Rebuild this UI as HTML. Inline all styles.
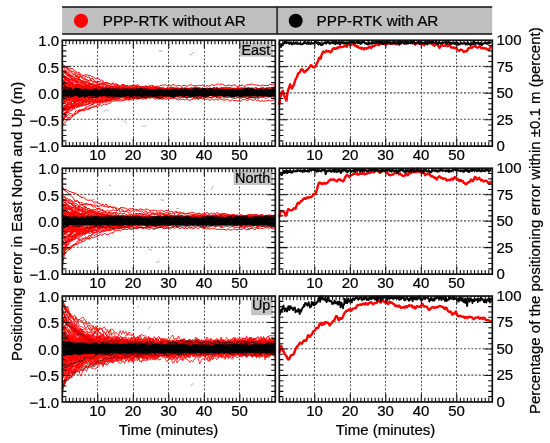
<!DOCTYPE html>
<html><head><meta charset="utf-8"><style>html,body{margin:0;padding:0;background:#fff;width:550px;height:443px;overflow:hidden}</style></head>
<body><svg width="550" height="443" viewBox="0 0 550 443" style="filter:blur(0.3px);display:block;font-family:'Liberation Sans',Arial,Helvetica,sans-serif">
<style>text{stroke:#000;stroke-width:0.22px}</style>
<rect width="550" height="443" fill="#fff"/>
<rect x="62.1" y="7" width="430.1" height="27" fill="#bfbfbf"/>
<path d="M62.1 7H492.2M62.1 34H492.2M277.1 7V34" stroke="#111" stroke-width="1.4" fill="none"/>
<circle cx="81" cy="20.8" r="7.1" fill="#ff0000"/>
<circle cx="295.7" cy="20.8" r="7" fill="#000"/>
<text x="102.8" y="26.2" font-size="15.25" fill="#000">PPP-RTK without AR</text>
<text x="316.6" y="26.2" font-size="15.25" fill="#000">PPP-RTK with AR</text>
<path d="M97.50 39.90V145.80M133.50 39.90V145.80M168.50 39.90V145.80M204.50 39.90V145.80M239.50 39.90V145.80M62.00 66.38H275.00M62.00 92.85H275.00M62.00 119.33H275.00" stroke="#505050" stroke-width="1.05" stroke-dasharray="2 1.7" fill="none"/>
<svg x="62.0" y="39.9" width="213.0" height="105.9" overflow="hidden"><g transform="translate(-62.0 -39.9)">
<path transform="translate(62.00 92.85) scale(1.4200 0.5295)" d="M0 61l1-10 1-4 1-8 1-6 1-4 1-5 1-2 1-3 1-1 1-3 1-2 1-1 1-1 1 0 1-1 1-3 1 1 1-1 1-2 1 0 1-3 1 3 1 0 1 1 1-3 1 2 1-1 1 0 1-2 1 2 1 0 1 1 1 0 1 2 1-1 1 0 1-2 1-2 1 3 1-1 1-1 1 2 1-1 1 1 1 0 1 1 1-2 1 0 1 0 1-1 1 2 1-2 1 0 1 0 1 1 1-1 1-1 1 0 1 1 1 1 1 0 1 1 1 1 1-1 1 1 1 0 1 1 1-1 1-1 1 2 1-2 1 2 1-1 1-2 1 2 1-1 1-3 1 3 1 1 1 1 1-2 1-2 1 1 1 0 1-3 1 3 1-1 1 1 1 1 1-2 1 1 1 0 1 1 1 2 1-1 1-4 1 5 1 1 1-1 1 1 1 0 1-1 1 0 1-2 1 1 1 0 1 0 1 1 1 2 1-2 1 2 1-3 1-1 1 2 1-2 1 0 1-1 1 2 1-2 1 1 1-1 1 4 1-3 1 0 1 1 1 1 1-1 1 0 1-1 1-1 1 1 1 2 1 0 1-2 1-1 1 2 1-2 1 3 1-2 1-1 1 2 1 1 1-1 1-2 1-2 1-1 1 1 1 3 1-2 1 0M0 52l1-3 1-6 1-3 1-4 1-5 1-3 1-4 1-2 1-3 1-1 1-2 1 0 1-2 1-1 1-2 1 2 1-3 1-1 1 0 1 0 1-3 1 2 1-2 1-1 1-1 1-1 1 2 1-3 1-1 1 1 1 0 1 0 1-1 1-1 1-1 1-1 1 1 1-1 1 2 1-2 1 1 1-1 1 1 1 1 1-1 1 0 1-2 1 0 1 2 1 2 1-3 1 0 1 0 1 1 1 1 1 1 1 0 1 1 1-1 1 4 1-2 1 2 1-4 1 0 1 1 1-2 1 1 1-1 1 1 1 3 1 0 1-2 1 3 1-4 1 0 1 1 1 1 1-2 1 3 1-3 1 3 1-3 1-1 1 1 1 1 1-1 1-1 1 1 1 1 1 0 1 0 1-1 1 2 1-1 1 1 1-2 1 1 1 0 1-2 1 0 1 0 1-1 1-1 1 1 1 1 1-2 1 2 1 0 1 0 1 0 1 1 1 1 1-2 1 3 1-1 1 1 1 0 1-2 1-1 1 1 1-1 1 0 1 0 1-1 1 3 1-3 1 2 1 0 1-1 1 1 1 1 1 1 1 0 1 0 1 0 1 1 1 0 1-2 1-1 1 1 1 1 1-1 1-1 1 2 1-1 1 0 1 0 1 1 1 1 1-1M0 -43l1 2 1 4 1 2 1 2 1-1 1 4 1 3 1 0 1 0 1 5 1-2 1 4 1 0 1 2 1 0 1 2 1 2 1-1 1-1 1 1 1-1 1 2 1 0 1 1 1 1 1 3 1 0 1 2 1-3 1 2 1 1 1-2 1 2 1-1 1 1 1 0 1 2 1 1 1 0 1-2 1 1 1-2 1-1 1 2 1 2 1-2 1 0 1 1 1 0 1 1 1 1 1-1 1 0 1-1 1 1 1 0 1 1 1-2 1-1 1 4 1-2 1-1 1 1 1-1 1 1 1 0 1 3 1-3 1-2 1-2 1 1 1 0 1 3 1-3 1 1 1-2 1 0 1 0 1 1 1 1 1 1 1-2 1 2 1-1 1 0 1 1 1 1 1-2 1 2 1 0 1-3 1-2 1 2 1-1 1-1 1 4 1 0 1-1 1 3 1-2 1-2 1 0 1 2 1 0 1-1 1 0 1-1 1-2 1 3 1-2 1 0 1 1 1-1 1 0 1-1 1 0 1 1 1-2 1 3 1-1 1 2 1-1 1 0 1-1 1 1 1-1 1 1 1 0 1 0 1 0 1-3 1 2 1-1 1 2 1 1 1-1 1 1 1 0 1-1 1 0 1 0 1 2 1 0 1-1 1 1 1 0 1 0 1-1 1 2 1-1M0 -10l1 0 1 0 1 2 1-2 1 1 1-1 1 0 1 1 1-2 1 2 1 0 1-2 1 0 1 0 1 0 1-1 1 2 1-1 1-1 1 0 1 1 1-1 1-1 1 2 1-2 1 2 1-1 1-1 1 0 1 0 1 1 1 1 1 0 1-1 1 0 1 1 1-1 1 0 1 0 1 1 1 1 1-2 1-2 1 2 1 0 1-2 1 2 1-1 1 1 1-2 1 0 1 0 1 2 1-2 1 4 1-2 1 0 1 2 1-2 1 1 1-2 1 0 1-1 1 0 1 2 1 0 1-1 1 2 1-3 1 0 1-1 1 1 1-2 1 3 1-1 1-1 1 3 1-4 1 1 1 2 1 0 1-1 1 0 1 2 1-2 1 0 1 0 1 2 1-2 1-1 1 0 1 1 1 1 1-1 1 1 1-1 1 0 1 0 1-1 1 2 1 1 1-2 1 1 1 0 1-2 1 0 1 1 1-1 1-1 1-1 1 2 1-2 1 1 1 1 1 2 1-1 1 0 1-1 1 2 1-1 1-1 1 0 1 3 1 0 1-1 1-1 1-1 1 3 1-1 1-2 1 0 1-1 1 0 1-1 1 2 1 0 1 0 1 1 1 0 1 1 1-2 1 1 1 0 1 0 1 1 1-3 1 0 1 1 1-1 1 1M0 3l1 0 1 1 1 0 1 2 1-3 1 1 1 1 1-1 1 2 1 0 1 0 1-2 1 2 1 0 1 1 1 0 1-2 1 0 1 2 1-2 1 0 1 0 1-1 1 2 1 1 1 0 1 0 1-1 1 0 1 0 1 3 1-1 1 1 1 0 1 1 1-1 1 0 1 1 1 1 1-2 1 0 1-2 1 1 1 1 1 2 1-1 1 1 1 0 1 1 1-3 1 2 1-1 1 2 1-1 1-1 1 1 1 1 1-1 1 0 1-1 1-1 1 2 1-3 1 1 1 1 1 2 1-2 1 2 1-1 1 0 1 2 1-3 1 2 1-1 1 0 1 0 1 0 1 0 1-1 1 1 1 1 1 2 1-2 1 0 1 0 1 1 1 0 1-2 1 3 1 0 1-1 1-1 1-1 1 1 1-1 1 2 1-2 1-1 1 2 1-2 1 2 1 0 1-1 1 4 1-3 1 0 1 2 1-2 1 0 1 2 1-3 1 1 1 1 1 1 1-1 1 0 1 0 1 2 1-1 1-1 1 2 1-1 1 1 1 0 1 1 1 0 1-4 1 1 1 0 1 1 1 0 1-2 1 0 1 2 1 0 1-2 1 3 1-2 1 2 1 1 1-2 1 2 1-1 1 0 1-1 1 0 1 1 1 0 1-2 1 1M0 -35l1 6 1 0 1-1 1 1 1 4 1 2 1-2 1 3 1 2 1-1 1 1 1-4 1 0 1 3 1 1 1 1 1 0 1 0 1 0 1 3 1 1 1 0 1 0 1-1 1 2 1 2 1 0 1 1 1 1 1 0 1-2 1 3 1 0 1 0 1-2 1 1 1-1 1 1 1 2 1-1 1 3 1-3 1 1 1 1 1 1 1-1 1 1 1 0 1 2 1-1 1 2 1-1 1-1 1 2 1-1 1 1 1 0 1 1 1 1 1-2 1 1 1 1 1-1 1 1 1 2 1-3 1 1 1 2 1-2 1 0 1-1 1 0 1 0 1 1 1 0 1 0 1 0 1-1 1 1 1 0 1 0 1 0 1 1 1 0 1 0 1 0 1 1 1-2 1 2 1-1 1 2 1 0 1-1 1 1 1-1 1 1 1 0 1-1 1-2 1 2 1-1 1 1 1 0 1 0 1 2 1-2 1 0 1 1 1-1 1 2 1-2 1 2 1 0 1-2 1 2 1-3 1 2 1 2 1-1 1-3 1 2 1 0 1 1 1 0 1 3 1-3 1-1 1 0 1-2 1 1 1 3 1-4 1-1 1 2 1 1 1 1 1-2 1 1 1 1 1 0 1 2 1-2 1 0 1 3 1-2 1 0 1-2 1 0 1-1 1 2M0 28l1-3 1 0 1-2 1 0 1-2 1-1 1-4 1 1 1 0 1-4 1 0 1-1 1 1 1 0 1-1 1-2 1 1 1 1 1-1 1 0 1-1 1-1 1 0 1 0 1 0 1-3 1 0 1-2 1 2 1-1 1 1 1 0 1-2 1 2 1-2 1 3 1 0 1-1 1-2 1 2 1 0 1 0 1-1 1 1 1-2 1 3 1-2 1-2 1 4 1-2 1 1 1 3 1-2 1-1 1 1 1 1 1-3 1 2 1-3 1 3 1-2 1-1 1 1 1 1 1 0 1-2 1 1 1 0 1-1 1 2 1-2 1 0 1 2 1-3 1-1 1 1 1-1 1 1 1 0 1 0 1-1 1 1 1 2 1-4 1 1 1 3 1-1 1-2 1 0 1-1 1 1 1 1 1 0 1 1 1-3 1 1 1-1 1 1 1-1 1-1 1 1 1 1 1 0 1 1 1-1 1-1 1-1 1 1 1-1 1 1 1 0 1 2 1-1 1 2 1-4 1-1 1 2 1 0 1 0 1 2 1-1 1 1 1 1 1-2 1-2 1-1 1 3 1 0 1 0 1 0 1-1 1 2 1-3 1 2 1 1 1-2 1 0 1-1 1 2 1 1 1-1 1-3 1 3 1-1 1-1 1 0 1 0 1-2 1 2 1 1M0 -23l1-2 1 2 1 2 1 3 1 2 1 1 1 0 1 3 1 1 1 1 1 1 1 3 1 0 1 0 1-1 1 2 1 1 1 2 1-1 1 0 1 2 1-1 1-1 1 0 1 0 1 1 1 0 1 0 1-1 1-1 1 2 1 2 1-3 1 1 1 2 1 1 1 0 1-1 1 2 1-1 1-1 1 2 1 0 1 1 1 0 1 0 1-1 1 1 1 2 1-2 1 1 1 1 1 0 1 0 1-2 1 0 1-1 1-1 1 2 1-1 1 0 1 0 1 0 1 1 1-2 1 0 1 3 1-3 1-2 1 1 1 0 1 1 1-1 1 1 1-4 1 3 1-1 1 1 1 1 1 0 1 0 1 0 1 2 1 0 1 1 1-3 1 1 1 2 1-1 1 0 1 1 1-2 1-2 1 4 1-2 1-1 1 2 1 0 1 0 1 0 1 1 1-1 1 0 1-1 1 1 1-1 1 2 1-1 1 0 1 0 1 1 1 1 1-2 1-3 1 0 1 2 1-1 1 1 1-1 1 0 1 0 1 0 1 2 1 2 1-3 1 0 1-1 1 3 1 0 1-3 1 1 1 1 1-1 1 1 1-1 1 4 1-3 1 1 1-2 1 3 1 0 1-1 1-1 1 1 1 0 1 1 1 0 1 1 1-2 1 0M0 44l1-2 1-3 1-2 1-1 1-5 1-2 1-3 1 0 1-1 1-1 1 0 1-2 1-1 1-3 1-2 1 0 1 1 1-1 1-1 1-2 1 4 1-4 1 1 1-3 1 1 1 0 1-2 1 0 1-3 1-1 1 0 1-2 1 2 1-2 1 0 1 0 1-1 1-3 1 3 1-1 1-1 1 2 1-1 1-3 1 4 1-2 1-2 1 3 1-2 1-2 1 2 1 1 1-1 1-1 1 2 1 0 1-1 1 1 1-1 1 0 1 2 1 0 1 0 1-1 1 1 1-2 1 1 1 0 1 1 1-1 1-2 1 2 1-1 1 1 1-1 1 3 1-4 1 2 1-1 1 1 1 0 1-1 1 1 1 0 1 0 1 2 1 0 1-1 1 1 1 0 1 0 1-3 1 2 1-1 1 0 1 1 1-1 1-1 1 2 1 0 1 1 1-1 1-1 1-1 1-1 1 1 1 2 1 0 1 2 1-1 1 1 1-3 1 0 1 0 1 1 1-2 1 1 1 2 1-1 1 1 1-2 1 1 1-1 1 1 1-2 1 2 1-1 1 1 1-1 1 3 1-2 1 0 1-2 1 0 1 2 1-2 1 2 1-2 1 0 1 1 1-2 1-1 1 2 1 1 1 1 1-1 1 0 1 1 1 0 1 1M0 -11l1 5 1-1 1-1 1 3 1 2 1 1 1 0 1 0 1 1 1 1 1-2 1 1 1 1 1-2 1 3 1-3 1 4 1 0 1-5 1 1 1-2 1-1 1-1 1 3 1 0 1-1 1 0 1 1 1-5 1 2 1 2 1-1 1 3 1 1 1 2 1-2 1-2 1 1 1 1 1 0 1 1 1 2 1-2 1 1 1-1 1 3 1-2 1 2 1-3 1 1 1 2 1-1 1 0 1-1 1 1 1 0 1-2 1 0 1 0 1 0 1 1 1-1 1 1 1 1 1 0 1 0 1 1 1-1 1 1 1-1 1 0 1-1 1 0 1 2 1-2 1-1 1 1 1 1 1 0 1 1 1 0 1 0 1-1 1 2 1 0 1-1 1 0 1-1 1 0 1-1 1 2 1 1 1 0 1-3 1 1 1-1 1 2 1-2 1 0 1 1 1-1 1 1 1-2 1-2 1-1 1 2 1 3 1-2 1 0 1-1 1 2 1-1 1 1 1-1 1-1 1 1 1 0 1 1 1 0 1 0 1 1 1 0 1 1 1-3 1 2 1-1 1 1 1-1 1 1 1-1 1 0 1 2 1 0 1-1 1-3 1 2 1-1 1 2 1-2 1 1 1 1 1-1 1-1 1 1 1-1 1 2 1 0 1-1 1-1 1 0M0 2l1 2 1 2 1-4 1 0 1 2 1 0 1 0 1-1 1 1 1-1 1 0 1-1 1 1 1-2 1 1 1 3 1-2 1 1 1 2 1-2 1-2 1 2 1 1 1-4 1 1 1 1 1 0 1 0 1 1 1 1 1-2 1-2 1-1 1 1 1 1 1-3 1 1 1-1 1 0 1 0 1 0 1 0 1 1 1 0 1-1 1-1 1-1 1-1 1 1 1 1 1-1 1 0 1 0 1 2 1-1 1-2 1 0 1 1 1-3 1 0 1 3 1 1 1 0 1 0 1-1 1 2 1-1 1 1 1 1 1-2 1 1 1 1 1-1 1 0 1 1 1 1 1-3 1 2 1-1 1 1 1-2 1 0 1 1 1-3 1 5 1-3 1-1 1 3 1-3 1-2 1 3 1 1 1-3 1 2 1-2 1 0 1 1 1 3 1-3 1 4 1-1 1 0 1 1 1-1 1-1 1 0 1-1 1-1 1 2 1 1 1-1 1 0 1 1 1-2 1 1 1 1 1-2 1 1 1 1 1-1 1 1 1 1 1-3 1 0 1 1 1 1 1 1 1-1 1-1 1 0 1-2 1 0 1 1 1 2 1-1 1-1 1 0 1 0 1 2 1 0 1 1 1-1 1 0 1-2 1 3 1-1 1 1 1 0 1-3 1 2M0 -40l1 4 1-2 1 4 1 1 1 2 1 2 1-2 1 1 1 2 1 1 1 2 1-1 1 3 1 2 1-1 1 0 1 1 1 1 1 1 1 1 1 1 1 3 1 0 1-1 1 1 1 0 1 1 1 3 1-1 1 2 1-3 1 2 1 1 1 3 1-2 1 2 1 1 1 0 1 0 1 0 1-1 1 1 1 0 1-1 1 2 1-2 1 2 1 0 1-2 1 0 1 2 1-2 1 0 1 3 1-3 1 3 1-2 1 2 1 1 1 0 1-1 1 2 1 2 1 0 1-1 1 0 1 2 1 0 1 0 1 2 1-2 1 2 1-1 1 0 1 2 1-3 1 3 1-2 1 2 1-2 1 1 1 1 1-2 1 2 1-1 1-1 1 1 1 0 1-1 1 1 1-1 1 0 1 0 1 0 1 0 1 1 1 0 1 0 1 0 1-2 1 2 1-1 1-1 1 2 1 0 1-2 1 0 1-1 1 1 1-1 1 1 1 3 1-3 1 1 1 0 1 1 1-2 1 1 1-1 1-1 1 2 1-2 1 0 1 1 1 0 1 1 1-1 1 0 1-1 1 1 1-2 1 1 1-2 1 1 1 0 1 0 1 1 1 1 1 0 1-1 1-1 1 0 1-1 1 2 1-1 1-1 1 1 1 2 1-1 1-2M0 -33l1 0 1 4 1 3 1 2 1 5 1 1 1 0 1 4 1-1 1 3 1-1 1 1 1-1 1 2 1 1 1 1 1 2 1 1 1 0 1 2 1 1 1 1 1-1 1 0 1 0 1 0 1 0 1 1 1-1 1 2 1 0 1-2 1 0 1 2 1-2 1 2 1-2 1 1 1 0 1 2 1 0 1 0 1 1 1 1 1-1 1 0 1 1 1 1 1-1 1 0 1-2 1 1 1-2 1 0 1 2 1 1 1-1 1 1 1-2 1 2 1-1 1 0 1 0 1 1 1 0 1 0 1-2 1-1 1 0 1 0 1 1 1 0 1-2 1 0 1-2 1-2 1 2 1 1 1 1 1-1 1 0 1 1 1 1 1 0 1-3 1 2 1 2 1-3 1 3 1-1 1-1 1 1 1 3 1-1 1 0 1-1 1-1 1 2 1 0 1 0 1-1 1 2 1-2 1-2 1 2 1 0 1 0 1 0 1 0 1 2 1-2 1 1 1 0 1 0 1-1 1 4 1-2 1 1 1 0 1-1 1-1 1 0 1 1 1-2 1 0 1 1 1-2 1 0 1 1 1 0 1-1 1 2 1 1 1-2 1-1 1 1 1 0 1 0 1-1 1 1 1 1 1-2 1 1 1 0 1 1 1 0 1 0 1-1 1-1 1 0M0 12l1-1 1 0 1 1 1-3 1 1 1 1 1-2 1-2 1 2 1-2 1-3 1 2 1 1 1-2 1 2 1-2 1-1 1 5 1-3 1-1 1 0 1-1 1 1 1-2 1 1 1 1 1 0 1 1 1 0 1-3 1 1 1-1 1 0 1 1 1 0 1-1 1 0 1 0 1 2 1-1 1 1 1 2 1-2 1-3 1 3 1 1 1-3 1 4 1-3 1 0 1 1 1 1 1-3 1-1 1 3 1-1 1-1 1-1 1 2 1-1 1 2 1 0 1-1 1-1 1 1 1 1 1-1 1 0 1 0 1 1 1-2 1 2 1-1 1 0 1 0 1 1 1 0 1-1 1 0 1 1 1 0 1-1 1 0 1 1 1 0 1 1 1-1 1-2 1 1 1-1 1 1 1-1 1 0 1-1 1-1 1 0 1 1 1-1 1 0 1 1 1-1 1-1 1 1 1 0 1 1 1 1 1 0 1-1 1 0 1-1 1 2 1 0 1 2 1-3 1-2 1 3 1 1 1-2 1-1 1 1 1 0 1-2 1 2 1 2 1-2 1-1 1-1 1 2 1 0 1 1 1 0 1-1 1 3 1-3 1 0 1 1 1-2 1 2 1 2 1-3 1 1 1 0 1-1 1 1 1-1 1 2 1 0 1-2 1 3 1 0M0 1l1 1 1-1 1 0 1-2 1-1 1 0 1-3 1-1 1 3 1-2 1 0 1-1 1-2 1 1 1 0 1-1 1-1 1 2 1-2 1 0 1 2 1 0 1 0 1-1 1 2 1-2 1-2 1 2 1 1 1-3 1 2 1 0 1 1 1-1 1 0 1-1 1 1 1 3 1-2 1 1 1 0 1-1 1 0 1 1 1 1 1-1 1 0 1 0 1 1 1-1 1-2 1 0 1-3 1 3 1 0 1 1 1 0 1-2 1 2 1-1 1 0 1-1 1 0 1 1 1-1 1 1 1 0 1 0 1-1 1 0 1 1 1 0 1 1 1-2 1 1 1-1 1 0 1-1 1 0 1 2 1-1 1 0 1 1 1 0 1 0 1 0 1-3 1 4 1-2 1 2 1-1 1-1 1 0 1 0 1-1 1 2 1-2 1 2 1-1 1 2 1-1 1 1 1 0 1-3 1 2 1 1 1 1 1 0 1 0 1-1 1 1 1 0 1-1 1 1 1 0 1-1 1 1 1 1 1 0 1 1 1-3 1 1 1 0 1 2 1 0 1-2 1 0 1 0 1 1 1-1 1 0 1 1 1-1 1 1 1 0 1-1 1-1 1 0 1 1 1 0 1-3 1 3 1 0 1 0 1-2 1 1 1 1 1 0 1-1 1 2M0 -34l1 0 1 2 1 6 1 2 1 0 1 4 1 4 1 0 1 2 1 1 1 0 1 3 1 0 1 4 1-1 1-1 1 0 1 0 1 1 1 1 1 2 1-1 1 2 1 0 1 1 1-3 1 2 1 1 1 0 1 0 1-4 1 2 1-1 1 2 1 0 1 2 1-3 1 2 1 0 1 1 1-2 1 1 1-2 1 1 1 2 1-2 1 3 1 0 1-1 1-2 1 2 1 0 1 0 1-1 1 1 1-3 1 1 1 0 1-1 1 1 1-2 1 0 1 0 1 2 1 2 1-3 1 0 1-1 1-1 1 1 1 2 1-1 1-1 1 1 1-1 1 2 1-1 1 1 1 3 1-1 1-1 1-1 1 2 1-1 1 0 1 0 1 1 1 0 1-1 1 1 1 1 1-2 1 2 1-1 1 0 1 1 1 0 1-2 1 2 1 2 1 0 1-2 1 2 1-2 1 1 1-1 1 1 1-2 1 3 1-2 1-1 1 0 1 0 1 0 1 0 1 1 1-1 1 1 1 0 1-1 1 0 1 1 1 1 1-1 1 2 1-1 1 2 1-3 1 0 1 2 1-3 1 0 1 1 1 0 1 0 1 0 1 1 1-1 1 1 1 1 1-2 1 0 1-1 1 2 1 0 1-1 1-1 1 3 1-1 1-2M0 -4l1 1 1 0 1 2 1-1 1 1 1 0 1 1 1-4 1 4 1-1 1-1 1 1 1 1 1-2 1 3 1 2 1-1 1 0 1 2 1-2 1-1 1 2 1 0 1 0 1-2 1 3 1 0 1 1 1-2 1 0 1 0 1 1 1-2 1 2 1 0 1 0 1 1 1-2 1 1 1 0 1-1 1-1 1 1 1 0 1-2 1 2 1-2 1 2 1 0 1 0 1 2 1-1 1-1 1 0 1 0 1 1 1-1 1 0 1-2 1 1 1-1 1 0 1-1 1 1 1-1 1-3 1 3 1 1 1-2 1 1 1 0 1 0 1-1 1 3 1-2 1 3 1 0 1-3 1 3 1-3 1 1 1-1 1 0 1 3 1 1 1-2 1 1 1-1 1-1 1 0 1 1 1-3 1 0 1 1 1-1 1 0 1 1 1 2 1-1 1-2 1 2 1-2 1 2 1 2 1-1 1-1 1-2 1 1 1 1 1-1 1 1 1 0 1 0 1-1 1 2 1-1 1 1 1 1 1-2 1 0 1-1 1 1 1-2 1 3 1-3 1 0 1 4 1 1 1-1 1-2 1 2 1-1 1 0 1 0 1-1 1 0 1 0 1 1 1-1 1 0 1 0 1-1 1 0 1 0 1-1 1-1 1 2 1 1 1-3 1 1M0 -16l1-3 1 2 1-1 1 0 1 4 1 0 1-3 1 4 1-2 1 1 1 0 1 1 1-1 1 0 1 3 1-1 1 1 1 2 1 0 1 0 1 1 1-1 1 3 1-3 1 1 1 0 1 1 1-2 1 3 1-2 1 4 1-2 1 0 1 2 1 0 1-2 1 2 1 1 1-3 1 0 1 1 1 1 1 0 1 2 1 2 1 1 1-2 1 1 1-1 1 0 1 0 1 2 1-2 1 2 1-1 1-1 1 1 1 3 1-3 1-1 1 2 1 0 1-2 1 2 1-1 1-2 1 0 1 2 1 0 1 1 1-3 1 2 1 2 1 0 1-2 1-1 1 1 1 0 1 3 1-3 1 1 1 0 1-2 1 0 1 0 1 0 1 0 1-3 1 4 1-1 1 1 1 2 1-3 1 1 1 2 1-3 1-1 1 1 1-2 1 3 1 1 1-1 1 0 1-1 1 2 1-1 1 2 1-1 1-2 1 2 1 1 1-2 1 2 1 1 1-1 1 1 1 1 1-2 1-1 1 0 1 0 1-1 1 1 1 1 1 1 1 0 1-3 1 1 1 3 1-3 1 0 1 0 1-2 1 2 1 0 1-2 1 0 1 1 1 1 1 0 1-1 1 2 1-1 1 3 1-2 1-1 1 1 1 0 1-3 1 2M0 -11l1 0 1 2 1 0 1 1 1 1 1 3 1-5 1 3 1 0 1 1 1 0 1-1 1 2 1-1 1 3 1 0 1 0 1-1 1-1 1 4 1-3 1-2 1 4 1 0 1 1 1 1 1 0 1-2 1 3 1-4 1 3 1-3 1 2 1 1 1-2 1-2 1 2 1-1 1 0 1-1 1 0 1 3 1-1 1 0 1 1 1 0 1-2 1 0 1 0 1 1 1 2 1-2 1 0 1 0 1 0 1 2 1 1 1-1 1 0 1-1 1 0 1 1 1-2 1 1 1 0 1-1 1 0 1 1 1 2 1-3 1 3 1 0 1-3 1-1 1 0 1 3 1-3 1 3 1 2 1-1 1 2 1-4 1 2 1-2 1 1 1 0 1 2 1-1 1-1 1 2 1-1 1-3 1 2 1-1 1 3 1-1 1 0 1 0 1-2 1 4 1-3 1 1 1 0 1-2 1-1 1 2 1 0 1-2 1 0 1 1 1-1 1 1 1 2 1-2 1 0 1 1 1 0 1 1 1-1 1 0 1 1 1 0 1 1 1-2 1 1 1 0 1-1 1-1 1 1 1 1 1-3 1-1 1 1 1 1 1-1 1 3 1-3 1-1 1 2 1-1 1 0 1 0 1 1 1 3 1-3 1 0 1-2 1 0 1 0 1 0M0 -54l1 1 1 2 1 2 1 1 1 2 1 0 1 0 1 2 1 2 1 2 1 2 1-1 1 4 1 1 1 1 1 2 1 0 1 2 1-1 1 4 1-1 1 1 1 4 1 3 1 0 1 0 1 3 1 0 1 0 1 1 1 0 1 2 1-1 1 1 1 2 1 1 1 2 1 0 1 0 1 3 1-1 1 1 1 2 1-4 1 0 1 3 1 0 1 1 1-2 1-1 1 0 1 2 1 0 1 1 1 0 1 0 1 2 1 1 1-2 1 1 1-3 1 2 1-3 1 1 1 2 1 0 1-3 1 1 1 0 1 0 1 3 1-2 1 1 1 0 1-1 1 1 1 1 1-1 1-2 1 3 1 0 1-1 1 1 1 0 1-1 1 0 1 1 1-1 1 0 1 3 1-1 1-1 1 2 1 0 1 0 1-2 1 2 1-1 1 0 1 0 1 0 1 0 1-1 1 2 1-1 1 0 1 1 1-4 1 2 1 0 1 0 1 2 1 0 1-1 1 0 1-1 1 0 1-1 1 2 1 0 1 0 1 0 1 0 1 3 1-2 1 0 1 0 1 3 1-2 1 1 1 0 1-1 1 1 1-3 1 1 1 0 1 1 1 0 1-3 1 3 1 1 1-1 1 0 1 1 1-1 1 0 1 1 1-1 1 0 1 1M0 4l1 1 1-1 1-2 1 0 1 1 1 0 1 0 1 0 1 3 1-1 1 0 1 2 1 0 1-1 1 0 1 1 1 1 1-1 1-3 1 3 1-1 1 0 1-4 1 4 1-3 1 2 1 0 1-1 1 2 1-2 1 1 1-3 1 0 1 1 1 1 1-1 1-1 1 2 1-1 1 0 1-1 1 0 1 0 1 1 1-1 1-2 1 2 1 1 1-3 1 4 1-1 1 0 1 2 1-1 1 0 1-2 1 2 1 0 1 1 1 1 1-2 1 2 1 0 1-2 1-1 1-1 1 1 1 1 1 1 1-3 1 1 1 1 1 0 1-1 1 3 1-3 1-2 1 1 1 0 1-1 1 0 1 1 1 0 1 1 1-1 1-1 1 1 1 1 1-2 1 0 1 0 1-1 1 1 1 0 1 1 1-1 1 3 1-3 1 1 1 1 1-2 1 0 1 2 1-3 1 1 1 1 1-1 1-2 1 2 1 1 1-1 1-1 1 2 1 2 1-2 1 1 1 0 1 0 1 1 1-2 1-1 1 2 1 0 1-1 1 0 1 1 1 0 1-2 1 1 1-1 1 0 1 1 1-2 1 3 1-1 1-1 1 1 1-2 1 0 1 0 1 0 1 0 1 2 1 2 1-1 1 0 1 0 1 0 1 1 1-1M0 3l1 0 1 2 1-3 1 2 1-3 1 0 1 3 1 0 1-2 1 2 1 1 1-1 1-2 1-3 1 2 1 1 1 0 1-1 1 0 1 0 1 2 1 0 1 2 1 2 1-2 1-3 1 3 1 0 1 0 1-1 1-1 1-1 1 0 1 0 1-1 1 0 1 0 1 1 1-3 1 1 1 0 1-1 1 2 1 2 1-2 1 0 1 2 1-3 1-1 1 1 1-1 1-1 1 3 1-2 1 2 1-3 1-1 1 1 1 4 1-4 1 1 1 2 1-2 1-1 1-2 1 2 1-1 1 1 1 1 1 2 1-3 1 3 1 0 1 0 1-2 1 0 1-1 1 3 1 0 1-2 1 0 1 1 1-1 1-3 1 3 1-2 1 0 1 1 1-1 1 2 1 0 1 0 1 0 1 0 1 0 1 2 1-2 1 2 1-1 1 0 1-3 1 2 1-1 1 2 1-2 1 5 1-4 1 3 1-1 1-1 1 1 1-1 1-1 1 0 1-1 1-1 1 1 1 0 1 1 1-1 1 0 1 1 1-2 1 3 1-2 1 1 1-1 1 1 1-1 1 1 1 1 1 1 1 0 1-3 1 4 1-3 1 0 1 2 1 0 1-1 1-1 1 0 1 2 1-1 1 0 1 0 1 0 1-1 1 2 1-5M0 -17l1 0 1 2 1 0 1-1 1 2 1 2 1 1 1 0 1 1 1-1 1 1 1 3 1-4 1 2 1 0 1-2 1 0 1 0 1 0 1 1 1 1 1 1 1 0 1 2 1 0 1-1 1 2 1-2 1 3 1 0 1 0 1 2 1 0 1-1 1 0 1-1 1 3 1-2 1 2 1 0 1 0 1-1 1 1 1 2 1-4 1 3 1-2 1 1 1 0 1 1 1 1 1-1 1-1 1 3 1-1 1 0 1-1 1-4 1 4 1-1 1 2 1 1 1-2 1 1 1 0 1 0 1-1 1 2 1-3 1 2 1-1 1 0 1 0 1-2 1 2 1-1 1 2 1 0 1-2 1 2 1 1 1-2 1-2 1 0 1 2 1 1 1 0 1 3 1-3 1 2 1 2 1-2 1-1 1 3 1 1 1 0 1-2 1 1 1 0 1-1 1-1 1 1 1-1 1 2 1-1 1-1 1 2 1-2 1 2 1-2 1 0 1 0 1-2 1 3 1-1 1-1 1-1 1 1 1-1 1 0 1 2 1-1 1-1 1 2 1-2 1 3 1-1 1 2 1-1 1-1 1 0 1 1 1 0 1 0 1-1 1-1 1-1 1 1 1 4 1-5 1 3 1 0 1 1 1-2 1 2 1-1 1-2 1 0 1 0 1-1M0 48l1 0 1-4 1 0 1 4 1-1 1-3 1-1 1 0 1-4 1 0 1-3 1-1 1 0 1-4 1 1 1-1 1-2 1 3 1-4 1 2 1-4 1 2 1-2 1-1 1 2 1-3 1-1 1 2 1-3 1-1 1 1 1-1 1-2 1 1 1-4 1-1 1 1 1-2 1 0 1-3 1 2 1-1 1 3 1-4 1 2 1 0 1 0 1 0 1 0 1-2 1-1 1 1 1-1 1-1 1 1 1-1 1-1 1 1 1 0 1 0 1-1 1-2 1 4 1-4 1 1 1-2 1 0 1-1 1 0 1 1 1 1 1 1 1-3 1-2 1 0 1 2 1-2 1-1 1 2 1 1 1-3 1 2 1 0 1-1 1 3 1-2 1 0 1 0 1-1 1-2 1 0 1-1 1 0 1 2 1-1 1 1 1-2 1 0 1 1 1-1 1 0 1-1 1 2 1-2 1-1 1 4 1-2 1 2 1-2 1 2 1-2 1 0 1-1 1 3 1-2 1-2 1 0 1 0 1 0 1 1 1 0 1-1 1 2 1 0 1-1 1 0 1 0 1-1 1 2 1 0 1 0 1 1 1-3 1 1 1 0 1-3 1-1 1 2 1 0 1 0 1 0 1 0 1 0 1 0 1 0 1-1 1-1 1 2 1 0 1-1M0 0l1-1 1 1 1 0 1 1 1 3 1-2 1-1 1 0 1 2 1 1 1 1 1-3 1 2 1-3 1 2 1-3 1 2 1 0 1 0 1-1 1-1 1 1 1-1 1 0 1 0 1 1 1 3 1-2 1 0 1 2 1-2 1 0 1 0 1-1 1 3 1-2 1 0 1-1 1-1 1 1 1 0 1-2 1 1 1 2 1-1 1-2 1 0 1 0 1 1 1-1 1-1 1-1 1 4 1-4 1 0 1 0 1 1 1 1 1-2 1-1 1 0 1 3 1-4 1 2 1 0 1-1 1 1 1-1 1-1 1 0 1 1 1 0 1-1 1 0 1-1 1 2 1-1 1-1 1 2 1 0 1-1 1 2 1 0 1-2 1 1 1 0 1 1 1 0 1 1 1-1 1 2 1-2 1-1 1 0 1 2 1 0 1-2 1 0 1 1 1-1 1 1 1 1 1 0 1 2 1-3 1 1 1 1 1 1 1-1 1-1 1 0 1 2 1-3 1 2 1 0 1 0 1 0 1-1 1 4 1-4 1 3 1-1 1-3 1 2 1-1 1-1 1 1 1 0 1-1 1 1 1-1 1 5 1-3 1 0 1-1 1 1 1-1 1 0 1 1 1 1 1-3 1 0 1 2 1 2 1-1 1-2 1-1 1 3 1 1 1 1M0 -34l1 1 1 3 1 2 1 2 1 0 1 2 1 0 1 0 1 0 1 1 1 4 1 1 1-2 1 0 1 2 1 2 1 0 1 3 1 2 1-1 1 1 1 2 1 0 1 2 1-3 1-2 1 3 1-2 1 2 1 0 1 1 1 2 1-2 1-1 1 2 1-1 1 1 1 0 1 1 1 0 1 2 1-2 1 0 1 1 1-4 1 2 1 1 1-1 1 2 1 0 1 0 1 0 1-1 1 0 1 3 1-1 1 1 1-1 1 0 1 0 1 0 1 2 1 2 1-1 1-1 1 1 1 1 1-1 1 1 1 2 1-5 1 4 1-1 1 0 1-1 1 2 1-3 1 3 1-2 1 1 1 0 1 2 1-2 1 1 1-2 1 1 1 2 1-3 1 1 1 1 1-4 1 4 1-1 1 2 1 1 1-1 1 0 1 2 1-1 1-1 1 2 1 2 1-2 1 0 1-3 1 1 1 1 1-2 1 1 1 0 1-4 1 3 1 0 1-1 1-1 1 0 1 2 1 0 1-1 1-2 1 4 1-1 1 0 1 2 1-2 1 1 1-1 1 1 1 0 1 0 1 1 1-2 1 1 1 0 1-1 1 0 1 2 1-1 1 0 1 1 1 1 1-1 1-2 1 2 1 0 1 1 1-2 1 1 1-1 1 0M0 9l1 0 1-1 1-1 1 0 1-2 1 1 1 1 1-1 1 4 1-4 1-1 1 0 1-1 1-2 1 1 1 1 1-1 1-2 1 3 1 0 1-1 1-2 1 0 1-2 1 1 1 0 1 1 1 0 1-2 1 1 1 0 1 2 1-1 1 0 1 1 1 2 1-4 1 1 1-1 1 1 1-1 1 3 1-2 1 2 1-2 1 0 1-1 1 0 1-1 1 2 1-1 1-1 1 0 1 3 1-4 1 1 1 2 1 2 1-4 1 2 1-2 1 0 1 1 1 2 1-1 1-1 1-2 1 3 1 2 1 0 1-3 1 2 1 0 1-4 1 2 1 0 1 0 1-3 1 1 1 0 1 2 1 0 1 0 1-2 1 1 1 1 1 0 1 2 1 1 1-1 1 0 1 0 1 0 1 0 1 0 1-1 1-1 1 0 1 1 1 0 1 0 1-1 1-1 1 1 1-2 1 1 1-1 1 1 1 1 1 1 1-3 1 4 1-1 1-1 1 0 1 2 1-2 1-1 1 2 1 2 1-3 1 2 1-1 1-3 1 4 1-2 1 2 1-3 1 1 1 1 1-3 1 3 1 0 1 0 1-1 1 0 1 0 1 1 1 0 1 2 1-1 1-1 1 1 1-2 1 2 1-2 1 0 1-1 1 1 1 2M0 -12l1 1 1-2 1 0 1 1 1 2 1 2 1-3 1 1 1-1 1-1 1 5 1-1 1-3 1 2 1-2 1 2 1 1 1 2 1 2 1-2 1 0 1 1 1 2 1-2 1 1 1 1 1 1 1-4 1 3 1 1 1 0 1-2 1 0 1-2 1 6 1-1 1-1 1-2 1 1 1-1 1 0 1 0 1 0 1 2 1-1 1 2 1 1 1-1 1 0 1-2 1 2 1-3 1 1 1 1 1 1 1-2 1-1 1 1 1-1 1 0 1 0 1-1 1 2 1-1 1 0 1-2 1 2 1-1 1 1 1 0 1 1 1 1 1-2 1-2 1-1 1 0 1 1 1 2 1-1 1 1 1-1 1 1 1 1 1 0 1 0 1 2 1-2 1 2 1 0 1-1 1 1 1 0 1 1 1-1 1 1 1-2 1-1 1 2 1-2 1-1 1 0 1 1 1 1 1 0 1-1 1 1 1 0 1-1 1 0 1 0 1-1 1 1 1-1 1 0 1 0 1-2 1 3 1 3 1-3 1 1 1-3 1 2 1 0 1 0 1 0 1 1 1-1 1 1 1 0 1 0 1 1 1-1 1-2 1 4 1 1 1-2 1-1 1-1 1 1 1 0 1 1 1-1 1 2 1-3 1 1 1 0 1-1 1 1 1-1 1 4M0 11l1 1 1-2 1-3 1 1 1-1 1-3 1-1 1 1 1-1 1-1 1-1 1 0 1-1 1 0 1 1 1-4 1 1 1 1 1 0 1-2 1 1 1-2 1 0 1 0 1 1 1 1 1 0 1-1 1 2 1 0 1-2 1 3 1-2 1-1 1 0 1-2 1-1 1 2 1 1 1-3 1 1 1-2 1 2 1 1 1 0 1 0 1-1 1 1 1-1 1 3 1-3 1 0 1 1 1 1 1-3 1 1 1 0 1-2 1 2 1 0 1 0 1 0 1 1 1-1 1 1 1 1 1-2 1 0 1-1 1 0 1 1 1 0 1-1 1 0 1 1 1 1 1-3 1 3 1 0 1 1 1-2 1 2 1-2 1 0 1 0 1 3 1-2 1-1 1 1 1 0 1-2 1 1 1-4 1 2 1 1 1 1 1-1 1 2 1-2 1 2 1 1 1 0 1 0 1 1 1-3 1 0 1 1 1-2 1 1 1 1 1-1 1 1 1-1 1 1 1 0 1 1 1 2 1-4 1 3 1-1 1-2 1 2 1 0 1-3 1 2 1 0 1 0 1 1 1-2 1 2 1 0 1-2 1 0 1 1 1 0 1-1 1 0 1 0 1 0 1-1 1 0 1 2 1 0 1-2 1 0 1 3 1-1 1-1 1 1 1-1M0 -51l1 2 1-1 1 3 1 1 1 4 1-1 1 4 1-2 1 4 1-1 1 5 1-3 1 4 1 1 1-1 1-2 1 0 1 0 1 2 1-1 1 3 1 0 1 2 1 1 1-1 1 2 1 2 1 0 1 2 1 4 1-2 1 1 1 1 1 2 1-1 1-2 1 5 1-1 1 0 1 2 1 2 1 1 1-3 1 4 1-1 1 0 1 2 1-2 1 2 1 0 1-1 1-2 1 2 1 1 1-1 1 2 1-1 1 0 1 2 1-3 1 2 1 0 1 1 1-1 1 3 1-2 1 0 1 1 1 0 1 3 1 0 1-1 1 0 1 0 1 0 1 2 1 1 1-2 1 0 1-1 1 1 1-1 1-2 1 3 1 1 1-1 1 0 1-1 1-2 1 0 1 2 1 1 1 0 1-1 1 0 1 1 1-2 1 1 1 2 1-1 1 0 1 2 1 0 1-1 1 0 1 1 1-1 1 0 1 1 1 0 1-1 1 2 1 0 1-4 1 4 1-2 1 1 1 1 1-2 1 4 1-2 1-1 1 1 1-1 1 0 1 1 1 0 1 0 1 2 1-1 1-3 1 1 1 1 1 0 1 0 1 0 1-2 1 1 1 1 1 0 1 2 1-1 1-1 1 2 1-3 1 1 1-1 1 2 1 0 1 2M0 26l1 1 1-1 1 0 1-2 1 2 1-2 1 1 1 0 1-2 1-2 1 0 1 1 1-2 1-2 1-3 1 0 1 0 1 1 1 1 1-1 1 0 1 0 1 0 1-1 1 1 1-2 1 1 1 0 1-1 1 0 1-1 1 0 1-1 1 0 1 0 1-3 1 2 1-2 1 1 1 0 1-3 1 0 1-1 1 0 1 1 1-1 1 1 1-1 1 1 1-1 1 2 1-1 1 0 1-1 1 3 1 2 1-3 1 1 1 0 1 0 1-2 1 2 1-2 1-1 1-2 1 2 1 1 1-4 1 3 1 0 1-1 1-1 1 1 1-2 1-1 1 3 1-2 1 2 1 0 1-1 1-2 1 2 1 1 1 0 1-2 1 0 1 3 1 0 1-2 1-3 1 2 1 0 1-1 1 1 1 1 1-2 1 0 1 0 1-1 1 2 1 1 1-2 1 1 1 0 1 1 1-1 1 0 1 0 1-1 1 0 1-2 1 1 1 1 1-2 1 1 1 1 1-1 1 1 1-1 1-1 1 2 1-1 1-2 1 0 1 3 1 1 1-1 1 1 1-2 1 1 1 0 1 0 1 0 1 1 1 2 1-1 1 1 1 0 1-1 1 0 1 0 1 1 1 1 1-2 1 0 1 1 1 0 1-1 1-1 1 1M0 29l1 0 1-1 1-2 1-5 1 2 1-4 1-2 1-2 1 0 1 0 1-3 1 0 1-1 1 0 1-1 1-2 1 4 1-3 1 1 1-3 1-2 1-1 1 0 1 1 1-2 1-2 1 1 1-1 1 0 1 0 1 1 1-3 1 2 1-3 1 0 1 1 1-1 1-3 1 0 1 1 1 0 1 0 1 2 1 0 1 1 1-1 1 1 1 0 1-1 1 0 1 0 1 0 1 2 1 1 1-1 1 1 1-1 1 0 1 0 1-2 1 0 1 1 1 0 1-2 1 0 1-1 1 1 1 2 1 0 1-1 1 0 1 0 1 1 1-1 1 1 1 0 1-1 1 1 1-3 1 1 1 1 1 1 1 0 1 0 1-2 1 3 1-2 1 2 1-2 1 2 1-1 1-2 1 2 1-3 1 0 1 0 1 0 1-1 1 0 1-1 1 2 1 0 1-1 1 1 1 0 1 0 1-1 1 1 1 0 1 1 1 0 1-1 1 0 1 1 1 0 1 0 1 1 1-1 1 2 1-1 1 0 1-2 1 1 1-1 1 2 1-2 1 2 1-1 1 2 1-1 1 0 1-3 1 3 1 1 1-3 1 3 1-2 1-2 1 2 1 0 1 1 1 0 1-2 1 3 1-3 1 2 1 0 1-2 1 2 1 0M0 31l1-1 1-3 1 4 1-3 1-1 1-1 1-2 1 2 1-4 1-1 1 0 1-3 1-1 1 1 1-1 1 0 1-1 1 0 1-4 1 1 1 2 1-1 1 1 1-1 1 0 1 1 1-2 1-1 1-2 1 0 1-1 1-2 1 2 1-1 1 2 1-4 1 3 1 0 1-1 1 0 1 1 1-2 1-1 1 0 1 0 1 0 1-1 1 1 1 0 1-2 1 1 1 0 1 0 1-2 1 1 1 0 1 1 1-1 1 2 1-2 1 2 1 0 1 0 1-3 1 2 1 0 1 0 1-2 1 2 1 0 1 1 1-1 1-1 1 4 1-3 1 2 1-4 1 3 1 0 1 1 1-4 1 1 1-1 1-1 1 3 1-2 1-1 1 1 1 0 1 0 1 0 1-1 1-1 1 1 1-2 1 4 1 0 1 0 1-1 1 3 1-2 1 0 1-1 1-1 1-1 1 2 1-2 1 1 1 1 1 1 1-2 1-2 1 4 1 0 1-1 1-2 1 2 1 0 1 1 1 0 1-1 1 0 1 2 1-3 1 2 1 1 1-2 1 2 1-1 1-1 1-1 1 2 1-1 1 1 1-1 1-1 1 0 1 1 1-3 1 2 1-1 1 1 1 2 1-1 1 1 1 0 1-3 1 2 1-1 1 1M0 -3l1 1 1-4 1 0 1 1 1 2 1-2 1 0 1 3 1 0 1 1 1 0 1 0 1-2 1 0 1 1 1-1 1 2 1 0 1-2 1 1 1 0 1 1 1 0 1 1 1-1 1 1 1 0 1 0 1 2 1-2 1-1 1-1 1 0 1 2 1-1 1-2 1 3 1-1 1 3 1-4 1 1 1-2 1-1 1 0 1 2 1 1 1-1 1 0 1 1 1-2 1-1 1 3 1-1 1 1 1-1 1-1 1 1 1 0 1-1 1 3 1-2 1-2 1 2 1 0 1-1 1 0 1 2 1-1 1-1 1 0 1 3 1-2 1 1 1-2 1 3 1-2 1 1 1-2 1-1 1 2 1-1 1 1 1 0 1 0 1 1 1 0 1 0 1 0 1 1 1-1 1-2 1 1 1-1 1-2 1 4 1-1 1-1 1 0 1 2 1 0 1 1 1-3 1-1 1 3 1-2 1 2 1-1 1 0 1-1 1 5 1-3 1 0 1-2 1 1 1 1 1 1 1 2 1-4 1 2 1 0 1 0 1-2 1 3 1-1 1 2 1-2 1 2 1-1 1 1 1-1 1 0 1-1 1-1 1-1 1 2 1 2 1-1 1 0 1 0 1-3 1 0 1-1 1 4 1-4 1 1 1 1 1-1 1 1 1 2 1-2M0 -21l1 2 1 1 1 1 1 1 1 0 1-1 1 2 1-2 1 4 1 0 1-1 1 2 1 0 1 4 1 1 1 0 1 1 1 1 1-1 1 0 1 2 1-1 1 1 1 1 1-1 1-2 1 1 1 0 1 1 1-1 1-2 1-1 1 1 1-1 1-1 1 0 1 1 1 3 1 0 1-2 1 4 1-4 1 3 1 1 1-2 1 3 1-4 1 1 1 0 1 0 1 0 1-1 1 1 1 0 1-1 1 1 1-2 1 3 1 1 1 2 1-2 1 1 1 1 1 1 1 1 1-2 1 2 1-2 1 1 1-2 1-1 1-1 1 1 1 1 1 0 1 0 1-1 1 2 1 0 1 1 1 1 1-2 1 0 1-1 1-1 1 3 1 0 1-1 1-1 1 1 1-1 1 0 1 2 1-3 1 1 1 1 1-1 1-1 1 2 1 0 1 0 1-2 1 0 1 1 1 1 1 0 1 0 1-3 1 3 1 0 1-1 1 1 1-1 1-1 1 2 1-2 1 1 1 0 1-1 1 0 1 1 1 0 1 0 1 0 1 0 1 0 1-2 1 0 1 0 1 0 1 0 1-1 1 0 1 0 1 1 1 1 1 0 1-1 1-1 1 3 1 0 1-1 1-1 1 0 1 1 1 2 1-2 1 1 1-1 1 1M0 -1l1-1 1 2 1 3 1-4 1 2 1 2 1-1 1 0 1 0 1 0 1 0 1 2 1-2 1 1 1-1 1 1 1 1 1 0 1 1 1-2 1 0 1-1 1 2 1-1 1 0 1-2 1 0 1 0 1 3 1-3 1 3 1-2 1-3 1 3 1 1 1 1 1-1 1-2 1-1 1 1 1 0 1 1 1 2 1-2 1-2 1 2 1-1 1-1 1 1 1 2 1-2 1 2 1-3 1 0 1 0 1 2 1-3 1 0 1-1 1 3 1 0 1-1 1-1 1 2 1-3 1 2 1-2 1 2 1 2 1-2 1 0 1 2 1-1 1 0 1-2 1 0 1-2 1 2 1 0 1-1 1 3 1-2 1 1 1-1 1 0 1 0 1 1 1 0 1-1 1 1 1 1 1 1 1 0 1-1 1 1 1-1 1 0 1-1 1 0 1 1 1-2 1 0 1 1 1 0 1 0 1-1 1 1 1-1 1 1 1-3 1 0 1 2 1 0 1 2 1 0 1-2 1 1 1 0 1-1 1 3 1-1 1 0 1 0 1-3 1 3 1-1 1 1 1 0 1-2 1 1 1 0 1 0 1 0 1 0 1 0 1 0 1 0 1-1 1 0 1 2 1 0 1 0 1 0 1 0 1 1 1-2 1-1 1 2 1 0 1 1M0 -13l1 1 1 3 1 0 1 2 1-2 1 0 1 1 1 0 1 1 1-3 1 2 1-1 1-1 1-1 1 1 1 0 1 2 1-1 1 1 1-1 1 0 1 0 1 0 1 1 1-1 1 1 1 2 1-3 1 1 1 1 1-1 1 0 1-1 1-2 1 2 1-1 1 1 1-1 1 2 1 0 1 0 1 0 1-2 1 1 1 1 1-1 1 2 1 0 1-2 1 1 1 0 1 1 1-1 1 0 1 0 1-1 1 2 1-2 1-1 1-1 1 5 1 1 1-1 1 1 1-2 1 2 1-2 1-1 1 0 1 2 1 1 1-2 1 1 1-2 1 2 1 2 1-2 1 1 1-2 1 1 1-1 1-1 1 1 1 0 1 0 1 0 1 1 1 0 1 1 1-1 1 1 1-1 1-1 1 2 1 0 1-1 1 2 1-3 1 1 1 0 1 1 1-1 1 0 1 0 1-1 1-1 1-2 1 2 1-3 1 2 1 3 1-1 1 0 1-2 1-1 1 3 1-2 1-1 1 1 1 0 1 2 1-1 1 0 1-2 1 2 1-2 1 1 1 0 1 0 1 1 1-1 1-1 1 2 1-2 1 2 1-2 1 0 1 2 1 1 1-2 1-1 1 0 1 2 1-2 1 1 1 0 1 0 1-1 1-1 1-1M0 -6l1-1 1 3 1 2 1-1 1 0 1 1 1 3 1 0 1-1 1-1 1 2 1-2 1 1 1-1 1-1 1 3 1 2 1-2 1 1 1 0 1-2 1 3 1 1 1 0 1-1 1 0 1 1 1-1 1-2 1-1 1-1 1 2 1 0 1 0 1 1 1-2 1 1 1 0 1 1 1 2 1-2 1 1 1 0 1 0 1-1 1 0 1-1 1 1 1 2 1-2 1 1 1-1 1 1 1-1 1 0 1-2 1 1 1 1 1 1 1-1 1 0 1 2 1-3 1 0 1 0 1 1 1 2 1-4 1 1 1 3 1-4 1 0 1 3 1-1 1 0 1 1 1 0 1 0 1-1 1 0 1 1 1-2 1 3 1-1 1 0 1 3 1-2 1 0 1-1 1-1 1 0 1 3 1-3 1 1 1 1 1 0 1-1 1 2 1 0 1 1 1-3 1 1 1 0 1 1 1 0 1 0 1-2 1 3 1 0 1-1 1 0 1-1 1 0 1 2 1-2 1 0 1-2 1 1 1 2 1 1 1 1 1-2 1 0 1 0 1-1 1 0 1 1 1-2 1 1 1 1 1-3 1 2 1 2 1-1 1-2 1 1 1 3 1-3 1 1 1 0 1-2 1 2 1 1 1-2 1 4 1-3 1 0 1 1 1-1 1 1M0 37l1-4 1-3 1-3 1-4 1-1 1-4 1 4 1-3 1-4 1 2 1-2 1-5 1 1 1-2 1 2 1-2 1-2 1 0 1 0 1-1 1-1 1 2 1-1 1-2 1-2 1 1 1-1 1-1 1-1 1 0 1-1 1-1 1 1 1 2 1-1 1-3 1 3 1-2 1 2 1 2 1-2 1-1 1-1 1 1 1 1 1-1 1-1 1 1 1 1 1-1 1 1 1-1 1 0 1 1 1-1 1-1 1 1 1 0 1 5 1-2 1 1 1-3 1 1 1-3 1 1 1 1 1-2 1 0 1 1 1 1 1-1 1-1 1 3 1-2 1 1 1 1 1-2 1 0 1-2 1 0 1 1 1 1 1-2 1 1 1 0 1-2 1 2 1 0 1 1 1-1 1 1 1-1 1 2 1-2 1-1 1 0 1-1 1 2 1 0 1 0 1 1 1 0 1-1 1 1 1 0 1 0 1 0 1-3 1 3 1 0 1 1 1-4 1 2 1 3 1-3 1-1 1 2 1-2 1-1 1 0 1 2 1 0 1 1 1-1 1-1 1 1 1 0 1 1 1-2 1 1 1 0 1-1 1 3 1-2 1-1 1-1 1 0 1 2 1-3 1 4 1 0 1 0 1-3 1 2 1 1 1 0 1-1 1-1 1-1 1 1M0 -7l1 0 1 0 1-1 1 0 1 1 1 3 1 1 1-2 1 0 1 0 1 3 1-2 1 1 1 0 1 1 1 0 1-1 1 2 1 1 1 0 1-2 1 2 1 0 1 1 1 0 1-3 1 0 1 1 1 2 1-1 1-1 1 2 1-1 1 1 1-2 1 3 1-1 1 3 1-1 1 1 1 1 1 1 1-1 1 0 1-2 1 1 1 2 1-1 1-2 1 1 1 1 1 0 1 1 1 0 1-1 1 2 1 2 1-1 1-1 1 1 1-1 1 2 1-1 1 1 1 1 1-1 1-1 1 0 1 4 1-2 1 0 1 1 1-2 1-1 1-1 1 4 1-3 1 1 1 0 1-2 1 0 1 1 1 0 1 0 1 0 1 1 1-1 1 1 1-2 1 1 1 1 1 2 1-3 1 2 1-2 1 2 1-2 1-1 1-1 1 2 1 1 1-2 1 0 1 1 1 2 1-3 1 1 1-3 1 2 1 1 1-2 1-3 1 3 1 1 1 1 1-1 1 2 1-1 1 0 1 1 1 1 1-3 1 1 1 0 1 2 1-1 1 0 1-2 1 1 1 2 1 1 1-2 1-2 1 2 1-1 1 2 1-2 1 1 1 0 1-3 1 1 1-1 1 1 1-2 1 2 1 0 1 0 1-2 1 0 1 1M0 31l1-1 1-2 1-3 1-3 1 0 1-2 1-4 1 0 1-1 1 0 1-1 1 0 1-3 1 0 1-1 1-3 1-1 1-1 1-1 1 2 1-3 1 1 1-1 1 0 1-1 1-4 1 3 1-1 1 1 1-3 1 1 1-2 1-1 1 3 1-1 1 0 1 2 1-2 1-1 1 2 1-1 1 1 1 0 1 1 1-3 1 1 1 0 1-1 1 1 1 2 1-1 1 0 1-1 1 2 1-2 1-1 1 1 1-1 1 2 1 1 1-3 1-1 1 1 1-1 1 0 1-1 1 0 1 0 1 1 1 1 1 0 1-1 1-1 1 1 1 2 1-1 1-2 1 3 1-2 1 1 1 1 1-2 1 2 1-2 1 0 1 1 1-1 1 0 1 1 1-3 1 3 1 1 1 0 1-2 1 0 1 2 1-3 1 3 1-2 1-1 1 3 1-2 1 0 1 0 1 1 1 0 1 1 1-1 1-2 1 3 1-1 1-1 1 0 1 1 1-1 1 1 1 1 1-3 1 0 1 3 1 1 1 0 1-2 1 0 1 1 1-2 1 1 1-1 1-1 1 1 1-2 1 1 1 0 1 1 1 1 1-2 1 2 1-1 1-1 1 0 1-1 1 1 1 0 1 1 1 2 1-2 1-1 1-1 1 2 1-1M0 -24l1 0 1 4 1 1 1 0 1 1 1-1 1 0 1 1 1 5 1-2 1-1 1 4 1 0 1-1 1 1 1-1 1 2 1 0 1 2 1-1 1 1 1 1 1 3 1-3 1 1 1-1 1-2 1 2 1 2 1-2 1 4 1-3 1-1 1 0 1-1 1 1 1 1 1 0 1 1 1 1 1-2 1 1 1 0 1 0 1-1 1 3 1-3 1 1 1-2 1-1 1 5 1-1 1-1 1 1 1 0 1-1 1-1 1 4 1-1 1 1 1-2 1 2 1-2 1 1 1-1 1 0 1-2 1 3 1-1 1 1 1-1 1 0 1 1 1 1 1-2 1 2 1-1 1 0 1 3 1-5 1 2 1 0 1 0 1-1 1 1 1-2 1 1 1 2 1 0 1 1 1 0 1 0 1 0 1-3 1 3 1-3 1 1 1 1 1-3 1 1 1 1 1-3 1 1 1 0 1 2 1 0 1 0 1 2 1-3 1 2 1 0 1-3 1 1 1 2 1-1 1-2 1 3 1 0 1 1 1 1 1-2 1 0 1-1 1 1 1-2 1-1 1 3 1-1 1 1 1 2 1-2 1-1 1-1 1 0 1 1 1 1 1-2 1 2 1-2 1 0 1 0 1-1 1-1 1 1 1 0 1 0 1 0 1 1 1 0 1-1M0 0l1 2 1-2 1-1 1 1 1 0 1 0 1 2 1 0 1-1 1-1 1 1 1 0 1-4 1 3 1-1 1-1 1 0 1 2 1-3 1 1 1-3 1 0 1 3 1 1 1-3 1 3 1 0 1 1 1-2 1-1 1 1 1 1 1 2 1-2 1 1 1 1 1 1 1-3 1 3 1-3 1 0 1 1 1-1 1 1 1 0 1 3 1-3 1 0 1 1 1-1 1 1 1 1 1-2 1-2 1 0 1-2 1 3 1 2 1-1 1-1 1 0 1 0 1 1 1-1 1 1 1-1 1-2 1 0 1 0 1 2 1-3 1 4 1-1 1 1 1 0 1-2 1-1 1 1 1-2 1 1 1 0 1 1 1-1 1 3 1-3 1 2 1 0 1 0 1-1 1 1 1 1 1-2 1 1 1 0 1 0 1 1 1 0 1-3 1 2 1 1 1-1 1-2 1 3 1-2 1 1 1 3 1-3 1 2 1-1 1-1 1 2 1-1 1 0 1 1 1-3 1 0 1 1 1 0 1 0 1 1 1-1 1 1 1-2 1 1 1-3 1 0 1 0 1 2 1 1 1-1 1-3 1 2 1-1 1 4 1 0 1-2 1 1 1 3 1-1 1 0 1 2 1-2 1 3 1-2 1-2 1 2 1-4 1 1 1 1 1 0M0 27l1-1 1-2 1-1 1-2 1-3 1-3 1 2 1-2 1 0 1-2 1-1 1-2 1-3 1 3 1-1 1-1 1-3 1-1 1 3 1-4 1-2 1 2 1 0 1-2 1 1 1-2 1 0 1 2 1 0 1-3 1 0 1 1 1-1 1 1 1 1 1-1 1-1 1 0 1 1 1-1 1-1 1 1 1-2 1-2 1 2 1 1 1 4 1-3 1 1 1-2 1 0 1-1 1-1 1 0 1-1 1 2 1-2 1 1 1-2 1 1 1-1 1 1 1-2 1 1 1 0 1 0 1-1 1-1 1-1 1 0 1 1 1 2 1 0 1 1 1-1 1-2 1 0 1 2 1-2 1 1 1 1 1 1 1-2 1 2 1-1 1 1 1-1 1 1 1 0 1 0 1-1 1-1 1 1 1 1 1-2 1 1 1 0 1 1 1-1 1 1 1 1 1 0 1 1 1 0 1-1 1 0 1 2 1-2 1 0 1-2 1-1 1 1 1 2 1-1 1 0 1 1 1 0 1 2 1 0 1-2 1 2 1-2 1 1 1-1 1-2 1 1 1 4 1-2 1 1 1-1 1-3 1 2 1 0 1-1 1 2 1-1 1 0 1-3 1 2 1 0 1-1 1 2 1-1 1 1 1 1 1-1 1-2 1 2 1-1 1 0M0 10l1 1 1 0 1-1 1 0 1-1 1-1 1 1 1-2 1 1 1 0 1 0 1-1 1-2 1 2 1 0 1-3 1 1 1-2 1 1 1 0 1-1 1-1 1 1 1 0 1-1 1-3 1 3 1 3 1-5 1 4 1 0 1 0 1 0 1-1 1 2 1-3 1 0 1 2 1-2 1 1 1-2 1 0 1 1 1-1 1-1 1 1 1-1 1 0 1-2 1-3 1 5 1-1 1 1 1 0 1 0 1 0 1-2 1-2 1 1 1 3 1-2 1 0 1 0 1 0 1 0 1 2 1-2 1 1 1-2 1 1 1 0 1 0 1 0 1 1 1-1 1-2 1 2 1-1 1-1 1 3 1-4 1 1 1 1 1 0 1 1 1-1 1 0 1-1 1 3 1-4 1 2 1 1 1-3 1 3 1-1 1 0 1-1 1 2 1-1 1 3 1 0 1 0 1-2 1 1 1-2 1 0 1-1 1 0 1 4 1-2 1 1 1-1 1 0 1 0 1 3 1 0 1 0 1 0 1 2 1-5 1 3 1-2 1 3 1-1 1-1 1 2 1-2 1 0 1 1 1-2 1 2 1-3 1 1 1-1 1 2 1-1 1-1 1 2 1 2 1-2 1 0 1 1 1 0 1-1 1 4 1-3 1-1 1 0 1 1 1-1M0 30l1-1 1 1 1-1 1-4 1 2 1-1 1-4 1-1 1 0 1-2 1 0 1-2 1 0 1-1 1-1 1-2 1 1 1-2 1-1 1 1 1 1 1 1 1-2 1-2 1 1 1-1 1 0 1-1 1 0 1 0 1-2 1 1 1-2 1 1 1-4 1 0 1 0 1-1 1-1 1 0 1 0 1-1 1 1 1-2 1 2 1 0 1 1 1 0 1 0 1-1 1 1 1-1 1 1 1 1 1-2 1 0 1 0 1 1 1-2 1-1 1 3 1 0 1 0 1-1 1 2 1-3 1 1 1 1 1-1 1 0 1 0 1 2 1-1 1 0 1-1 1 1 1 0 1 0 1 0 1-1 1 0 1 2 1-1 1-1 1 0 1 1 1-2 1 0 1-1 1-1 1 1 1-3 1 3 1-1 1-2 1 2 1 0 1-1 1 1 1-1 1-2 1 1 1 2 1-2 1 0 1 0 1 1 1 1 1 2 1-3 1 1 1 0 1-1 1 0 1 0 1 1 1 0 1 1 1-2 1 2 1-2 1 0 1 2 1-1 1-2 1 2 1-1 1 1 1 0 1 1 1 0 1-2 1 1 1 0 1-2 1-1 1 2 1-1 1 0 1-1 1 2 1 1 1-2 1-1 1 1 1-4 1 2 1 1 1 2 1-1M0 39l1-1 1-1 1-1 1-3 1-1 1-1 1-3 1 3 1-4 1-2 1 0 1-1 1 1 1 0 1-1 1 0 1-1 1-1 1-2 1 1 1 1 1-2 1-1 1-1 1 2 1-3 1 3 1-4 1 0 1-1 1 0 1 0 1-1 1 0 1-1 1 0 1 0 1-1 1-1 1 0 1-2 1-1 1-1 1 1 1 0 1-2 1 2 1-2 1 0 1-1 1 1 1-1 1 1 1-2 1 0 1 0 1-1 1 1 1-1 1 0 1-1 1 0 1 2 1-1 1-1 1 1 1 0 1 1 1-1 1 0 1-2 1 0 1 1 1 1 1-1 1-1 1 2 1-2 1 0 1 2 1-2 1-2 1 1 1 2 1-2 1-1 1 1 1 0 1 0 1-1 1 1 1 1 1 0 1 0 1-3 1-1 1 3 1-1 1-1 1 2 1 0 1-1 1 0 1-1 1 3 1-2 1 1 1 0 1 0 1-1 1 2 1 0 1-2 1 1 1-2 1 0 1 1 1 1 1-1 1 0 1-1 1 1 1 0 1 0 1 0 1-1 1 2 1-2 1 1 1 0 1 3 1-1 1 1 1 1 1 0 1-2 1 2 1 1 1-1 1 1 1-3 1 2 1-1 1 2 1-1 1-2 1 1 1-1 1-2 1 1M0 12l1 3 1-3 1 2 1 0 1 1 1-2 1-1 1 0 1-2 1 5 1-5 1 2 1-2 1-1 1 2 1-3 1 2 1-3 1 1 1 1 1-1 1 2 1-2 1 2 1 0 1-3 1-1 1-1 1-1 1 2 1 0 1 0 1-1 1 0 1-1 1 1 1-1 1 2 1-2 1 1 1 1 1-1 1 2 1-1 1 2 1-2 1 0 1 1 1-2 1 1 1 1 1-3 1 2 1 0 1 1 1-1 1-1 1 1 1-1 1 0 1 0 1-1 1 0 1-1 1 0 1 1 1 0 1 1 1 1 1 0 1-1 1-2 1-1 1 1 1 1 1 1 1-1 1-2 1 2 1 2 1-1 1-3 1 2 1-4 1 3 1 1 1 0 1 0 1-1 1 0 1 2 1 0 1-2 1 0 1 0 1 0 1 1 1-2 1 3 1-1 1-1 1 0 1-1 1 1 1 0 1-1 1 0 1 2 1 1 1-1 1 2 1-1 1 0 1-2 1-1 1 2 1 0 1-2 1 3 1-1 1 1 1-1 1 0 1 1 1-2 1 1 1 0 1-1 1 0 1 0 1 2 1-1 1 0 1 0 1 0 1 0 1-1 1 1 1-1 1 2 1-1 1 1 1-2 1-2 1 1 1 0 1 2 1-1 1-4 1 3M0 -16l1 6 1 2 1 0 1-2 1 5 1-2 1 2 1 2 1-1 1-1 1 1 1 4 1-1 1 0 1 0 1 1 1-1 1 3 1 0 1-1 1-1 1 1 1 1 1 2 1-1 1-2 1 1 1 0 1 0 1 1 1-1 1 2 1-2 1 2 1 1 1-1 1 0 1 1 1 0 1-1 1 1 1 0 1-1 1 2 1 0 1 0 1 1 1-1 1 0 1 0 1-1 1-1 1 1 1-1 1-1 1-1 1 1 1-2 1 0 1 2 1-1 1 1 1-1 1 1 1 0 1 1 1 1 1 1 1-1 1 1 1-2 1 1 1-2 1 2 1-4 1 2 1 0 1 1 1-2 1 1 1-1 1 2 1 0 1-1 1-2 1 3 1-1 1 1 1-1 1-1 1 3 1-4 1 1 1 0 1 1 1 1 1-2 1 0 1 2 1-3 1 3 1-2 1 0 1 0 1 0 1 2 1-1 1-1 1 3 1-1 1 1 1 0 1 0 1-1 1 0 1 0 1 1 1-1 1-1 1-1 1 3 1-1 1 0 1 0 1 0 1 0 1 0 1 0 1 1 1 2 1-3 1 1 1 1 1-1 1 1 1 0 1-1 1-1 1 1 1 0 1 0 1 0 1 1 1 0 1 0 1-1 1 1 1-2 1 2 1-1M0 27l1-1 1-1 1-3 1-2 1-2 1 5 1-7 1 1 1 2 1-5 1 3 1-3 1 1 1 0 1 1 1-3 1 0 1-1 1-1 1-3 1 0 1-1 1 0 1 0 1 3 1-3 1 1 1-1 1 0 1 2 1-3 1-1 1 0 1-1 1 1 1-3 1 0 1 0 1 1 1-1 1-1 1 2 1-2 1-2 1 2 1 0 1 4 1-3 1 0 1-1 1 0 1-1 1 0 1-2 1 2 1 0 1 0 1 0 1 0 1-2 1 2 1 0 1-1 1 0 1 0 1 0 1 0 1-1 1 1 1 0 1-1 1 1 1-2 1 2 1 0 1 2 1-3 1 1 1 1 1-2 1-1 1 2 1 1 1-1 1 1 1-1 1 0 1 0 1 1 1-1 1 2 1-2 1 2 1-1 1 0 1 1 1-1 1 0 1 1 1 0 1-1 1 0 1 0 1-1 1 3 1-2 1-3 1 2 1 1 1 1 1 0 1 0 1-1 1-1 1 1 1 0 1-2 1 1 1 1 1-2 1-1 1 2 1 0 1 0 1-1 1 1 1 2 1-1 1-2 1 3 1-2 1 2 1 1 1-1 1-1 1 0 1-1 1-1 1 1 1-2 1 0 1-1 1 1 1-1 1 0 1 1 1 1 1 1 1 1 1-2M0 -53l1 3 1 2 1-1 1 6 1 3 1 1 1 2 1 2 1-1 1 4 1 0 1 2 1-2 1 2 1 4 1 1 1-1 1 2 1 2 1-1 1 0 1 2 1 1 1 0 1 2 1 3 1-2 1-1 1-1 1 1 1 4 1 0 1 2 1 0 1 0 1 0 1 1 1-1 1 1 1 0 1 3 1 0 1-1 1 0 1 1 1-2 1 0 1-1 1 0 1 0 1-1 1 0 1 0 1-1 1 3 1-2 1 2 1-2 1-2 1 2 1 0 1 2 1 1 1-3 1 2 1-1 1 0 1 2 1 2 1 0 1-3 1 1 1 1 1-1 1 3 1-2 1 3 1-2 1 1 1 0 1 2 1-2 1-1 1 0 1-2 1 0 1 2 1 1 1-2 1 1 1 3 1-3 1 1 1 2 1-2 1 0 1 0 1-1 1 3 1-1 1 1 1-1 1 1 1 0 1-2 1 1 1-1 1 3 1 0 1-1 1 0 1-1 1 2 1-3 1 1 1 1 1-1 1 0 1-1 1 0 1-3 1 2 1-1 1 1 1 1 1-1 1 2 1 0 1-1 1 0 1 0 1 2 1 0 1 1 1-2 1-1 1-2 1 1 1 1 1-1 1-1 1 2 1 0 1 0 1 1 1 2 1-2 1-1 1-1 1 1M0 -11l1 0 1 2 1 5 1 1 1 1 1-2 1 1 1 1 1 2 1 1 1 1 1 1 1-1 1 2 1-2 1 0 1 0 1 3 1-3 1-2 1 0 1 2 1 1 1-2 1 1 1 0 1 2 1-4 1 5 1-2 1 1 1-2 1 1 1 1 1 0 1-1 1 1 1 1 1-2 1-1 1 3 1-1 1-2 1 0 1 1 1-2 1 1 1 0 1 1 1-4 1 3 1 1 1 0 1-2 1 2 1 0 1 1 1-2 1 2 1-2 1 1 1 2 1-1 1 0 1 0 1-1 1-1 1 3 1-2 1-1 1 1 1 0 1 1 1-1 1-1 1 1 1 0 1 1 1 0 1-3 1 1 1 1 1-2 1 1 1-1 1 0 1 1 1 2 1 0 1-1 1 0 1 1 1-2 1 2 1-3 1 2 1 0 1 0 1 0 1 1 1 2 1-4 1 0 1 2 1-2 1 0 1 1 1 0 1 0 1-1 1 1 1 0 1-3 1 2 1 0 1-1 1 2 1 1 1-1 1-1 1 1 1 1 1 0 1 0 1-1 1 1 1 0 1 1 1 0 1-3 1 1 1-1 1 2 1 1 1-3 1 3 1-2 1-1 1 2 1-1 1-1 1 1 1 1 1-1 1 0 1 2 1-3 1 2 1-2 1 0M0 10l1-1 1-1 1-1 1 3 1-1 1 0 1 2 1 1 1 0 1 0 1-2 1 1 1-4 1 0 1 2 1 1 1-1 1-2 1 1 1-2 1 0 1-2 1-1 1 1 1 0 1-2 1 2 1-1 1 1 1-2 1 0 1-1 1-2 1 2 1 2 1-2 1 2 1-1 1-2 1 1 1 0 1-1 1 1 1 0 1 0 1 3 1-1 1 0 1 2 1 0 1 0 1 1 1 0 1 2 1-2 1-2 1 1 1 1 1 1 1-3 1 1 1-2 1 2 1-1 1-2 1 2 1 1 1-1 1 0 1 0 1 0 1-2 1 1 1 1 1-2 1 2 1-1 1-2 1-1 1 3 1 1 1-3 1 1 1 1 1-1 1 4 1-2 1-2 1 1 1-1 1 3 1 0 1-1 1-1 1 1 1-1 1 0 1 0 1 1 1-1 1 1 1-1 1-1 1 0 1-1 1 3 1 1 1 0 1 0 1 0 1 1 1 0 1-1 1 0 1 1 1-1 1 0 1-1 1 1 1 2 1-1 1-2 1 1 1-2 1 1 1 1 1-2 1-1 1 1 1-3 1 4 1-2 1-1 1-1 1 1 1 1 1 0 1 0 1 1 1-1 1 1 1-2 1 1 1 0 1 0 1 1 1 0 1 0 1-1 1 1M0 9l1-2 1 1 1-2 1-2 1 1 1-1 1 1 1-2 1 1 1 0 1 0 1-2 1 0 1 1 1-2 1 3 1-1 1-3 1 1 1 4 1-2 1 0 1-2 1-2 1 1 1 2 1 1 1 2 1-1 1-2 1-1 1 1 1 0 1 0 1-1 1 1 1-3 1 2 1 2 1-1 1 1 1-4 1 2 1-1 1-1 1 0 1 2 1 1 1-3 1 1 1 0 1 1 1 0 1-1 1 1 1 1 1-1 1-1 1-2 1 3 1-1 1 1 1 1 1-1 1 3 1-2 1 0 1-2 1 1 1-3 1 4 1-1 1-2 1-2 1 3 1-3 1 3 1 0 1 0 1 1 1-1 1 3 1-3 1 1 1-1 1 0 1 0 1 2 1-2 1 1 1-1 1 1 1 0 1 0 1-1 1 1 1 2 1-3 1 1 1 1 1-1 1-2 1 2 1-1 1 1 1-1 1-1 1 3 1-2 1-1 1 1 1 0 1 2 1 0 1-1 1-1 1 2 1-1 1 0 1 0 1 0 1 0 1 1 1-2 1 0 1 0 1-1 1 3 1-2 1 1 1 0 1 1 1-3 1 4 1 0 1 0 1-2 1 1 1 1 1-1 1 0 1-1 1 0 1 1 1-2 1 1 1-2 1-1 1 1 1 2M0 18l1-1 1 1 1 0 1-3 1-1 1-1 1-1 1 0 1-2 1 0 1-2 1 0 1 1 1-1 1 0 1-4 1 1 1 0 1 0 1-1 1 1 1 0 1-3 1-4 1-1 1 2 1 1 1-1 1-2 1 2 1 0 1-1 1-2 1 1 1 2 1 0 1 0 1 0 1 0 1-1 1 0 1 1 1-1 1-2 1 1 1 0 1 1 1-2 1 2 1 0 1-2 1 1 1-1 1 1 1 2 1 1 1-3 1 1 1-1 1 0 1-1 1 1 1-1 1 2 1-1 1 2 1-3 1 2 1 1 1-1 1-2 1 1 1 2 1-3 1 2 1 0 1 1 1-1 1 0 1 1 1 0 1-1 1-1 1 2 1-1 1 0 1 2 1-1 1-3 1 4 1-1 1-3 1 0 1 2 1 0 1-1 1 0 1 2 1-3 1 2 1 0 1-3 1 2 1 1 1-1 1 1 1-2 1 1 1 0 1-2 1 3 1-2 1 3 1-1 1 0 1 0 1-1 1 2 1 0 1-1 1-1 1 1 1 1 1 1 1 0 1-1 1 0 1 0 1 3 1-4 1 0 1 0 1 0 1 1 1 2 1 1 1-3 1-1 1 1 1 0 1 1 1-3 1 0 1 1 1 2 1-2 1 2 1 1 1-3 1 2M0 -33l1-1 1 2 1 2 1 3 1 1 1 1 1 1 1-1 1 0 1 2 1 3 1 4 1 1 1 1 1 2 1-1 1 2 1 0 1 4 1 0 1-3 1 2 1 1 1 3 1-2 1 1 1 0 1-1 1-1 1 2 1-2 1 2 1 2 1-1 1-1 1 1 1 0 1 1 1-1 1 2 1-2 1 3 1-5 1 1 1 3 1 1 1-1 1 2 1-3 1 2 1 1 1-2 1-1 1 2 1 0 1 0 1-1 1-1 1 3 1-1 1-2 1 4 1-3 1-2 1 2 1-1 1 2 1 1 1-1 1 1 1-1 1 0 1-1 1-1 1 0 1 2 1-1 1 1 1 0 1-1 1 1 1 1 1-2 1 2 1-3 1 2 1-1 1 2 1-2 1 1 1-1 1 1 1 0 1 1 1-1 1-1 1-1 1 1 1-1 1 2 1-2 1 2 1-1 1 0 1-1 1 0 1 1 1 0 1 1 1 0 1 1 1-3 1 2 1 0 1-1 1 1 1-1 1 0 1-1 1 2 1-2 1 1 1 0 1 0 1-1 1 1 1 1 1-1 1 1 1-1 1-1 1 1 1 1 1 0 1 0 1-1 1 1 1 1 1 0 1 1 1 0 1 0 1 0 1-3 1 3 1 0 1-2 1 0 1 2 1 0M0 0l1-4 1 2 1 1 1 1 1 0 1 0 1 1 1-1 1-1 1 0 1 0 1 1 1-1 1 1 1 0 1-1 1 0 1 1 1 0 1-2 1 3 1 1 1-2 1-1 1-1 1 2 1-2 1 0 1 1 1 1 1-2 1 0 1 1 1-2 1-2 1 1 1 2 1-3 1 3 1 0 1 0 1 3 1-1 1 0 1-1 1 0 1 1 1 0 1 0 1-3 1 2 1 1 1 1 1-1 1 0 1-2 1 0 1 0 1 1 1-2 1 1 1 3 1-1 1-1 1 0 1 1 1-2 1 1 1 0 1 1 1 0 1 0 1 1 1 0 1-2 1 2 1-3 1 3 1-3 1-1 1 1 1 1 1 1 1 1 1-2 1 0 1 2 1 0 1 0 1-1 1-1 1 1 1 0 1-1 1-1 1 0 1 0 1 1 1 1 1-1 1 2 1-3 1 2 1-1 1 2 1-1 1 0 1-2 1 0 1 3 1-1 1-1 1 1 1 1 1 0 1 1 1-4 1 3 1 0 1 1 1 0 1-1 1 0 1-2 1 1 1 1 1 0 1 1 1-2 1-1 1 1 1 0 1 1 1-2 1 1 1 0 1 1 1-1 1 0 1 1 1 0 1 1 1-2 1 2 1 1 1 1 1 1 1 0 1-3 1-2M0 -39l1-2 1 1 1 0 1 6 1 0 1 0 1 2 1-3 1 1 1 3 1 1 1 2 1-2 1 2 1 0 1 0 1 4 1 0 1 1 1-3 1 4 1 2 1-2 1 1 1 1 1-2 1 1 1 2 1 1 1 0 1-2 1 4 1-2 1 1 1 1 1-1 1 1 1-2 1 4 1-1 1 3 1-3 1-1 1 1 1 2 1 0 1 1 1-1 1-1 1 0 1-1 1 4 1-5 1 3 1 1 1 0 1 2 1 0 1-1 1-1 1 3 1-3 1 1 1-1 1 3 1-2 1 1 1 1 1 3 1-2 1-1 1 2 1 0 1 0 1-1 1 3 1-2 1 1 1-1 1-2 1 2 1 1 1 0 1 0 1-2 1 3 1-4 1 1 1 3 1-2 1-3 1 2 1 2 1 3 1-3 1 1 1-1 1 0 1-1 1 1 1 2 1-1 1 2 1-4 1 1 1 2 1 1 1-1 1 0 1-2 1 0 1 2 1-1 1-2 1 1 1 2 1-1 1-1 1-1 1 2 1 0 1 0 1 3 1-2 1 0 1-1 1 0 1 1 1-2 1 1 1-1 1 2 1 2 1-1 1 1 1-2 1 2 1-1 1 1 1-2 1 2 1-1 1-1 1 1 1 0 1 0 1 1 1 0 1-2 1 0M0 -19l1 2 1 1 1 2 1 0 1 2 1 2 1 4 1 0 1 1 1-1 1 0 1 3 1 0 1 0 1 1 1-3 1 1 1-2 1 1 1 0 1 1 1 3 1-2 1 0 1 1 1-1 1 0 1 0 1 1 1-1 1 2 1-3 1 2 1 2 1 1 1 1 1 1 1-3 1 2 1 0 1 0 1 0 1 2 1-2 1 1 1 0 1 0 1-3 1 1 1-2 1 0 1 1 1 1 1-1 1-3 1 4 1-1 1 1 1 0 1-1 1-4 1 2 1-1 1 2 1-1 1 0 1 1 1-1 1 1 1 2 1-1 1-1 1 0 1 2 1 0 1-1 1-1 1 0 1 2 1-2 1 2 1 1 1-1 1-2 1 2 1-2 1 0 1 2 1 0 1 0 1 0 1 0 1-2 1-1 1 2 1 0 1-2 1 0 1 3 1-3 1-1 1 3 1 0 1-2 1 1 1-2 1-1 1 2 1 1 1 1 1 0 1-1 1 0 1-1 1-1 1-3 1 3 1 2 1-2 1 2 1-1 1-1 1 1 1 1 1-1 1-1 1 1 1 1 1-1 1 0 1-1 1-1 1 2 1-1 1-1 1 1 1 0 1-1 1 2 1-1 1 1 1-1 1 0 1 0 1 1 1 1 1-4 1 3 1 0 1-1M0 -33l1 1 1 2 1 0 1 4 1-1 1 1 1 1 1 2 1 0 1-1 1 2 1 1 1 0 1 1 1 4 1-3 1 5 1-2 1 3 1 0 1 2 1-2 1 1 1-1 1 1 1 0 1 2 1 0 1 1 1-1 1 1 1 1 1-1 1 0 1 1 1 0 1 0 1 0 1-3 1 2 1 0 1 0 1 1 1-1 1 2 1 0 1 0 1 1 1 2 1-1 1 3 1-2 1 1 1-2 1 2 1-2 1 1 1 1 1-1 1 3 1 0 1-5 1 2 1-1 1 1 1 1 1 1 1-1 1 2 1-3 1 1 1 3 1-2 1-1 1 1 1 1 1-3 1 0 1 1 1 0 1 0 1 0 1 0 1 1 1-1 1 1 1 0 1 0 1-2 1 3 1-1 1 1 1-1 1 2 1-1 1 0 1-3 1 4 1-2 1 3 1-1 1 0 1 1 1-3 1 3 1 0 1 0 1-1 1 1 1 1 1 0 1-2 1 1 1 0 1-1 1 1 1-1 1 1 1 1 1-2 1-2 1 0 1 0 1 1 1 0 1 1 1 0 1 1 1-2 1 1 1 0 1-1 1 1 1 1 1-2 1 1 1 2 1 0 1 0 1-2 1 0 1-1 1 0 1 2 1 0 1-4 1 0 1 2 1-1 1 1M0 -44l1 4 1-2 1 2 1 3 1 2 1 3 1 1 1 1 1 2 1 1 1 1 1 1 1 0 1 3 1-1 1 2 1-1 1 2 1 2 1 0 1 1 1-1 1 3 1 0 1 1 1-3 1 1 1 0 1 0 1 0 1-1 1 0 1 5 1 1 1-3 1 2 1-1 1-2 1-1 1 4 1-1 1-2 1 2 1-1 1 0 1 1 1 2 1 2 1 0 1-1 1 0 1 0 1-1 1 0 1-1 1 2 1-1 1 0 1 0 1-1 1 4 1 0 1 0 1 0 1-1 1-1 1 2 1-1 1 2 1-3 1 2 1 1 1 0 1-3 1 2 1 3 1-3 1 2 1 0 1-1 1 2 1-2 1 1 1 0 1-2 1 2 1 1 1 0 1-2 1 2 1-1 1-2 1 1 1 1 1 1 1-1 1 0 1-1 1-1 1 3 1-1 1 0 1 1 1 0 1-1 1 0 1-2 1 1 1 0 1 0 1-1 1 2 1 0 1 1 1 0 1-2 1 1 1 1 1 0 1-1 1 0 1 0 1-1 1 4 1-2 1 2 1-2 1 0 1-1 1 1 1 0 1 1 1-1 1 1 1 2 1-4 1 1 1 0 1-1 1 1 1-3 1-1 1 2 1 2 1 1 1-2 1 1 1 0 1-3 1 1M0 7l1 0 1 0 1 0 1-4 1 2 1 3 1-2 1 1 1-1 1 0 1 1 1 0 1-1 1 2 1-1 1 0 1 1 1-1 1 2 1 0 1-2 1 0 1-2 1 0 1 0 1-1 1 2 1 1 1 1 1 0 1-3 1 4 1-2 1 0 1 1 1-1 1 1 1 0 1-3 1 1 1-2 1 2 1 1 1-2 1 1 1 3 1-2 1-2 1-1 1 2 1 1 1-1 1 0 1 1 1-1 1 0 1-1 1 2 1 0 1-1 1-1 1 2 1-2 1 3 1-1 1-1 1 3 1-1 1-2 1 0 1 1 1-2 1 2 1 0 1-1 1 0 1 0 1 0 1-2 1 1 1 0 1 0 1-2 1 4 1-1 1 0 1-2 1 0 1-1 1 2 1-3 1 0 1-1 1 2 1-1 1 0 1 3 1-3 1 5 1-3 1 1 1 1 1-1 1-1 1 0 1 2 1 0 1-2 1-1 1 2 1 0 1-1 1 0 1 0 1-1 1 0 1-1 1 1 1 1 1 0 1 3 1 0 1-2 1 0 1 3 1-3 1-1 1-1 1 2 1-2 1 3 1-1 1 1 1-1 1-1 1 0 1 1 1 0 1 0 1-2 1 3 1 0 1-1 1 1 1 0 1-1 1 0 1-1 1 2 1 0M0 -2l1-1 1-1 1 2 1 2 1-2 1-1 1 3 1-3 1 1 1-1 1 4 1-2 1 3 1-1 1 1 1-1 1-1 1 0 1-1 1 4 1 2 1-2 1-1 1 2 1-1 1 2 1-2 1 0 1-2 1 3 1-1 1-3 1 3 1-2 1 0 1 3 1-3 1 0 1 3 1 1 1-2 1 0 1 0 1 0 1 0 1 1 1-1 1 3 1-1 1 1 1 0 1 1 1-3 1 2 1-5 1 4 1-2 1-1 1 1 1 1 1 1 1-3 1 3 1-1 1-2 1 2 1-1 1-2 1 1 1 1 1 2 1-1 1 0 1 2 1-1 1-3 1 1 1 0 1 1 1 0 1 0 1 0 1-1 1 0 1-1 1 1 1 0 1 0 1 0 1 1 1-1 1 1 1-2 1 1 1 1 1-1 1 2 1-2 1-1 1-2 1 2 1 0 1 1 1-3 1 3 1-1 1 2 1-1 1-1 1 2 1-1 1 2 1-5 1 0 1 2 1 2 1-3 1 3 1-3 1 1 1 0 1 0 1 0 1-2 1 0 1 5 1-2 1 2 1-2 1 1 1-1 1 1 1 2 1-4 1 1 1 0 1 0 1 0 1 0 1 0 1 0 1 1 1 0 1 2 1-1 1 1 1-2 1 0 1-1 1 2M0 10l1-1 1 0 1 0 1 0 1-1 1-2 1 3 1-3 1 1 1 1 1-1 1-2 1-1 1-1 1-2 1 1 1 0 1 0 1 2 1 0 1 0 1-2 1 1 1 1 1 0 1 1 1-2 1 1 1 1 1 0 1 0 1 0 1-2 1 3 1-2 1-1 1 2 1 1 1-3 1 1 1 1 1 1 1-1 1 0 1 0 1 0 1 2 1-2 1 2 1 0 1-1 1 1 1-1 1 1 1-2 1-1 1 3 1-2 1 1 1-2 1 1 1-1 1 0 1 0 1 0 1-1 1-1 1 1 1 1 1-1 1 2 1-1 1-1 1 1 1 0 1 0 1-1 1 1 1-2 1 1 1 0 1 1 1-2 1 2 1 1 1-1 1-2 1 0 1 1 1 0 1 0 1 1 1-2 1 2 1 0 1-1 1 2 1-3 1 1 1-1 1 0 1 1 1-2 1 0 1 1 1 1 1 1 1-2 1 1 1 0 1-1 1-1 1-1 1 2 1-2 1 3 1 2 1-1 1-2 1-2 1 3 1 0 1 1 1 0 1-2 1 1 1 0 1-1 1-1 1 1 1-1 1 1 1 3 1-4 1 1 1 0 1 0 1 0 1-2 1 1 1 0 1-1 1 1 1 0 1 2 1-4 1 1 1 1 1 0 1 0M0 13l1-2 1-1 1 4 1-3 1 0 1 0 1-1 1 0 1 2 1-3 1-1 1-3 1 1 1-2 1 1 1 0 1 0 1 2 1-1 1-2 1 2 1 0 1-1 1 1 1 1 1-3 1 0 1 0 1 1 1 2 1-2 1 2 1 0 1-2 1 1 1-1 1 0 1-1 1 2 1-1 1 0 1 1 1-1 1 0 1-1 1 0 1 0 1 0 1-1 1-1 1 2 1-1 1-2 1 4 1-2 1-1 1 0 1-1 1 1 1-2 1 2 1-3 1 1 1 2 1 0 1 0 1-2 1 2 1 2 1-3 1 2 1-1 1 0 1 0 1 0 1 2 1-2 1 0 1 2 1-2 1 0 1 0 1-1 1-1 1 1 1 0 1-2 1 3 1 0 1-2 1 2 1 0 1 0 1-1 1-1 1 2 1 0 1-2 1 3 1-1 1 0 1 0 1 0 1 0 1 0 1 0 1 0 1-1 1 2 1 0 1-1 1 2 1-1 1 0 1 3 1-3 1 0 1-1 1 0 1 0 1-1 1 2 1 2 1-5 1-1 1 2 1-2 1 3 1-1 1-2 1 1 1 1 1-1 1 1 1 0 1 2 1 0 1 0 1 0 1-1 1 2 1-1 1-1 1 1 1 0 1 0 1-1 1 3 1-3 1 2M0 12l1 2 1-2 1 0 1-2 1-1 1-2 1 2 1 0 1 1 1-1 1-1 1 0 1-2 1 0 1 0 1-1 1-1 1-1 1 1 1-1 1 1 1 0 1-2 1 2 1-2 1 1 1 0 1-1 1 1 1-3 1 1 1 0 1 1 1 1 1 0 1-1 1 0 1-1 1 2 1-1 1 0 1-2 1-1 1-1 1 2 1-1 1 1 1-2 1 1 1-1 1 2 1 0 1 2 1 0 1-1 1 0 1 0 1-2 1 4 1-3 1 0 1-3 1 2 1-1 1-1 1 3 1-3 1 1 1 1 1 0 1-1 1 2 1-2 1 1 1-1 1 1 1 1 1 0 1 1 1-1 1-2 1 1 1 2 1-2 1 2 1 0 1 0 1-1 1 3 1-3 1 0 1 1 1 0 1 1 1 0 1 0 1-1 1 0 1-2 1 1 1-1 1 0 1 1 1 2 1 0 1-2 1 1 1-2 1 2 1 1 1-2 1 0 1 1 1-1 1 3 1-2 1 0 1 0 1-1 1 2 1 0 1 0 1-2 1 2 1-1 1-1 1 1 1 1 1-3 1 0 1 2 1-1 1 1 1 0 1-1 1-1 1 0 1 2 1-2 1 0 1 1 1 0 1-1 1-1 1 2 1-1 1 1 1-1 1 1 1-1M0 24l1-5 1-2 1-3 1-1 1 0 1-4 1-3 1-1 1 2 1 1 1-1 1-3 1-1 1 0 1 1 1-3 1-1 1 2 1 1 1-7 1 0 1 1 1-1 1 0 1-2 1 0 1 0 1 0 1 0 1 0 1-3 1 1 1-1 1 3 1-2 1-2 1 2 1-1 1 2 1-1 1 0 1-1 1-1 1 2 1-1 1 2 1-2 1 0 1-3 1 2 1 1 1 0 1 0 1-1 1 1 1 0 1-1 1 3 1-1 1 1 1 0 1 0 1 1 1-2 1 1 1 0 1-1 1 1 1 0 1-1 1 3 1-1 1 0 1 0 1 1 1-1 1 1 1 0 1-1 1-1 1 2 1 0 1-2 1 1 1 0 1 0 1 0 1-2 1 1 1 2 1-1 1 0 1-3 1 1 1 3 1-3 1 3 1 1 1-1 1 1 1-2 1 2 1-2 1-1 1 1 1-2 1 3 1-2 1 3 1-3 1 1 1 0 1 1 1-1 1-1 1 1 1 2 1 0 1-4 1 2 1 0 1-1 1 0 1 0 1-1 1 1 1 1 1 1 1 0 1-1 1 0 1 0 1 2 1-2 1 0 1-1 1 0 1 0 1 0 1 0 1 0 1 1 1-3 1 3 1 0 1 0 1 2 1-1 1 0 1 1M0 -52l1 3 1 5 1 3 1 2 1 2 1 5 1 1 1 1 1 1 1-4 1 6 1 0 1 2 1 3 1 0 1 2 1-1 1 1 1 3 1 1 1 0 1 0 1 3 1-1 1 3 1 0 1 2 1-1 1 1 1 0 1 0 1-1 1 3 1-1 1 0 1 2 1 1 1-1 1 0 1 1 1 2 1-3 1 2 1 1 1-2 1 1 1-2 1 3 1 0 1-1 1-1 1 2 1-1 1 0 1 2 1-2 1 4 1-1 1 1 1-1 1 0 1 2 1 0 1 0 1 0 1-1 1 0 1 2 1 0 1 0 1 3 1-3 1 0 1 0 1 0 1-1 1 0 1 1 1 0 1-3 1 2 1-1 1 2 1-3 1-1 1 2 1-1 1 2 1-2 1 2 1 0 1 0 1 0 1-1 1 1 1-2 1 2 1 1 1-1 1-1 1 1 1-1 1 2 1-4 1 2 1 2 1-1 1 1 1 0 1-2 1 3 1-3 1 1 1 0 1 0 1-2 1 1 1 2 1-2 1 1 1-2 1 1 1-1 1 3 1-1 1-1 1 1 1 2 1-2 1 0 1 0 1 0 1 1 1-2 1-2 1 3 1 0 1-1 1 0 1-1 1 3 1 0 1-1 1 1 1-1 1-1 1 2 1 0 1-1 1 0M0 8l1-1 1 2 1-1 1 1 1-4 1 2 1 0 1 0 1-2 1 2 1-1 1 1 1 0 1-4 1 3 1-4 1 1 1-1 1-1 1 0 1 1 1-1 1 1 1 1 1 1 1-2 1 0 1 1 1 2 1-1 1 0 1-1 1 2 1-3 1 2 1 2 1 0 1 0 1 0 1-3 1 3 1 1 1-1 1-1 1-2 1 2 1 0 1 0 1 0 1 0 1 1 1 1 1 1 1 0 1-3 1 2 1-2 1 0 1 2 1 0 1-1 1 0 1-3 1 2 1 0 1-1 1-3 1 3 1 2 1-5 1 2 1 1 1-2 1 2 1-2 1 0 1 0 1-1 1 0 1-1 1 0 1 0 1 1 1 0 1-1 1 2 1-1 1 3 1 0 1 0 1 0 1-1 1 2 1-3 1-2 1 1 1-2 1 2 1 1 1 0 1 0 1 1 1-2 1 0 1 1 1 0 1 0 1-1 1 1 1 0 1 0 1 3 1-1 1-1 1-1 1 0 1 0 1 2 1 0 1-1 1 1 1-1 1 1 1-2 1 3 1-2 1 1 1 1 1-1 1 0 1 2 1-2 1-3 1 4 1 0 1-2 1 1 1 0 1 0 1-1 1 2 1 0 1-3 1 2 1 2 1-3 1 1 1 0 1-1 1 0M0 14l1 1 1-1 1-1 1-1 1 1 1-1 1 2 1 2 1-1 1-1 1 3 1-4 1 1 1 0 1 0 1-2 1 1 1 1 1-1 1-1 1 0 1-1 1 2 1-1 1 0 1-1 1 1 1 0 1 0 1-2 1 2 1-1 1-2 1 1 1 3 1-2 1-3 1 1 1-3 1 3 1-3 1 1 1 0 1 0 1 1 1-1 1 0 1-1 1-1 1-3 1 2 1 2 1-1 1 1 1 0 1 0 1 0 1-1 1 0 1 1 1-1 1 0 1 2 1 0 1-1 1-1 1 1 1 0 1 1 1-1 1 1 1-2 1 1 1 1 1-2 1-1 1 2 1-1 1-2 1 0 1 1 1 2 1 0 1-2 1 2 1 0 1 0 1-1 1 0 1 1 1-1 1 0 1 0 1 0 1-1 1 4 1-4 1 0 1 1 1 1 1-1 1 1 1-2 1 0 1-1 1 2 1-4 1 1 1 0 1-2 1 2 1 0 1 1 1-2 1 3 1-1 1 0 1 2 1-2 1 2 1 0 1-2 1 0 1 2 1 0 1-2 1 1 1 0 1 1 1-4 1 2 1 1 1-1 1 0 1 0 1 0 1 1 1 2 1-2 1 0 1-2 1 1 1-2 1 2 1-1 1 0 1-3 1 3 1 1 1-1M0 -23l1 1 1-4 1 3 1 0 1 1 1 2 1 0 1 3 1 2 1 0 1 0 1 4 1 0 1-1 1 0 1-2 1 0 1 1 1 0 1 3 1-2 1-2 1 1 1 2 1 1 1 1 1-2 1 4 1-1 1 2 1-1 1 0 1-1 1 3 1 0 1-1 1 2 1-1 1 0 1 0 1-1 1 2 1 0 1 0 1 0 1 1 1-1 1 0 1-1 1 1 1-2 1 1 1 1 1 2 1-3 1 1 1 0 1-1 1 0 1 3 1 1 1-3 1 3 1 1 1-2 1 0 1 0 1-1 1 4 1-3 1 0 1 0 1 1 1-2 1 0 1 1 1 0 1 1 1 0 1 1 1-1 1 1 1-1 1 0 1 0 1-1 1-1 1 1 1 2 1-1 1 2 1 1 1-2 1-1 1 2 1-1 1 0 1 4 1-5 1-2 1 3 1-2 1 0 1 0 1 3 1-2 1 1 1 1 1 2 1-2 1 1 1 1 1-1 1-1 1 0 1 1 1 0 1-1 1 0 1 1 1-1 1 1 1 0 1-1 1 1 1-1 1-1 1-1 1-1 1 4 1-2 1-2 1 1 1 1 1 3 1-5 1 2 1 0 1-1 1 2 1-2 1 3 1-1 1 0 1 0 1 1 1 1 1-1 1-1 1 1M0 -11l1 0 1 1 1-3 1 3 1-1 1 0 1-1 1 2 1 2 1-1 1-1 1 3 1-1 1 0 1 0 1-1 1 0 1 0 1-1 1 0 1 0 1 0 1-1 1 1 1 1 1-1 1 4 1-1 1-1 1 2 1 0 1 1 1-1 1-1 1 1 1 0 1-2 1-1 1 0 1 0 1-1 1 2 1 0 1-1 1-2 1 0 1 4 1-2 1 1 1 0 1 0 1 0 1 2 1-1 1 1 1-3 1 1 1 1 1 2 1-1 1-2 1-3 1 2 1 0 1 1 1 0 1 2 1-2 1-2 1 3 1-1 1 1 1 0 1-2 1-2 1 1 1 0 1 0 1 4 1-3 1 0 1 0 1 1 1-2 1 1 1 2 1 0 1-1 1 1 1 0 1 1 1-2 1 0 1-2 1 3 1 0 1-2 1 1 1 1 1 0 1 0 1-3 1 2 1 1 1-1 1-1 1-1 1 1 1 0 1 1 1 0 1-2 1 0 1 1 1 1 1-3 1 2 1 2 1-2 1 2 1-2 1 1 1 1 1 1 1-1 1 1 1-1 1 1 1 0 1-2 1 0 1 1 1 1 1 1 1-2 1 2 1 0 1 0 1-3 1 3 1-2 1 1 1-1 1-1 1 1 1 0 1 0 1-1 1-1 1 2M0 52l1-2 1-3 1-4 1 0 1-3 1-1 1 1 1 1 1-3 1-5 1 2 1-3 1 0 1 1 1-2 1-2 1-3 1 1 1-3 1 1 1-3 1 0 1-2 1-3 1 1 1-2 1-2 1 0 1 1 1 0 1-1 1-1 1 1 1 1 1-2 1-1 1-2 1 0 1 0 1-3 1 0 1 1 1 1 1 1 1-3 1 0 1 1 1-4 1 1 1 1 1-2 1 0 1 0 1 1 1-3 1 3 1 1 1-1 1 1 1-1 1-1 1-1 1 1 1 0 1-1 1 1 1-1 1-2 1 0 1-1 1 0 1 0 1 0 1 2 1-4 1 2 1 1 1-1 1 0 1 0 1-1 1 0 1 2 1-1 1-2 1 2 1 1 1-2 1 0 1 0 1 1 1-1 1-1 1 1 1-1 1 0 1-1 1 3 1 1 1-1 1 1 1 0 1 0 1-1 1-4 1 2 1-1 1 0 1 2 1 0 1-1 1 0 1 0 1 0 1-3 1 2 1 0 1 2 1-1 1 2 1 0 1-1 1 1 1 1 1-2 1 1 1-1 1 0 1 0 1 1 1-2 1 1 1 2 1-3 1 1 1 0 1 0 1-2 1 1 1 0 1 0 1 0 1 1 1-2 1 2 1-1 1 2 1 0 1 1 1 1M0 -6l1-2 1 0 1-3 1 2 1 1 1-1 1 0 1 1 1 0 1 1 1 0 1 3 1-5 1 1 1 0 1-1 1 0 1-1 1 0 1 2 1-1 1-1 1 1 1 0 1-1 1 0 1 3 1 1 1-1 1 1 1 0 1-1 1 1 1 0 1-3 1 3 1-1 1-2 1 1 1 2 1-1 1-3 1 2 1 1 1 0 1 1 1 1 1 0 1 1 1-1 1-2 1 2 1-1 1 2 1-1 1-1 1 5 1-4 1-1 1 1 1-2 1 1 1 2 1-3 1-2 1 1 1 1 1-2 1 2 1 0 1 0 1 2 1 1 1-1 1-1 1 0 1-1 1 3 1-1 1 3 1-4 1 1 1 0 1-1 1 1 1 2 1-1 1 1 1-1 1-1 1 1 1 0 1-3 1 3 1 0 1-1 1-2 1 1 1-1 1 0 1-1 1 0 1 1 1 0 1-1 1 1 1 0 1 1 1 0 1-2 1 1 1 2 1 0 1-1 1 1 1-2 1-1 1 0 1 1 1 0 1 0 1-1 1-1 1 0 1 0 1 2 1-2 1 1 1-2 1 3 1 0 1 1 1-1 1 2 1-1 1 1 1 1 1-2 1 2 1-2 1 1 1-2 1 2 1 0 1-1 1-1 1 3 1-2 1 2 1 0M0 -7l1-3 1 0 1 2 1 1 1 0 1 1 1 0 1-1 1 0 1 2 1-2 1 2 1-3 1 2 1 2 1 0 1 0 1 3 1-2 1-1 1-1 1 5 1-3 1 2 1-1 1 0 1 1 1-1 1 4 1 0 1-1 1 1 1-1 1-1 1 1 1-1 1 0 1-1 1 2 1-1 1-2 1 2 1 3 1-2 1 1 1-2 1 1 1 1 1 0 1 1 1-3 1 0 1 1 1 0 1-1 1 2 1-3 1 1 1 1 1-2 1 3 1-2 1 0 1 0 1 1 1 1 1-4 1 4 1 0 1 0 1-2 1 1 1-1 1 2 1-1 1-2 1 2 1 1 1 1 1-1 1 1 1 1 1 0 1 0 1-1 1 1 1 1 1-2 1 1 1 0 1-1 1 2 1 0 1-2 1 1 1 0 1-1 1-1 1 1 1 2 1-2 1 1 1 0 1-2 1 1 1-1 1 1 1 0 1-2 1 2 1-1 1-1 1 1 1-1 1 1 1 0 1 1 1-2 1 1 1-1 1 2 1 0 1 0 1-1 1-2 1 0 1 2 1-2 1 2 1-1 1 2 1 0 1 3 1 0 1-1 1 1 1-2 1 0 1 1 1 1 1 2 1-2 1 0 1-1 1-1 1 1 1-1 1-2 1 1 1 0M0 7l1-2 1 0 1-2 1-3 1-1 1 1 1-1 1-2 1 4 1 0 1-1 1-1 1-1 1 1 1 3 1-1 1 0 1 0 1 1 1-3 1 0 1 0 1-1 1 1 1 0 1 2 1-2 1-1 1 2 1 0 1-1 1 1 1-1 1-1 1 1 1 0 1 0 1-3 1 3 1 0 1-1 1 1 1-2 1 1 1-2 1 2 1 0 1 0 1 1 1-1 1 1 1 0 1 0 1-1 1 1 1-2 1-1 1 2 1-2 1 1 1 0 1 2 1-2 1 1 1-1 1 0 1 0 1 0 1 0 1-1 1-1 1 4 1-1 1 0 1 2 1-1 1-2 1 3 1-2 1 1 1-2 1 3 1-2 1 0 1 2 1 1 1-2 1 0 1-1 1 2 1 0 1-2 1 1 1 0 1 0 1 1 1-1 1 1 1-2 1 1 1 2 1-3 1 1 1-3 1 3 1 0 1 0 1 0 1 0 1-1 1 0 1 3 1-1 1-2 1 0 1-1 1 0 1 1 1 1 1-1 1 1 1 1 1-3 1 2 1 0 1-1 1 1 1-2 1 1 1-1 1 0 1-1 1 1 1 1 1 1 1-1 1 1 1 0 1-1 1 0 1 0 1-2 1 2 1-1 1 1 1 1 1-1 1 1 1-1 1 1M0 17l1 0 1-2 1-3 1-2 1 2 1-2 1-3 1 2 1 1 1 0 1-4 1-3 1 2 1-1 1 0 1 0 1 1 1-3 1 0 1-1 1 2 1-1 1 0 1-1 1 0 1 2 1-2 1-1 1 1 1 0 1 1 1-4 1 0 1 1 1-2 1 0 1 2 1 0 1 3 1 0 1-2 1 2 1 0 1-2 1 2 1 1 1-1 1-1 1 1 1-1 1 0 1-3 1 3 1-1 1 2 1 0 1-2 1 2 1 0 1-1 1-1 1 0 1-1 1 3 1-1 1 0 1 1 1-2 1 3 1-3 1 1 1 0 1 1 1-2 1 0 1 0 1-1 1-1 1 1 1 2 1 1 1 0 1 0 1 2 1-3 1-1 1 1 1-1 1 1 1-2 1 2 1-1 1 0 1 0 1 0 1 0 1 0 1-1 1 0 1 1 1 2 1-1 1-2 1 2 1 0 1 0 1 0 1 0 1 0 1 0 1 0 1-1 1 1 1 0 1 0 1 0 1-2 1 0 1 0 1-1 1 1 1 0 1 0 1 1 1 0 1-2 1 1 1 0 1-1 1 1 1 1 1 1 1 0 1-1 1 1 1 1 1 0 1-1 1-1 1-1 1 1 1-1 1 1 1 0 1 0 1-1 1 0 1 0 1 2 1-1M0 50l1-4 1-5 1-6 1-3 1-4 1-2 1-2 1-2 1-3 1-4 1-2 1-2 1-3 1 0 1 0 1-1 1-1 1-1 1-1 1 2 1-2 1 0 1-2 1-1 1-1 1 1 1 0 1 0 1-1 1 0 1-3 1 0 1 1 1 1 1-1 1 1 1 0 1 1 1-3 1-1 1-1 1-1 1 3 1-1 1 1 1 2 1 0 1-1 1-1 1 1 1-1 1 0 1 0 1 1 1 1 1-1 1 0 1-1 1-1 1 1 1 3 1-2 1 1 1-3 1-2 1 1 1 0 1 2 1 1 1-1 1 1 1-1 1 0 1-1 1 2 1 0 1 0 1 0 1-1 1 1 1-3 1 1 1 2 1 1 1-2 1-1 1 0 1 2 1-1 1-1 1 1 1-1 1 2 1 1 1-3 1 1 1 0 1 1 1 1 1-1 1 0 1 2 1 1 1-2 1-1 1 1 1-1 1 2 1-2 1 0 1 0 1-1 1 2 1-2 1 1 1-1 1-1 1 0 1 1 1-1 1 1 1-1 1 0 1 2 1 0 1 0 1 1 1-3 1 2 1-3 1 1 1 1 1-2 1 1 1 0 1 0 1 0 1 1 1-2 1 1 1 2 1-1 1 0 1-1 1-1 1 1 1 1 1 1 1-1 1 3M0 -15l1-1 1 2 1-1 1-2 1 3 1-1 1 1 1 1 1-2 1 1 1-1 1 3 1 1 1 0 1 3 1-1 1 0 1-1 1 1 1 0 1-1 1 2 1 1 1 2 1 0 1 0 1 1 1 0 1 2 1-2 1 1 1 3 1-3 1 2 1 0 1 0 1 1 1-2 1 0 1 2 1-1 1 0 1 0 1-1 1 2 1 0 1 1 1-3 1 2 1 2 1 0 1-2 1 2 1-2 1 1 1-1 1-2 1 2 1 1 1 0 1 1 1-2 1-3 1 3 1 0 1 0 1-2 1 1 1 3 1-3 1-1 1 2 1-1 1-1 1 3 1 1 1 0 1-3 1 1 1 2 1-2 1 1 1 2 1-1 1-1 1 0 1 2 1 0 1 1 1 0 1-2 1 2 1 1 1-3 1 1 1-1 1-1 1-1 1 1 1 1 1-2 1 1 1 1 1 2 1-2 1-1 1 1 1-1 1 0 1 0 1-2 1 3 1 2 1-3 1 0 1 0 1 2 1-1 1 0 1-1 1 1 1 2 1-1 1-2 1 1 1 3 1-1 1 0 1-2 1 0 1 0 1 0 1 0 1-1 1 1 1-2 1 1 1 0 1 1 1-1 1 1 1 0 1 0 1 1 1-1 1 1 1-1 1-2 1 4 1-3M0 -6l1-1 1-1 1 0 1 2 1 0 1 1 1 0 1 1 1 0 1 1 1 0 1 2 1-2 1-1 1-2 1 3 1-2 1-3 1 4 1 0 1-1 1 2 1-1 1 0 1 2 1-1 1 0 1-3 1 3 1-1 1 0 1 0 1 1 1-3 1 2 1-1 1 3 1-1 1 0 1 0 1-3 1 4 1-2 1 1 1-1 1 1 1 1 1-1 1 0 1 1 1 0 1-1 1 1 1 1 1-1 1 0 1-1 1 0 1 0 1 0 1 1 1 1 1-3 1 3 1-2 1 0 1-2 1 4 1-1 1-1 1 1 1 0 1 1 1-2 1 0 1-1 1 0 1 1 1 0 1 1 1 0 1-2 1-1 1 0 1 3 1-2 1 0 1 2 1-2 1 2 1-1 1 2 1 1 1-3 1 1 1 0 1 2 1-1 1 0 1-2 1 1 1-1 1 2 1-1 1-1 1-2 1 1 1 1 1 1 1-1 1 1 1 0 1-1 1 1 1 0 1 1 1-1 1 1 1-3 1 4 1 2 1-3 1 0 1 0 1-1 1 2 1-1 1 0 1 2 1-2 1-1 1 0 1-2 1 3 1 0 1 1 1 1 1-1 1 0 1 0 1 1 1-2 1 1 1 1 1-2 1 1 1 0 1 0 1 1 1 0M0 -45l1 4 1 0 1 6 1 1 1 4 1 1 1 3 1 2 1 0 1 4 1 3 1 3 1-1 1 0 1 0 1 3 1-2 1 1 1 0 1 1 1 0 1 0 1 0 1 1 1-1 1 0 1 2 1 0 1-1 1 1 1 1 1 0 1 1 1 1 1 1 1-1 1 0 1 0 1 3 1-2 1-1 1 2 1 0 1 0 1-1 1-1 1 3 1-2 1-2 1 2 1-1 1 0 1-3 1 4 1 0 1-1 1 1 1-3 1 2 1-1 1 0 1-1 1-1 1 4 1 1 1-1 1-2 1 2 1 2 1-2 1 0 1 1 1-1 1-2 1 2 1 1 1-1 1 1 1 0 1 0 1 0 1 0 1 1 1-1 1 2 1 1 1 0 1 1 1-2 1 0 1-1 1 2 1-1 1-1 1 0 1-1 1 1 1 1 1 1 1 0 1-1 1 0 1 0 1-1 1 1 1-2 1 3 1 0 1-1 1-1 1 2 1 0 1-4 1 2 1 2 1-1 1 0 1-1 1 1 1-1 1 1 1-1 1 2 1-1 1-2 1 1 1-2 1 1 1 0 1-1 1 1 1-1 1-2 1 1 1 1 1 0 1-2 1 3 1-2 1 1 1 1 1 0 1 2 1 0 1 0 1-1 1 2 1-3 1 1 1-2M0 -26l1 5 1-1 1 3 1 0 1 1 1 2 1 0 1 1 1 2 1 2 1 0 1 1 1-1 1 0 1 1 1 1 1 1 1-1 1 3 1 0 1 2 1 1 1-2 1 1 1 0 1 2 1-2 1 0 1-1 1 2 1 1 1 0 1-1 1 0 1 0 1 0 1 2 1-1 1 1 1 0 1 0 1-1 1 2 1 0 1-2 1 4 1-4 1 1 1 0 1 2 1-1 1 2 1 1 1-2 1 1 1-3 1 1 1 0 1-1 1 0 1 0 1 1 1-1 1 2 1 2 1-3 1 1 1 2 1 1 1-5 1 2 1 0 1 1 1 0 1-1 1 1 1 0 1 0 1-2 1 1 1 0 1 1 1 1 1 0 1-2 1 2 1-1 1-1 1 0 1 1 1-2 1 3 1-2 1-1 1 1 1 1 1-1 1 1 1-1 1 0 1-1 1-2 1 3 1-1 1 1 1 1 1-2 1 1 1-1 1 0 1 1 1 1 1 1 1-4 1 1 1 3 1-1 1 1 1 0 1 0 1-1 1 1 1 1 1 0 1-1 1-1 1 0 1 0 1-1 1 1 1 0 1-1 1 1 1-2 1 1 1-2 1 3 1-2 1 1 1-1 1-1 1 0 1 1 1 0 1-1 1 1 1 2 1 1 1-1 1 1M0 -19l1-1 1 3 1 1 1 0 1-1 1 0 1-1 1 1 1 3 1 0 1 1 1 0 1-2 1 3 1 1 1-1 1 1 1 1 1 0 1-1 1 0 1 1 1-4 1 4 1-2 1 3 1 1 1 0 1 1 1-2 1 0 1-1 1 2 1 1 1-2 1 2 1 0 1-3 1 1 1 1 1-1 1 2 1-3 1 2 1 2 1 0 1-1 1 2 1 0 1 1 1-2 1 0 1 1 1 1 1-2 1 0 1-2 1 3 1 1 1-1 1 0 1-1 1 2 1 1 1 0 1-4 1-1 1 3 1-1 1 1 1-2 1 2 1-1 1-1 1-1 1 2 1 0 1-1 1 0 1 1 1-1 1 1 1 2 1 0 1-1 1 1 1 0 1-2 1-3 1 4 1-4 1 2 1-2 1 2 1-1 1-1 1 2 1-1 1-1 1 1 1 1 1 0 1 0 1 1 1-2 1 2 1 0 1 0 1 0 1 0 1 2 1-1 1 0 1-1 1 1 1-2 1 0 1 2 1-1 1 2 1-1 1 0 1 0 1 1 1-1 1 2 1-1 1-1 1 2 1-1 1 1 1-3 1 2 1 2 1-1 1-1 1 1 1 0 1-2 1 2 1-1 1 1 1 1 1 1 1-1 1-1 1 1 1-1 1 2 1-2M0 -29l1 0 1 2 1 4 1-1 1 2 1 1 1 5 1-2 1 3 1-1 1 0 1 1 1 2 1 2 1-2 1 2 1 0 1 0 1-1 1 3 1 1 1 0 1 1 1 0 1-1 1-1 1 2 1 0 1-1 1 1 1-2 1 1 1 1 1 3 1-2 1-2 1 2 1-1 1 2 1-1 1 3 1-6 1 4 1 0 1 0 1-2 1 2 1 0 1 0 1-1 1 1 1 1 1 0 1 0 1 3 1-3 1 1 1-1 1-1 1 0 1 3 1 0 1-3 1 1 1 2 1-1 1 1 1 0 1 1 1 0 1 0 1 1 1-2 1 0 1 3 1-1 1 1 1-1 1 0 1-2 1 3 1-2 1-1 1 1 1-1 1 1 1 0 1-1 1 0 1 2 1-1 1-2 1 1 1-1 1 1 1 0 1 0 1 0 1 1 1-2 1 2 1 2 1-2 1 0 1-1 1 0 1-1 1-1 1 2 1 2 1-4 1 3 1-2 1 2 1-2 1-1 1 1 1 1 1-1 1 2 1-1 1 0 1 1 1-2 1 3 1 0 1 0 1-2 1-1 1 2 1-2 1 1 1 1 1-1 1 1 1-3 1 3 1 0 1 1 1-2 1-1 1 1 1 4 1-3 1 0 1-1 1-1 1 3 1-1 1 1M0 -1l1 2 1-2 1 0 1 5 1 0 1 1 1-2 1 0 1-1 1 2 1-2 1 1 1-1 1 0 1-1 1 2 1-2 1 1 1 2 1-1 1-2 1-2 1 2 1-1 1 0 1-1 1 1 1 0 1 1 1 2 1-3 1 2 1-2 1 2 1-2 1 0 1 0 1-1 1 4 1-3 1 1 1-1 1 2 1 0 1 0 1 0 1-2 1 1 1 1 1-2 1 2 1-1 1-2 1 1 1 1 1 0 1-2 1 0 1-1 1 0 1 1 1 2 1 0 1-1 1-1 1 3 1 0 1 1 1-2 1 1 1 1 1 0 1-1 1 0 1 0 1 2 1-1 1-1 1 2 1-2 1 0 1 0 1 1 1 0 1 0 1-1 1-1 1 0 1 0 1 1 1-2 1 1 1-3 1 2 1 0 1-2 1 2 1 0 1 1 1-2 1-1 1 2 1-1 1 2 1-3 1 2 1-2 1 3 1-2 1 1 1-2 1 1 1-1 1 1 1 1 1-1 1 1 1 0 1 1 1-1 1 0 1-2 1 2 1 2 1-2 1 0 1 1 1 0 1-2 1 2 1 0 1-1 1 1 1 1 1 0 1-2 1 2 1 0 1 0 1-1 1-3 1 3 1-2 1 0 1 0 1 1 1 0 1 1 1-1 1-1M0 25l1-6 1-2 1-1 1 3 1-3 1-2 1-4 1 1 1-1 1 0 1-1 1-4 1-2 1 4 1-2 1 0 1-2 1-2 1 2 1 1 1 0 1-2 1 0 1 0 1 0 1-1 1 0 1 0 1 0 1 1 1 2 1 0 1-2 1-1 1 0 1-1 1 1 1 0 1 1 1-2 1 1 1-1 1 2 1 0 1-1 1-2 1 2 1-2 1 1 1-1 1-1 1 1 1 0 1 1 1 1 1-2 1-1 1 1 1 0 1 0 1 0 1-1 1 2 1-1 1-1 1 1 1 0 1 2 1-2 1 0 1 0 1 2 1 0 1-3 1 1 1 0 1-3 1 0 1 2 1 1 1-1 1 0 1 0 1 2 1-3 1-1 1 0 1 0 1 2 1-2 1-1 1 0 1 2 1-2 1 2 1-1 1 0 1-1 1 2 1 0 1 0 1-1 1 2 1 0 1-3 1 3 1-2 1 0 1 1 1 2 1-4 1 2 1 1 1 0 1-2 1 1 1-2 1 0 1 2 1 0 1 1 1-2 1-2 1 2 1 2 1 0 1 0 1-2 1 1 1 1 1-2 1 1 1 1 1 1 1-3 1 0 1 2 1-1 1-1 1 3 1-4 1 4 1-2 1 0 1-1 1 0 1 1 1-1 1 0 1-1M0 -13l1 0 1 1 1 1 1 0 1 2 1 1 1-1 1 0 1-1 1 2 1-2 1 1 1-1 1 3 1 1 1-1 1-1 1 0 1 2 1 1 1 0 1-1 1 0 1-1 1-2 1-1 1 0 1 3 1 1 1-2 1 1 1 0 1 2 1 0 1-1 1 1 1 0 1-1 1 0 1-1 1 2 1 0 1 0 1 0 1-1 1-3 1 4 1 0 1-2 1-1 1 0 1 4 1 0 1-2 1 0 1 2 1-1 1 0 1-1 1 2 1-1 1 2 1 1 1 1 1-1 1 1 1-2 1-2 1-1 1 2 1-1 1 1 1-1 1 0 1 1 1-1 1-1 1 2 1-1 1-1 1 1 1 1 1 0 1-1 1-2 1 1 1 0 1-1 1 1 1 0 1 0 1 0 1-1 1 1 1 0 1-1 1 0 1 2 1 1 1-2 1 1 1-1 1 0 1 0 1 2 1-1 1-1 1 2 1 0 1 2 1-4 1 3 1-2 1-1 1 1 1 1 1-1 1 0 1 0 1 1 1 1 1-1 1-1 1-1 1 2 1 0 1-2 1-2 1 1 1 1 1-2 1 3 1 1 1-1 1-1 1 1 1-1 1 0 1-2 1 2 1-2 1 2 1-1 1 0 1 1 1 0 1 1 1 1 1 1 1-2M0 14l1 1 1-1 1-3 1 0 1 0 1-2 1 1 1-4 1 0 1-3 1 3 1 0 1-2 1 5 1-3 1-2 1 2 1 0 1 1 1-2 1 3 1-2 1-2 1 0 1 3 1-2 1 2 1-1 1 1 1-1 1-1 1 1 1 0 1 0 1-2 1 0 1 2 1-3 1 0 1 4 1-4 1 1 1-2 1 1 1 2 1-5 1 3 1-1 1 1 1-1 1 3 1-3 1-1 1 3 1-1 1 0 1-1 1 2 1-1 1 0 1-3 1 0 1 1 1 1 1-1 1 1 1-1 1 0 1 0 1 2 1 1 1-2 1-1 1 3 1-3 1 1 1-1 1 1 1 0 1-1 1 2 1-2 1 2 1-1 1 1 1-1 1 1 1-2 1 2 1-2 1-1 1 2 1-1 1 0 1 0 1 1 1-2 1 3 1-1 1-2 1 1 1 2 1 0 1-1 1-2 1 4 1 0 1-2 1 1 1 1 1-1 1 1 1-1 1-1 1-1 1 2 1 1 1-2 1 0 1 1 1-2 1 1 1 0 1 2 1-2 1-2 1 2 1 1 1 1 1-1 1-2 1 3 1-1 1 0 1 0 1-1 1-1 1 0 1 1 1-1 1 1 1 1 1-2 1-1 1 2 1 1 1 0 1-1 1-1 1-1M0 -4l1 2 1 2 1-4 1 2 1 1 1 2 1-2 1 3 1-4 1 0 1 2 1-3 1 4 1 0 1-1 1 1 1-1 1 0 1 3 1-3 1 2 1 0 1-1 1-1 1 1 1-2 1 0 1 1 1-3 1 1 1 0 1 2 1 0 1-1 1 1 1 0 1-1 1 0 1 0 1 4 1-2 1-3 1 1 1 2 1 0 1 0 1-3 1 1 1 1 1-1 1 0 1 0 1 1 1 3 1 0 1-1 1-1 1-2 1 1 1 0 1 1 1-1 1 1 1 0 1 1 1-1 1 1 1 1 1-2 1 3 1-1 1-2 1 3 1-1 1-2 1 1 1 0 1-5 1 1 1 3 1 0 1 2 1-1 1 2 1-1 1-1 1 2 1 0 1-2 1-1 1-1 1-1 1 1 1 0 1-1 1 4 1-4 1 1 1 2 1 1 1-1 1 0 1-2 1 2 1 0 1 0 1 0 1 1 1-1 1 0 1 0 1 0 1-1 1 0 1 1 1 1 1 1 1-2 1-2 1 1 1 1 1 0 1-1 1 0 1-1 1 1 1 0 1 0 1 1 1-2 1 3 1-2 1 0 1 1 1 0 1 0 1 2 1-3 1 0 1-2 1 2 1-2 1 0 1 0 1-2 1 3 1-2 1 3 1-4 1 1M0 10l1 4 1-1 1-3 1-2 1 0 1 1 1 0 1 4 1-4 1 2 1-1 1-3 1-1 1 2 1 0 1 0 1 0 1 0 1-1 1-1 1 2 1-1 1-2 1 4 1-3 1 2 1-1 1 3 1-4 1 0 1 2 1 0 1-2 1 1 1-1 1 0 1 0 1 1 1 0 1 0 1 0 1 1 1-1 1 0 1 2 1-1 1-1 1 0 1 0 1-1 1 0 1-2 1 3 1-2 1 2 1-1 1 2 1-3 1 0 1 1 1 0 1 0 1 1 1-1 1 1 1-1 1 0 1 1 1-1 1-2 1-1 1 2 1-2 1 2 1-1 1 2 1-1 1 1 1 0 1 0 1-1 1 1 1-1 1-1 1 2 1-1 1 1 1 1 1-1 1 0 1-1 1 2 1-2 1 0 1 0 1-1 1 0 1 1 1 0 1 0 1-1 1 1 1 0 1 0 1 0 1 0 1 2 1-2 1 1 1-4 1 3 1-1 1 1 1 2 1-3 1 2 1-2 1 0 1 3 1 0 1-3 1 2 1-2 1 1 1 1 1-1 1 1 1-2 1 2 1-1 1-1 1 0 1 1 1 1 1-3 1 2 1-2 1-2 1 2 1 0 1 1 1 0 1 2 1-4 1 2 1 0 1 0 1 0 1 1 1 1M0 11l1 1 1-5 1 3 1 0 1-2 1 1 1 0 1 0 1-1 1-1 1 1 1 0 1-3 1 2 1-4 1 1 1-1 1 0 1 0 1 2 1 1 1-2 1-1 1-2 1 2 1 0 1-1 1 0 1-1 1 0 1 0 1 1 1-2 1 1 1 1 1 0 1 0 1-1 1 1 1-1 1-1 1 0 1 3 1 2 1-1 1 0 1 0 1-1 1 0 1 0 1 1 1 1 1-1 1-1 1 2 1-3 1 2 1-1 1 1 1-2 1 1 1 1 1-2 1 0 1 2 1-2 1 0 1-2 1 0 1 1 1 0 1-1 1 2 1 0 1 1 1 1 1 0 1-2 1 2 1 1 1-1 1-1 1 1 1-1 1 2 1-3 1 0 1-1 1-1 1 1 1 3 1 0 1-2 1 2 1 0 1 0 1-3 1 2 1 1 1-1 1-1 1 0 1-1 1 1 1 0 1 1 1 0 1 2 1-1 1 0 1 0 1-3 1 3 1 1 1 1 1-2 1-1 1 2 1 1 1-1 1-2 1 1 1-1 1 3 1-2 1 1 1-1 1 1 1-2 1 1 1-1 1 2 1-1 1-1 1 0 1-1 1 2 1-2 1 0 1 1 1 0 1-2 1 1 1 2 1-3 1 1 1 0 1 1 1-1 1-1M0 -11l1 0 1 1 1-1 1 2 1 0 1 0 1 4 1 0 1-1 1-1 1-1 1-1 1-2 1 0 1 2 1-2 1 1 1 2 1 1 1 0 1 1 1-1 1-2 1 0 1-3 1 1 1 0 1 2 1 0 1-1 1 0 1 0 1 0 1 1 1 2 1-1 1 1 1 0 1 0 1-2 1 2 1 2 1-1 1 1 1 2 1-2 1-2 1 2 1 0 1 0 1-1 1 0 1 1 1 0 1 1 1 0 1-1 1 1 1 0 1-2 1 0 1 1 1-1 1 0 1 1 1-1 1 2 1-2 1 2 1 0 1 0 1 0 1 0 1 0 1 0 1-1 1 1 1-1 1 1 1-2 1 3 1 0 1-3 1 1 1 1 1-1 1-1 1 0 1 1 1-1 1-1 1 1 1 0 1-2 1 3 1 0 1-1 1 2 1-2 1 2 1-2 1 2 1 0 1-1 1 0 1 1 1 0 1-1 1 1 1 1 1 0 1-1 1-1 1 1 1-2 1 2 1-1 1 3 1-3 1 2 1 0 1-1 1-2 1 2 1 0 1-1 1 1 1-1 1-1 1 1 1 0 1 1 1-1 1-1 1 1 1-1 1 0 1 2 1 0 1-1 1 1 1 1 1-1 1 1 1 3 1-2 1-2 1-1 1 1 1 0M0 -3l1 2 1-1 1-1 1 2 1 0 1-3 1 0 1 2 1 2 1 2 1 3 1-2 1-1 1 0 1-1 1 2 1 1 1-2 1 1 1 0 1-1 1 2 1-3 1 1 1 0 1-2 1 1 1-1 1 1 1 1 1-1 1-1 1 1 1-2 1 1 1-1 1 2 1-1 1 2 1-1 1 0 1 1 1-1 1 1 1 0 1-1 1 0 1 2 1-4 1-2 1 2 1 1 1-2 1-1 1 1 1 0 1 3 1-2 1-1 1 0 1 0 1-1 1 0 1 1 1 1 1-1 1-2 1 2 1-1 1 2 1 0 1 2 1 0 1 1 1-2 1 1 1 2 1-2 1-1 1 2 1-1 1 0 1 1 1-2 1 1 1-3 1 2 1 0 1-2 1 0 1 0 1 1 1 0 1 0 1-2 1 3 1-1 1 0 1-2 1 1 1-3 1 2 1 2 1-1 1 0 1 0 1 0 1 0 1 0 1-1 1 1 1-2 1 1 1 1 1-1 1-1 1-1 1 2 1 1 1-1 1 2 1-2 1 0 1 0 1 0 1-3 1 4 1 0 1 3 1-2 1 1 1 1 1-1 1-2 1 3 1-2 1 1 1 0 1 0 1-1 1 1 1-1 1 1 1 1 1-2 1 1 1 2 1-2 1 1 1 0M0 -6l1-1 1 0 1 1 1 1 1 0 1 2 1-1 1 0 1-2 1 2 1-4 1 2 1 0 1-1 1-1 1 1 1 1 1-2 1 0 1-1 1 2 1-1 1 2 1-1 1-1 1 0 1 2 1-1 1 0 1 0 1 1 1 0 1 0 1 0 1 1 1 0 1-2 1 1 1 1 1-1 1 1 1-2 1-1 1 1 1 3 1-1 1 3 1-2 1 0 1-1 1-1 1-1 1-1 1 1 1 1 1 0 1-1 1-2 1 0 1-1 1 3 1 1 1-3 1 0 1 1 1-2 1 0 1-1 1 2 1 0 1 2 1 0 1 0 1 0 1-1 1 2 1-1 1 2 1-1 1-1 1-1 1 0 1 2 1-2 1 1 1-1 1-1 1 2 1-1 1 1 1 0 1 2 1-1 1-1 1 1 1-3 1 2 1 2 1-1 1-1 1 5 1-1 1-4 1 1 1-1 1 2 1-1 1 0 1 2 1-3 1 2 1 0 1-4 1 4 1 0 1 1 1-2 1 2 1 1 1-2 1 1 1 1 1 0 1-4 1 2 1 2 1-1 1 2 1-2 1-1 1 2 1-2 1-1 1 1 1 1 1 0 1 2 1-1 1-3 1 3 1 1 1-3 1-1 1 0 1 1 1 1 1 0 1 1 1-3 1 1M0 33l1 0 1-1 1-2 1-2 1-2 1-1 1 1 1-2 1-1 1 0 1-2 1 0 1 0 1-3 1 1 1-1 1-1 1-1 1 1 1 1 1-2 1 3 1-1 1-1 1 0 1-1 1 1 1 1 1-4 1 2 1-1 1 0 1-1 1 2 1-4 1-1 1 1 1-3 1 1 1 0 1 0 1-2 1 2 1-2 1 3 1-3 1 4 1-3 1 0 1 0 1 1 1 0 1 0 1 0 1-2 1-1 1 0 1 0 1 2 1-3 1 2 1-1 1-1 1-1 1 1 1 0 1-2 1-1 1 1 1 2 1-2 1 0 1 0 1 0 1-2 1-1 1 1 1-1 1 0 1-1 1 1 1 1 1 0 1 1 1-2 1 1 1-2 1 1 1-2 1 1 1 1 1-2 1 2 1 0 1-1 1 2 1-1 1 1 1-1 1 1 1 0 1 0 1 0 1 0 1 1 1-3 1 0 1 2 1 0 1-2 1 0 1 0 1-2 1 2 1 0 1 0 1 0 1-1 1 3 1-3 1 3 1-1 1 4 1-2 1 0 1 0 1-2 1 2 1-2 1 0 1 1 1 0 1-3 1 2 1 2 1-4 1 2 1 1 1-2 1 0 1 0 1 1 1 0 1 0 1 0 1 1 1-1 1 1 1 0 1-2M0 -12l1 1 1-1 1 3 1 0 1 2 1 2 1-1 1 1 1-2 1-1 1 3 1-2 1 2 1 1 1 0 1-1 1-1 1 1 1 2 1-2 1 4 1-1 1-2 1 2 1-1 1 2 1-2 1 2 1 0 1 0 1 1 1-1 1 1 1-2 1 3 1 0 1-1 1 0 1 2 1-1 1 0 1 0 1 0 1 1 1-1 1-1 1 0 1 2 1-1 1 0 1 1 1-1 1 0 1 1 1-1 1-1 1 1 1 1 1-2 1 3 1-2 1 1 1-4 1 5 1-2 1 0 1 1 1 0 1 1 1 0 1 1 1-3 1 3 1-3 1 3 1-3 1 0 1 0 1 3 1-3 1 2 1 1 1-1 1 1 1-1 1 0 1 0 1 2 1-3 1 1 1-1 1-1 1 1 1-4 1 5 1-1 1-3 1 4 1-2 1-1 1-1 1 2 1-1 1 2 1-2 1 2 1 1 1-2 1 0 1-1 1 0 1 1 1 1 1-1 1 0 1-2 1 1 1 2 1-1 1 0 1 2 1-4 1-1 1 2 1-1 1 3 1-1 1 1 1 0 1 0 1 0 1-3 1 2 1-1 1 3 1-1 1-1 1-3 1 2 1-1 1 1 1 3 1-1 1-2 1 3 1-1 1-2 1-1 1 3 1 0M0 35l1 0 1-3 1 0 1-2 1-2 1 1 1-2 1-2 1 0 1 0 1 0 1 0 1-1 1-3 1-1 1 2 1-1 1 1 1-2 1-2 1-1 1 0 1 1 1-1 1-2 1 1 1-1 1-1 1 0 1-1 1-1 1-1 1 1 1 0 1-2 1 2 1-2 1 0 1 0 1 0 1-1 1 0 1 0 1 1 1 2 1-2 1-2 1 1 1-1 1 1 1 1 1 0 1 0 1-1 1-1 1-1 1 1 1 3 1-2 1 1 1-2 1-1 1 0 1 0 1-1 1-1 1-2 1 3 1-2 1 1 1 2 1 0 1 0 1 0 1 1 1-2 1 1 1-2 1 0 1 1 1-1 1-2 1 3 1-1 1 1 1 0 1-2 1 2 1-3 1 5 1-5 1 1 1 0 1-1 1 1 1-3 1 1 1 1 1-2 1 1 1-1 1 0 1 1 1 0 1 0 1 0 1 1 1 0 1 0 1 0 1 2 1-2 1 0 1 0 1-1 1 1 1 0 1-1 1-1 1 1 1 2 1 1 1 0 1 0 1-3 1 0 1-1 1 0 1 2 1-1 1 1 1-1 1-1 1 0 1 1 1 0 1 2 1-1 1 0 1 2 1-2 1-1 1 0 1 0 1 1 1-1 1 2 1-2 1 1 1 1M0 9l1 1 1-2 1-2 1-4 1 0 1 1 1-1 1 0 1 3 1-1 1-1 1 2 1 0 1-2 1 0 1-2 1 0 1 2 1-3 1-1 1 1 1 2 1-2 1 2 1 2 1 0 1-1 1 1 1-1 1 0 1-1 1 0 1 2 1 0 1-2 1 0 1-1 1 0 1 1 1-1 1-1 1 0 1-2 1 1 1-2 1-1 1 1 1 1 1-2 1 1 1-2 1 1 1 0 1 0 1 1 1 0 1-1 1 1 1 2 1 2 1-2 1 0 1 1 1 2 1-1 1-2 1 0 1-2 1 2 1 0 1 3 1-2 1-2 1 1 1 1 1-2 1-1 1 1 1 3 1 0 1-1 1 1 1 0 1-3 1 3 1 0 1-1 1 2 1-2 1 0 1 2 1-1 1 3 1-2 1 0 1-1 1 0 1 0 1 0 1 0 1 1 1 1 1-2 1-1 1 1 1-2 1 2 1-1 1-3 1 3 1 0 1 1 1-1 1-1 1 1 1 2 1-3 1 1 1 1 1-1 1-2 1 2 1-2 1 0 1-1 1 0 1 0 1 0 1 3 1-2 1-1 1 0 1 1 1 1 1-3 1 0 1 1 1-1 1 3 1-4 1 3 1 2 1-1 1-1 1 2 1 0 1-2 1 1 1 0 1-1M0 -2l1-1 1-2 1-2 1 3 1-2 1 1 1 1 1-2 1 1 1 2 1-3 1 1 1-1 1-1 1 2 1-3 1 3 1 0 1 1 1 1 1-2 1-1 1 4 1-2 1-1 1 2 1 0 1-3 1 0 1 0 1 2 1-1 1 1 1 1 1-1 1 0 1 1 1-1 1 0 1 2 1 1 1 0 1 0 1-1 1 2 1-3 1 0 1 2 1-1 1-2 1-1 1 0 1 4 1 0 1 1 1 0 1 1 1-2 1-1 1-2 1 1 1 1 1-1 1 1 1 1 1-2 1 2 1-2 1 2 1-2 1-2 1 1 1-2 1 3 1 1 1-1 1-1 1 0 1 0 1 2 1-1 1 1 1-2 1-1 1 1 1 2 1-3 1 0 1-1 1 2 1 1 1 1 1-2 1-3 1 3 1-1 1 2 1 0 1-2 1 0 1-2 1 2 1 1 1-1 1 1 1-2 1 1 1 0 1 0 1 0 1 1 1 2 1 0 1-2 1 1 1 0 1-2 1 2 1-3 1 2 1 0 1 0 1 0 1 1 1-4 1 3 1-1 1 1 1-1 1 3 1-3 1 1 1 2 1 1 1-1 1 1 1-2 1-1 1 1 1 2 1-1 1-2 1 0 1-1 1 1 1-2 1 4 1-1 1-1 1 1M0 35l1-2 1 0 1-1 1-1 1-1 1-2 1-4 1 0 1 0 1-2 1 2 1-4 1 0 1-1 1-2 1 0 1 0 1-3 1-2 1 0 1 2 1-3 1-2 1 0 1-3 1 2 1-2 1 1 1-3 1 1 1-2 1 2 1 0 1 1 1 1 1-1 1-1 1 2 1 1 1-2 1-2 1 2 1-1 1-2 1 0 1 0 1-1 1 2 1 0 1-3 1 1 1 0 1 1 1 1 1-2 1 1 1 1 1-1 1-1 1 0 1 1 1-1 1-1 1 3 1-1 1 1 1 0 1-3 1 2 1-1 1 0 1-1 1 0 1-1 1 0 1 0 1 1 1-1 1-1 1-1 1 3 1 0 1 2 1-1 1-2 1 0 1 3 1-4 1 0 1 0 1-1 1 1 1 1 1 0 1 1 1 1 1-1 1 0 1 0 1-1 1 2 1-2 1-2 1 3 1-3 1 1 1 1 1 0 1 0 1-2 1 2 1 0 1-2 1 3 1-1 1 0 1 1 1 0 1-1 1 1 1 0 1-3 1 2 1-1 1 1 1 1 1-1 1 0 1 0 1 1 1-1 1 1 1-1 1 0 1 0 1 1 1-2 1 1 1 0 1 1 1-1 1 1 1 1 1-2 1 0 1 1 1-1 1 0 1-1 1-1M0 -7l1 1 1-1 1 0 1 2 1 1 1-2 1 1 1-1 1 0 1 0 1-3 1 2 1-1 1-1 1 2 1 2 1 2 1-3 1 1 1-1 1 2 1-2 1 3 1 0 1 1 1 1 1-2 1 2 1 1 1 1 1-1 1 1 1 0 1-1 1-1 1 0 1 0 1-2 1 2 1 1 1-2 1 1 1-3 1 3 1-2 1 1 1-2 1 1 1 2 1 0 1 0 1-2 1-1 1 1 1 1 1-1 1-2 1 2 1 0 1 0 1 1 1 0 1 0 1-2 1 1 1-3 1 1 1 1 1 0 1-2 1 0 1 1 1 2 1 0 1-1 1 1 1 0 1 3 1-3 1-1 1 2 1 0 1 1 1 1 1-2 1 1 1 1 1 0 1 0 1-1 1 0 1 0 1 2 1-1 1 0 1-1 1 1 1-2 1 1 1 1 1-1 1 0 1-2 1 1 1 2 1-2 1-1 1 2 1-3 1 1 1 2 1-2 1 0 1 1 1 2 1-2 1 2 1 1 1-1 1-2 1 2 1-1 1 1 1-1 1-1 1 0 1 1 1 0 1-2 1-1 1 2 1 0 1-1 1 1 1 0 1 2 1 0 1-1 1-1 1 3 1-1 1 1 1-1 1 1 1-1 1 1 1-1 1 2 1 0 1 0M0 -9l1 0 1-1 1-1 1 3 1-3 1 1 1-1 1 1 1 2 1 2 1 2 1-1 1 0 1 0 1-1 1 1 1-1 1 2 1-3 1 0 1 1 1 0 1 0 1-2 1 6 1-4 1 0 1 2 1-2 1 1 1 2 1-1 1 1 1-1 1 0 1 1 1-1 1 3 1-3 1 3 1-2 1 0 1 0 1 1 1 1 1 0 1 0 1-1 1-1 1 2 1-1 1-1 1 3 1 1 1 0 1-2 1 3 1-1 1 0 1-2 1 3 1-1 1 1 1-2 1 1 1-1 1 0 1 0 1-1 1-1 1 3 1 0 1 0 1-2 1 1 1-1 1 1 1 2 1-1 1-1 1 2 1 1 1-2 1-2 1 2 1-3 1 3 1-2 1 0 1-1 1 2 1 0 1 0 1 0 1-1 1 2 1-2 1 1 1 0 1 1 1-1 1 0 1-1 1-1 1 1 1 1 1-1 1-1 1 1 1-2 1 3 1 2 1-4 1 2 1-1 1 2 1-2 1 2 1-2 1 1 1-1 1 0 1 0 1 0 1-1 1 0 1 0 1 1 1 1 1-1 1 0 1-1 1 0 1-2 1 2 1 1 1-3 1 0 1 2 1-1 1 0 1 2 1 0 1-1 1 2 1-1 1 2 1-3 1 0 1 1M0 -6l1-3 1 0 1 2 1 0 1-1 1 3 1 0 1 0 1 0 1 0 1 2 1 0 1-3 1-1 1 3 1 3 1-2 1 2 1-1 1 2 1-2 1 2 1-3 1 0 1 1 1 2 1-3 1 0 1 2 1 2 1-2 1 2 1-4 1 0 1 1 1-1 1 1 1-3 1-1 1 2 1 0 1 0 1 2 1-1 1-1 1-2 1 1 1 0 1 2 1 1 1 0 1 1 1-1 1 2 1 0 1-2 1 2 1-2 1 1 1 0 1 3 1-3 1 0 1-1 1 1 1 1 1 0 1 1 1 1 1-2 1 0 1 1 1-1 1 1 1-2 1 3 1-2 1 2 1 0 1-2 1 0 1-2 1 2 1-1 1-2 1-1 1 0 1 2 1 0 1 1 1-1 1 1 1-1 1 0 1-1 1 0 1 1 1 0 1 1 1-1 1 2 1 0 1-1 1 1 1 0 1 0 1-2 1 2 1 0 1 3 1-2 1-1 1 1 1 0 1-2 1 0 1 3 1-2 1 0 1 0 1 1 1-2 1 3 1-3 1 4 1-1 1 1 1-2 1 1 1 1 1-3 1 1 1 1 1-2 1 2 1 0 1-3 1 1 1 0 1 3 1-4 1 1 1 0 1 1 1-1 1-1 1 2 1-1 1-1 1 1M0 42l1-2 1-2 1 0 1-1 1 0 1-4 1 0 1-6 1 3 1-2 1-1 1 0 1-3 1-1 1 0 1-1 1-1 1 0 1 0 1-2 1 2 1-3 1 1 1-3 1 1 1-2 1-2 1 3 1-2 1-2 1 0 1-1 1-1 1 0 1 0 1 0 1 1 1 0 1-2 1 1 1-2 1 0 1 1 1-2 1-1 1-1 1 1 1 0 1 1 1-1 1 0 1 0 1 2 1-4 1 1 1-1 1-1 1 1 1 2 1 0 1-3 1 0 1-2 1 1 1 0 1-1 1-2 1 2 1-1 1-1 1 1 1 0 1-2 1 2 1 1 1-1 1 1 1 0 1 0 1 0 1 0 1-1 1-1 1 1 1 0 1 0 1 0 1-1 1 3 1-1 1 0 1 0 1 1 1 0 1-1 1-2 1 3 1-1 1 1 1-2 1 1 1 0 1-2 1 2 1-2 1-2 1 1 1 1 1 0 1 1 1-1 1-1 1 2 1 0 1 1 1-3 1 1 1 0 1-1 1 0 1-2 1 2 1 1 1-2 1 2 1-2 1-1 1 0 1 1 1-1 1 0 1 2 1-2 1 0 1 1 1 0 1 1 1 1 1-4 1 2 1 0 1-1 1 1 1 0 1-1 1-1 1 0 1 2 1-1 1 2M0 62l1-4 1-2 1-2 1-4 1-3 1 1 1-2 1-3 1-2 1-2 1 0 1-5 1-1 1 0 1 1 1-1 1-1 1-1 1 0 1-3 1 0 1-1 1-3 1 2 1-5 1 2 1-4 1-1 1 1 1-2 1 1 1-1 1-3 1-2 1 0 1-1 1 2 1-4 1 1 1 1 1-3 1 2 1-2 1-1 1 0 1-1 1-1 1 0 1 1 1 1 1-2 1-1 1 0 1 0 1 1 1-4 1 1 1 0 1 1 1 1 1-2 1-2 1 1 1 2 1-4 1 0 1 2 1-2 1 0 1-3 1 0 1-1 1 2 1 1 1 1 1-4 1 1 1-1 1 1 1 0 1 1 1 0 1 0 1 0 1 0 1 2 1 0 1-3 1-1 1 2 1-2 1 0 1 0 1-1 1-2 1 2 1-1 1-1 1 2 1 0 1-2 1 4 1-3 1 1 1 0 1 1 1 1 1-1 1-3 1 1 1 1 1 1 1 0 1 0 1-2 1 1 1-1 1 1 1-1 1 1 1 0 1 0 1 0 1 1 1 0 1-2 1 1 1-1 1 1 1 0 1 0 1 0 1 0 1 1 1-1 1 1 1 0 1-1 1 0 1-2 1 1 1 0 1 0 1-1 1 2 1 0 1 0 1-1 1-1 1 1M0 -28l1-1 1 2 1 1 1 5 1 0 1 2 1-2 1 1 1 0 1 1 1 3 1 2 1-4 1 2 1-2 1 1 1 0 1 2 1 1 1 0 1 2 1 1 1-1 1 0 1 0 1 0 1 1 1 1 1-2 1 6 1-1 1 1 1 0 1 0 1 0 1 1 1-1 1 0 1 2 1-1 1 1 1-1 1 1 1 1 1 0 1 0 1 1 1-3 1 0 1 1 1 0 1 1 1-1 1 1 1 1 1 3 1-1 1-1 1-2 1 1 1 2 1 1 1 2 1-3 1 1 1-1 1 0 1 0 1-2 1 1 1 0 1 0 1 0 1 0 1 1 1-2 1 3 1-2 1-1 1 4 1-2 1 1 1 0 1 0 1 2 1-2 1-1 1 1 1-2 1 2 1 0 1 1 1 0 1-1 1 0 1 0 1 1 1-3 1 2 1 0 1 1 1-1 1 2 1-2 1 1 1 0 1-1 1-2 1 2 1-2 1 1 1-1 1 2 1-1 1 1 1-1 1 1 1 0 1 0 1 1 1 0 1 0 1-1 1 1 1 1 1-2 1-1 1 0 1 1 1 1 1-1 1 1 1 1 1-3 1 0 1 2 1-2 1 0 1 1 1 1 1-2 1 1 1 0 1 0 1 0 1-1 1 0 1 0 1 0 1 0M0 31l1 2 1-3 1-1 1-3 1 3 1-2 1 0 1 1 1-3 1 2 1 0 1-5 1-1 1 3 1-4 1-1 1-1 1 0 1 1 1-2 1-1 1 1 1 0 1 0 1 1 1-3 1 0 1 1 1-1 1 0 1 1 1-1 1 1 1-1 1-1 1-3 1 2 1 1 1 1 1 0 1 0 1 0 1-1 1 0 1-1 1-2 1 3 1-3 1 2 1-3 1-1 1 1 1 2 1-2 1-1 1-1 1 1 1 1 1-3 1 0 1 0 1-1 1 3 1 0 1-1 1 0 1-1 1 0 1 0 1 1 1 0 1-2 1 0 1-1 1-2 1 4 1 1 1-1 1 0 1-1 1 1 1-2 1-1 1 1 1 1 1 0 1-2 1 1 1 0 1 1 1-1 1 2 1-3 1 1 1 0 1 1 1-2 1 0 1 4 1-3 1 2 1-4 1 1 1-1 1 0 1 1 1 0 1 0 1-2 1 0 1 1 1 0 1 1 1-1 1 0 1 1 1-1 1 0 1 1 1 1 1-1 1-2 1 3 1-1 1 0 1-1 1 0 1 0 1 2 1-3 1 3 1 1 1-3 1 1 1 1 1 0 1-3 1 2 1-2 1 3 1-2 1 0 1 0 1 1 1-2 1 1 1 2 1 0 1 1 1-2M0 6l1 0 1 3 1-5 1 0 1 1 1-1 1-4 1-2 1 3 1-1 1 1 1 2 1-3 1 2 1 0 1 2 1-2 1 2 1-1 1 1 1 1 1-4 1 4 1-3 1 0 1 0 1 0 1 2 1-1 1-1 1 3 1 1 1-3 1 1 1 0 1 0 1-3 1 4 1-2 1 2 1-2 1 0 1 2 1-1 1 1 1-2 1 0 1 1 1 0 1-2 1 0 1 2 1 0 1-3 1 4 1-1 1 2 1-3 1 1 1 0 1 1 1-2 1 0 1 0 1 1 1 1 1-3 1 3 1 0 1 0 1-1 1-1 1-1 1-1 1 1 1 0 1 0 1 0 1 1 1 1 1-1 1 2 1-4 1 1 1 0 1 0 1 1 1-1 1-1 1 1 1-2 1 4 1-1 1 1 1 0 1-2 1 2 1-1 1 0 1 1 1-1 1 0 1 1 1-2 1 2 1-1 1 0 1 0 1 0 1-1 1 0 1 0 1 0 1 0 1 1 1-1 1 2 1-2 1 3 1-3 1 2 1 0 1 0 1-2 1 1 1 0 1 2 1-1 1-1 1 0 1-1 1 0 1 1 1 1 1 0 1 0 1 0 1-2 1-1 1 1 1 1 1-3 1 1 1 0 1 0 1 1 1 0 1 1 1 0 1 0M0 -16l1 1 1-1 1 2 1-3 1 6 1 0 1 1 1-2 1 3 1 1 1-2 1 1 1 0 1-2 1 1 1-1 1 4 1-2 1 5 1-1 1-2 1 0 1 0 1-1 1 1 1 0 1 1 1-1 1 0 1 2 1 0 1 1 1 2 1 0 1 1 1 0 1-1 1 0 1 1 1-2 1 2 1-3 1 2 1-1 1 0 1 0 1-1 1 0 1-1 1 1 1 0 1-1 1 1 1 2 1-1 1 1 1 1 1-1 1-1 1 3 1-2 1 0 1 0 1 1 1 2 1-4 1 2 1 1 1 0 1 1 1-1 1-1 1 2 1-3 1 0 1 2 1-1 1-1 1 1 1 0 1 0 1 1 1 0 1 0 1 0 1 0 1 1 1 0 1 0 1-1 1 1 1-1 1 0 1 1 1-1 1 2 1-1 1 1 1-2 1 1 1 1 1-4 1 1 1 0 1 4 1-4 1 1 1 2 1-1 1-1 1 1 1-2 1 0 1 1 1-1 1-1 1 2 1 0 1 0 1 3 1-4 1-1 1 2 1 1 1-4 1 1 1 0 1 0 1 0 1 1 1-2 1 0 1 1 1-1 1 1 1 1 1 0 1 1 1-2 1-1 1 0 1 0 1-1 1 2 1-1 1 0 1 0 1 2 1 0 1 0M0 17l1-2 1 2 1-1 1-1 1-1 1-1 1 0 1-1 1-2 1 1 1-5 1 0 1-2 1 1 1-1 1-2 1 1 1-2 1 2 1-2 1 0 1 1 1-1 1-1 1 2 1-1 1-1 1-1 1 1 1-3 1 0 1 0 1 1 1-2 1 1 1 2 1 0 1-3 1 2 1-4 1 2 1 1 1 1 1-1 1 0 1-1 1 2 1-3 1 1 1 0 1-1 1 2 1-2 1 0 1 0 1-1 1 1 1 2 1-1 1 2 1 0 1 0 1-3 1-1 1 2 1-1 1 1 1 0 1 1 1-1 1 1 1-2 1 1 1-1 1 0 1-1 1-1 1 2 1-1 1 0 1 1 1 0 1-2 1 2 1 0 1-2 1 0 1 0 1 0 1-2 1 0 1 1 1-2 1-2 1 3 1-1 1 1 1 1 1 0 1-1 1 1 1 0 1 2 1-3 1 1 1 0 1-1 1 3 1-1 1-1 1-1 1 1 1-1 1-1 1 2 1 0 1 0 1-1 1 0 1 2 1-1 1 0 1 1 1-1 1 0 1-1 1 2 1 1 1 0 1-2 1-1 1 3 1 0 1 1 1 0 1-2 1 2 1-1 1 0 1 0 1 1 1 0 1 1 1-3 1 1 1-1 1 3 1-2 1 1 1-1" stroke="#ff0000" stroke-width="1.0" fill="none" vector-effect="non-scaling-stroke" stroke-linejoin="round"/>
<polygon points="62.0,90.2 64.8,89.5 67.7,89.7 70.5,89.9 73.4,89.5 76.2,89.9 79.0,90.1 81.9,89.3 84.7,89.5 87.6,90.2 90.4,89.4 93.2,89.7 96.1,89.9 98.9,89.4 101.8,90.0 104.6,89.8 107.4,90.0 110.3,90.4 113.1,89.9 116.0,89.9 118.8,89.6 121.6,89.7 124.5,89.6 127.3,89.8 130.2,89.9 133.0,89.6 135.8,89.9 138.7,89.7 141.5,89.8 144.4,89.7 147.2,89.9 150.0,89.5 152.9,89.9 155.7,89.9 158.6,89.4 161.4,90.0 164.2,89.7 167.1,90.0 169.9,89.8 172.8,89.7 175.6,89.8 178.4,89.7 181.3,90.1 184.1,89.6 187.0,90.1 189.8,89.4 192.6,89.9 195.5,89.8 198.3,90.1 201.2,89.5 204.0,90.0 206.8,90.1 209.7,89.9 212.5,89.9 215.4,89.8 218.2,89.8 221.0,89.8 223.9,89.6 226.7,89.9 229.6,89.6 232.4,89.1 235.2,90.0 238.1,90.1 240.9,89.9 243.8,89.7 246.6,89.9 249.4,89.2 252.3,90.0 255.1,89.5 258.0,90.1 260.8,89.8 263.6,89.7 266.5,89.7 269.3,90.2 272.2,89.6 275.0,89.6 275.0,95.9 272.2,95.9 269.3,96.0 266.5,95.8 263.6,95.5 260.8,96.1 258.0,95.2 255.1,95.6 252.3,95.6 249.4,96.0 246.6,95.7 243.8,95.5 240.9,95.6 238.1,95.5 235.2,96.4 232.4,95.7 229.6,96.1 226.7,95.6 223.9,96.3 221.0,95.7 218.2,95.9 215.4,96.1 212.5,95.6 209.7,96.0 206.8,95.9 204.0,95.9 201.2,95.7 198.3,96.3 195.5,95.8 192.6,95.5 189.8,95.5 187.0,95.9 184.1,96.0 181.3,95.7 178.4,96.0 175.6,95.5 172.8,95.8 169.9,95.7 167.1,96.3 164.2,95.5 161.4,96.1 158.6,95.9 155.7,96.1 152.9,96.1 150.0,96.1 147.2,96.6 144.4,95.5 141.5,96.3 138.7,95.9 135.8,95.7 133.0,95.9 130.2,95.7 127.3,96.1 124.5,95.5 121.6,96.3 118.8,96.4 116.0,95.6 113.1,96.0 110.3,96.0 107.4,96.0 104.6,95.3 101.8,95.4 98.9,96.1 96.1,95.9 93.2,95.8 90.4,95.4 87.6,95.0 84.7,95.9 81.9,96.5 79.0,95.8 76.2,95.6 73.4,96.4 70.5,95.9 67.7,96.5 64.8,95.7 62.0,95.5" fill="#000"/>
<path transform="translate(62.00 92.85) scale(1.4200 0.5295)" d="M0 2l2-4 2-1 2 4 2-1 2 0 2-2 2 4 2 1 2 3 2-4 2-3 2 3 2 1 2 2 2-3 2-1 2 0 2 1 2 0 2 0 2 1 2-6 2 8 2-4 2 2 2-1 2 2 2 0 2-5 2 4 2-1 2-1 2-1 2 2 2 1 2-1 2-1 2-1 2 0 2 0 2 1 2 1 2 1 2-2 2-1 2-1 2 4 2-2 2 0 2 2 2-4 2 3 2 1 2-1 2-2 2 2 2 1 2-4 2 0 2 3 2 0 2-1 2 1 2 2 2-2 2 1 2-2 2-1 2 0 2 2 2-2 2 0 2 1 2 0 2 0M0 4l2 1 2-1 2-1 2-1 2 0 2 0 2 2 2 0 2 0 2-2 2-1 2 2 2 0 2-2 2 1 2 0 2 2 2-1 2 0 2 3 2-4 2-2 2 3 2 0 2-4 2 1 2 1 2 0 2 1 2 0 2 2 2-3 2 1 2-1 2 1 2-1 2 2 2-1 2 1 2-2 2 0 2-1 2 4 2-1 2-1 2 2 2-1 2 1 2-2 2 1 2-1 2 1 2 0 2-1 2 1 2-1 2-1 2 2 2 0 2-1 2 0 2 2 2-1 2-1 2 3 2-3 2 2 2-2 2-1 2 0 2 2 2 0 2 0 2 0 2-3M0 2l2 1 2-5 2-3 2-1 2 0 2 1 2 2 2 1 2 1 2-3 2 2 2 1 2-1 2-1 2-3 2 1 2 1 2 0 2 0 2 1 2-2 2 1 2-1 2 0 2-1 2 2 2 2 2-1 2 0 2-1 2 2 2-1 2-1 2-1 2 1 2 1 2-3 2 2 2 0 2 1 2 0 2 0 2 0 2-1 2 0 2-2 2 0 2 3 2-2 2 0 2 0 2 1 2-3 2 3 2-1 2 1 2 0 2 0 2 0 2-1 2 1 2-1 2-2 2 4 2-2 2 0 2 1 2 1 2-1 2 0 2 1 2 0 2-2 2 2 2 0M0 2l2 0 2-3 2 0 2 1 2 0 2-3 2 3 2 1 2-2 2-1 2-1 2 0 2 2 2 1 2 0 2 0 2-1 2 2 2 1 2-1 2-2 2-1 2-1 2 1 2 0 2 0 2 2 2-2 2 0 2 1 2 3 2-3 2 2 2-2 2-1 2 2 2-1 2 0 2 1 2 0 2 2 2-2 2 0 2-2 2 3 2-1 2-1 2-2 2 1 2 2 2 0 2 0 2 0 2 0 2 0 2 1 2 0 2 1 2-4 2 2 2-1 2-1 2 1 2 0 2 2 2 0 2-1 2-1 2-2 2 1 2 3 2-1 2 1 2 0 2 0M0 2l2-1 2 0 2 1 2 1 2 0 2 1 2-4 2-1 2 5 2-3 2-2 2 2 2 3 2-1 2-1 2 1 2-1 2 1 2-3 2 2 2-1 2 0 2 0 2 1 2-1 2 1 2-2 2 2 2-2 2 2 2-3 2 1 2 0 2-1 2 3 2 0 2-2 2 0 2 0 2 3 2-2 2-2 2 2 2 0 2 0 2-1 2-1 2 3 2-1 2 2 2-1 2 0 2 0 2-2 2 1 2 0 2 1 2 0 2-1 2 1 2 0 2 0 2-1 2 1 2-1 2 1 2-2 2 0 2 0 2 1 2 0 2 0 2 1 2 0 2-1M0 -2l2 3 2-4 2 3 2-1 2-1 2 0 2 2 2-3 2 2 2-2 2 0 2 3 2 1 2 0 2-1 2 0 2 0 2-1 2-1 2 4 2-2 2 1 2 1 2 0 2-2 2 0 2 0 2-1 2 1 2 1 2-3 2 5 2-2 2 0 2 0 2-1 2-1 2 1 2 1 2 0 2 0 2 0 2 0 2-3 2 1 2 2 2 0 2-1 2 0 2 0 2 2 2 0 2 2 2-3 2-1 2-1 2-1 2 2 2 1 2 1 2-2 2 3 2-1 2-2 2 0 2 3 2-1 2 0 2-1 2-2 2 2 2 0 2-2 2 1 2 0M0 -1l2 1 2-1 2-1 2 0 2 0 2 1 2 2 2-5 2 4 2 3 2-4 2 1 2 1 2-2 2 1 2 2 2-2 2-4 2 3 2-1 2 2 2 5 2-5 2 0 2 0 2-1 2 0 2 0 2 0 2-3 2 1 2 2 2 0 2 0 2-1 2 1 2 1 2 1 2-2 2-1 2 2 2-1 2 0 2-1 2 1 2-1 2 4 2-2 2 1 2 0 2 0 2-2 2 0 2-1 2 3 2-2 2-1 2 0 2-1 2 3 2 1 2 0 2-3 2 2 2-2 2 3 2-2 2 1 2-1 2 1 2 1 2-4 2 2 2 0 2 4M0 2l2-1 2 2 2-2 2 1 2 3 2-6 2 1 2 0 2-3 2 3 2 4 2-2 2-1 2 0 2-3 2 4 2 1 2-2 2 0 2 0 2 0 2 0 2 0 2 2 2-1 2-1 2 0 2-1 2 1 2 1 2-1 2 1 2 2 2-2 2-2 2 5 2-3 2 0 2 0 2 2 2-3 2 2 2-2 2 1 2-1 2 1 2 3 2-3 2 0 2-1 2 2 2 1 2-2 2 1 2 1 2-2 2 0 2-1 2 0 2 1 2 0 2 1 2-1 2 1 2 0 2-1 2 0 2 1 2-2 2 2 2-2 2 1 2-2 2 0 2 1M0 -5l2 5 2 2 2-1 2 2 2-2 2 2 2-1 2 6 2-4 2 1 2-2 2 0 2 2 2-3 2 2 2 2 2-2 2-1 2 2 2 0 2 1 2-3 2 1 2-1 2-1 2 3 2 0 2 0 2-2 2 0 2-1 2 0 2-1 2 2 2 0 2-1 2 0 2 4 2-1 2 2 2-4 2 1 2 0 2-1 2 1 2 0 2 0 2 0 2-1 2 0 2-2 2 2 2 0 2 2 2-1 2 0 2-3 2 1 2 0 2-2 2 2 2 1 2 1 2-1 2 0 2 1 2 1 2-2 2 1 2-1 2-1 2 1 2 2 2-3 2 0M0 2l2-4 2 0 2 3 2 1 2-3 2 2 2 0 2 2 2-3 2-1 2 1 2 3 2-2 2 2 2-3 2 1 2 0 2 2 2 3 2-3 2-1 2 0 2-2 2 2 2-1 2 3 2-3 2 1 2 1 2-1 2 1 2-2 2-3 2 2 2 1 2 1 2 2 2-2 2-2 2 3 2-3 2-1 2 0 2 4 2-4 2 1 2 1 2-1 2-1 2 1 2 1 2 2 2-3 2 1 2 1 2-2 2 3 2-2 2 1 2-1 2 1 2-2 2 1 2 2 2-2 2 0 2-1 2 4 2-5 2 2 2 0 2 0 2 2 2 0 2-1M0 -2l2 4 2 0 2 1 2-2 2-1 2 3 2-3 2 0 2 3 2-1 2-2 2-1 2 2 2 1 2-1 2-2 2 0 2 1 2-1 2 3 2-1 2 1 2-1 2 2 2-1 2 0 2 3 2-1 2-2 2 0 2 1 2-2 2 1 2-2 2 2 2 1 2-1 2-1 2-3 2 2 2 0 2 0 2 1 2-1 2 0 2 2 2-1 2 0 2 1 2 1 2-1 2 0 2-2 2 2 2 0 2-1 2 2 2 0 2-2 2 2 2-2 2 0 2 0 2-1 2 2 2 0 2 0 2 1 2-3 2 4 2-1 2-2 2 0 2 1 2-3M0 -2l2 1 2-3 2 3 2 1 2-3 2 0 2-1 2 3 2 0 2-2 2 1 2-3 2 1 2 2 2 0 2 0 2 0 2 1 2-2 2 1 2 0 2 1 2-1 2 2 2-1 2-4 2 3 2 3 2-4 2 4 2-2 2-1 2 2 2-1 2 0 2 0 2-4 2 4 2 0 2 0 2 0 2 0 2-2 2 2 2-3 2 2 2 1 2 1 2 0 2-1 2 2 2-2 2-1 2 0 2 1 2 0 2-1 2 1 2 0 2 0 2 0 2 1 2-1 2 1 2 0 2-2 2-1 2 4 2-1 2-2 2-1 2 1 2-1 2 1 2-1M0 -19l2 6 2 4 2 0 2 5 2 0 2-4 2 2 2-1 2 2 2 0 2 1 2 2 2-2 2 0 2-1 2 1 2 1 2-2 2 1 2-1 2 1 2-1 2 0 2 2 2-3 2 1 2 2 2-3 2-1 2 2 2-1 2 1 2 0 2 2 2 0 2 1 2-2 2 0 2-1 2 0 2 0 2-2 2 3 2 2 2-3 2-2 2 4 2 0 2-3 2 1 2 2 2-1 2-2 2 4 2 0 2-1 2 1 2-3 2 0 2-1 2 2 2 0 2-2 2 0 2 2 2-2 2 2 2 0 2 1 2 0 2 0 2-2 2 2 2-2 2 2M0 1l2 1 2 0 2-2 2-1 2-1 2 1 2-3 2 3 2 0 2 0 2 2 2-2 2-1 2-1 2 3 2-1 2 0 2 0 2 0 2 2 2-1 2-1 2-1 2 0 2 1 2 2 2-3 2 1 2-1 2 1 2-1 2 0 2 3 2-3 2 0 2 0 2 3 2-3 2 1 2 2 2-1 2-2 2 0 2 0 2 2 2-2 2 0 2 1 2-1 2 0 2 1 2 0 2 0 2 1 2-1 2-1 2 2 2-1 2 2 2-3 2 2 2-1 2 2 2-2 2-1 2 1 2-1 2 2 2 1 2-2 2 0 2 2 2-3 2-1 2 1M0 -1l2-1 2 0 2-2 2-1 2-1 2 3 2-2 2-2 2 1 2 3 2 0 2-2 2 2 2-3 2 0 2-1 2 2 2-2 2 3 2-1 2 1 2-1 2-1 2 1 2 3 2-6 2 2 2 2 2-3 2 0 2 3 2 1 2-2 2 0 2 2 2-2 2 0 2-1 2 1 2-2 2 1 2 1 2-1 2 1 2-2 2 1 2-2 2 1 2 1 2-2 2 1 2 3 2 0 2-1 2-2 2 2 2-1 2 1 2 0 2-2 2 1 2 0 2 0 2-1 2-2 2 2 2-1 2 2 2-1 2 2 2 0 2-1 2 0 2 0 2 1M0 -1l2-3 2 5 2 1 2-6 2 4 2 2 2 1 2-4 2 0 2 0 2 2 2-1 2-1 2 5 2-2 2-1 2-1 2 2 2-4 2 2 2 2 2-1 2 2 2-2 2-1 2 3 2-1 2-2 2-1 2 1 2 0 2 1 2-2 2 0 2 2 2 2 2 0 2-2 2-1 2 1 2 1 2 1 2 1 2-2 2 1 2-1 2-1 2 1 2-2 2 1 2 0 2 1 2 1 2 0 2-2 2-1 2 0 2 0 2 0 2 0 2 2 2-1 2 4 2-2 2 0 2-3 2 2 2 0 2-2 2 2 2-1 2-1 2 1 2-2 2 4M0 -2l2 0 2 1 2 0 2 1 2-2 2 1 2 1 2 1 2 0 2 0 2 0 2-1 2 0 2-2 2 0 2-2 2 1 2 0 2 0 2 2 2-2 2 1 2 0 2 2 2-3 2 2 2 1 2-2 2 0 2 0 2 0 2 3 2-3 2 2 2-1 2 0 2 2 2-5 2 2 2 2 2 1 2 0 2-1 2 0 2 0 2-1 2-1 2 3 2-1 2-3 2 1 2-2 2 3 2 1 2-2 2 1 2-3 2 1 2 0 2 1 2 0 2-1 2 3 2-2 2 2 2 0 2-3 2 1 2 1 2-1 2 0 2 2 2-1 2-1 2 1M0 1l2 2 2-3 2-2 2 1 2-3 2-1 2 3 2-3 2 2 2 3 2-3 2 1 2-3 2 0 2 0 2 1 2 0 2 0 2 3 2-1 2-2 2-1 2 0 2 1 2 1 2 1 2-2 2 1 2-1 2 1 2-2 2 0 2 1 2-1 2 0 2 0 2-1 2 4 2-5 2 1 2 2 2-4 2 3 2 0 2 1 2-2 2 1 2 0 2 0 2-1 2 0 2-2 2 2 2 0 2 0 2 0 2 2 2-1 2 1 2 3 2-2 2-1 2-1 2-2 2 1 2 1 2 1 2-2 2 2 2-1 2 2 2-3 2 0 2 1 2 0M0 0l2-3 2 2 2 1 2 0 2 1 2 2 2-1 2 0 2-1 2 0 2 3 2-2 2-1 2 0 2-1 2-1 2 1 2 1 2-1 2 1 2 0 2 0 2 3 2-4 2 2 2-1 2 1 2-1 2 2 2-1 2 1 2-1 2 0 2 0 2-1 2 1 2 0 2 2 2-2 2-2 2 2 2-1 2-2 2 2 2 1 2 0 2 1 2 1 2-1 2-2 2 4 2-4 2 1 2-1 2 1 2-1 2 2 2-3 2 2 2 0 2 1 2-1 2 1 2 0 2-1 2-1 2 0 2 0 2 0 2 1 2 1 2 0 2 1 2-1 2-1M0 -2l2 1 2 0 2 0 2 0 2 1 2-1 2 3 2-1 2-1 2 1 2-1 2 1 2 2 2 0 2-1 2-1 2 2 2-1 2 1 2-4 2 3 2 0 2 0 2 1 2-1 2-3 2 2 2 1 2-1 2 1 2-2 2 3 2 1 2-3 2-1 2 4 2-2 2-2 2 1 2-2 2 3 2 1 2 2 2-3 2 2 2-4 2 3 2 0 2 0 2-1 2-1 2 2 2-3 2 1 2 1 2-2 2 4 2-1 2-2 2 1 2-1 2-2 2 5 2-4 2 1 2 2 2-1 2-1 2 0 2 1 2-1 2 0 2 0 2 0 2 1M0 0l2 0 2-4 2 1 2-1 2 0 2 3 2 1 2 0 2-3 2-2 2 1 2 1 2 0 2 1 2-1 2 1 2-2 2 0 2 1 2 0 2-1 2 0 2 1 2 1 2-1 2 0 2 0 2 1 2 0 2-1 2 1 2 0 2 0 2 0 2-2 2 1 2 2 2-2 2 2 2-1 2 0 2-3 2 1 2 2 2 1 2 0 2-1 2-1 2 0 2 2 2-2 2-3 2 2 2 0 2-1 2 2 2-1 2 1 2-1 2 1 2-2 2 3 2 0 2 0 2 1 2 0 2 0 2 0 2-2 2 0 2 0 2 0 2-1 2 2 2 1M0 -2l2 0 2-4 2 1 2 5 2-3 2 3 2-1 2-2 2 1 2 1 2-2 2 0 2 3 2-1 2 0 2 1 2-2 2-2 2 1 2 0 2 1 2 2 2 1 2-2 2 0 2 0 2 0 2 0 2 2 2-1 2 1 2-3 2 0 2 1 2-1 2-1 2 1 2 0 2-2 2 0 2 2 2-1 2 1 2 0 2 0 2 1 2 0 2 1 2-1 2 0 2 1 2 0 2-1 2 0 2 0 2-1 2-2 2 3 2-1 2 2 2-1 2 1 2-2 2-1 2-3 2 3 2 2 2-2 2 1 2 1 2-1 2 0 2 0 2 0 2 1M0 1l2 3 2-3 2 2 2 1 2 0 2 2 2-1 2-1 2-1 2 2 2 4 2-2 2-1 2-3 2 2 2 0 2 1 2-2 2 2 2 0 2-1 2 1 2-2 2 0 2 0 2 2 2 0 2 0 2 0 2-1 2-1 2-1 2 2 2 0 2-2 2 2 2-1 2 2 2 1 2-2 2 1 2-2 2 2 2-2 2 3 2-1 2 0 2-2 2 1 2 0 2 1 2-1 2-1 2 0 2 1 2-1 2 2 2-1 2 1 2 1 2-1 2 0 2 0 2-2 2 0 2 1 2 1 2-1 2 1 2-1 2 1 2-2 2 3 2-2 2 2M0 -1l2-1 2 1 2-1 2 1 2 1 2 2 2-3 2 4 2-7 2 5 2-4 2 2 2-2 2 0 2 0 2 2 2 1 2-3 2-1 2 3 2 1 2 0 2-3 2 0 2 2 2-2 2 1 2 1 2-1 2-2 2 0 2 4 2 1 2-5 2 1 2-1 2 1 2 1 2-1 2 2 2-1 2 0 2-1 2 0 2 1 2 0 2 0 2-2 2 2 2-1 2 1 2 0 2 0 2 0 2-1 2 3 2-1 2 1 2-1 2 0 2 0 2-1 2-4 2 5 2-3 2 1 2 0 2 1 2 1 2-1 2-1 2 3 2-1 2 1 2-2M0 0l2 3 2-2 2-2 2 6 2-3 2 3 2-5 2 3 2 1 2-1 2 0 2 1 2 0 2 0 2-1 2 2 2-4 2 1 2-1 2 2 2-2 2 2 2 2 2-3 2 2 2 1 2 0 2-2 2 2 2-3 2-1 2 3 2-2 2 0 2 0 2 1 2-1 2 0 2 2 2-1 2 1 2 1 2-2 2 0 2 1 2-1 2 1 2 1 2-4 2-1 2 0 2 5 2-3 2 1 2-2 2 3 2-2 2 1 2-1 2 1 2 0 2-1 2 2 2 1 2 0 2-2 2-1 2 0 2 0 2-1 2 3 2 0 2-2 2 1 2 1M0 0l2-2 2 1 2 0 2-1 2 4 2-2 2-1 2 0 2 1 2-1 2 1 2-3 2 4 2-3 2 3 2-3 2 5 2-2 2-1 2-2 2 3 2 1 2 0 2-1 2 0 2 0 2-2 2 2 2 0 2-1 2 0 2-1 2 1 2 2 2-2 2 0 2 0 2-2 2 2 2 2 2-4 2 1 2 2 2-1 2-1 2 1 2-4 2 3 2 1 2 1 2 2 2-2 2-1 2-1 2 3 2-1 2-2 2-1 2 1 2 2 2-3 2 2 2 0 2-1 2 0 2 1 2 0 2 0 2 2 2-1 2 0 2 0 2 1 2-2 2 1M0 0l2 2 2-1 2 1 2-1 2-1 2 1 2 0 2-2 2-1 2 3 2-2 2 0 2 0 2 2 2-1 2 2 2-2 2 1 2 0 2-2 2-1 2 1 2-1 2 2 2-1 2 0 2 1 2-2 2 1 2-1 2 1 2 2 2-1 2 2 2-4 2 1 2 2 2 0 2-2 2 1 2 0 2 1 2 0 2 0 2-3 2 2 2 0 2-1 2-1 2 0 2 2 2 0 2-2 2 2 2 0 2 1 2-3 2-1 2 0 2 4 2-1 2-1 2 0 2-1 2 0 2 4 2-1 2-3 2 3 2-2 2 2 2 0 2-2 2-4 2 4M0 0l2-2 2 2 2 0 2 2 2-2 2 1 2 3 2-1 2-2 2 3 2 0 2-3 2 1 2-1 2 2 2 0 2 1 2-3 2 2 2-3 2 2 2-1 2 3 2-1 2-1 2 0 2 0 2 4 2-1 2-2 2 2 2-1 2-2 2 3 2-1 2-2 2 0 2-1 2 0 2 0 2 1 2 2 2-4 2 1 2 2 2 0 2 1 2-4 2 3 2-1 2 0 2 0 2 0 2 1 2-2 2 0 2 1 2 1 2-1 2 0 2 1 2 1 2-3 2 5 2-3 2-1 2 0 2 0 2-1 2 3 2-3 2 1 2 3 2-3 2 1M0 -1l2 1 2 0 2-2 2 4 2-6 2 3 2-2 2 1 2 1 2 0 2-2 2 0 2 3 2 1 2-6 2-3 2 4 2 0 2-1 2 2 2 0 2 1 2-2 2 1 2 0 2 0 2 2 2-1 2 0 2 0 2-1 2 3 2 0 2-2 2 1 2 0 2-2 2 0 2 1 2 0 2-2 2 4 2-1 2-1 2-2 2 2 2 0 2-2 2 2 2 0 2-3 2 2 2 0 2 3 2-2 2 1 2-1 2 2 2 0 2-2 2 0 2 0 2 2 2-2 2-1 2 3 2-3 2 1 2 0 2-1 2-1 2 1 2-1 2 2 2 2M0 0l2 2 2 3 2-3 2-1 2 0 2 1 2 0 2 0 2-1 2 1 2-3 2 3 2 0 2 2 2-1 2 1 2-2 2-2 2 1 2-1 2 1 2 1 2 0 2-2 2 0 2 1 2 0 2 3 2-2 2-1 2 1 2 1 2 0 2-2 2 1 2-1 2 0 2-1 2 1 2-2 2 3 2 0 2 1 2-1 2 0 2-2 2 0 2 0 2 2 2 1 2 0 2-1 2-1 2 2 2 0 2-1 2 0 2-1 2 2 2 0 2 1 2-2 2 0 2-2 2 1 2 0 2-1 2 2 2 1 2-3 2 1 2-1 2 1 2 3 2-1M0 1l2 0 2-1 2 4 2-3 2 1 2 0 2-1 2 0 2 0 2 0 2-2 2 1 2 1 2 1 2 0 2-2 2 1 2 0 2 2 2-3 2 2 2 1 2-1 2-1 2 0 2 1 2 0 2-1 2 0 2 0 2-1 2 1 2-1 2 0 2 2 2-1 2 1 2 0 2 0 2-3 2 1 2 1 2 2 2 2 2-3 2 1 2-2 2 3 2-2 2 1 2-2 2 0 2 1 2 1 2-1 2-1 2 1 2-1 2 0 2 0 2 1 2 3 2-3 2 0 2 0 2 2 2-3 2-1 2 1 2 2 2-1 2 3 2-4 2-1 2 0M0 0l2 0 2 3 2-2 2-1 2-1 2-1 2 1 2 1 2 3 2 1 2 1 2-4 2 0 2 1 2 0 2 0 2 1 2 0 2-2 2-1 2 0 2 1 2 0 2 0 2 1 2-1 2 0 2 3 2 1 2-2 2 0 2-2 2 2 2 0 2-1 2 0 2 1 2-1 2 1 2 1 2-1 2 1 2-2 2 2 2-2 2 2 2-1 2-2 2 1 2 0 2-2 2 2 2-1 2 0 2 2 2-1 2-2 2 4 2-1 2-2 2-2 2 2 2 1 2-3 2 0 2 4 2-2 2 1 2-1 2 2 2-3 2 1 2 1 2-3 2 5M0 2l2-1 2 2 2-1 2 1 2-4 2-1 2-2 2 2 2 1 2-1 2 2 2 1 2-3 2 4 2 0 2-4 2 2 2 0 2 0 2-1 2 1 2-4 2 2 2 2 2-2 2 2 2-1 2-2 2 1 2 2 2-1 2-2 2 3 2 1 2 0 2-4 2 1 2 1 2 0 2-1 2 1 2 0 2-1 2 1 2 2 2-2 2 1 2 0 2 0 2 0 2 1 2-2 2 1 2-1 2-1 2 3 2-1 2-2 2 3 2-3 2 1 2-1 2 0 2 4 2-2 2 0 2-1 2 1 2 0 2 0 2-3 2 2 2 0 2 1 2 1M0 2l2 0 2-1 2-2 2 2 2-1 2-2 2 3 2-1 2-2 2 1 2 2 2-2 2 1 2-2 2 0 2-1 2-1 2 3 2 1 2 1 2-1 2-1 2 0 2 1 2-3 2 3 2-1 2-1 2 2 2 0 2-2 2 3 2-1 2 0 2-1 2 0 2 0 2 1 2-2 2 2 2 0 2-2 2 0 2 1 2-4 2 3 2 2 2 0 2 1 2-4 2 1 2 1 2 1 2-1 2 2 2-2 2 1 2-2 2 0 2 0 2 1 2 0 2-1 2 2 2-2 2 2 2 1 2-2 2 0 2 1 2 0 2 1 2-3 2 1 2 1M0 -1l2 1 2 2 2-2 2 0 2 2 2 0 2 2 2-4 2 1 2-1 2 3 2-5 2 2 2 3 2-3 2 1 2 0 2 0 2-1 2 0 2 1 2 0 2-2 2 3 2 0 2-1 2-1 2 1 2 0 2 1 2-3 2 1 2 3 2-4 2 3 2 2 2-3 2 0 2-2 2 2 2-1 2 0 2 2 2-2 2 2 2-1 2 0 2 1 2-1 2 0 2 2 2-2 2 1 2 0 2-1 2 0 2-1 2 1 2 0 2 0 2 2 2-1 2 0 2-2 2 2 2-2 2-1 2 2 2-2 2 1 2 1 2-1 2 3 2-3 2 0M0 -2l2 4 2 1 2 1 2-3 2 3 2-1 2-1 2 2 2-4 2 0 2 4 2-2 2 0 2 0 2 1 2 2 2-2 2 0 2 2 2-2 2 1 2-1 2 0 2 0 2-1 2 0 2 4 2-3 2 0 2 2 2-2 2 2 2-2 2 1 2-2 2 0 2 3 2-2 2-1 2 5 2-4 2 2 2-2 2 1 2 1 2-3 2 2 2 0 2 0 2 0 2 0 2 0 2 0 2-2 2 3 2-4 2 3 2-1 2-1 2 1 2-1 2 0 2 1 2 0 2 0 2 0 2 0 2 0 2 1 2-1 2-1 2 2 2-1 2 1 2 0M0 4l2-5 2 0 2 2 2-1 2 0 2-5 2 2 2 0 2-1 2 1 2 2 2 1 2-1 2 0 2-2 2 0 2 2 2 1 2 0 2 1 2-4 2 2 2 2 2-2 2 0 2-3 2 3 2 0 2 0 2-2 2 0 2 0 2 1 2 3 2 0 2-2 2-1 2 1 2-3 2 3 2-1 2 2 2-1 2 1 2 0 2-1 2-1 2 0 2 2 2-1 2 1 2 1 2-2 2 1 2-3 2 1 2 2 2-3 2 4 2-3 2 3 2-3 2 0 2 1 2 0 2-1 2 1 2 1 2 2 2-3 2-1 2 1 2 0 2 1 2-2M0 0l2-2 2-2 2 2 2 2 2 0 2-1 2 2 2-3 2 2 2 3 2 0 2-2 2 4 2-1 2-4 2 4 2 0 2 1 2-2 2 1 2-2 2 2 2-3 2 1 2 2 2-2 2-1 2 3 2-1 2-3 2 1 2-1 2 2 2-3 2 4 2-1 2-1 2 1 2 0 2 1 2-1 2 0 2 1 2-3 2 2 2 0 2-2 2-1 2 1 2 3 2 0 2-2 2 1 2 0 2 1 2-3 2 3 2-2 2 1 2-1 2 1 2-4 2 5 2-1 2 0 2-2 2 2 2 0 2-2 2 1 2 2 2 1 2-2 2 1 2-4M0 3l2-4 2 4 2-4 2 0 2-1 2-1 2 1 2 5 2-2 2-1 2 2 2 0 2-1 2 3 2-4 2 2 2-1 2 2 2-2 2-1 2 4 2-2 2-1 2 1 2-1 2-1 2 1 2-2 2 2 2 1 2-1 2-2 2 4 2-2 2 1 2-1 2 0 2-1 2 2 2-3 2 3 2-1 2 0 2 1 2-2 2 0 2 3 2 1 2 0 2-4 2 1 2-1 2-1 2 3 2 0 2 0 2-1 2 1 2-1 2-1 2-1 2 1 2 1 2-2 2 1 2 0 2-1 2 2 2 0 2-1 2 0 2 1 2 1 2-2 2 1M0 -2l2-5 2 1 2 2 2-2 2-3 2 3 2 2 2 0 2 1 2-1 2-1 2 0 2 3 2 1 2 0 2-4 2 1 2 1 2-2 2 2 2-3 2 0 2 2 2-2 2-1 2 3 2-3 2-1 2 3 2 1 2-2 2 3 2-1 2 0 2 2 2-3 2-2 2 3 2 0 2 0 2 1 2 1 2-1 2-1 2 1 2 0 2-1 2-3 2 1 2 3 2-3 2 3 2-1 2-3 2 0 2 1 2 2 2 0 2-1 2-1 2 1 2 0 2 0 2 2 2-4 2 0 2 2 2 3 2-2 2 0 2-2 2 1 2 1 2-1 2 0M0 1l2-3 2 6 2 0 2-3 2-2 2 3 2-1 2 2 2 0 2 0 2-1 2 0 2 1 2-3 2-1 2 1 2 2 2 0 2 1 2-2 2 1 2-3 2 2 2 0 2-1 2 0 2 4 2-3 2 0 2 0 2 1 2-1 2 1 2-1 2 1 2-1 2-1 2 1 2 0 2 0 2 1 2 0 2 1 2-1 2 1 2-1 2 0 2-1 2 0 2 1 2 0 2 1 2-2 2 0 2 1 2-2 2 0 2 2 2-1 2 1 2-1 2 1 2-2 2-1 2 1 2 2 2-1 2 1 2 1 2-2 2 1 2 0 2 0 2 0 2 1M0 0l2-1 2 3 2-2 2 0 2-1 2 0 2 1 2 1 2-2 2 1 2 1 2-2 2-3 2 3 2 0 2 1 2 0 2 0 2 1 2-2 2 1 2-1 2-2 2 2 2-2 2 2 2-1 2 3 2 0 2-1 2 1 2-1 2 0 2-2 2 1 2 1 2-3 2 4 2-3 2 3 2-2 2 0 2-2 2 3 2-3 2 3 2 0 2-2 2 3 2 1 2-1 2-1 2-1 2 0 2 1 2 1 2-2 2-1 2 1 2 0 2 2 2 0 2-1 2 1 2-2 2 1 2-1 2 2 2 1 2-2 2-1 2 1 2-1 2 1 2 0M0 0l2 1 2-1 2-4 2 2 2-1 2 1 2 2 2-1 2 3 2 0 2 0 2-1 2-1 2 0 2 0 2 1 2 0 2-1 2 0 2-1 2 2 2 2 2 0 2 0 2-3 2-2 2 2 2 1 2 2 2-1 2 1 2 0 2-4 2 1 2 1 2 0 2 1 2-1 2-1 2 1 2-1 2 0 2 0 2 0 2 0 2 1 2-2 2 1 2 1 2-1 2 1 2-1 2 0 2-1 2 2 2-1 2-1 2 1 2-1 2 2 2 0 2-2 2 0 2 0 2 1 2 1 2 0 2-3 2 4 2-1 2-2 2 0 2 0 2 1 2 0M0 1l2-2 2 3 2-3 2 3 2 0 2 0 2-1 2 3 2-2 2-2 2 1 2 0 2 0 2 4 2-5 2 4 2-1 2-2 2 1 2 0 2 1 2-3 2 2 2 0 2-1 2 2 2-1 2 1 2-3 2 3 2-3 2-1 2 1 2 1 2-1 2 0 2 1 2 3 2-2 2 1 2-2 2 0 2 2 2-1 2-1 2 0 2 1 2 0 2 0 2-1 2-2 2 0 2 1 2 3 2-3 2 1 2 3 2-3 2 3 2-2 2 0 2-1 2-3 2 1 2 2 2 1 2-3 2 1 2 1 2 1 2 0 2 0 2-2 2 1 2 1M0 -3l2 5 2-2 2-2 2 0 2 2 2 2 2 0 2-2 2-1 2 2 2-1 2 0 2 2 2-4 2 2 2-1 2 2 2-3 2 3 2 1 2 0 2-3 2 1 2 1 2 0 2 0 2-1 2 0 2-1 2 2 2 0 2 0 2-2 2 1 2 2 2 0 2 0 2-3 2 2 2-1 2-1 2 1 2-1 2 2 2-1 2-1 2-1 2 1 2 1 2 1 2-1 2 0 2 1 2 0 2-1 2-2 2 2 2 0 2-1 2 1 2-2 2 0 2 3 2-1 2 0 2 0 2 0 2 0 2 0 2 0 2 0 2-1 2 0 2 1 2 1M0 -3l2 4 2-2 2 3 2 0 2-3 2-1 2 2 2-3 2 4 2-1 2 1 2-2 2 2 2-2 2 3 2-2 2 1 2-3 2 1 2 0 2-1 2-1 2 3 2-1 2 2 2-2 2 0 2 0 2 2 2-1 2 0 2 1 2-1 2 0 2 3 2-3 2 0 2-1 2 3 2-1 2-2 2 2 2-2 2 0 2 1 2-1 2 2 2-1 2-1 2 1 2 0 2-1 2-1 2-1 2 2 2 1 2-2 2 1 2-1 2 2 2 0 2 2 2-2 2 2 2-4 2 2 2 1 2-3 2 3 2-3 2 2 2 0 2 0 2-2 2 0M0 -2l2-2 2 5 2 3 2-3 2 0 2 0 2 2 2-3 2 3 2 0 2 0 2-1 2 1 2 0 2 0 2 1 2-1 2 1 2 0 2-3 2 2 2-1 2-1 2 2 2-1 2-1 2 0 2 0 2 1 2 1 2-1 2-1 2 1 2-1 2 2 2 1 2-1 2-2 2-2 2 2 2-1 2 0 2 3 2 0 2-1 2-1 2 3 2-1 2-2 2 0 2 1 2 2 2-3 2-1 2 2 2 0 2 0 2 0 2 0 2 1 2-1 2 1 2-2 2-1 2 0 2 2 2-1 2 2 2-1 2 0 2 1 2 0 2-2 2 0 2 0M0 3l2-2 2-1 2 1 2 0 2 2 2-3 2-2 2 3 2-2 2 0 2 3 2 1 2 1 2-3 2 2 2-2 2-1 2 2 2-1 2 1 2-3 2 3 2-1 2 0 2-1 2 3 2-1 2 1 2 0 2-3 2 3 2-2 2-1 2 0 2 1 2-1 2 2 2-2 2 0 2 3 2-3 2 3 2 1 2-3 2 0 2 0 2-2 2 2 2 0 2 1 2 0 2 0 2 0 2 0 2-1 2-1 2 2 2-2 2-1 2 3 2-3 2 4 2-2 2-2 2 2 2 1 2 1 2 0 2-1 2-1 2 0 2-1 2-1 2 2 2 0M0 -4l2 2 2 1 2 2 2 0 2 0 2-1 2 1 2 2 2 1 2-1 2-3 2 0 2 1 2 0 2 2 2 1 2-4 2 3 2-2 2 1 2 0 2 0 2 1 2-1 2 1 2 2 2-3 2 0 2-1 2 2 2-1 2 0 2 1 2 2 2-2 2-2 2 2 2-2 2 1 2 1 2-1 2 0 2 0 2-1 2 0 2 1 2-2 2 1 2 2 2-1 2 0 2-1 2 0 2 1 2-3 2 4 2 0 2-3 2 1 2 0 2 0 2-1 2 1 2-1 2 0 2 2 2 1 2-1 2 0 2 0 2 1 2-2 2-1 2 3 2-2M0 -2l2 6 2-1 2 3 2 0 2-5 2 7 2-2 2-4 2 4 2-2 2-1 2 2 2 0 2-1 2 1 2-1 2 0 2 2 2 0 2-1 2-2 2-2 2 2 2 4 2-1 2-1 2 1 2-1 2 0 2 0 2-1 2-1 2 0 2 1 2 1 2 0 2-2 2 3 2 2 2-2 2-1 2-1 2 1 2-1 2 0 2 0 2 2 2-2 2 1 2 2 2-3 2 0 2 0 2 1 2-1 2 0 2-3 2 5 2-1 2 0 2-2 2 1 2 1 2-2 2 3 2 0 2-2 2 1 2 0 2-1 2-3 2 2 2 3 2-1 2 1" stroke="#000" stroke-width="1.1" fill="none" vector-effect="non-scaling-stroke" stroke-linejoin="round"/>
<path transform="translate(62.00 92.85) scale(1.4200 0.5295)" d="M0 2l2-1 2-3 2 2 2 1 2-3 2-3 2 2 2 2 2-4 2-1 2 2 2-2 2 5 2-1 2 0 2 0 2-4 2 6 2-4 2 5 2 0 2-3 2-1 2 0 2 0 2 2 2-2 2 1 2-2 2 0 2-2 2 3 2-1 2-1 2 3 2-1 2 3 2-3 2 0 2 1 2-4 2 4 2-4 2 3 2-1 2-1 2 0 2-2 2 0 2 3 2-1 2 0 2 3 2-3 2 2 2-2 2 2 2-3 2 3 2-4 2 2 2-2 2 3 2 1 2-1 2 3 2-2 2-1 2 2 2-3 2 1 2-1 2 1 2-1 2 1M0 -4l2-1 2 3 2 0 2-2 2 1 2-3 2 0 2 0 2 0 2 1 2 0 2 3 2-1 2 0 2-1 2-1 2 0 2 0 2-1 2 0 2-1 2 0 2 1 2-2 2 4 2 0 2 1 2-2 2 0 2 1 2-2 2 1 2 1 2 0 2 1 2-4 2 3 2-2 2 0 2-1 2 0 2 2 2-1 2 0 2 1 2 2 2-1 2-1 2 1 2 0 2 0 2 1 2 0 2-1 2-3 2 4 2 0 2-3 2 1 2-1 2 2 2 1 2 0 2-2 2 1 2-1 2 1 2 0 2-1 2 0 2 1 2 2 2-1 2 1 2-1M0 3l2 1 2-2 2 2 2-1 2 1 2-1 2-2 2-1 2-1 2 2 2-2 2 2 2-1 2-1 2 1 2 0 2 2 2-1 2 0 2 0 2 1 2-3 2 4 2-1 2-2 2 0 2 0 2 0 2-2 2 4 2-1 2 0 2-1 2-1 2 1 2 3 2-5 2 3 2-2 2 1 2-1 2 0 2-2 2 1 2 2 2 0 2 2 2 1 2-1 2-1 2-1 2 1 2 0 2 0 2 1 2 1 2-5 2 3 2 1 2 0 2-1 2 0 2-1 2 1 2 0 2 1 2 0 2-2 2-2 2 1 2 1 2-1 2 0 2-1 2-1M0 5l2-2 2 0 2-4 2 2 2 4 2-1 2 0 2 0 2 0 2 1 2-2 2-1 2-1 2 4 2-3 2 1 2-1 2 1 2-4 2 5 2-4 2 4 2-2 2-2 2 3 2-2 2-1 2 2 2-2 2 2 2 2 2-2 2-1 2 0 2 2 2 1 2-2 2-1 2 1 2 1 2 1 2-3 2 1 2 2 2 2 2-4 2 1 2 1 2 0 2 2 2-1 2-4 2-1 2 1 2 1 2-1 2 2 2 2 2-2 2 1 2-3 2 4 2-2 2 1 2-2 2 2 2-2 2 1 2-1 2-1 2 4 2-3 2 4 2-2 2-2M0 2l2 2 2-2 2-1 2 3 2 0 2 0 2 1 2 0 2 3 2 2 2-1 2 0 2-3 2 0 2-1 2 4 2-2 2 2 2-3 2 1 2 0 2-1 2 3 2 0 2 0 2 0 2 1 2-1 2 0 2-1 2-1 2-1 2 2 2 3 2-1 2-2 2-1 2-3 2 3 2 3 2 0 2-1 2-2 2 3 2-2 2-1 2 2 2 2 2-2 2 1 2-2 2 1 2 0 2-2 2 3 2-1 2 1 2-1 2-2 2 2 2 2 2-2 2 1 2-2 2 3 2-2 2 0 2 1 2 0 2-1 2 0 2 2 2-4 2 3 2 0M0 0l2 1 2 0 2-1 2 1 2-1 2 1 2 2 2 1 2 0 2-1 2 0 2 2 2-1 2 0 2-2 2 2 2 0 2 1 2 3 2-2 2 1 2-3 2-1 2 0 2 1 2 2 2-1 2 1 2-1 2-1 2-1 2-1 2 0 2 1 2-2 2 0 2 2 2 0 2-1 2 1 2 3 2-2 2 1 2-2 2 1 2 1 2 1 2-1 2 0 2-1 2-2 2 1 2 2 2 0 2-1 2-1 2 1 2-1 2 0 2 1 2 0 2 1 2-1 2 2 2-5 2 3 2-1 2 1 2-1 2 1 2-4 2 2 2 3 2 0 2-2M0 8l2-4 2 4 2 0 2-5 2-1 2 3 2-3 2-3 2 0 2 0 2-2 2 3 2-2 2 1 2-1 2 3 2 0 2-1 2 5 2-5 2-1 2 0 2-1 2-1 2 0 2 1 2 1 2 1 2-2 2 0 2 2 2-2 2 1 2-1 2 1 2-1 2 2 2 0 2-1 2 3 2-4 2 1 2 0 2-1 2-1 2 0 2 1 2 2 2-3 2 1 2-1 2 1 2 3 2-4 2 0 2 0 2 1 2-2 2 2 2 1 2-2 2 2 2-1 2 1 2 1 2-6 2 2 2 1 2 0 2 1 2-2 2 1 2 0 2-2 2 4M0 -1l2 0 2 1 2-2 2 3 2 1 2-5 2 1 2-1 2 2 2 1 2 0 2-3 2 2 2-1 2-1 2 1 2-1 2 2 2-1 2-1 2 2 2 0 2-3 2-1 2 1 2 1 2 1 2-3 2 5 2 0 2-3 2 2 2-2 2-3 2 1 2 1 2 3 2-1 2 0 2 2 2 0 2-1 2-2 2 1 2 2 2-3 2 0 2 0 2 0 2-1 2 2 2 0 2-1 2-1 2 2 2 0 2-1 2-1 2 0 2 2 2-1 2 1 2-4 2 3 2-2 2-2 2 2 2 3 2-1 2-3 2 2 2-1 2 1 2-2 2 1M0 3l2 0 2 3 2 0 2-2 2 0 2 2 2-3 2-1 2 2 2-1 2 0 2-1 2 1 2-2 2 0 2 1 2-1 2 0 2 0 2 2 2 1 2-2 2 1 2-1 2 4 2-4 2 0 2 0 2 0 2 2 2-1 2 4 2-4 2-3 2 4 2 0 2-1 2 2 2-1 2 2 2-4 2 0 2 0 2 0 2-1 2 4 2-2 2-1 2-1 2 2 2 0 2 0 2-2 2 1 2 1 2-1 2 3 2-1 2-1 2 1 2-1 2-1 2 3 2-2 2 1 2-3 2 1 2-1 2 0 2 3 2 2 2-1 2-3 2 0 2 0M0 -1l2 2 2 1 2 1 2-3 2 1 2 1 2 2 2-2 2-1 2 0 2-2 2 2 2-3 2 1 2 3 2-4 2 1 2-1 2 0 2 2 2-2 2 4 2 0 2-1 2-3 2 6 2-1 2-1 2 0 2-2 2-1 2 3 2 2 2-3 2-1 2 0 2 0 2 1 2 0 2 1 2-4 2 3 2-1 2 1 2 2 2-3 2 1 2-1 2 1 2 0 2 3 2-3 2-1 2 0 2 1 2 0 2 0 2 0 2-1 2 2 2-3 2 1 2 3 2-5 2 1 2 2 2 1 2-2 2 3 2 0 2 1 2-2 2 1 2-3 2 3M0 -2l2 2 2-1 2 0 2 1 2 1 2 1 2-1 2 0 2-1 2-3 2 2 2 2 2-4 2 0 2 0 2 2 2-2 2 0 2 3 2-3 2 2 2-4 2 2 2-1 2 0 2 1 2 1 2-1 2-1 2 0 2 1 2 0 2 1 2 0 2 0 2 2 2 0 2 1 2-5 2 1 2 2 2-2 2 3 2-2 2 1 2-1 2 2 2-3 2 0 2 2 2-2 2 0 2 1 2 0 2 0 2-1 2 0 2 4 2-2 2-2 2 1 2 1 2-1 2-2 2 1 2-1 2 0 2 0 2 0 2 3 2-2 2 2 2-4 2 4 2 2M0 -3l2-1 2 1 2 0 2 0 2 0 2 1 2-2 2 3 2-4 2 3 2 0 2 0 2 0 2-2 2 3 2 0 2 2 2-2 2 1 2-5 2 0 2 3 2 1 2 1 2-3 2-3 2 2 2-1 2 0 2 3 2-3 2-1 2 2 2-1 2 3 2-3 2 3 2 2 2 0 2-2 2 3 2-5 2 1 2 0 2 1 2-2 2 1 2-4 2 4 2 2 2-2 2-1 2 2 2-2 2 0 2-1 2 2 2 0 2-1 2-1 2 4 2 1 2-1 2-1 2-2 2 1 2 0 2-2 2 2 2-1 2 1 2-1 2 0 2-4 2 5M0 5l2-3 2 0 2 1 2-1 2 2 2 3 2-2 2-1 2-3 2 2 2 1 2 3 2-2 2 0 2-1 2 2 2-2 2 3 2-2 2-1 2-2 2 4 2 0 2-2 2 1 2-2 2 1 2 3 2 0 2-3 2 2 2 1 2 0 2 2 2-1 2-4 2 1 2 2 2 1 2-5 2 1 2 2 2 1 2 3 2-4 2 2 2 0 2 0 2 0 2-3 2 3 2-3 2 0 2 1 2 0 2-2 2 2 2-1 2-2 2 3 2-1 2 0 2 2 2-1 2 2 2 0 2 1 2-1 2-1 2-2 2-1 2 2 2 1 2-3 2 1M0 7l2 1 2-4 2 2 2 0 2-3 2 1 2-2 2-1 2 0 2-1 2 0 2 1 2 1 2-2 2-1 2 1 2 2 2-4 2 5 2-2 2-2 2 0 2 0 2 2 2-2 2 2 2 0 2-2 2-1 2 1 2-2 2 0 2 2 2-2 2 2 2 0 2 0 2-2 2-1 2 0 2 1 2-2 2 4 2 1 2 1 2-2 2 2 2-4 2 3 2-1 2 2 2-1 2-1 2-1 2 0 2 2 2-2 2 2 2-2 2 1 2-1 2 1 2-1 2-2 2 4 2 0 2-1 2 0 2-1 2 2 2 2 2-3 2-1 2 1 2-1M0 -1l2-2 2 0 2 0 2 0 2-1 2 4 2 0 2 0 2 5 2-3 2 3 2-1 2-2 2-1 2 3 2-4 2 4 2-2 2 2 2-2 2 1 2 0 2 1 2-1 2-1 2 0 2 3 2 1 2-1 2 1 2-1 2-1 2 3 2 1 2-4 2 0 2-1 2 0 2 0 2 0 2 1 2-1 2 1 2-3 2 2 2 1 2-3 2 0 2 0 2 2 2 0 2-2 2 2 2-2 2 3 2-1 2 1 2 1 2 0 2 0 2-2 2 0 2 3 2 0 2-4 2 2 2 0 2 0 2 0 2 1 2-2 2 1 2 0 2-1 2 3M0 9l2-2 2-4 2-1 2-4 2-1 2-3 2 2 2 0 2-2 2 3 2-4 2-1 2-3 2 3 2 0 2 0 2 0 2 0 2 0 2-1 2 4 2-3 2 0 2 1 2 1 2 0 2-1 2 0 2 2 2 0 2-1 2 2 2-2 2-2 2 1 2 1 2 3 2 0 2-3 2 0 2 2 2-1 2-3 2 0 2 3 2-3 2 1 2 0 2-1 2 0 2 2 2-2 2 0 2 2 2 2 2-3 2 0 2 1 2 0 2 0 2 1 2-2 2 1 2 0 2 2 2-3 2 3 2-1 2-1 2-3 2 2 2-1 2-2 2 1 2 3M0 -2l2 1 2 1 2-4 2 7 2-1 2 4 2-3 2 1 2 1 2-1 2-2 2 0 2 2 2-2 2 2 2-1 2 2 2 0 2-2 2 1 2 0 2-1 2 2 2-1 2-1 2 0 2 1 2 0 2-1 2 0 2 2 2-2 2 1 2 3 2 2 2-3 2-2 2 0 2 1 2-1 2 1 2-1 2 0 2 1 2 1 2 0 2-2 2 0 2 0 2 1 2-1 2-3 2 1 2 1 2 2 2 0 2 3 2-3 2 0 2-1 2-1 2 1 2 1 2-1 2-1 2 2 2-1 2 1 2-2 2 0 2 2 2-1 2 2 2 2 2-1M0 3l2 0 2-5 2 3 2-2 2-1 2 2 2-6 2 3 2 3 2 1 2 0 2-1 2 0 2 2 2-1 2-1 2 4 2-3 2 0 2 2 2 1 2-2 2-2 2 1 2 1 2 1 2 0 2 0 2 2 2-1 2-3 2 1 2 1 2-1 2 1 2-3 2-1 2 1 2 1 2 1 2-1 2 1 2-2 2 1 2 1 2 2 2 0 2 2 2-2 2-1 2-2 2 1 2 2 2 0 2-1 2 1 2 0 2 1 2-2 2-1 2 0 2 1 2-1 2-1 2 3 2-1 2-1 2 2 2-1 2-2 2 4 2-1 2-1 2-1 2-1M0 1l2-2 2 4 2-3 2-3 2-2 2 4 2-1 2 2 2 1 2-2 2-5 2 1 2-1 2-1 2 5 2-2 2 0 2-1 2 2 2 1 2 1 2-2 2-1 2 0 2 3 2 2 2-1 2 1 2-2 2-1 2 2 2-3 2 1 2-3 2 2 2-3 2 4 2-1 2-2 2 2 2 0 2 1 2-1 2 1 2 0 2 0 2 0 2 1 2 0 2 2 2-5 2 0 2 0 2 1 2 3 2-4 2 2 2-3 2 0 2 4 2-1 2-1 2 0 2 3 2-1 2 0 2 1 2 1 2-2 2 1 2-1 2-1 2-1 2 1 2 0M0 -2l2 0 2 2 2 0 2 1 2 0 2-2 2 1 2-2 2 3 2-6 2 4 2 6 2-6 2 2 2-3 2 0 2 0 2 3 2 0 2-3 2 5 2 0 2-1 2-3 2 1 2-1 2 1 2-1 2 0 2 1 2 1 2-5 2 3 2 4 2-4 2-1 2-1 2 3 2 1 2-2 2 2 2-2 2 0 2 1 2 0 2-1 2 0 2 1 2-1 2 3 2-5 2 3 2-1 2 1 2-1 2-1 2 2 2-2 2 2 2-1 2-2 2 2 2 0 2-1 2 2 2 0 2-5 2 0 2 3 2-2 2 4 2-1 2 2 2-2 2 0" stroke="#000" stroke-width="0.6" fill="none" vector-effect="non-scaling-stroke" stroke-linejoin="round"/>
<path d="M142.3 125.9l1.3 0.6l1.1 0.0l1.2 -1.3M67.4 116.2l0.8 -0.0M189.6 55.0l1.5 -0.3l1.6 -1.5l1.4 -1.0M113.4 82.1l1.2 -0.4M117.8 117.4l1.4 0.9M104.2 111.6l1.5 -1.3l1.1 -0.2l1.5 1.1M123.5 120.1l0.9 0.6l1.2 1.2l1.4 1.3M158.7 50.9l1.1 -0.1l1.2 -0.0l1.4 0.6" stroke="#888" stroke-width="0.7" fill="none"/>
</g></svg>
<rect x="239.8" y="42.2" width="32.90" height="14.40" fill="#c3c3c3"/>
<path d="M65.85 146.15v-4.1M65.85 40.25v4.1M69.40 146.15v-4.1M69.40 40.25v4.1M72.95 146.15v-4.1M72.95 40.25v4.1M76.50 146.15v-4.1M76.50 40.25v4.1M80.05 146.15v-4.1M80.05 40.25v4.1M83.60 146.15v-4.1M83.60 40.25v4.1M87.15 146.15v-4.1M87.15 40.25v4.1M90.70 146.15v-4.1M90.70 40.25v4.1M94.25 146.15v-4.1M94.25 40.25v4.1M97.80 146.15v-8M97.80 40.25v8M101.35 146.15v-4.1M101.35 40.25v4.1M104.90 146.15v-4.1M104.90 40.25v4.1M108.45 146.15v-4.1M108.45 40.25v4.1M112.00 146.15v-4.1M112.00 40.25v4.1M115.55 146.15v-4.1M115.55 40.25v4.1M119.10 146.15v-4.1M119.10 40.25v4.1M122.65 146.15v-4.1M122.65 40.25v4.1M126.20 146.15v-4.1M126.20 40.25v4.1M129.75 146.15v-4.1M129.75 40.25v4.1M133.30 146.15v-8M133.30 40.25v8M136.85 146.15v-4.1M136.85 40.25v4.1M140.40 146.15v-4.1M140.40 40.25v4.1M143.95 146.15v-4.1M143.95 40.25v4.1M147.50 146.15v-4.1M147.50 40.25v4.1M151.05 146.15v-4.1M151.05 40.25v4.1M154.60 146.15v-4.1M154.60 40.25v4.1M158.15 146.15v-4.1M158.15 40.25v4.1M161.70 146.15v-4.1M161.70 40.25v4.1M165.25 146.15v-4.1M165.25 40.25v4.1M168.80 146.15v-8M168.80 40.25v8M172.35 146.15v-4.1M172.35 40.25v4.1M175.90 146.15v-4.1M175.90 40.25v4.1M179.45 146.15v-4.1M179.45 40.25v4.1M183.00 146.15v-4.1M183.00 40.25v4.1M186.55 146.15v-4.1M186.55 40.25v4.1M190.10 146.15v-4.1M190.10 40.25v4.1M193.65 146.15v-4.1M193.65 40.25v4.1M197.20 146.15v-4.1M197.20 40.25v4.1M200.75 146.15v-4.1M200.75 40.25v4.1M204.30 146.15v-8M204.30 40.25v8M207.85 146.15v-4.1M207.85 40.25v4.1M211.40 146.15v-4.1M211.40 40.25v4.1M214.95 146.15v-4.1M214.95 40.25v4.1M218.50 146.15v-4.1M218.50 40.25v4.1M222.05 146.15v-4.1M222.05 40.25v4.1M225.60 146.15v-4.1M225.60 40.25v4.1M229.15 146.15v-4.1M229.15 40.25v4.1M232.70 146.15v-4.1M232.70 40.25v4.1M236.25 146.15v-4.1M236.25 40.25v4.1M239.80 146.15v-8M239.80 40.25v8M243.35 146.15v-4.1M243.35 40.25v4.1M246.90 146.15v-4.1M246.90 40.25v4.1M250.45 146.15v-4.1M250.45 40.25v4.1M254.00 146.15v-4.1M254.00 40.25v4.1M257.55 146.15v-4.1M257.55 40.25v4.1M261.10 146.15v-4.1M261.10 40.25v4.1M264.65 146.15v-4.1M264.65 40.25v4.1M268.20 146.15v-4.1M268.20 40.25v4.1M271.75 146.15v-4.1M271.75 40.25v4.1M62.30 140.86h4.1M275.30 140.86h-4.1M62.30 135.56h4.1M275.30 135.56h-4.1M62.30 130.27h4.1M275.30 130.27h-4.1M62.30 124.97h4.1M275.30 124.97h-4.1M62.30 119.68h8M275.30 119.68h-8M62.30 114.38h4.1M275.30 114.38h-4.1M62.30 109.09h4.1M275.30 109.09h-4.1M62.30 103.79h4.1M275.30 103.79h-4.1M62.30 98.50h4.1M275.30 98.50h-4.1M62.30 93.20h8M275.30 93.20h-8M62.30 87.91h4.1M275.30 87.91h-4.1M62.30 82.61h4.1M275.30 82.61h-4.1M62.30 77.31h4.1M275.30 77.31h-4.1M62.30 72.02h4.1M275.30 72.02h-4.1M62.30 66.73h8M275.30 66.73h-8M62.30 61.43h4.1M275.30 61.43h-4.1M62.30 56.13h4.1M275.30 56.13h-4.1M62.30 50.84h4.1M275.30 50.84h-4.1M62.30 45.55h4.1M275.30 45.55h-4.1" stroke="#111" stroke-width="1.1" fill="none"/>
<rect x="62.30" y="40.25" width="213.00" height="105.90" stroke="#111" stroke-width="1.7" fill="none"/>
<path d="M314.50 39.90V145.80M350.50 39.90V145.80M385.50 39.90V145.80M421.50 39.90V145.80M456.50 39.90V145.80M279.00 119.33H492.00M279.00 92.85H492.00M279.00 66.38H492.00" stroke="#505050" stroke-width="1.05" stroke-dasharray="2 1.7" fill="none"/>
<path d="M279.3 104.9 280.2 97.6 281.1 95.1 282.0 91.8 282.9 90.8 283.8 94.6 284.7 97.1 285.6 98.8 286.5 100.6 287.4 93.5 288.3 89.5 289.2 87.3 290.1 84.3 291.0 87.0 291.9 88.6 292.8 86.5 293.7 85.3 294.6 82.3 295.5 79.4 296.4 78.1 297.3 76.0 298.2 73.3 299.1 73.0 300.0 72.0 300.9 70.0 301.8 69.3 302.7 69.6 303.6 71.5 304.5 72.2 305.4 71.5 306.3 70.4 307.2 69.9 308.1 69.1 309.0 67.9 309.9 66.7 310.8 65.3 311.7 65.4 312.6 66.9 313.5 67.3 314.4 67.4 315.3 66.5 316.2 64.7 317.1 62.9 318.0 61.2 318.9 58.2 319.8 57.5 320.7 58.6 321.6 54.9 322.5 52.7 323.4 51.5 324.3 52.4 325.2 52.4 326.1 50.8 327.0 50.9 327.9 51.6 328.8 51.2 329.7 51.6 330.6 52.3 331.5 51.6 332.4 49.6 333.3 48.6 334.2 48.0 335.1 48.9 336.0 48.9 336.9 47.8 337.8 48.1 338.7 47.1 339.6 46.8 340.5 47.3 341.4 47.1 342.3 47.0 343.2 46.7 344.1 46.3 345.0 45.4 345.9 45.5 346.8 46.7 347.7 45.2 348.6 43.9 349.5 43.9 350.4 45.3 351.3 44.7 352.2 42.3 353.1 44.1 354.0 45.4 354.9 44.3 355.8 45.8 356.7 46.7 357.6 46.1 358.5 47.6 359.4 47.9 360.3 47.8 361.2 48.8 362.1 47.8 363.0 48.3 363.9 49.4 364.8 48.2 365.7 48.1 366.6 48.7 367.5 48.3 368.4 47.5 369.3 46.9 370.2 46.7 371.1 48.1 372.0 47.0 372.9 45.8 373.8 46.3 374.7 45.8 375.6 45.1 376.5 43.7 377.4 43.7 378.3 45.1 379.2 45.1 380.1 43.5 381.0 42.3 381.9 43.5 382.8 44.1 383.7 41.7 384.6 42.5 385.5 44.9 386.4 44.5 387.3 43.1 388.2 43.1 389.1 43.5 390.0 43.7 390.9 43.4 391.8 43.7 392.7 43.6 393.6 43.1 394.5 43.7 395.4 42.8 396.3 42.9 397.2 44.2 398.1 43.5 399.0 42.4 399.9 42.8 400.8 42.9 401.7 42.0 402.6 42.1 403.5 42.0 404.4 41.3 405.3 42.0 406.2 43.1 407.1 43.2 408.0 42.3 408.9 42.6 409.8 42.4 410.7 41.5 411.6 42.9 412.5 43.3 413.4 42.3 414.3 43.1 415.2 44.5 416.1 43.8 417.0 42.7 417.9 42.3 418.8 41.8 419.7 42.7 420.6 44.0 421.5 43.6 422.4 43.3 423.3 44.6 424.2 45.3 425.1 44.0 426.0 42.8 426.9 42.6 427.8 41.4 428.7 41.7 429.6 43.1 430.5 43.4 431.4 43.7 432.3 44.0 433.2 44.7 434.1 45.7 435.0 45.1 435.9 44.5 436.8 44.1 437.7 44.1 438.6 46.5 439.5 47.9 440.4 46.6 441.3 45.4 442.2 45.2 443.1 45.7 444.0 45.7 444.9 45.9 445.8 45.2 446.7 45.1 447.6 46.2 448.5 45.4 449.4 44.5 450.3 46.1 451.2 47.5 452.1 47.6 453.0 47.4 453.9 47.9 454.8 47.8 455.7 47.7 456.6 49.0 457.5 49.8 458.4 50.6 459.3 50.8 460.2 49.7 461.1 49.7 462.0 50.1 462.9 50.7 463.8 52.1 464.7 51.4 465.6 51.1 466.5 51.4 467.4 50.3 468.3 48.1 469.2 48.3 470.1 47.7 471.0 47.3 471.9 47.8 472.8 46.9 473.7 46.6 474.6 45.9 475.5 46.0 476.4 47.4 477.3 47.6 478.2 47.3 479.1 46.7 480.0 46.3 480.9 48.0 481.8 48.4 482.7 47.8 483.6 48.1 484.5 48.5 485.4 48.3 486.3 48.5 487.2 49.5 488.1 49.7 489.0 49.8 489.9 47.9 490.8 46.3 491.7 46.3" stroke="#ff0000" stroke-width="2.4" fill="none" stroke-linejoin="round"/>
<path d="M279.3 43.0 280.1 46.0 280.9 46.9 281.7 44.3 282.5 45.2 283.3 43.4 284.1 43.2 284.9 41.7 285.7 42.9 286.5 42.8 287.3 42.4 288.1 42.2 288.9 43.5 289.7 43.8 290.5 43.0 291.3 42.6 292.1 44.3 292.9 43.4 293.7 43.6 294.5 43.8 295.3 42.5 296.1 43.1 296.9 43.8 297.7 43.1 298.5 43.8 299.3 43.5 300.1 43.5 300.9 44.3 301.7 44.2 302.5 44.2 303.3 43.2 304.1 43.0 304.9 42.0 305.7 42.7 306.5 43.6 307.3 42.8 308.1 43.8 308.9 42.3 309.7 43.6 310.5 44.0 311.3 43.1 312.1 43.3 312.9 43.5 313.7 43.2 314.5 43.0 315.3 41.6 316.1 42.2 316.9 42.8 317.7 43.5 318.5 44.4 319.3 43.1 320.1 43.1 320.9 44.9 321.7 44.7 322.5 44.7 323.3 43.3 324.1 43.2 324.9 42.4 325.7 43.3 326.5 43.4 327.3 41.8 328.1 42.0 328.9 42.7 329.7 43.7 330.5 43.3 331.3 42.4 332.1 42.1 332.9 43.1 333.7 43.3 334.5 40.9 335.3 44.1 336.1 42.0 336.9 42.8 337.7 43.5 338.5 42.2 339.3 42.8 340.1 44.5 340.9 43.1 341.7 41.6 342.5 42.6 343.3 43.2 344.1 43.2 344.9 42.4 345.7 43.3 346.5 43.7 347.3 43.0 348.1 42.5 348.9 42.7 349.7 41.9 350.5 42.9 351.3 41.8 352.1 41.6 352.9 40.9 353.7 43.3 354.5 42.4 355.3 43.0 356.1 42.4 356.9 41.9 357.7 41.6 358.5 42.9 359.3 41.1 360.1 43.8 360.9 43.5 361.7 43.3 362.5 41.8 363.3 41.5 364.1 42.2 364.9 43.1 365.7 43.0 366.5 44.0 367.3 43.8 368.1 44.5 368.9 42.2 369.7 43.6 370.5 43.5 371.3 43.1 372.1 43.5 372.9 42.1 373.7 43.1 374.5 42.3 375.3 42.4 376.1 42.6 376.9 41.7 377.7 42.5 378.5 41.6 379.3 40.9 380.1 43.4 380.9 41.7 381.7 43.6 382.5 41.8 383.3 44.0 384.1 43.3 384.9 42.3 385.7 43.1 386.5 42.0 387.3 43.3 388.1 41.9 388.9 41.2 389.7 41.5 390.5 43.6 391.3 42.7 392.1 43.3 392.9 43.2 393.7 41.9 394.5 41.9 395.3 43.1 396.1 43.7 396.9 42.4 397.7 43.0 398.5 41.9 399.3 44.8 400.1 40.8 400.9 43.7 401.7 42.6 402.5 42.5 403.3 42.5 404.1 43.2 404.9 43.9 405.7 41.6 406.5 43.5 407.3 42.0 408.1 43.5 408.9 42.3 409.7 42.9 410.5 42.8 411.3 41.6 412.1 41.9 412.9 43.1 413.7 41.4 414.5 42.9 415.3 43.7 416.1 42.7 416.9 42.8 417.7 43.2 418.5 42.1 419.3 43.7 420.1 42.9 420.9 41.6 421.7 42.9 422.5 43.1 423.3 42.8 424.1 42.7 424.9 43.3 425.7 42.2 426.5 43.2 427.3 44.3 428.1 42.1 428.9 43.2 429.7 42.8 430.5 42.2 431.3 41.9 432.1 43.0 432.9 41.7 433.7 42.6 434.5 42.7 435.3 42.6 436.1 41.6 436.9 43.4 437.7 44.2 438.5 42.6 439.3 42.0 440.1 43.1 440.9 43.7 441.7 43.0 442.5 42.9 443.3 42.9 444.1 42.5 444.9 42.4 445.7 42.1 446.5 43.9 447.3 42.7 448.1 42.1 448.9 42.4 449.7 43.8 450.5 42.8 451.3 43.9 452.1 42.9 452.9 43.2 453.7 43.0 454.5 43.8 455.3 42.6 456.1 44.2 456.9 43.3 457.7 42.8 458.5 44.8 459.3 43.8 460.1 43.9 460.9 43.6 461.7 43.0 462.5 43.8 463.3 43.6 464.1 43.4 464.9 42.9 465.7 44.4 466.5 43.4 467.3 44.5 468.1 42.6 468.9 44.1 469.7 44.0 470.5 45.2 471.3 43.3 472.1 44.2 472.9 44.3 473.7 41.2 474.5 42.5 475.3 44.0 476.1 42.9 476.9 43.4 477.7 43.2 478.5 42.9 479.3 44.2 480.1 43.3 480.9 42.8 481.7 45.1 482.5 44.3 483.3 43.4 484.1 43.3 484.9 43.1 485.7 42.6 486.5 43.5 487.3 43.7 488.1 42.3 488.9 43.3 489.7 42.3 490.5 42.5 491.3 42.8" stroke="#000" stroke-width="2.1" fill="none" stroke-linejoin="round"/>
<path d="M282.85 146.15v-4.1M282.85 40.25v4.1M286.40 146.15v-4.1M286.40 40.25v4.1M289.95 146.15v-4.1M289.95 40.25v4.1M293.50 146.15v-4.1M293.50 40.25v4.1M297.05 146.15v-4.1M297.05 40.25v4.1M300.60 146.15v-4.1M300.60 40.25v4.1M304.15 146.15v-4.1M304.15 40.25v4.1M307.70 146.15v-4.1M307.70 40.25v4.1M311.25 146.15v-4.1M311.25 40.25v4.1M314.80 146.15v-8M314.80 40.25v8M318.35 146.15v-4.1M318.35 40.25v4.1M321.90 146.15v-4.1M321.90 40.25v4.1M325.45 146.15v-4.1M325.45 40.25v4.1M329.00 146.15v-4.1M329.00 40.25v4.1M332.55 146.15v-4.1M332.55 40.25v4.1M336.10 146.15v-4.1M336.10 40.25v4.1M339.65 146.15v-4.1M339.65 40.25v4.1M343.20 146.15v-4.1M343.20 40.25v4.1M346.75 146.15v-4.1M346.75 40.25v4.1M350.30 146.15v-8M350.30 40.25v8M353.85 146.15v-4.1M353.85 40.25v4.1M357.40 146.15v-4.1M357.40 40.25v4.1M360.95 146.15v-4.1M360.95 40.25v4.1M364.50 146.15v-4.1M364.50 40.25v4.1M368.05 146.15v-4.1M368.05 40.25v4.1M371.60 146.15v-4.1M371.60 40.25v4.1M375.15 146.15v-4.1M375.15 40.25v4.1M378.70 146.15v-4.1M378.70 40.25v4.1M382.25 146.15v-4.1M382.25 40.25v4.1M385.80 146.15v-8M385.80 40.25v8M389.35 146.15v-4.1M389.35 40.25v4.1M392.90 146.15v-4.1M392.90 40.25v4.1M396.45 146.15v-4.1M396.45 40.25v4.1M400.00 146.15v-4.1M400.00 40.25v4.1M403.55 146.15v-4.1M403.55 40.25v4.1M407.10 146.15v-4.1M407.10 40.25v4.1M410.65 146.15v-4.1M410.65 40.25v4.1M414.20 146.15v-4.1M414.20 40.25v4.1M417.75 146.15v-4.1M417.75 40.25v4.1M421.30 146.15v-8M421.30 40.25v8M424.85 146.15v-4.1M424.85 40.25v4.1M428.40 146.15v-4.1M428.40 40.25v4.1M431.95 146.15v-4.1M431.95 40.25v4.1M435.50 146.15v-4.1M435.50 40.25v4.1M439.05 146.15v-4.1M439.05 40.25v4.1M442.60 146.15v-4.1M442.60 40.25v4.1M446.15 146.15v-4.1M446.15 40.25v4.1M449.70 146.15v-4.1M449.70 40.25v4.1M453.25 146.15v-4.1M453.25 40.25v4.1M456.80 146.15v-8M456.80 40.25v8M460.35 146.15v-4.1M460.35 40.25v4.1M463.90 146.15v-4.1M463.90 40.25v4.1M467.45 146.15v-4.1M467.45 40.25v4.1M471.00 146.15v-4.1M471.00 40.25v4.1M474.55 146.15v-4.1M474.55 40.25v4.1M478.10 146.15v-4.1M478.10 40.25v4.1M481.65 146.15v-4.1M481.65 40.25v4.1M485.20 146.15v-4.1M485.20 40.25v4.1M488.75 146.15v-4.1M488.75 40.25v4.1M279.30 140.86h4.1M492.30 140.86h-4.1M279.30 135.56h4.1M492.30 135.56h-4.1M279.30 130.27h4.1M492.30 130.27h-4.1M279.30 124.97h4.1M492.30 124.97h-4.1M279.30 119.68h8M492.30 119.68h-8M279.30 114.38h4.1M492.30 114.38h-4.1M279.30 109.09h4.1M492.30 109.09h-4.1M279.30 103.79h4.1M492.30 103.79h-4.1M279.30 98.50h4.1M492.30 98.50h-4.1M279.30 93.20h8M492.30 93.20h-8M279.30 87.91h4.1M492.30 87.91h-4.1M279.30 82.61h4.1M492.30 82.61h-4.1M279.30 77.31h4.1M492.30 77.31h-4.1M279.30 72.02h4.1M492.30 72.02h-4.1M279.30 66.73h8M492.30 66.73h-8M279.30 61.43h4.1M492.30 61.43h-4.1M279.30 56.13h4.1M492.30 56.13h-4.1M279.30 50.84h4.1M492.30 50.84h-4.1M279.30 45.55h4.1M492.30 45.55h-4.1" stroke="#111" stroke-width="1.1" fill="none"/>
<rect x="279.30" y="40.25" width="213.00" height="105.90" stroke="#111" stroke-width="1.7" fill="none"/>
<path d="M97.50 167.90V273.80M133.50 167.90V273.80M168.50 167.90V273.80M204.50 167.90V273.80M239.50 167.90V273.80M62.00 194.38H275.00M62.00 220.85H275.00M62.00 247.33H275.00" stroke="#505050" stroke-width="1.05" stroke-dasharray="2 1.7" fill="none"/>
<svg x="62.0" y="167.9" width="213.0" height="105.9" overflow="hidden"><g transform="translate(-62.0 -167.9)">
<path transform="translate(62.00 220.85) scale(1.4200 0.5295)" d="M0 95l1-21 1-15 1-12 1-13 1-5 1-6 1-6 1-3 1-3 1-1 1-1 1-2 1 2 1-2 1-2 1 1 1 0 1-1 1 1 1-1 1 0 1 0 1 0 1-1 1 1 1 0 1-1 1 1 1-1 1 0 1 0 1 2 1-1 1-1 1 2 1-1 1 1 1-2 1 0 1 0 1 2 1-1 1 1 1-2 1 1 1 0 1 1 1 2 1-1 1 0 1 0 1 0 1 1 1 0 1 0 1 0 1 0 1-1 1 0 1 1 1 0 1 1 1-4 1 1 1 1 1-1 1 2 1 1 1-2 1-1 1 2 1-2 1 1 1 2 1-1 1-1 1-1 1 0 1 2 1 1 1-2 1 0 1 0 1 1 1 1 1-3 1 0 1 1 1 0 1-1 1-2 1 2 1 1 1-2 1 1 1 0 1-2 1 1 1 1 1-1 1 1 1-3 1 2 1-2 1 2 1 2 1-1 1 0 1-1 1 0 1-1 1-1 1 1 1 1 1 0 1-1 1 0 1 0 1 0 1 1 1-1 1-2 1 1 1 1 1 0 1-1 1 0 1-2 1 2 1 1 1 0 1-2 1 3 1-2 1-1 1 3 1 0 1 0 1 0 1 1 1-1 1-2 1 0 1 1 1 0 1 0 1 1 1 1 1-1 1 0M0 78l1-13 1-13 1-8 1-9 1-6 1-2 1-5 1-5 1-2 1-2 1-4 1-1 1 0 1-6 1 2 1-1 1 1 1-1 1-2 1 2 1-2 1 2 1 0 1-2 1 1 1-1 1 0 1 0 1 0 1-2 1 0 1-1 1 0 1 0 1 1 1 2 1-2 1 1 1-2 1-1 1 2 1 0 1 2 1 1 1-4 1 2 1-2 1 1 1 2 1-3 1 1 1 0 1-1 1 3 1-2 1 3 1-2 1-4 1 4 1 0 1 1 1 0 1-1 1-1 1-1 1 2 1 1 1-3 1 0 1 1 1 1 1 0 1 0 1-1 1 0 1-1 1-1 1 1 1-1 1 2 1 0 1 0 1 1 1 1 1-2 1 1 1 3 1-1 1 0 1 0 1-1 1 2 1-3 1 1 1 1 1 0 1 2 1-4 1 2 1-3 1 1 1 2 1 1 1 0 1 0 1-2 1 2 1 0 1 0 1-2 1 2 1-2 1 1 1-1 1 0 1 0 1 0 1 0 1-1 1 1 1 2 1-3 1 1 1-2 1 1 1 1 1-1 1 1 1 1 1-3 1 1 1 0 1 0 1 0 1-1 1 2 1-2 1 2 1 0 1 0 1-2 1 1 1-1 1-2 1 1 1 0 1 2 1-2 1 0 1-1M0 61l1-8 1-5 1-3 1-9 1-3 1-5 1-4 1-2 1-3 1-2 1 1 1-2 1-1 1 0 1 0 1-3 1 3 1-4 1 2 1-1 1-1 1 1 1-3 1 3 1-2 1 1 1 1 1-3 1 2 1 2 1 0 1-2 1 1 1-1 1 0 1-1 1 1 1-3 1 2 1 1 1 0 1-1 1 1 1 1 1-1 1-2 1 2 1-2 1 1 1-2 1-1 1 2 1-2 1 1 1-2 1 3 1 0 1-1 1 0 1 3 1-1 1-3 1 1 1 1 1 0 1-2 1 3 1-2 1-1 1 3 1-1 1 0 1-1 1 1 1 0 1-1 1 1 1 1 1 0 1-1 1 3 1-1 1-2 1 0 1-1 1 1 1 1 1-1 1 0 1 1 1-2 1 0 1 2 1-1 1-2 1 2 1-1 1 0 1 2 1-1 1 1 1-1 1 0 1-1 1-1 1 1 1 0 1 1 1-1 1 1 1 0 1-1 1 1 1-3 1 3 1-2 1 0 1-1 1 1 1 1 1 0 1 1 1-1 1 0 1 0 1 0 1 1 1 1 1 0 1-1 1 0 1 1 1 1 1-2 1 0 1-1 1 2 1-1 1 0 1-1 1 2 1 0 1-1 1 1 1-1 1 1 1 1 1-2 1 1 1 1M0 -38l1-4 1 3 1 0 1 0 1 0 1 2 1-1 1 2 1 0 1-2 1 1 1 2 1 1 1-1 1 3 1 0 1-1 1 1 1 1 1 0 1 0 1 2 1-1 1 1 1 1 1 1 1-2 1 1 1 0 1 1 1 0 1 1 1 1 1-3 1 2 1 0 1 1 1 1 1 0 1 2 1-3 1 0 1 0 1 1 1 0 1 3 1-1 1-1 1 0 1-1 1 3 1-1 1 1 1 1 1-3 1 2 1 0 1 1 1-2 1 0 1 1 1 2 1-1 1 0 1 1 1-1 1 2 1-1 1 1 1-2 1 1 1 2 1-3 1 1 1-1 1 3 1-1 1 1 1 1 1-2 1 1 1 2 1-2 1 1 1 1 1 0 1 2 1-1 1-1 1 1 1-2 1 0 1 1 1 1 1 1 1 0 1-1 1 2 1 0 1-1 1 2 1 1 1-2 1 1 1 1 1-1 1 1 1-1 1 0 1 0 1-2 1 2 1-2 1 0 1 0 1 0 1 1 1 1 1 1 1-1 1-1 1 2 1-1 1 0 1 1 1 1 1-2 1 2 1 0 1-1 1-1 1 1 1-1 1 0 1 1 1-2 1 2 1 1 1-2 1 0 1-1 1 3 1-1 1 1 1-1 1 3 1-3 1 1 1 0 1-2M0 8l1 0 1-1 1 0 1 2 1-3 1 3 1 0 1 1 1-4 1 2 1-1 1 1 1 1 1-1 1-2 1 1 1 0 1 1 1-2 1 2 1 1 1-1 1 0 1 2 1-1 1 0 1 1 1 1 1-3 1 1 1 1 1 0 1 0 1-2 1 2 1-1 1 0 1 0 1 0 1 1 1 1 1-2 1 2 1 2 1-1 1 0 1-1 1 2 1-2 1 1 1 0 1 2 1-1 1-1 1 0 1 1 1 0 1 0 1-1 1 0 1 0 1 0 1-1 1 3 1 1 1-2 1 0 1 0 1 0 1-1 1 2 1-1 1 1 1-2 1 3 1-2 1-1 1 0 1 2 1-1 1-1 1 1 1 2 1-2 1 0 1 2 1-2 1 2 1-2 1 1 1-1 1 2 1-1 1-1 1 0 1 2 1-2 1-1 1 2 1 1 1-1 1 2 1-2 1 2 1-2 1 0 1 1 1 0 1 1 1 0 1 0 1 0 1 0 1 0 1 1 1 0 1-2 1 2 1 0 1 0 1-2 1 1 1 1 1-1 1 0 1 0 1 0 1-2 1 1 1 2 1-1 1 0 1-2 1 1 1 0 1 2 1-4 1 1 1 0 1 0 1 1 1-1 1-1 1 0 1 0 1 1 1-1 1 2 1-1 1 1M0 -23l1 1 1 0 1 3 1 3 1 3 1 1 1-1 1-1 1 3 1 1 1 3 1-2 1-1 1 3 1 0 1 2 1 0 1 2 1-2 1 0 1 1 1-1 1-1 1 3 1-2 1 2 1 0 1-2 1 3 1-3 1 1 1 1 1-3 1 2 1 0 1 1 1 0 1 1 1-1 1 0 1 0 1-2 1 5 1-3 1 1 1 0 1 0 1 1 1-3 1 3 1 0 1 0 1-1 1-1 1 0 1 5 1-3 1-2 1-1 1 1 1-3 1 4 1 0 1 0 1 0 1 0 1-1 1 0 1 0 1-2 1 2 1 0 1 1 1-2 1 0 1 0 1-1 1 2 1 1 1 3 1-2 1 0 1 0 1 1 1 1 1 1 1-2 1 1 1-3 1 0 1 2 1-2 1 1 1 0 1 1 1-2 1 2 1-1 1 0 1-2 1-1 1 3 1-3 1 1 1 0 1 4 1-4 1 2 1-1 1 0 1 0 1 1 1-1 1-1 1 1 1 0 1-1 1 0 1 0 1 0 1 1 1 0 1-3 1-1 1 5 1 0 1 0 1-2 1 0 1 3 1-1 1 0 1-1 1 1 1-2 1 1 1-3 1 0 1 1 1 0 1 2 1-2 1 1 1-2 1 5 1-2 1 0 1 0 1 3 1-2M0 -2l1 2 1 0 1-1 1 3 1 1 1 1 1-1 1-2 1 1 1 1 1-2 1 0 1 1 1 1 1 1 1 2 1 1 1-1 1-2 1 1 1 0 1 1 1-2 1-2 1 4 1-2 1-1 1 3 1-2 1 3 1-2 1 1 1 1 1 0 1-1 1-1 1 2 1-3 1 0 1 0 1-2 1 4 1-3 1-1 1-2 1 1 1-1 1 2 1-3 1 0 1 2 1-1 1-1 1 5 1-3 1 1 1 0 1 1 1 0 1 0 1 1 1-2 1 2 1 1 1 2 1 0 1-1 1 0 1 0 1-1 1 1 1 0 1-3 1 0 1 0 1-1 1 5 1-2 1-2 1 5 1-3 1 1 1 0 1-1 1 0 1 0 1 0 1-1 1 0 1 1 1 0 1-2 1 0 1-2 1 0 1 1 1 0 1 0 1-1 1 1 1-1 1 0 1 0 1 0 1 1 1 2 1-1 1 0 1-1 1 1 1-1 1 0 1-1 1 3 1 0 1-1 1 0 1 1 1-1 1 2 1-3 1 0 1 1 1 0 1 0 1 0 1-1 1-1 1 2 1-1 1 1 1-1 1 0 1 1 1 2 1-2 1-1 1 3 1-2 1 0 1-1 1 1 1-1 1 0 1 1 1 0 1-3 1 3 1-1 1-1M0 -40l1 0 1 2 1 0 1 2 1 1 1 2 1 0 1 5 1 2 1 1 1 3 1-2 1 4 1 4 1 0 1 1 1-1 1-2 1 4 1-3 1 5 1-2 1 1 1 1 1-1 1 1 1 1 1-1 1 0 1 4 1-2 1-3 1 3 1 0 1-2 1 1 1 0 1 0 1 1 1 1 1 0 1 1 1 2 1-1 1 1 1 1 1-1 1 1 1 0 1 1 1-1 1 0 1 0 1-1 1-2 1 3 1-1 1-1 1 0 1-1 1 2 1-2 1 1 1 0 1 0 1 2 1-1 1 2 1-1 1 1 1 1 1-3 1 2 1 0 1 0 1 1 1 0 1 1 1-2 1 1 1 2 1 1 1-3 1 1 1 0 1 1 1-1 1 0 1-2 1 2 1-2 1 1 1-1 1 1 1 0 1 0 1-3 1 2 1 0 1 2 1 0 1 0 1 0 1 1 1-2 1 2 1 0 1-1 1-2 1 3 1-1 1 0 1-2 1-1 1 1 1-2 1 1 1 1 1-1 1 0 1 0 1-1 1 1 1 0 1-2 1 1 1 1 1-1 1 1 1 0 1 0 1 3 1-1 1 0 1 1 1-1 1 1 1-1 1 1 1 0 1-2 1 2 1-2 1 1 1 0 1 0 1-1 1 3 1-3 1 1M0 31l1-4 1-1 1-2 1-2 1-2 1 0 1-2 1 0 1-2 1-1 1-2 1 0 1-1 1-3 1-1 1-2 1-3 1 3 1-2 1-1 1 1 1-2 1-1 1 0 1-1 1 0 1 0 1 0 1 1 1-3 1 0 1-2 1 0 1 0 1 0 1 0 1 2 1-1 1 2 1 0 1-2 1 1 1 1 1 1 1-3 1 0 1 0 1 1 1-1 1-1 1 0 1 0 1 0 1-1 1-1 1 2 1-1 1 1 1-1 1 2 1 0 1 0 1 0 1 0 1 0 1 1 1 2 1-2 1 1 1-1 1 0 1 2 1-1 1 0 1-2 1 1 1-1 1 0 1-2 1 0 1 1 1 0 1-1 1 1 1 1 1 0 1-1 1-2 1 1 1 0 1-1 1-1 1 1 1 0 1-1 1 2 1-3 1 5 1-1 1-1 1 3 1 0 1 0 1 0 1 0 1 1 1-2 1 3 1-2 1 2 1-1 1 3 1-3 1 0 1 0 1 0 1 0 1-1 1 1 1-3 1 0 1-1 1 2 1-2 1 1 1 0 1 0 1-3 1 1 1-2 1 2 1 0 1 0 1 0 1 0 1 0 1 1 1 0 1-2 1 2 1-3 1 0 1 0 1 0 1 0 1-1 1 1 1 0 1 0 1 1M0 9l1-1 1-1 1 2 1-1 1-2 1 1 1-1 1-2 1 0 1 2 1 2 1-2 1 1 1-2 1 0 1-4 1 2 1 1 1-2 1 1 1-2 1 0 1 3 1 0 1 0 1-3 1 3 1-1 1 3 1-1 1-2 1 1 1-1 1 1 1-3 1 3 1-1 1 1 1-1 1 1 1-2 1 1 1-1 1-2 1 2 1-1 1 3 1-1 1-1 1 3 1-1 1-3 1 4 1-1 1-1 1 0 1 1 1 0 1 0 1 0 1-1 1 0 1-1 1 0 1-1 1 1 1 2 1-1 1 0 1 2 1-2 1-1 1 0 1 2 1 2 1-1 1-1 1-1 1-3 1 2 1 3 1-2 1-1 1 2 1-1 1-1 1 2 1-3 1-1 1 0 1 0 1 0 1 0 1-1 1 2 1-1 1-1 1 0 1 1 1-1 1 0 1 1 1-1 1-1 1 0 1 3 1 0 1 0 1-1 1 2 1 2 1-1 1 2 1-2 1-1 1 1 1 0 1 1 1 0 1 0 1-1 1 0 1-1 1-1 1 2 1 0 1 0 1-2 1 2 1-2 1 2 1-1 1-1 1 2 1 0 1-1 1-1 1 0 1 2 1 1 1-1 1-1 1 0 1-2 1 2 1-1 1 3 1-2 1-1 1-1M0 -25l1 4 1 0 1 1 1 4 1 2 1-3 1 5 1 1 1-1 1 0 1 1 1 3 1-2 1 3 1 2 1-2 1-3 1 1 1 1 1-1 1 0 1 1 1 0 1 0 1-3 1 3 1 4 1-2 1-2 1 2 1 0 1 1 1 0 1 0 1 0 1 2 1 0 1-3 1 2 1 1 1-1 1 0 1 0 1-3 1 3 1-2 1 2 1 0 1 0 1-3 1 1 1 1 1 0 1-2 1 1 1 2 1-1 1 1 1 3 1-2 1 0 1-3 1 1 1-3 1 5 1-2 1 1 1-1 1 1 1 1 1-1 1 1 1-1 1 1 1-2 1 0 1 3 1-2 1 3 1 1 1 1 1-3 1 3 1 0 1-1 1 0 1 1 1-1 1 0 1 2 1 0 1-4 1 2 1 0 1 0 1-2 1 3 1 0 1-1 1 0 1-1 1 0 1 2 1-1 1 0 1 1 1-2 1 1 1-3 1 2 1-2 1 2 1 0 1-1 1-1 1 1 1 1 1 0 1-1 1 2 1-2 1 0 1 0 1-1 1 1 1 2 1-2 1 0 1 0 1 2 1 0 1-2 1 1 1 0 1 0 1-1 1 1 1-1 1 1 1-1 1-3 1 2 1 2 1-1 1 0 1-1 1 2 1-1 1-1 1 1M0 5l1-1 1 0 1 2 1 0 1-1 1 0 1-2 1 0 1 2 1-2 1-1 1 2 1 2 1-1 1-1 1-1 1 3 1 3 1-3 1 0 1 1 1-1 1-1 1-1 1 1 1-1 1 1 1 0 1 1 1-1 1 0 1 1 1 0 1 1 1 2 1-2 1 0 1 2 1-2 1 0 1 1 1-3 1 2 1 0 1-1 1 0 1 0 1 1 1-2 1 0 1-1 1 1 1 1 1-1 1 1 1-3 1 4 1-1 1 0 1-2 1 2 1 1 1 0 1 1 1-2 1-1 1 1 1 0 1 1 1-2 1 2 1-1 1 2 1 0 1 0 1 0 1-1 1 2 1 0 1-2 1 1 1 2 1-1 1-1 1-1 1 2 1-1 1-2 1 2 1-1 1-1 1 0 1 1 1-1 1 1 1 1 1 1 1-1 1-1 1-1 1 1 1 1 1 1 1-2 1 1 1 2 1-1 1 0 1 0 1 0 1 0 1 0 1-1 1 0 1 1 1-1 1-2 1 0 1 3 1 1 1-1 1 0 1 0 1 0 1 1 1 1 1-3 1 1 1 1 1-2 1-1 1 2 1 0 1-3 1 1 1 2 1-4 1 2 1 1 1-2 1 1 1 0 1 1 1 2 1-1 1 0 1 0 1-1 1 0 1 2M0 43l1-3 1 1 1-3 1-2 1 2 1-5 1-1 1-2 1-2 1-1 1-1 1 0 1-2 1 0 1-2 1 1 1-2 1-2 1-2 1-3 1 3 1-1 1-2 1-3 1 0 1-1 1 0 1 0 1-1 1-1 1-2 1-1 1 0 1-2 1 1 1 2 1 0 1 0 1-1 1 0 1-2 1-1 1 2 1-2 1 1 1-4 1 1 1-1 1 0 1 2 1-1 1 1 1-1 1 3 1-2 1 0 1 1 1 0 1 0 1-3 1 2 1-1 1-1 1 2 1-3 1 1 1-1 1-1 1 5 1-3 1 0 1 0 1-1 1 0 1 1 1-1 1-1 1 0 1-1 1 1 1 0 1 2 1 0 1-3 1 0 1 3 1-2 1 2 1-3 1 4 1-2 1 1 1 0 1-2 1-2 1 3 1-1 1 1 1 1 1-2 1 0 1 0 1 1 1 1 1-2 1 2 1-1 1-3 1 2 1 1 1-1 1-1 1 1 1 1 1 0 1-1 1 2 1 0 1-2 1 3 1-4 1 2 1 0 1-3 1 0 1 0 1 0 1 2 1 1 1 0 1-1 1-3 1 2 1-1 1 2 1-2 1 1 1-1 1 1 1 0 1-1 1-2 1 3 1 0 1 0 1 1 1-2 1 2 1-1 1-1M0 62l1-6 1 0 1-2 1-1 1 0 1-1 1-2 1-4 1 0 1-5 1-2 1-5 1 3 1 1 1-4 1 0 1-1 1-1 1-5 1 1 1-3 1-1 1-1 1-1 1-1 1-1 1 3 1-3 1-2 1 0 1-3 1 1 1 0 1-3 1 1 1 3 1-1 1-3 1-1 1 1 1 1 1-1 1 0 1 1 1-2 1 1 1-1 1-2 1 0 1-2 1 1 1 0 1-2 1 1 1-3 1-3 1 1 1-1 1 0 1-2 1 1 1 1 1-1 1-1 1 1 1-1 1-1 1 0 1-1 1 3 1 0 1-2 1 1 1 0 1 2 1-3 1 0 1 0 1-1 1 2 1 0 1-3 1 2 1 0 1 2 1-3 1 3 1-3 1 0 1 4 1-2 1-3 1 0 1 1 1 0 1 1 1-1 1 0 1-2 1 1 1 1 1-2 1-1 1-1 1-1 1 1 1 1 1-1 1 1 1 1 1 0 1-1 1 0 1-1 1 0 1 1 1 0 1 0 1 2 1-2 1-1 1 0 1 2 1 0 1-1 1 0 1 2 1 0 1 1 1-1 1 0 1 0 1 0 1 1 1 0 1-1 1 0 1-1 1-1 1 1 1-1 1 1 1 1 1 1 1-2 1 2 1 0 1-1 1-2 1 0M0 5l1-1 1 0 1 0 1 2 1 0 1-1 1 1 1-1 1 0 1-1 1 2 1-1 1-1 1-1 1-1 1 0 1 1 1 2 1 0 1-1 1-1 1-1 1 2 1-2 1-1 1 2 1-3 1-1 1 0 1 1 1-1 1-1 1 1 1 1 1-1 1-1 1 1 1-2 1 1 1-1 1 2 1 3 1-1 1 0 1-1 1 1 1-3 1 3 1-1 1-1 1 2 1 1 1 1 1-1 1 1 1 0 1 0 1-2 1-2 1 1 1 1 1 1 1 0 1-1 1 1 1 1 1-1 1 2 1 1 1 0 1-1 1 3 1 0 1-2 1-1 1 1 1-2 1 1 1 1 1 2 1 0 1 0 1 1 1-1 1-1 1 1 1 2 1-2 1-2 1 0 1 1 1 1 1-2 1 2 1-2 1 0 1-1 1 2 1-4 1 3 1-2 1-1 1 1 1 2 1-4 1 0 1-1 1 2 1 0 1 2 1-3 1 0 1 1 1 0 1 1 1 0 1 0 1 0 1-1 1 1 1-1 1-1 1 3 1-2 1 1 1-2 1 0 1 0 1 1 1 0 1-1 1 0 1 1 1 0 1 0 1 1 1-2 1 1 1 0 1 0 1 2 1-1 1 0 1 0 1-2 1-1 1 0 1 3 1 0 1-2M0 46l1-2 1-1 1 0 1-5 1-3 1 1 1-3 1-3 1 0 1-4 1-3 1-1 1-2 1-1 1-3 1-2 1 0 1-1 1 0 1 0 1 0 1-1 1 0 1 1 1 0 1-4 1 1 1-1 1 1 1 0 1-3 1 0 1-1 1 0 1 1 1 0 1-1 1 0 1 2 1 2 1-4 1 2 1-1 1 0 1-1 1 0 1-2 1 0 1 1 1 0 1-2 1 0 1-1 1-1 1 0 1 1 1-1 1-1 1 0 1-2 1 2 1 1 1 1 1 0 1-3 1 0 1 1 1 1 1 1 1-2 1 0 1 0 1 1 1 1 1-1 1-1 1 2 1 0 1-1 1 0 1 1 1-1 1 1 1 0 1 2 1-4 1 2 1-3 1 3 1-1 1-1 1 1 1 0 1-1 1-1 1 2 1 0 1 0 1-4 1 4 1-1 1-2 1 2 1 1 1 1 1-1 1 0 1 1 1-1 1 4 1-1 1-2 1 2 1-2 1-1 1 1 1-2 1-1 1 3 1-1 1 1 1 0 1 1 1-1 1 0 1 0 1 0 1 2 1-4 1 2 1 0 1 2 1-2 1 1 1 0 1 1 1-1 1 0 1-1 1 1 1 1 1-2 1 2 1-1 1-3 1 1 1 4 1-1 1-1 1-1M0 -22l1 6 1-1 1 0 1 2 1 1 1 3 1 0 1 0 1 2 1 0 1 1 1 2 1 2 1-1 1 1 1 2 1 0 1-1 1 0 1-1 1 3 1 1 1-2 1 2 1 0 1 1 1 0 1 1 1 0 1 2 1-2 1 1 1 0 1 2 1-1 1 0 1 2 1 2 1-1 1 0 1 0 1 1 1 0 1-3 1 1 1 3 1-1 1-1 1-1 1 0 1 4 1-3 1 1 1-1 1 0 1-1 1 2 1-5 1 2 1 0 1 0 1 0 1 1 1-3 1 3 1 0 1 1 1 1 1-1 1 0 1 0 1 1 1-2 1-2 1 3 1-3 1 3 1-1 1 0 1 1 1-3 1 2 1-1 1-1 1 1 1 1 1-1 1 1 1 2 1-2 1 3 1-1 1-1 1 1 1 2 1-3 1 1 1 0 1 0 1-2 1-1 1 1 1 0 1 1 1 1 1-2 1 2 1-1 1-1 1 0 1 0 1 2 1 0 1-2 1 2 1 0 1-1 1 0 1 1 1 1 1-2 1 2 1-1 1-1 1 1 1 2 1-1 1 0 1 0 1-1 1 1 1 0 1-5 1 1 1 2 1 0 1 1 1 0 1-1 1 0 1-1 1-3 1 3 1-1 1 0 1-1 1 0 1 1 1 0 1-1M0 -42l1 4 1 4 1 2 1 6 1 1 1 2 1 3 1 5 1 1 1 2 1 1 1 1 1 2 1 1 1 2 1-1 1 1 1 0 1 1 1 2 1 3 1-3 1 0 1 2 1-1 1 3 1 0 1-2 1 2 1 1 1 3 1 0 1-3 1 1 1 0 1 2 1 1 1-3 1 5 1-2 1-1 1 0 1-2 1 1 1 1 1 0 1-2 1 0 1 0 1 2 1 1 1 0 1 0 1 0 1 2 1-1 1-1 1 1 1 1 1-3 1 0 1 2 1 1 1-1 1 0 1-2 1 0 1 0 1 2 1 1 1-2 1 0 1-1 1 1 1 0 1-2 1 0 1 1 1 2 1-3 1 1 1 0 1-1 1 3 1-1 1-2 1 1 1 1 1-1 1-2 1 2 1-3 1 0 1 1 1 1 1-2 1 3 1-2 1 1 1-1 1 0 1 2 1-1 1 0 1 1 1 0 1-1 1-1 1 1 1-1 1 2 1 0 1-2 1 1 1 0 1-1 1 1 1 1 1 1 1-1 1-2 1 3 1-1 1-1 1 1 1 0 1 0 1-2 1 0 1 1 1 2 1-1 1 4 1-2 1-2 1 2 1-2 1-1 1-1 1 2 1 0 1 1 1-1 1-1 1 1 1-2 1 1 1-1 1 2 1 0M0 -62l1 2 1 2 1 3 1-2 1 1 1 1 1 1 1 1 1 0 1 2 1 2 1 2 1 0 1 4 1-2 1 2 1 3 1 1 1 0 1 0 1 0 1 4 1 0 1-1 1 2 1 1 1 1 1 2 1-1 1 2 1-3 1 3 1 2 1 0 1 2 1 1 1-2 1 4 1 2 1-2 1-1 1 1 1 2 1 2 1 0 1 1 1 2 1 0 1 2 1 3 1-3 1-1 1 0 1 0 1 0 1 2 1 0 1-1 1 1 1 2 1-1 1 1 1-2 1 1 1-3 1 1 1 0 1 0 1-1 1-1 1 2 1 1 1 0 1 0 1-1 1 2 1 1 1-1 1 1 1 2 1 0 1-4 1 4 1 0 1 0 1-1 1 1 1-2 1 2 1 0 1 0 1-1 1 1 1 1 1-1 1-3 1 0 1 2 1-2 1 1 1-2 1 1 1 2 1-1 1 1 1-3 1 2 1-2 1 2 1 0 1-1 1-1 1 1 1 0 1 0 1 2 1 0 1 0 1 0 1 0 1 1 1 0 1 2 1-3 1 2 1 2 1-3 1 0 1-2 1 3 1 0 1 3 1-3 1 2 1-2 1 0 1 1 1-2 1 3 1-2 1 1 1 2 1-3 1-1 1 2 1-2 1 0 1-1 1 3 1-1M0 -8l1 0 1 0 1 3 1 0 1 1 1-2 1-2 1 0 1 0 1 0 1 0 1 1 1 1 1 0 1 2 1-2 1 1 1 1 1 0 1 1 1 1 1 1 1 1 1-2 1 1 1-2 1 1 1 1 1 2 1 0 1 2 1-1 1 2 1-1 1-1 1 1 1-2 1 1 1 0 1 1 1 2 1-3 1 0 1-1 1 1 1 0 1-3 1 0 1 1 1-3 1 3 1 1 1-1 1 0 1 2 1-1 1-2 1 2 1 1 1-1 1 3 1-3 1-2 1 3 1-2 1-1 1 3 1-1 1 0 1-1 1 2 1 0 1-2 1 2 1 1 1-2 1 0 1 1 1 0 1 0 1 2 1-1 1 0 1-1 1 2 1 1 1-1 1 0 1-2 1 1 1 0 1 0 1 1 1-2 1 1 1-3 1 0 1 0 1 0 1 3 1-1 1-1 1 2 1-3 1 1 1-1 1 3 1-1 1-2 1-1 1 1 1 1 1 2 1-2 1-1 1 1 1 0 1 0 1 0 1 2 1-1 1 1 1 0 1-1 1-1 1 0 1 1 1-1 1 3 1-1 1 0 1-1 1-1 1 2 1 0 1-1 1-1 1 0 1 1 1-2 1 2 1 0 1-2 1 3 1-2 1 0 1 0 1-1 1 1 1-1M0 -31l1 0 1 1 1-1 1 1 1 3 1-1 1 2 1 0 1-1 1 3 1-1 1-1 1 2 1-2 1 4 1 0 1 1 1 0 1 2 1-1 1-1 1 1 1 3 1-2 1 2 1-1 1 1 1 2 1-1 1-1 1 1 1 2 1-1 1-1 1 2 1-1 1-1 1 3 1 2 1 1 1 0 1 0 1-1 1 2 1 1 1 0 1-1 1-2 1 3 1 0 1-1 1 1 1-1 1 1 1 4 1-1 1 1 1 0 1-1 1 2 1 0 1-2 1 3 1-3 1 1 1-1 1 0 1 1 1 0 1 0 1 4 1-2 1-1 1-1 1 0 1 1 1 1 1-1 1 0 1-1 1-1 1 2 1 1 1 1 1-1 1 1 1-2 1 1 1 1 1-2 1 2 1 1 1-4 1-1 1 3 1-3 1 3 1 2 1 0 1-2 1 0 1 2 1 0 1-2 1 0 1 0 1 0 1-4 1 4 1-2 1 0 1 1 1-2 1-1 1 1 1 1 1 1 1-1 1 2 1-1 1 1 1-3 1 1 1 2 1 0 1 1 1-1 1 1 1 1 1 1 1-1 1-2 1 0 1 0 1-1 1 0 1 0 1 0 1 0 1 2 1-3 1 0 1 0 1-2 1 2 1 0 1 0 1 0 1 0 1 0M0 18l1 0 1-2 1-2 1-1 1 0 1-1 1 1 1-4 1 4 1 0 1 0 1-3 1-1 1 0 1-1 1 1 1-1 1-2 1 2 1 3 1-2 1-1 1 1 1 0 1-3 1 0 1 2 1-1 1 0 1 1 1-1 1 0 1-2 1 1 1-1 1 0 1 1 1 0 1-1 1-2 1 2 1-1 1 0 1 4 1-1 1 0 1-2 1 2 1 0 1 1 1-2 1-1 1 0 1 0 1 0 1 0 1-1 1 0 1 0 1-2 1-2 1 4 1-3 1 1 1 2 1 1 1-1 1-2 1 2 1-1 1 1 1 1 1 0 1-1 1 1 1-1 1 1 1-1 1 1 1 0 1-3 1 0 1 1 1-1 1-1 1 4 1-2 1-3 1 0 1 0 1 0 1 2 1-2 1-1 1 1 1 1 1 1 1 0 1-1 1 0 1-2 1 0 1 0 1 1 1 2 1-1 1-1 1 1 1 0 1-1 1-1 1 2 1-2 1 0 1 0 1 0 1 0 1-1 1 1 1 0 1-2 1 2 1-2 1 1 1 2 1-2 1 2 1 1 1 0 1 1 1 2 1 1 1-3 1 1 1 3 1-3 1 0 1-1 1-1 1-1 1 2 1 0 1 0 1-2 1 2 1-2 1-1 1 1 1 1 1-2M0 -4l1 2 1-1 1 0 1 0 1 0 1 0 1 0 1-1 1 0 1-2 1 3 1 0 1-1 1 1 1 1 1 2 1 0 1 0 1-1 1-1 1 1 1 1 1 0 1-1 1 0 1 3 1-4 1 1 1-1 1 1 1-3 1 2 1 2 1-3 1-1 1 1 1 0 1 2 1 0 1 0 1 0 1-1 1 1 1 0 1-2 1 0 1 2 1-3 1 2 1-2 1 2 1-2 1 1 1 1 1-2 1-1 1 1 1 0 1 0 1-3 1 2 1-1 1 0 1 1 1 0 1-1 1 1 1 0 1 0 1 0 1 2 1-3 1 0 1 1 1-1 1-1 1 1 1 1 1 1 1 0 1-1 1 0 1 0 1 1 1 1 1 1 1-1 1 0 1-1 1 0 1 0 1 0 1 2 1-1 1 0 1-1 1-1 1 1 1 1 1-2 1 1 1 1 1 0 1-1 1 0 1 1 1-1 1 0 1 1 1-2 1 1 1 1 1 0 1 1 1-2 1 1 1 1 1-1 1-1 1 1 1-2 1 2 1 3 1-1 1 1 1-1 1 0 1 1 1 0 1-2 1 0 1-2 1 2 1-1 1 2 1 0 1-1 1-2 1 1 1 0 1 2 1 0 1-1 1 2 1-1 1-1 1-2 1 0 1 1 1-1M0 -21l1-4 1 2 1-3 1 2 1 1 1-2 1 3 1 1 1 1 1 0 1 1 1-2 1 0 1-1 1-2 1 0 1-2 1 3 1 0 1 3 1 1 1-3 1 1 1-1 1-1 1 0 1 3 1 0 1-1 1 3 1 0 1-2 1 2 1-1 1 0 1-2 1 1 1 0 1 1 1-3 1 6 1-3 1 1 1 1 1-1 1-2 1 0 1 1 1 1 1-1 1 1 1-1 1 0 1 0 1 1 1-1 1 3 1 0 1-3 1 4 1-1 1-1 1 2 1 0 1 1 1-1 1 0 1 0 1 0 1 0 1 1 1 0 1-1 1-1 1 3 1-2 1 2 1-2 1 1 1-1 1-1 1 1 1 1 1 1 1-1 1 1 1 0 1-1 1 1 1-1 1 2 1 0 1 0 1 1 1-1 1-3 1 1 1 2 1-1 1-3 1 2 1-2 1 2 1 1 1-2 1 2 1-2 1 2 1-3 1 2 1 1 1 0 1-1 1 1 1-1 1 4 1-2 1 1 1 0 1 0 1 0 1 0 1 1 1 2 1 0 1-1 1-1 1 0 1 1 1 0 1-2 1 0 1-1 1 2 1-1 1 0 1-1 1 1 1 1 1 1 1 0 1 1 1 1 1-1 1-1 1 0 1-1 1 1 1 2 1-2M0 35l1-1 1 0 1-1 1 0 1-4 1-2 1-3 1-2 1-2 1 0 1 1 1-6 1 0 1-2 1-2 1 2 1 1 1-4 1-1 1 1 1-2 1-1 1-2 1 1 1-5 1 2 1-2 1 0 1-1 1 1 1-1 1 1 1 1 1-1 1-1 1 1 1-4 1 3 1 1 1-2 1 1 1-1 1 1 1 0 1-1 1 0 1 0 1-1 1 2 1-1 1 1 1 2 1-5 1 2 1 0 1 1 1 1 1-4 1 2 1-2 1 3 1-1 1 0 1 1 1-4 1 1 1 2 1-1 1-3 1 3 1 2 1-1 1 1 1 0 1 0 1 1 1 0 1 0 1-1 1 0 1-2 1 1 1 0 1 1 1 1 1 1 1-2 1-1 1 1 1-1 1-2 1 2 1 1 1-2 1 0 1 2 1-3 1 1 1 0 1 0 1-1 1-2 1 2 1 0 1 1 1-1 1 1 1 0 1-2 1 0 1-2 1 1 1 0 1-1 1 2 1-2 1 2 1 2 1 0 1 1 1-2 1 0 1 2 1-2 1 1 1-2 1 1 1 0 1-3 1 2 1-1 1 1 1 1 1-2 1 0 1 1 1 0 1 0 1-1 1 0 1 2 1-1 1 0 1-1 1 2 1-1 1 1 1 1 1-2 1 1M0 -4l1 2 1-1 1 3 1-3 1 5 1-4 1 1 1 0 1-3 1 2 1 0 1 0 1-2 1 2 1-1 1 3 1 0 1 0 1 1 1-1 1-1 1-1 1 0 1 3 1-2 1 1 1-1 1-2 1 1 1-2 1 1 1-1 1 2 1 0 1 1 1 1 1 1 1-2 1-4 1 3 1 1 1 2 1 0 1-3 1 0 1 1 1 0 1-2 1 0 1 1 1-2 1 0 1-1 1 2 1 0 1 0 1 1 1-2 1 0 1 0 1 1 1 0 1 0 1 0 1 1 1 0 1 0 1 1 1-1 1 1 1-2 1 1 1 1 1 0 1-1 1 2 1 0 1-1 1 1 1 1 1 0 1 1 1-1 1-1 1-2 1 1 1 0 1 1 1 1 1-2 1-1 1 0 1-2 1 3 1 0 1 0 1-1 1-1 1 0 1 1 1 1 1 0 1-2 1-1 1 3 1-2 1 0 1-1 1 2 1-1 1 0 1-2 1 2 1-1 1-1 1 1 1-1 1 2 1 0 1-2 1-2 1 2 1 1 1 1 1 0 1 1 1 0 1 1 1-3 1 2 1-1 1 2 1-1 1-1 1 0 1-1 1 2 1-1 1 2 1-1 1 0 1 0 1-1 1 0 1 3 1 0 1-1 1 0 1 1 1 0M0 33l1 1 1-2 1-1 1-1 1-1 1-3 1-4 1 3 1 0 1-1 1-2 1 0 1 0 1-1 1-1 1-2 1 0 1 1 1-1 1 0 1-2 1-3 1 1 1-1 1-3 1 2 1 0 1-3 1 1 1-3 1 1 1-1 1 1 1-1 1-1 1-2 1-2 1 2 1 0 1-1 1-1 1 0 1-4 1 5 1-2 1-1 1 0 1-2 1 0 1 1 1-1 1 1 1 1 1-1 1-1 1 2 1-1 1-2 1 0 1 0 1-1 1-2 1-1 1 1 1 1 1-1 1 0 1 0 1 1 1 1 1 0 1-1 1-2 1 1 1 2 1-1 1-1 1 0 1 0 1 1 1 1 1 0 1-2 1-1 1 0 1 3 1 0 1-1 1-4 1 2 1 2 1-1 1-1 1 0 1-1 1 0 1-1 1 3 1-1 1-1 1 0 1 1 1 0 1 0 1 1 1 0 1 0 1 1 1 2 1-2 1-1 1 0 1 0 1 0 1-1 1 1 1 0 1-3 1 0 1 2 1-1 1 0 1 0 1 0 1 1 1-1 1 0 1-1 1 4 1-3 1 3 1-3 1 2 1-2 1 1 1-2 1 2 1-1 1 2 1-2 1 1 1 0 1-2 1 1 1 0 1-1 1 0 1 1 1 1 1-1M0 -12l1-1 1 5 1 0 1 0 1 4 1-1 1 0 1-1 1 1 1 0 1-2 1 3 1 1 1 1 1 1 1 1 1-2 1 1 1-1 1 2 1 1 1-1 1 2 1 0 1 0 1-3 1 0 1 0 1 2 1-2 1-1 1 0 1-2 1 1 1 1 1-1 1 3 1-4 1-1 1 2 1 1 1 2 1-1 1 0 1-1 1-1 1-1 1 3 1-1 1 0 1 0 1 3 1 0 1-2 1-1 1 3 1-1 1-3 1 2 1-2 1 2 1-1 1-1 1 2 1-3 1 4 1-3 1 1 1-1 1 1 1-1 1 2 1-2 1 2 1-3 1 1 1 1 1 0 1-2 1 1 1-1 1 3 1-1 1 0 1-2 1 0 1 3 1-1 1 1 1-4 1 3 1-2 1 2 1 2 1 1 1-1 1 1 1 1 1 0 1-1 1 0 1 1 1-1 1-1 1 1 1-3 1 1 1-1 1 2 1 0 1 0 1 0 1 0 1 0 1 1 1-1 1 0 1 1 1-1 1 1 1-1 1 0 1 0 1-1 1 2 1-1 1 1 1 0 1 0 1 1 1-2 1 1 1-1 1 1 1-3 1 4 1-2 1 1 1 1 1 3 1-4 1 1 1 2 1-1 1 2 1-3 1 0 1 1 1-2 1 1M0 56l1-4 1-2 1-3 1-3 1-4 1-3 1-2 1-4 1-2 1-1 1-4 1-3 1 0 1-4 1 3 1-4 1 2 1 1 1-6 1 0 1 0 1-4 1 2 1 1 1-2 1 0 1-1 1 0 1-1 1 1 1 0 1 0 1-1 1-3 1 3 1 0 1-2 1 2 1-1 1 0 1-2 1 0 1 0 1-1 1 1 1 0 1-2 1 2 1-1 1-1 1-2 1 2 1 0 1-1 1-2 1 1 1 1 1-1 1 0 1 1 1 0 1-1 1 0 1-1 1 2 1 2 1 0 1-1 1 0 1-1 1 1 1 0 1 1 1 0 1-1 1-2 1 1 1 1 1-2 1 0 1 0 1 0 1-1 1 2 1-3 1 1 1 0 1 1 1 0 1 0 1-3 1 3 1-2 1 1 1 0 1 1 1 1 1-1 1 0 1-2 1 2 1 1 1-2 1 2 1-1 1-2 1 1 1 1 1-3 1 2 1 0 1 0 1-1 1 2 1-1 1 1 1-2 1 1 1-1 1-1 1 2 1-2 1 2 1 0 1 2 1-1 1 0 1 1 1-1 1 0 1 0 1-1 1 0 1 2 1 0 1-1 1-1 1 0 1 1 1-1 1 1 1 0 1 2 1-2 1-1 1 4 1-1 1-1 1 0 1-1M0 -5l1 1 1-3 1 4 1-3 1 0 1 1 1 1 1-1 1 1 1-1 1-1 1 0 1 4 1 0 1 1 1 1 1-3 1 0 1 0 1-2 1 1 1 1 1 0 1 0 1 0 1 2 1-1 1 0 1-1 1-1 1 3 1 0 1-1 1 1 1 0 1-1 1-2 1 2 1 0 1 0 1 1 1-2 1-1 1 0 1 0 1 0 1 1 1 1 1 1 1-4 1 0 1 1 1-1 1 3 1 0 1 0 1 1 1-1 1 1 1-1 1-1 1 1 1-1 1 4 1-2 1-1 1 1 1-1 1 2 1-2 1 0 1 0 1-1 1 0 1 1 1 1 1 0 1-2 1 2 1-2 1 0 1 1 1-1 1 0 1-1 1 3 1-1 1-1 1 2 1-1 1 0 1 1 1 2 1-1 1 1 1-1 1 0 1-1 1 3 1 0 1-1 1 3 1-1 1-3 1 2 1-2 1-1 1 0 1 2 1 0 1-3 1 2 1-1 1-2 1 1 1 1 1-1 1 0 1 3 1 0 1-3 1 3 1-2 1 2 1-4 1 1 1 0 1 0 1-1 1 1 1 2 1-2 1 1 1 0 1 2 1 0 1 1 1-4 1 0 1 1 1 1 1-2 1 1 1-1 1 1 1 0 1 0 1-1 1 0 1 2M0 24l1 3 1-2 1-3 1 0 1-3 1 4 1-4 1 1 1-3 1 4 1-1 1 0 1-5 1 0 1 2 1-5 1 1 1-2 1-3 1 1 1 2 1-1 1-3 1-1 1 0 1 1 1-1 1-2 1 2 1 0 1 1 1-1 1 0 1-3 1 1 1-1 1 0 1-1 1 3 1-1 1 0 1-2 1-1 1 1 1-2 1 1 1 0 1-1 1-2 1 1 1 1 1 1 1-3 1 1 1 0 1 2 1-3 1 1 1-3 1 3 1 0 1 0 1 0 1 0 1-2 1 2 1 0 1-1 1 0 1 2 1-1 1-2 1-1 1 2 1 1 1 0 1 1 1-3 1 0 1 1 1-2 1 1 1-1 1 1 1 2 1 0 1 0 1-2 1 0 1-1 1 1 1 1 1-1 1 2 1-1 1 0 1 0 1 1 1-3 1 1 1 0 1 2 1-1 1-1 1-1 1 1 1 1 1 0 1-2 1 2 1-1 1 1 1 1 1 1 1-1 1-3 1 1 1 0 1 1 1-2 1 0 1 3 1-2 1 0 1 1 1-2 1 2 1-1 1-1 1 0 1-1 1 1 1 1 1 1 1-2 1-1 1 0 1-1 1 0 1-1 1 1 1 1 1-1 1 2 1 1 1 1 1-1 1-2 1 1 1-1M0 -39l1 0 1 1 1 5 1-2 1 2 1-1 1 2 1-1 1 4 1 0 1 2 1 0 1 0 1 3 1 0 1-1 1 2 1 3 1 2 1 0 1 2 1-1 1 2 1 2 1-1 1 1 1 1 1 1 1 1 1 0 1 2 1 0 1-1 1 2 1 1 1 0 1 1 1-1 1 0 1 0 1 2 1 2 1-2 1 1 1-1 1 1 1 1 1 0 1 0 1 2 1-2 1-3 1 1 1 0 1 2 1 0 1-1 1 0 1 2 1-4 1 3 1 0 1-1 1 0 1-1 1 0 1 2 1 0 1-3 1 0 1 0 1-1 1-1 1 2 1 0 1 1 1 0 1-2 1 2 1 1 1-1 1 0 1 1 1 0 1 0 1 0 1 1 1 0 1-2 1 2 1-2 1 1 1 1 1-2 1 2 1-1 1 1 1 0 1 0 1-1 1 1 1-1 1 2 1 0 1 2 1-2 1-1 1-2 1 1 1 1 1-1 1 1 1-1 1-1 1 3 1 0 1-1 1 1 1 0 1-1 1 1 1 0 1 0 1 0 1 0 1-1 1 3 1-2 1-1 1 0 1 0 1-1 1 1 1 0 1-2 1 1 1 0 1-1 1 0 1 2 1-1 1-1 1 1 1 3 1 0 1-2 1-1 1-1 1 2 1-1M0 21l1-3 1 0 1-2 1-3 1 0 1-3 1-2 1-1 1-2 1-2 1 1 1 0 1-1 1 0 1 0 1 0 1-3 1 2 1-4 1 2 1-1 1-1 1 2 1 2 1-2 1-2 1 0 1 1 1-1 1 1 1-1 1 0 1 2 1-1 1 2 1-1 1-1 1-1 1-1 1 0 1 0 1 1 1-1 1 0 1-1 1 1 1 0 1-1 1 2 1 0 1-3 1 3 1-2 1-1 1 0 1 2 1-1 1 1 1 1 1 0 1-1 1 2 1 1 1-1 1-2 1 1 1-1 1 2 1-2 1-1 1 3 1-1 1-2 1 2 1 2 1-1 1 0 1-1 1 1 1-1 1 0 1-2 1 2 1-1 1 1 1 1 1-1 1 4 1-3 1 0 1 1 1-1 1-1 1-1 1 0 1 0 1 0 1 1 1-2 1 2 1-3 1 0 1 1 1-1 1 0 1 1 1-1 1 0 1 1 1 1 1-1 1-2 1 0 1 1 1 0 1-2 1 0 1 1 1 1 1 0 1-2 1 0 1 2 1-2 1 0 1 0 1 2 1-3 1 0 1 2 1-1 1 3 1-3 1 4 1-2 1-1 1-1 1 2 1-1 1-1 1 1 1 0 1 2 1-1 1 1 1-2 1 1 1 2 1-2 1 1M0 18l1 2 1 0 1 0 1-2 1 0 1-1 1-1 1-2 1 2 1-3 1-2 1 2 1-1 1-1 1 0 1 2 1-1 1 1 1 1 1-5 1 1 1 1 1-2 1-1 1 2 1 0 1 0 1-3 1 0 1-4 1 1 1 1 1-1 1 1 1 2 1-3 1-2 1 1 1 0 1 1 1-1 1 0 1-1 1-2 1 1 1-1 1-2 1 1 1 1 1 0 1 0 1 0 1 1 1 0 1 1 1 1 1 0 1 0 1-1 1 2 1-3 1 0 1 2 1-2 1 0 1 0 1 0 1-1 1 3 1 0 1-2 1 1 1-1 1 0 1 2 1-1 1 0 1-1 1-1 1 3 1 1 1-2 1 1 1-2 1 0 1-1 1 1 1-2 1 2 1 0 1-1 1-2 1 1 1 1 1 0 1 0 1 2 1-2 1 0 1 1 1 2 1-2 1 1 1-2 1 1 1-1 1 1 1 0 1 0 1-2 1 2 1 2 1-1 1 0 1 1 1-2 1 1 1-1 1 2 1-2 1 1 1-2 1 0 1 0 1-1 1-1 1 4 1 0 1-1 1 2 1-2 1 1 1 0 1 0 1-3 1 1 1 2 1-2 1-1 1 2 1 1 1 0 1-1 1-1 1 1 1-1 1 2 1-2 1 1 1-2M0 24l1-1 1-2 1-2 1-2 1-2 1-1 1-1 1-1 1-1 1 0 1 0 1-4 1 0 1-5 1 0 1 0 1-1 1 0 1 0 1-1 1 1 1 0 1-2 1 2 1 1 1-3 1 1 1 1 1-1 1-1 1 0 1 0 1-1 1 0 1 1 1-3 1 0 1-1 1 1 1 1 1-3 1 1 1 0 1-1 1-1 1 0 1-2 1 1 1 0 1 0 1 0 1-2 1 0 1 2 1-1 1 1 1 0 1 1 1-2 1 2 1-2 1 2 1 1 1-1 1-2 1 2 1-1 1 0 1-2 1 0 1 5 1-3 1 2 1-2 1 3 1-1 1 0 1-1 1 2 1-1 1-1 1 1 1 2 1-2 1 0 1 1 1-1 1 0 1-2 1 0 1-1 1-2 1 1 1 1 1 0 1-2 1 1 1 0 1-1 1 4 1-2 1 0 1 0 1 0 1-1 1 3 1-3 1 0 1-1 1 2 1 0 1-1 1-1 1 0 1 1 1 0 1 0 1 0 1 1 1-2 1 1 1 3 1-2 1 3 1-1 1-3 1 2 1 0 1-2 1 1 1 2 1-2 1 0 1 0 1 0 1 0 1-2 1 1 1 1 1 0 1-4 1 3 1 1 1 0 1-1 1 0 1-1 1 4 1-4 1 0M0 4l1 0 1 1 1 0 1-1 1 0 1-1 1-1 1-2 1 1 1-1 1 2 1 1 1 0 1-2 1-1 1 2 1 1 1-2 1-2 1 2 1-2 1 2 1 0 1-1 1 0 1-1 1-1 1 1 1-2 1 2 1 0 1-2 1 2 1 1 1-1 1 0 1 2 1-2 1 2 1 0 1-3 1 4 1 0 1-2 1 0 1-3 1 5 1-3 1 1 1 2 1-2 1-1 1 0 1 0 1-1 1-2 1 1 1 1 1 1 1-1 1 2 1-3 1 2 1-3 1 0 1 4 1-2 1 0 1 1 1-2 1 0 1 0 1 3 1-1 1-2 1 1 1-1 1 2 1 0 1 1 1-3 1 2 1-2 1 4 1-1 1-2 1 2 1-2 1 1 1-2 1 1 1 3 1 0 1-1 1 0 1 0 1 0 1-1 1-1 1 0 1 0 1 1 1 0 1-2 1-1 1 3 1 0 1-1 1 0 1 1 1 0 1 0 1 0 1 0 1 0 1-2 1 2 1-2 1 0 1 0 1 0 1-1 1 0 1-2 1 1 1 1 1-2 1 1 1 1 1-1 1-2 1 3 1 0 1-1 1 0 1 0 1 1 1-1 1 0 1-1 1 1 1-1 1 2 1-1 1 1 1 0 1 1 1-4 1 1 1 2M0 5l1-3 1 3 1-1 1-1 1 1 1-1 1 3 1-2 1-2 1 0 1 2 1 0 1-3 1 2 1-1 1 3 1 0 1-1 1 3 1 1 1-3 1-1 1 1 1-3 1 1 1 0 1-1 1 4 1-3 1 0 1 0 1 0 1 0 1 3 1-3 1 1 1-1 1 1 1-1 1 2 1-5 1 3 1 0 1 2 1-3 1 0 1-2 1 1 1 1 1 0 1 0 1 3 1 0 1 1 1 0 1 1 1-1 1 0 1 0 1 0 1 2 1-1 1-2 1 2 1-2 1-1 1 2 1 1 1-1 1 1 1-1 1-3 1 1 1 2 1-1 1 1 1-1 1-3 1 2 1-1 1 3 1 0 1-3 1 1 1 1 1-2 1 2 1-1 1 1 1-1 1 1 1-1 1 0 1 1 1-1 1 0 1 1 1-3 1-1 1 1 1 1 1 0 1-2 1 2 1-1 1 2 1-1 1 1 1-2 1 1 1 3 1-2 1 1 1 2 1-1 1-3 1 3 1-3 1 1 1-1 1-1 1 0 1 2 1-1 1 2 1-1 1-1 1 0 1 2 1-1 1-1 1 2 1-1 1 1 1 1 1-1 1 0 1-2 1 1 1 1 1-1 1 1 1 0 1-1 1-1 1 0 1-1 1 1 1 1 1-1M0 -49l1 3 1 2 1 4 1 3 1 3 1 1 1 3 1 1 1 1 1 2 1 3 1 5 1-4 1 0 1 2 1 2 1 0 1-1 1 0 1 2 1 1 1-1 1 3 1-1 1 3 1-2 1 0 1 4 1 0 1-1 1-1 1 2 1 2 1-3 1 1 1 3 1-2 1 1 1 1 1 0 1 0 1-1 1 0 1 1 1 1 1-1 1 4 1 1 1 2 1-3 1 2 1-1 1 1 1 0 1 0 1-2 1 0 1 1 1-1 1 1 1-1 1 1 1 2 1 2 1-2 1 0 1 0 1-2 1 0 1 3 1-1 1-1 1 0 1 0 1 1 1-1 1 0 1 1 1-1 1 1 1-1 1 0 1-3 1 3 1 1 1-1 1 1 1 1 1-2 1-1 1 0 1 2 1-2 1 0 1-1 1 3 1-3 1 1 1-1 1 2 1 1 1-3 1 1 1 1 1-2 1 0 1 0 1 1 1-1 1 0 1 2 1 0 1 1 1 1 1-1 1 0 1 2 1-1 1-2 1 1 1 0 1-1 1 0 1 0 1 2 1-4 1 1 1 2 1 0 1-2 1 4 1-1 1 0 1 0 1-1 1-2 1 1 1 2 1-1 1 0 1-2 1 3 1-2 1 3 1-3 1 0 1-2 1 2 1-1 1-1M0 -9l1-1 1 2 1-2 1-1 1 1 1 1 1 1 1-2 1-1 1 1 1-2 1 5 1 0 1-1 1 0 1 4 1-2 1 0 1 1 1 2 1-2 1-1 1 3 1-2 1 3 1 0 1-1 1 4 1-2 1 0 1-2 1 3 1 1 1 1 1 0 1 1 1-3 1 1 1 0 1-1 1 0 1 2 1 0 1 0 1-2 1 2 1 1 1-1 1-2 1-1 1 3 1 0 1 1 1-5 1 2 1-1 1 2 1 1 1-2 1 1 1-1 1 0 1 2 1-1 1 2 1-2 1 1 1 0 1 0 1-2 1 0 1 1 1-1 1-1 1 1 1-3 1 3 1-2 1 2 1-1 1 1 1 1 1-2 1-1 1 1 1 0 1 0 1 0 1 1 1-1 1 0 1-1 1 1 1 2 1-2 1 1 1-1 1 1 1 0 1 1 1-2 1-1 1 0 1 1 1 3 1-2 1 1 1-1 1-2 1 3 1-1 1 0 1 0 1-1 1-1 1 3 1-1 1-1 1 1 1 0 1 2 1 0 1-3 1 2 1-1 1 1 1 1 1-1 1 1 1 0 1 0 1 0 1 0 1-2 1 1 1-3 1 1 1-2 1 4 1-2 1 0 1 0 1-3 1 2 1-1 1-1 1 1 1 1 1-2 1 2M0 -14l1 1 1 1 1-1 1 0 1 1 1 1 1 2 1 3 1-3 1 2 1 1 1-1 1 2 1 1 1 0 1 0 1 3 1 0 1-1 1 2 1-2 1-1 1 2 1-2 1 0 1 1 1-1 1 1 1 0 1 1 1-1 1-2 1 1 1 0 1-2 1 1 1 2 1 1 1-2 1 2 1 0 1-1 1 2 1 2 1-3 1 0 1 2 1-3 1 0 1 2 1-3 1 5 1-1 1 1 1-1 1 0 1-1 1 3 1-2 1-1 1 3 1-2 1 2 1-1 1 1 1 0 1 0 1-2 1 0 1 1 1-1 1 1 1 0 1 1 1 0 1 1 1-4 1 1 1 0 1 0 1-2 1 3 1-3 1 1 1 0 1 0 1 1 1 0 1 0 1 3 1-2 1 0 1-1 1 0 1 1 1 2 1-2 1 1 1-4 1 1 1 1 1 1 1-1 1 0 1 1 1-1 1 0 1-1 1 1 1 2 1-1 1 0 1-1 1 1 1-2 1 2 1 0 1 2 1-3 1-2 1 1 1 3 1-2 1 1 1-1 1 2 1 1 1 0 1 0 1 0 1 2 1-2 1 0 1 1 1 0 1-2 1 0 1 1 1-3 1 1 1-1 1 2 1 2 1-1 1-2 1 2 1-1 1 1 1-2 1 1M0 -10l1 0 1-1 1 0 1-1 1 2 1 1 1-1 1 0 1 1 1 0 1 0 1 1 1 0 1-3 1 1 1 1 1 1 1-3 1 4 1-1 1 0 1 0 1 2 1 4 1-2 1 0 1 0 1 2 1 0 1-1 1 0 1 1 1 0 1-3 1-2 1 1 1 0 1 3 1-3 1 0 1 1 1 2 1 0 1-4 1 2 1 1 1 2 1-1 1 2 1-3 1 0 1 3 1-2 1 3 1-2 1 0 1 1 1 1 1-2 1 1 1-1 1-3 1 0 1 1 1 0 1 1 1-2 1 1 1 0 1 0 1 1 1-1 1 1 1-1 1 0 1-1 1 3 1-1 1 0 1 1 1 1 1-1 1 0 1 0 1 0 1 1 1-2 1 0 1 2 1 0 1 0 1-1 1-1 1 1 1 1 1-2 1 0 1 0 1-1 1 2 1-1 1 1 1-2 1 0 1 1 1 4 1-3 1 2 1-1 1-3 1 1 1 1 1-1 1-1 1 0 1 4 1-3 1 1 1 0 1 0 1 1 1 0 1-1 1 0 1 0 1-2 1 3 1 0 1-2 1 0 1-1 1 1 1 0 1 1 1 0 1 0 1-1 1-1 1 1 1 0 1-1 1 4 1-1 1-1 1 0 1-1 1 2 1-4 1 3 1-1M0 -3l1 1 1 0 1-1 1-2 1-1 1 2 1-1 1-3 1 0 1 1 1-1 1 4 1-3 1 2 1-5 1 1 1 2 1 0 1 2 1-2 1 3 1 1 1 0 1-1 1-2 1-1 1 1 1 2 1 2 1-1 1 0 1-1 1-1 1 2 1-2 1-2 1 2 1 1 1-3 1 1 1 0 1-1 1 2 1 0 1 0 1-4 1 2 1 0 1 0 1 1 1 1 1 0 1-1 1 0 1 3 1-1 1 1 1 0 1-2 1 3 1-3 1-2 1 2 1 1 1 1 1-2 1-1 1 2 1-1 1 1 1 3 1-2 1 0 1 0 1-1 1 0 1-1 1 2 1 1 1 0 1 0 1-2 1 3 1-1 1 0 1 3 1-2 1 0 1 1 1 0 1-1 1-1 1 0 1 0 1 0 1 2 1-3 1 1 1 1 1-1 1 0 1 0 1 0 1-1 1-1 1 2 1 1 1-1 1 0 1-1 1 0 1 0 1 0 1-1 1 2 1 1 1-3 1 2 1-2 1 3 1-1 1 1 1 0 1-1 1-1 1-1 1 2 1 0 1 1 1-2 1 2 1-2 1 3 1-2 1 0 1 1 1-1 1-2 1 4 1 0 1-1 1 1 1-1 1-3 1 3 1 1 1-3 1 0 1 1 1-1M0 -3l1 2 1-1 1 2 1 0 1-1 1 0 1-1 1 0 1 2 1 0 1-1 1 0 1 3 1-2 1 3 1-5 1 2 1-1 1 0 1 0 1 0 1-1 1-1 1 0 1 0 1-1 1 0 1 0 1-1 1-1 1 2 1 1 1-2 1-1 1 2 1-2 1-2 1 1 1 0 1 0 1 2 1-2 1 2 1 0 1-1 1 0 1 2 1 0 1-1 1 0 1-1 1 0 1 2 1-1 1 0 1 1 1-1 1 0 1 1 1 0 1-3 1 1 1 0 1 1 1 0 1 1 1 0 1 1 1 0 1 1 1 0 1 0 1-1 1 1 1 0 1-3 1 3 1-1 1 0 1 0 1-1 1 1 1 0 1-3 1 2 1 1 1-1 1 0 1 1 1 3 1-4 1 3 1-2 1 0 1-1 1 0 1 1 1 0 1 4 1-3 1 3 1-3 1 0 1-1 1 0 1 1 1 0 1 0 1 1 1-2 1 0 1-1 1 3 1-2 1 1 1 2 1 0 1 0 1-1 1 1 1 0 1 1 1 0 1-1 1-3 1 1 1-1 1-1 1 0 1 0 1 3 1-3 1 2 1 0 1-2 1 0 1 1 1-2 1 2 1-1 1 0 1 2 1-2 1-1 1 2 1-3 1 0 1 0 1 1 1 0M0 4l1-1 1-3 1 0 1-1 1-1 1 3 1-2 1 2 1 0 1 0 1-1 1 0 1 1 1 0 1 0 1 0 1-2 1-1 1 3 1-2 1 0 1 0 1 1 1 0 1-1 1 0 1-3 1 4 1-1 1-1 1 2 1-3 1 1 1 0 1 0 1-2 1 0 1 0 1 0 1 3 1-3 1 1 1-2 1 1 1-2 1 1 1 0 1 1 1 0 1-1 1 0 1-1 1 3 1-2 1 0 1 1 1 2 1 0 1-2 1-1 1 0 1 2 1-2 1 3 1-1 1-2 1 1 1 1 1-1 1 0 1 2 1 0 1-1 1 1 1 0 1-1 1 1 1 0 1-1 1 1 1 1 1-2 1 1 1 1 1-2 1 3 1-3 1 1 1 0 1 0 1 1 1-2 1 1 1 1 1-2 1-1 1 0 1 1 1-1 1 2 1-1 1 0 1-2 1 2 1 1 1-1 1 0 1 0 1-1 1 1 1 0 1 1 1 3 1-2 1 2 1-1 1-1 1 0 1 0 1 0 1 0 1 2 1-1 1 0 1 0 1-2 1 2 1 0 1-3 1 0 1 2 1-3 1 2 1 2 1-2 1 1 1-1 1 0 1 0 1 1 1 0 1-1 1-1 1 1 1 1 1 1 1-1 1 0 1-1 1-1M0 12l1 1 1-5 1 0 1 0 1-1 1 0 1-1 1 1 1 1 1-2 1 0 1 0 1 2 1-2 1-3 1-3 1 3 1-2 1 1 1-1 1 1 1-1 1 1 1 0 1 1 1-3 1 2 1 2 1-4 1 1 1 0 1 1 1-1 1-3 1 1 1 0 1 3 1-2 1 1 1-2 1-1 1 4 1 0 1-1 1 2 1-4 1 1 1 4 1-3 1-1 1 3 1-1 1-2 1 1 1 1 1-1 1 1 1 1 1 0 1-2 1 0 1 0 1 2 1-3 1 0 1 1 1 0 1 0 1 0 1 3 1 0 1-1 1 0 1 0 1 1 1-2 1-1 1 2 1 1 1-1 1-1 1 0 1-2 1 2 1-1 1-1 1 1 1 1 1 1 1-4 1 2 1-1 1 1 1-2 1 1 1 0 1 1 1-1 1-1 1 0 1 1 1-1 1-1 1 5 1 0 1-1 1 1 1-3 1 1 1 0 1-1 1 1 1-2 1 2 1 1 1-3 1 0 1 0 1 0 1 0 1 2 1 0 1 1 1 0 1 0 1 1 1 0 1 2 1-2 1 1 1-1 1 1 1-2 1 0 1-2 1 0 1 0 1 1 1 2 1-2 1 1 1 1 1-2 1-1 1-1 1 3 1-3 1 1 1 0 1 0M0 -25l1 1 1 4 1 1 1 4 1 0 1 3 1-1 1 3 1-2 1 4 1 5 1-1 1 1 1-1 1 0 1 2 1 2 1 3 1 1 1-3 1 3 1-1 1-2 1 3 1 1 1 1 1-1 1-1 1 1 1-2 1 0 1 1 1-1 1 1 1 2 1 0 1-2 1 2 1 1 1 2 1-2 1 2 1-2 1 3 1 0 1-3 1 0 1 2 1-1 1-1 1-1 1 1 1 1 1 1 1 0 1-3 1-1 1 3 1-5 1 1 1 3 1-2 1-2 1 2 1 0 1-2 1 4 1 1 1-2 1-1 1-2 1 3 1 0 1-1 1-1 1 4 1-1 1 0 1 1 1-3 1 1 1 3 1 0 1-1 1-1 1-1 1 1 1-3 1 2 1 0 1 0 1-1 1-1 1 1 1-2 1 2 1 0 1 2 1 1 1-2 1 0 1 0 1 1 1 2 1-2 1 1 1 0 1-1 1 1 1 1 1-1 1-1 1 1 1-2 1 2 1-2 1 2 1-1 1 0 1-1 1 1 1 1 1 1 1-1 1 1 1-3 1 1 1 2 1-3 1 0 1 4 1-4 1 1 1-1 1 1 1 0 1 1 1 0 1-2 1 1 1-1 1 0 1-1 1-1 1 2 1-5 1 4 1-3 1 0 1-1M0 15l1 1 1 0 1-1 1-1 1 1 1-1 1 0 1-1 1-1 1-1 1-2 1 2 1-3 1 2 1-3 1-1 1 2 1-2 1 1 1-1 1-1 1-1 1 0 1 1 1-2 1-1 1-1 1 3 1-2 1 2 1-1 1 0 1-3 1 0 1 1 1 1 1 2 1-2 1 2 1-3 1-1 1-1 1 2 1-1 1-1 1 0 1 1 1-2 1 2 1 1 1-4 1 2 1-2 1 2 1-3 1 4 1-4 1 3 1-2 1 0 1 1 1 2 1-1 1 2 1-1 1 1 1-4 1 4 1 0 1 2 1-1 1-1 1 0 1 1 1 3 1-4 1 1 1 2 1-1 1 2 1 0 1-2 1 1 1-2 1 2 1-2 1 2 1 0 1-1 1 0 1 1 1-2 1 1 1 0 1-1 1-2 1 2 1-1 1 0 1-1 1 4 1-1 1 2 1 1 1-2 1 0 1 0 1-1 1 2 1-3 1 4 1-3 1 2 1-1 1 0 1 0 1 2 1 0 1 0 1-3 1 3 1-3 1 0 1 2 1-2 1 0 1-1 1 2 1 1 1-3 1 1 1 0 1 0 1 1 1-1 1 1 1 0 1-1 1 1 1 0 1 0 1 0 1 0 1-1 1 2 1-1 1-1 1 0 1 1 1-1M0 40l1-1 1-2 1 1 1 0 1-3 1 1 1-1 1-4 1 1 1-1 1-3 1-2 1 1 1-1 1-1 1-1 1-2 1-1 1 1 1-2 1 1 1-1 1-2 1 1 1 0 1-2 1-1 1 2 1-2 1-2 1 0 1 2 1 0 1 0 1-1 1-1 1 1 1-1 1-2 1 1 1 1 1-3 1 1 1-1 1 0 1-2 1 0 1 0 1 2 1-3 1-1 1 0 1-1 1 0 1 2 1 0 1-1 1 1 1-2 1 0 1-1 1 2 1-1 1 1 1-2 1 0 1 2 1-1 1 0 1 1 1-1 1-3 1 2 1-1 1 1 1-3 1 1 1 3 1-2 1 1 1 0 1-3 1 1 1 2 1-2 1 1 1 2 1-5 1 2 1 0 1 0 1-1 1 0 1 0 1 1 1 1 1-1 1 1 1-1 1 2 1-1 1 1 1 1 1-2 1-1 1 1 1 0 1 0 1-1 1 0 1-1 1 2 1-2 1 0 1 0 1 2 1-1 1 0 1-1 1 2 1-3 1 0 1 2 1 0 1 0 1-1 1 1 1 1 1-1 1 0 1 0 1 0 1 0 1 1 1 0 1 0 1 1 1 0 1-2 1 2 1-3 1 2 1-3 1 0 1 3 1-1 1 2 1-3 1 2 1-2M0 -2l1 0 1 3 1-3 1-1 1 3 1-3 1 0 1 1 1-1 1 4 1-2 1 2 1 0 1-4 1 3 1-3 1-1 1 3 1-1 1 2 1-3 1 2 1-1 1 1 1-1 1 1 1-1 1 1 1-1 1 2 1 0 1-1 1 0 1 1 1-1 1 1 1 0 1 2 1-3 1 1 1 0 1 0 1 2 1-3 1 1 1-1 1-1 1 3 1-1 1 1 1 0 1 0 1-2 1-1 1 3 1-1 1 2 1-2 1 1 1-1 1 1 1 0 1 0 1-1 1 2 1 0 1-2 1 0 1 1 1-1 1-1 1-1 1 2 1-1 1 0 1-1 1 1 1 0 1-1 1 3 1-1 1-1 1-2 1 1 1 1 1 1 1 1 1 0 1 2 1-2 1 0 1 2 1 1 1-2 1 1 1 1 1-2 1 2 1-1 1 0 1-1 1-1 1 1 1 0 1-1 1 1 1 1 1-1 1-1 1-2 1 1 1-1 1 0 1 1 1 1 1-1 1 1 1 1 1-2 1 1 1 3 1 1 1-3 1 0 1-2 1 1 1-2 1 3 1 0 1-2 1 1 1-1 1 0 1 3 1-1 1 0 1-1 1-1 1-1 1 3 1 0 1-2 1 1 1 0 1 0 1 0 1-2 1 1 1-2 1 1M0 22l1-2 1 0 1-2 1-3 1 2 1 2 1-1 1-3 1 2 1 2 1-5 1 2 1 0 1 1 1-1 1 0 1 0 1-1 1 3 1-2 1-1 1-4 1 3 1-4 1 0 1 1 1-2 1 2 1-3 1 2 1-3 1 2 1 1 1-1 1 0 1-3 1 1 1-1 1 0 1-1 1-1 1 3 1-4 1 2 1-2 1 1 1 3 1-2 1-1 1 1 1 3 1-3 1 0 1-2 1-1 1 2 1-1 1-1 1 1 1 3 1-4 1 2 1-2 1 3 1 0 1 0 1 0 1-1 1-1 1 1 1-2 1 2 1-1 1-2 1 1 1 1 1-2 1 2 1-1 1 4 1-2 1 1 1-2 1 0 1 2 1-4 1 1 1 1 1 0 1 1 1-1 1 2 1-2 1 0 1 0 1 2 1 0 1-2 1 2 1-4 1 2 1 2 1 0 1 0 1 2 1-3 1-2 1 2 1 1 1-1 1-2 1 0 1 3 1-1 1 0 1 0 1 1 1 1 1-1 1 1 1-1 1 0 1-1 1 0 1 0 1 1 1-1 1 2 1-3 1-1 1 2 1 2 1-2 1 1 1 0 1-1 1-2 1 2 1 1 1 1 1-2 1 0 1-1 1 1 1 0 1-1 1-1 1 1 1 1 1 3M0 0l1 0 1 1 1-1 1 3 1 1 1 0 1-1 1 1 1-3 1 4 1-3 1 2 1-1 1-1 1 1 1-2 1-1 1 0 1 2 1 0 1 0 1-2 1 1 1 1 1 1 1-1 1 1 1 1 1 2 1-2 1-2 1 1 1-3 1 5 1-4 1-1 1 4 1-2 1-1 1 1 1 0 1 2 1-1 1-1 1 3 1-1 1 0 1 0 1-2 1 1 1 0 1 0 1-1 1 0 1 0 1 0 1-1 1 0 1-1 1 0 1-1 1 2 1 1 1 0 1 0 1 2 1-1 1 2 1-2 1 0 1 0 1-1 1 0 1 1 1 0 1 0 1-1 1-1 1-1 1 2 1 1 1-1 1 0 1 0 1 0 1-1 1 3 1-1 1 2 1 0 1-2 1 1 1 1 1-1 1 0 1-2 1 2 1 0 1 2 1-2 1 1 1-1 1 0 1-1 1 0 1 0 1 0 1-2 1 1 1 0 1 0 1 0 1 2 1-3 1 0 1 2 1-2 1-1 1 4 1-2 1-3 1-1 1 2 1-3 1 2 1 0 1 2 1-3 1 1 1 1 1 0 1-1 1 1 1 0 1 1 1-1 1 0 1-1 1 2 1 1 1-3 1 1 1 1 1-1 1 2 1-2 1 3 1-1 1 1 1 1M0 -34l1 1 1 4 1 1 1 0 1 2 1 4 1-3 1 0 1 1 1 1 1 2 1 0 1 2 1 2 1-2 1 1 1 0 1 1 1 1 1-2 1 2 1 0 1 0 1 2 1 2 1-1 1-1 1-1 1 3 1 0 1 1 1 3 1-1 1 0 1 1 1 0 1 1 1-2 1 0 1 0 1 3 1-1 1 0 1-1 1 0 1 0 1-1 1 1 1 0 1 4 1-2 1 1 1-1 1 1 1-1 1-2 1 2 1 3 1 0 1-1 1 0 1 2 1-1 1 0 1 0 1-1 1-1 1 0 1 0 1 2 1-2 1 2 1-2 1 3 1-3 1 1 1 0 1-1 1 1 1 0 1 0 1 0 1 0 1-2 1 2 1-1 1 0 1 2 1-2 1 0 1-1 1-1 1 0 1 2 1 1 1-1 1 1 1-1 1 2 1-1 1-2 1 1 1 0 1 1 1 0 1 1 1-2 1 0 1 1 1 0 1-2 1 2 1-2 1 2 1 1 1 0 1 0 1 0 1-1 1 0 1 1 1 1 1-4 1 3 1 0 1-1 1 2 1-1 1-2 1 0 1 0 1 0 1 2 1 0 1-1 1 0 1 3 1-2 1 3 1-2 1 1 1 1 1-1 1 1 1 0 1-1 1 1 1 0 1-3 1-1M0 13l1-1 1-1 1-1 1 1 1-2 1 3 1-2 1 0 1-3 1 2 1-3 1-2 1 0 1 1 1 1 1-3 1 3 1-2 1 2 1 1 1-2 1 2 1 0 1-1 1 2 1-6 1 4 1-3 1 1 1-1 1 4 1-1 1-3 1 1 1-1 1 1 1 0 1-1 1 2 1 2 1-2 1-1 1 0 1-2 1 2 1 1 1 2 1 0 1-1 1-4 1 2 1-1 1 0 1 1 1 0 1-1 1 2 1-3 1 1 1-2 1 2 1 3 1-2 1 2 1-2 1 1 1-2 1 2 1 1 1-2 1 1 1-2 1 1 1 0 1 1 1-1 1 0 1 2 1-2 1 4 1-5 1 3 1-2 1-3 1 4 1 0 1 1 1 0 1-3 1 2 1-2 1 1 1-1 1 2 1 0 1-3 1 1 1 1 1 1 1 0 1-1 1 0 1-1 1 0 1 1 1-1 1-4 1 4 1 0 1-2 1 2 1-1 1 1 1 0 1-1 1 1 1 1 1 0 1 2 1-3 1-2 1 2 1 2 1-2 1 0 1-1 1 2 1 0 1-2 1 2 1 1 1 0 1 0 1-1 1-1 1-1 1 0 1 2 1-2 1 1 1-1 1-2 1 0 1 2 1 1 1-1 1 1 1 2 1-1 1 1M0 -12l1 3 1 1 1-1 1 2 1-1 1 1 1 1 1 0 1 2 1 0 1 1 1-1 1 0 1 1 1 0 1-1 1-1 1 2 1 0 1-4 1 1 1-1 1-1 1 2 1 0 1 2 1-1 1 2 1 0 1 0 1 0 1 0 1 0 1 1 1-1 1 0 1 0 1 1 1-2 1-1 1 1 1 1 1-2 1 0 1 1 1-1 1-1 1 1 1 0 1-2 1 2 1-1 1 3 1-1 1 1 1-1 1-1 1 1 1-1 1 2 1 0 1-2 1 3 1-1 1 1 1-2 1 2 1-1 1 3 1-2 1-1 1 1 1 2 1 0 1-3 1 1 1-1 1-1 1 4 1-5 1 2 1 0 1-3 1 1 1 1 1-1 1 0 1 0 1 2 1-1 1 0 1 1 1 0 1 0 1 1 1 1 1-1 1 0 1 2 1-1 1 1 1-2 1 3 1 1 1-1 1-3 1 3 1-1 1 0 1 1 1-1 1 0 1 0 1-2 1-1 1 4 1 0 1-3 1 0 1-2 1 0 1-1 1 0 1 3 1 0 1-2 1 0 1 2 1-1 1 1 1-2 1 2 1 0 1-1 1 1 1-1 1-1 1 0 1 0 1 1 1-1 1 0 1 1 1-3 1 2 1 1 1-1 1-1 1 0 1 0M0 -18l1-1 1 4 1 0 1-1 1 3 1 1 1 0 1-2 1 3 1-2 1 1 1-3 1 1 1 0 1 0 1 1 1-1 1 1 1 1 1 2 1-1 1 0 1 1 1 0 1 0 1 0 1 3 1 1 1-1 1 0 1 0 1 0 1 1 1-1 1 2 1 2 1-2 1-1 1 0 1 0 1-1 1 2 1 0 1 0 1 0 1 0 1-1 1 2 1-1 1-1 1 2 1-2 1 0 1-1 1 2 1-2 1 1 1 2 1 0 1-3 1 1 1-1 1 0 1 1 1-1 1-1 1 3 1-2 1 0 1 1 1 0 1 2 1 0 1 1 1 2 1-4 1 1 1 1 1-1 1-1 1 2 1-1 1 0 1-1 1-1 1-1 1 1 1 0 1 0 1 1 1 0 1 1 1-1 1-2 1 2 1 1 1-2 1-1 1 1 1 2 1-2 1-1 1 0 1 1 1-2 1 2 1 0 1-2 1 3 1-2 1 2 1-3 1 2 1 1 1 0 1 0 1-1 1 2 1-1 1 2 1-2 1 2 1-2 1 2 1-1 1-2 1 1 1 1 1-1 1 0 1 0 1 3 1-2 1 2 1-2 1-2 1 2 1-3 1 2 1-2 1 2 1-1 1 0 1 1 1-2 1 1 1 2 1-1 1-3 1 3M0 -17l1-3 1 3 1 0 1-2 1 3 1 2 1-4 1 1 1 2 1-4 1-2 1 1 1 0 1 2 1-1 1 0 1 1 1 4 1-3 1-1 1 0 1 1 1 4 1-2 1 0 1 2 1 3 1 0 1-3 1 1 1 0 1 0 1 2 1 0 1 1 1 1 1 0 1 1 1 1 1 2 1 0 1-2 1 2 1-1 1 4 1-1 1 1 1-2 1-1 1-2 1 0 1 2 1 0 1 2 1-1 1 0 1 3 1-4 1 2 1 1 1 0 1-1 1-2 1 3 1 1 1-2 1-1 1 1 1-1 1 2 1 0 1 0 1-2 1 1 1-3 1 1 1 0 1 1 1-2 1 1 1 1 1 1 1 2 1-3 1 0 1 0 1 1 1 2 1-2 1-1 1 0 1 1 1-2 1 1 1 0 1-1 1-1 1 4 1-2 1-1 1 2 1-2 1 2 1-4 1 3 1 0 1-1 1 1 1 0 1 0 1 0 1 2 1-1 1 1 1 0 1-2 1 0 1 0 1 1 1-1 1-1 1 2 1 0 1 2 1-1 1-1 1-1 1-1 1 1 1 1 1-1 1 1 1-3 1 1 1-2 1 1 1 2 1 0 1 1 1-3 1 1 1-1 1 0 1 1 1 2 1-2 1 0 1 1 1-2 1 4M0 -5l1-1 1 3 1-1 1 1 1 1 1-3 1 1 1-3 1 1 1 1 1-1 1 0 1-1 1 2 1-1 1 1 1-1 1-1 1-2 1 4 1-1 1-3 1 2 1 0 1-2 1 3 1-3 1 1 1-2 1 1 1 1 1 1 1-1 1 2 1 0 1 1 1-1 1-1 1-1 1 2 1-2 1 2 1-1 1 0 1 0 1 2 1 0 1 1 1-2 1-1 1 1 1 1 1 1 1-2 1 1 1 0 1 0 1 2 1-2 1 1 1-1 1 1 1-3 1 1 1 1 1 2 1-2 1-3 1 1 1-1 1 1 1-2 1 2 1 0 1 1 1-1 1-1 1 0 1 0 1-2 1 2 1 0 1 0 1-1 1 1 1 2 1-3 1 2 1-2 1 2 1-1 1 0 1 1 1-2 1 0 1 2 1-2 1 0 1 3 1-3 1 1 1 0 1-1 1 0 1 2 1-2 1 1 1 0 1 0 1 1 1-2 1-1 1 2 1-1 1 0 1 1 1-1 1-1 1 1 1-3 1 3 1-1 1 1 1-1 1 0 1-2 1 2 1 0 1 0 1 0 1-1 1-1 1 0 1 2 1-2 1 2 1 3 1-2 1 1 1-1 1 1 1-1 1 1 1-1 1-2 1 0 1 0 1 3 1 1 1-1M0 16l1 2 1 3 1-2 1 0 1-1 1-3 1 2 1 0 1-1 1-1 1 0 1 1 1-2 1 0 1 0 1 2 1-2 1 0 1-2 1-2 1 2 1-1 1-2 1 3 1-5 1 2 1 1 1-1 1 2 1-3 1 1 1-2 1 3 1-2 1-2 1 2 1-1 1 0 1 0 1 0 1 1 1-2 1 1 1-3 1 2 1 0 1-2 1 0 1-2 1 0 1 2 1-2 1-2 1 1 1-1 1 2 1 1 1-2 1-3 1 2 1-1 1 0 1 0 1 1 1-1 1 2 1 0 1-1 1 1 1 0 1-1 1 1 1 0 1 3 1-1 1-1 1 0 1 1 1-1 1 0 1 1 1-2 1-2 1 1 1 1 1 0 1 0 1 2 1 0 1 0 1 2 1-1 1 0 1 0 1 0 1 2 1-2 1 0 1 2 1 1 1 1 1-3 1 1 1-2 1-1 1 3 1-2 1 0 1 0 1 3 1-1 1-1 1-2 1 0 1-1 1 2 1 0 1 0 1-3 1 1 1-1 1 3 1 0 1-2 1 2 1-1 1 0 1 1 1 0 1-1 1 0 1 1 1-1 1 1 1 1 1-2 1 0 1 3 1-4 1 0 1 0 1-1 1-1 1 2 1 0 1 2 1-2 1 1 1-2 1 2M0 -18l1 0 1 0 1-2 1 1 1 3 1 1 1-1 1 0 1 2 1-2 1 3 1 1 1 0 1-3 1 0 1 4 1 1 1-1 1 3 1-2 1 1 1 1 1 1 1 1 1 2 1-2 1 2 1 1 1-1 1 1 1-2 1 1 1 2 1 0 1 2 1-2 1 0 1 1 1-1 1 2 1-2 1-1 1 3 1 0 1-2 1 5 1-3 1 1 1 0 1 3 1-1 1 0 1 0 1 0 1-1 1 3 1-2 1-1 1 1 1 0 1 0 1 0 1 1 1 1 1 0 1-2 1 2 1-2 1 2 1-1 1 1 1 0 1 0 1-1 1 0 1 0 1 0 1 0 1 0 1 0 1 0 1 0 1-1 1 1 1 0 1-1 1 1 1 0 1 0 1-1 1-2 1 3 1-2 1-1 1 1 1 2 1-2 1 3 1-1 1-2 1 1 1 0 1-2 1 4 1 1 1-1 1-1 1-1 1 1 1 0 1-1 1 1 1 2 1 1 1-3 1 2 1 0 1 0 1 0 1-1 1 1 1 0 1-1 1 2 1 1 1-3 1 2 1-1 1 1 1-1 1 1 1-1 1 0 1 1 1-1 1 2 1-1 1-2 1 3 1-2 1 1 1-1 1-1 1 0 1 1 1 2 1-2 1 1 1-1 1 0M0 -32l1 4 1-1 1 4 1 4 1-2 1 2 1-1 1 3 1 2 1 3 1-3 1 4 1 1 1 3 1 2 1-1 1 2 1-2 1 4 1-1 1-1 1 0 1 0 1 2 1 0 1 1 1-1 1 1 1 0 1 1 1-1 1 0 1 0 1-1 1 0 1 1 1 0 1-1 1-3 1 1 1 2 1 0 1-1 1-2 1 1 1-3 1 1 1 3 1-2 1-2 1 3 1-2 1 1 1 0 1-1 1 2 1-1 1 0 1 0 1 1 1-1 1 1 1 0 1 0 1 0 1-1 1 2 1 1 1-3 1 0 1 2 1 1 1-2 1 0 1 2 1-1 1 1 1-1 1 1 1-1 1 0 1 1 1 1 1-1 1 0 1 1 1 0 1 0 1-1 1 0 1 1 1-2 1 2 1 2 1-1 1-1 1-1 1 1 1-1 1-1 1 0 1 1 1-1 1 2 1 0 1-1 1 0 1 2 1 0 1 0 1 0 1 0 1 0 1-1 1-2 1 1 1 0 1-2 1 2 1 0 1-1 1 2 1-3 1 0 1 1 1-1 1 0 1 0 1 1 1 0 1 0 1-3 1 1 1 1 1-1 1-2 1-1 1 1 1 0 1 1 1 1 1 0 1-2 1 1 1 0 1 3 1-2 1 1 1-1 1 2M0 -20l1 2 1 2 1 2 1 1 1 1 1 3 1 2 1-2 1 2 1 0 1-2 1 2 1 3 1-3 1 2 1 3 1-1 1 0 1-1 1 0 1 0 1 0 1 1 1-1 1 1 1 2 1-2 1-2 1 2 1 1 1-1 1 0 1 1 1 0 1-1 1 1 1 2 1 1 1-2 1 1 1 1 1 0 1-1 1-2 1 3 1 1 1-1 1-1 1-1 1-1 1 1 1-1 1 1 1 2 1 0 1 0 1-1 1 0 1-2 1 3 1-2 1 0 1 0 1 1 1-1 1 0 1 2 1-1 1 0 1-1 1 0 1-1 1-2 1 3 1-2 1 1 1 1 1 1 1-1 1 0 1-1 1-1 1 0 1 1 1 3 1-2 1-2 1 3 1-1 1-1 1 1 1-1 1 0 1 2 1 2 1-2 1-2 1 3 1 0 1-3 1 3 1-2 1 3 1-2 1 2 1 0 1 1 1 0 1-1 1 1 1-1 1 1 1-2 1 0 1 0 1-1 1 1 1 2 1 1 1-1 1-2 1 2 1 0 1 0 1-2 1 1 1 0 1-1 1 1 1-2 1 2 1-1 1-1 1 1 1-1 1 3 1-1 1-1 1-1 1 1 1-1 1 1 1-1 1 3 1-3 1 1 1 0 1 2 1-1 1 0M0 -10l1 2 1 0 1 0 1 0 1 2 1 3 1-2 1 4 1-4 1 2 1-1 1 0 1 3 1 0 1 1 1 0 1-1 1 1 1-1 1-1 1 0 1 0 1-2 1 2 1 0 1 0 1 2 1 1 1 1 1-2 1 1 1 0 1 1 1 1 1 0 1 0 1 0 1 0 1-1 1 1 1 1 1 0 1 1 1 0 1 0 1-1 1 0 1-1 1 1 1 1 1 0 1-2 1 1 1 0 1-2 1 0 1-1 1-1 1 1 1 0 1 0 1 1 1-1 1 0 1-1 1 1 1 0 1 0 1 0 1 0 1 0 1 4 1-3 1 0 1 1 1-1 1 0 1 2 1-3 1-1 1 1 1 2 1-1 1-1 1 0 1 1 1 0 1-2 1 2 1 1 1-2 1 1 1 1 1-3 1 2 1-2 1 2 1 2 1-2 1 1 1 2 1-2 1 0 1-1 1 2 1-1 1 1 1-1 1 1 1-1 1 1 1 1 1-1 1-1 1-2 1 2 1 1 1-1 1 2 1-1 1-1 1 1 1 0 1-1 1 0 1-3 1 1 1 4 1-2 1 3 1-3 1 2 1-2 1 2 1 1 1 0 1-3 1 1 1-1 1 1 1-1 1 0 1-1 1-1 1-1 1 3 1-2 1-1 1 2 1 0M0 59l1-3 1 0 1-1 1-4 1 0 1-3 1-1 1-2 1 0 1-1 1 1 1-3 1-1 1-1 1-1 1-1 1-3 1-1 1 0 1 0 1-4 1 2 1-1 1-1 1 0 1-3 1-1 1 1 1-1 1-3 1 3 1-1 1 1 1-3 1 0 1 0 1-5 1 1 1-1 1 0 1 1 1-2 1-1 1 0 1 0 1 1 1-3 1 3 1-1 1 1 1-4 1 2 1-1 1 0 1-2 1 2 1 1 1-2 1 1 1 0 1 2 1-1 1-6 1 1 1 2 1-2 1 2 1-1 1-1 1 1 1 0 1-1 1 1 1 0 1-3 1 0 1 1 1 1 1-2 1-1 1 1 1-3 1 1 1 0 1 0 1 1 1 0 1-1 1 0 1 1 1 2 1-4 1 3 1-2 1 0 1 2 1-1 1 0 1 3 1-1 1-1 1-1 1-1 1 2 1-1 1 1 1 0 1 3 1-5 1 1 1 0 1 2 1-2 1 0 1 0 1 0 1 0 1 2 1-4 1 2 1 1 1-1 1-1 1 0 1 1 1 0 1 0 1 1 1 1 1-2 1 0 1-2 1 1 1-1 1-1 1-1 1 1 1 1 1-3 1 0 1 0 1 0 1-1 1 2 1-2 1 1 1 0 1 1 1 0 1 2M0 16l1 0 1-2 1-1 1 1 1-2 1 1 1-4 1 1 1-2 1 2 1-1 1-1 1-1 1 0 1 2 1 0 1-1 1-2 1 1 1 0 1 0 1-2 1 0 1-1 1 0 1-1 1 0 1-3 1 2 1-1 1-2 1-1 1 2 1-2 1 0 1 0 1 2 1-2 1 3 1 3 1-2 1 1 1 1 1-4 1 3 1-1 1 0 1 1 1-1 1 2 1-3 1 2 1 2 1-2 1 2 1 0 1-3 1 0 1-1 1-1 1 4 1-1 1-1 1 0 1-1 1 0 1-1 1-1 1 1 1 1 1-4 1 3 1 0 1 2 1 0 1-4 1 1 1 1 1 1 1-1 1 1 1 1 1-4 1 1 1 1 1 0 1-3 1 0 1 0 1 1 1-1 1-1 1 0 1 1 1-1 1-2 1 3 1-1 1-1 1-2 1 5 1-2 1-3 1 1 1 2 1 1 1-2 1-1 1 1 1-2 1 2 1-2 1 1 1 0 1 2 1-2 1 1 1 0 1-1 1 1 1 0 1 0 1-1 1 0 1 1 1 0 1 0 1-1 1 1 1 1 1-1 1-1 1-1 1 4 1-3 1 1 1 0 1 0 1 0 1 0 1-2 1 0 1 0 1 2 1-1 1-1 1 2 1-1 1-2 1-1M0 44l1-2 1 4 1-3 1-4 1-1 1-1 1 0 1-2 1-1 1-1 1-2 1-1 1-5 1-1 1 0 1-2 1 2 1-2 1-3 1 0 1 3 1-2 1-2 1 1 1-2 1-3 1-1 1 2 1-1 1-3 1 1 1 0 1 1 1 1 1-1 1 1 1-4 1-1 1 2 1-3 1 0 1 0 1 0 1 0 1-1 1 0 1 0 1 0 1-2 1-1 1 1 1 0 1 0 1 1 1 0 1-1 1-2 1 2 1 1 1 1 1-3 1 1 1-2 1 1 1 1 1-1 1 0 1-1 1-2 1 3 1-2 1-3 1 1 1 1 1-1 1 4 1-2 1-2 1 1 1-2 1-1 1 1 1 0 1 0 1-1 1-2 1 1 1 0 1-2 1 2 1 1 1-1 1 0 1 2 1-2 1 0 1 2 1 0 1-1 1-2 1 2 1 0 1 1 1 0 1 0 1 3 1-2 1-3 1 4 1-4 1 3 1 0 1-1 1 0 1 1 1-1 1 1 1-2 1 1 1 2 1-1 1-1 1 3 1-1 1-2 1 1 1-1 1 2 1-1 1-1 1 0 1-1 1 0 1 0 1 0 1-1 1 3 1-1 1 1 1 1 1 1 1 1 1-3 1-3 1 2 1-1 1 1 1 2 1-2 1 1M0 -7l1 2 1 2 1 0 1 0 1 4 1-1 1 0 1 1 1-1 1-3 1 2 1-3 1 2 1 0 1 3 1-2 1-1 1 2 1 4 1 0 1-1 1 2 1-2 1 2 1 0 1-1 1 1 1-1 1 1 1 1 1-1 1 1 1-1 1-1 1 1 1-2 1 2 1-2 1 2 1-1 1 0 1 3 1-1 1-2 1 3 1-2 1 0 1-1 1 2 1-1 1 1 1-2 1 2 1 1 1-2 1 2 1 0 1-2 1 1 1 0 1 1 1-3 1 1 1-1 1 2 1 0 1-1 1-1 1-1 1 3 1 0 1-1 1 1 1-1 1-2 1 2 1-2 1-1 1 2 1 0 1 0 1 1 1 0 1-1 1 0 1 1 1-2 1 2 1 0 1 0 1 3 1 0 1 0 1-1 1 2 1-1 1-2 1 2 1-1 1 1 1 0 1-1 1 0 1 1 1 1 1-1 1-2 1 1 1 1 1 1 1-2 1 2 1 0 1-2 1 1 1 0 1-2 1 1 1 1 1 0 1 1 1-2 1 0 1-1 1 0 1 0 1-1 1 2 1-1 1 1 1-2 1 1 1 1 1-1 1-1 1 3 1-1 1-3 1 2 1-1 1 3 1-1 1 2 1-2 1 3 1-2 1 0 1 0 1-1 1 1M0 -37l1 1 1 2 1 2 1 1 1 2 1 2 1 3 1 0 1 2 1 1 1 3 1-3 1 1 1 0 1 2 1 1 1 0 1 2 1 2 1-1 1 2 1 2 1 2 1-1 1 0 1 1 1-1 1 1 1 1 1-1 1 1 1-2 1 5 1-2 1-1 1 2 1 0 1 2 1 0 1 1 1-1 1 2 1 2 1 0 1 0 1 0 1 2 1-3 1 3 1-3 1 1 1 1 1 1 1-2 1 1 1 0 1 1 1 0 1 0 1-1 1 0 1 2 1 0 1-1 1-1 1 2 1 2 1 1 1-3 1 0 1 1 1 2 1-1 1-1 1-1 1 0 1 0 1 0 1-2 1 0 1 1 1 1 1 0 1 2 1-2 1 1 1 0 1 1 1 0 1-1 1 1 1-2 1-1 1 1 1 0 1 1 1-2 1 2 1-1 1-2 1 1 1-1 1 2 1 0 1 1 1 0 1-1 1 1 1 1 1-4 1 3 1 0 1 0 1 0 1-1 1 2 1-3 1 0 1 3 1-1 1-2 1 1 1 2 1-3 1 1 1 1 1 0 1-1 1 0 1 2 1-1 1-2 1 2 1-1 1 2 1-2 1 0 1 1 1 0 1 0 1-1 1 2 1 1 1-3 1 3 1-1 1 0 1 2 1-1 1 0M0 -3l1-3 1 1 1-1 1 3 1-1 1-1 1 1 1 0 1 1 1 0 1 2 1-5 1 5 1 0 1 0 1 2 1-2 1 2 1-2 1 0 1 1 1 2 1 0 1-3 1 1 1 1 1 1 1-3 1-1 1 0 1-1 1 0 1-1 1 4 1-2 1-1 1-1 1 2 1-1 1 1 1-1 1 0 1 1 1 1 1-1 1-1 1-2 1 2 1 1 1-3 1 2 1 0 1-1 1 2 1 0 1-3 1 1 1 0 1-1 1 1 1-1 1 1 1 0 1 1 1 2 1-3 1 2 1-2 1 1 1 0 1 1 1 1 1-2 1 0 1 1 1 0 1 0 1-1 1 1 1-2 1 1 1 1 1 0 1 0 1-3 1 3 1 0 1 0 1 1 1-2 1 1 1-2 1 4 1-3 1 0 1 0 1 0 1-1 1 0 1 1 1-1 1 2 1 0 1-1 1 2 1 1 1-2 1 1 1 0 1-1 1 3 1-3 1 1 1 0 1 0 1 1 1-3 1 0 1 3 1 0 1-1 1 1 1-3 1-1 1 3 1 0 1 0 1-2 1 1 1 1 1-3 1 2 1-1 1 1 1 1 1 0 1-1 1 1 1-3 1 1 1 1 1 0 1 1 1-1 1 0 1-2 1 3 1-1 1 0 1 0M0 15l1-1 1-3 1-1 1-2 1-3 1 0 1 1 1 0 1-2 1-2 1 1 1-1 1 0 1 2 1-3 1-1 1 3 1-2 1-1 1 0 1 1 1-1 1-1 1 4 1-1 1 0 1-2 1 0 1 2 1 0 1-1 1 3 1-3 1 1 1-2 1 0 1-1 1-1 1 1 1 0 1 1 1-2 1 0 1-1 1 1 1-1 1 2 1-4 1 1 1 0 1 1 1 0 1-1 1 1 1 0 1 0 1-2 1 0 1-1 1 0 1-4 1 2 1 1 1-1 1 1 1 1 1-2 1 0 1 0 1 0 1 1 1-1 1 0 1 1 1-1 1 0 1 2 1-1 1-2 1 3 1-1 1 0 1 1 1 0 1 2 1 1 1 0 1-2 1 2 1-1 1-1 1 0 1 1 1 2 1-1 1 1 1-1 1 1 1 0 1 0 1 1 1-1 1-2 1 1 1 2 1 0 1-4 1 3 1 0 1-1 1 1 1-1 1 1 1 1 1-3 1 0 1 1 1-2 1 1 1 1 1-2 1 0 1 1 1 0 1 0 1 0 1 2 1-1 1 0 1 1 1-1 1 0 1-1 1 1 1-2 1 1 1 0 1 1 1-2 1 1 1 2 1-1 1-3 1 2 1-1 1-2 1 3 1-2 1 1 1 2M0 38l1-1 1-2 1 1 1 0 1-5 1-2 1 0 1-1 1-1 1-2 1 3 1-3 1-1 1 0 1 1 1-2 1-1 1-1 1 0 1-1 1-2 1 0 1-2 1 1 1-2 1 0 1 0 1-2 1-1 1 2 1-2 1 0 1-2 1 0 1-1 1-5 1 3 1-1 1 0 1 0 1 0 1-1 1-1 1 1 1 0 1-1 1 1 1 1 1-2 1-2 1 2 1-2 1-2 1 0 1 2 1-2 1-1 1 3 1-1 1-1 1-1 1 2 1-1 1-1 1 2 1 1 1-1 1-2 1 0 1 2 1-1 1 2 1 0 1 0 1 1 1-3 1 0 1 0 1 0 1 2 1-1 1 1 1-1 1 0 1 2 1-2 1 1 1-1 1 0 1 0 1-3 1 4 1-3 1 1 1-2 1 0 1 2 1 1 1-1 1-2 1 1 1-2 1-1 1 3 1 0 1-1 1 0 1 0 1 1 1 0 1-1 1-2 1 1 1 1 1 0 1 0 1 1 1-2 1 2 1 1 1 0 1 1 1 1 1-2 1-1 1 1 1-2 1 3 1 0 1-1 1 2 1-1 1-1 1 1 1-2 1 1 1-1 1 0 1 2 1 0 1 1 1-3 1-1 1 0 1 1 1-2 1 3 1-3 1 3 1-1M0 21l1-2 1-3 1-2 1 0 1-3 1-2 1 0 1-3 1 2 1 0 1 1 1-4 1 1 1 2 1-2 1 0 1 0 1 0 1 0 1 0 1-2 1 0 1 1 1-1 1 2 1-3 1 2 1-2 1-2 1 3 1-1 1-2 1 0 1 2 1-1 1 0 1 0 1 1 1 0 1 0 1 0 1-1 1 1 1-1 1-1 1-1 1 1 1-1 1 0 1 1 1-3 1 6 1 1 1-3 1 1 1 0 1 0 1-3 1-1 1 1 1 2 1-2 1 2 1-5 1-1 1 3 1-1 1 0 1 2 1 0 1-3 1 3 1-2 1 1 1 0 1-1 1 1 1-1 1 1 1-1 1 1 1-1 1-2 1 0 1-1 1-1 1 3 1 0 1 2 1-2 1 0 1 1 1 0 1-1 1 0 1 0 1-4 1 1 1 1 1 0 1-1 1-1 1 2 1 0 1 0 1-1 1-2 1-1 1 3 1-2 1 0 1-1 1 0 1 0 1-1 1 4 1-3 1 1 1-1 1 0 1-2 1 2 1-1 1 3 1-2 1 0 1 2 1-1 1 1 1-3 1 2 1 1 1 0 1 0 1 0 1 1 1-1 1-1 1-1 1 1 1 0 1 0 1 0 1 2 1 0 1 0 1-1 1 0 1 2 1-2M0 27l1-2 1-3 1 0 1-3 1-4 1 2 1-1 1-3 1 0 1-1 1 1 1 1 1-4 1 1 1-2 1-2 1 2 1 1 1-2 1-1 1 2 1-1 1-3 1 2 1-3 1 0 1 0 1-1 1 1 1-1 1 1 1-1 1 0 1 3 1 2 1-4 1-2 1 1 1 1 1 2 1-3 1 0 1-1 1 0 1 2 1-2 1-1 1 1 1 0 1-1 1-2 1 3 1-2 1-1 1 1 1 1 1-3 1 1 1 0 1 0 1-1 1 1 1-1 1 1 1-3 1 3 1 1 1 0 1-1 1-2 1 2 1 2 1-1 1 0 1 0 1-1 1 3 1-1 1 0 1-2 1-1 1 0 1-1 1-1 1 0 1 3 1-1 1 0 1 0 1-1 1 0 1-1 1 4 1-2 1 0 1 1 1 1 1-3 1 2 1 0 1 2 1-5 1 4 1-1 1 2 1-2 1 1 1-1 1 2 1-2 1 0 1 0 1 0 1-1 1 2 1 0 1 1 1-2 1-1 1 3 1-2 1 0 1 1 1-1 1 0 1 0 1-1 1 0 1 0 1 2 1-3 1 3 1-2 1 1 1-1 1 3 1-1 1-3 1 0 1 1 1 1 1-1 1 2 1-2 1-1 1 2 1 0 1-1 1 1 1 2M0 -8l1-1 1 0 1 1 1 1 1-4 1 3 1 0 1-2 1 2 1-2 1 2 1 0 1 0 1 0 1 1 1 1 1-2 1 4 1-1 1-2 1-1 1 0 1 0 1-1 1 3 1-1 1 0 1 0 1-1 1 1 1 1 1 1 1-1 1 1 1 1 1 1 1 0 1 1 1 0 1-2 1 1 1 0 1-2 1 0 1 0 1 1 1-2 1-1 1 2 1 2 1-2 1 1 1-1 1 0 1 1 1 1 1 1 1 0 1-1 1 0 1-1 1 1 1 2 1 0 1 1 1-1 1 1 1 0 1 0 1-1 1 0 1 1 1 0 1 2 1-2 1 2 1-2 1 0 1 1 1-3 1-1 1 4 1-2 1 0 1-1 1 1 1 1 1 2 1 0 1-1 1 0 1 0 1 0 1 2 1-1 1-1 1 3 1-1 1-2 1 0 1 0 1-1 1 0 1 1 1-1 1 1 1-1 1-1 1 2 1-2 1 0 1 2 1-2 1-2 1 0 1 2 1-2 1 2 1 1 1 0 1-1 1 1 1-1 1 2 1-2 1 0 1 1 1 0 1-1 1 1 1 0 1 1 1-1 1 1 1 0 1 0 1 0 1 2 1 2 1-2 1 1 1-1 1 0 1-2 1 0 1 2 1-2 1 1 1-1 1 0M0 34l1-1 1-3 1 1 1-2 1-4 1 2 1-4 1-3 1 1 1 1 1 1 1 0 1-4 1 1 1-2 1-1 1 1 1 2 1 0 1-1 1 0 1 1 1-2 1-2 1 0 1-1 1-1 1-1 1-1 1 2 1 0 1 1 1-3 1 1 1-1 1 1 1-1 1-1 1 0 1-1 1 0 1 0 1-2 1-3 1 3 1-1 1-1 1 0 1-3 1 4 1-2 1 0 1 1 1 0 1-3 1 2 1-2 1 2 1 1 1 0 1-2 1 0 1 0 1 2 1-2 1-1 1 2 1-1 1 1 1 0 1-2 1 1 1 2 1-3 1 1 1-1 1 1 1-1 1-3 1 2 1-1 1 0 1-1 1 1 1 2 1-3 1 1 1 0 1 0 1 0 1-2 1 3 1-2 1 0 1 1 1 2 1-1 1-2 1 3 1-2 1 1 1-1 1 0 1 0 1-3 1 2 1 1 1-2 1 0 1 2 1-1 1 2 1-5 1 4 1-2 1 0 1-1 1 0 1 1 1-1 1 3 1 0 1 0 1 0 1-1 1 1 1 2 1-1 1 2 1-1 1 2 1-1 1-1 1 1 1-3 1 1 1 1 1-3 1 1 1 1 1 0 1 2 1-1 1-2 1 1 1-1 1 0 1 1 1 0 1 1M0 3l1-3 1-1 1 0 1-1 1-1 1-4 1 4 1-1 1 2 1 1 1 1 1-2 1 1 1-1 1 1 1-3 1-3 1 2 1 0 1-1 1-2 1 2 1 0 1-2 1-2 1 4 1 0 1-1 1-2 1 4 1 0 1-2 1 1 1 1 1 1 1 0 1 0 1 2 1-4 1 2 1 1 1 1 1-2 1-2 1 2 1-1 1-2 1 1 1 1 1-2 1 1 1 0 1 0 1 2 1-1 1-2 1 1 1 2 1-1 1 0 1 1 1 1 1-1 1 1 1 0 1-2 1 2 1-3 1 1 1-1 1 1 1-1 1 2 1-2 1 2 1-3 1 3 1 0 1 0 1 0 1-1 1 0 1 0 1-2 1-1 1 3 1-2 1 0 1 1 1-1 1 0 1 2 1-2 1 2 1-2 1 2 1-1 1-1 1 1 1 1 1-1 1-1 1 1 1-2 1 1 1-2 1 0 1 1 1-1 1 2 1 1 1-2 1 4 1-1 1-1 1 0 1 1 1-1 1 1 1-2 1 1 1-2 1 2 1-1 1-1 1-2 1 2 1 0 1 0 1 0 1 0 1 1 1-1 1-1 1 2 1-1 1 1 1-1 1-1 1 0 1 2 1-1 1-1 1 1 1-1 1 1 1 0 1 0 1-1 1 1M0 -16l1 1 1 2 1 3 1-2 1 2 1 2 1 3 1-5 1 5 1 1 1 1 1-1 1 0 1 3 1 0 1-1 1 0 1 1 1 1 1 0 1 1 1-2 1 0 1-1 1 0 1-1 1 0 1 2 1 1 1 0 1-1 1 2 1 0 1 1 1 1 1-1 1-1 1 2 1-3 1 3 1-1 1 0 1-1 1-2 1 5 1-3 1 0 1-2 1 0 1 1 1 0 1 1 1 0 1 0 1 0 1 0 1 1 1 0 1 0 1-2 1-1 1 1 1 2 1 1 1-2 1 0 1 0 1-2 1 3 1 3 1-2 1-2 1 0 1 0 1 2 1 2 1-2 1-2 1 2 1 0 1-1 1 4 1-5 1 3 1-2 1 0 1 0 1 1 1 0 1 1 1-3 1 2 1 1 1 0 1 0 1-1 1 1 1 0 1 2 1-2 1 1 1 0 1-1 1 1 1-2 1 0 1 1 1-2 1 0 1 1 1-2 1 0 1 1 1 1 1-2 1 4 1 0 1-2 1 0 1-2 1 1 1-1 1-1 1 0 1 0 1 1 1-1 1 0 1 3 1-2 1 0 1 1 1-2 1 2 1 2 1-2 1 2 1-1 1-1 1 2 1 0 1-3 1 1 1 1 1-1 1 0 1 2 1-1 1 0 1-2M0 31l1-3 1 2 1-1 1-2 1 0 1 3 1-2 1-2 1 0 1-1 1 0 1-4 1 3 1-3 1 0 1-1 1-2 1 2 1-1 1 0 1-2 1-2 1-1 1-3 1-1 1 3 1-4 1-1 1 1 1 0 1-3 1 2 1-3 1-1 1 2 1-2 1 2 1-2 1-1 1 0 1-1 1 0 1 0 1-1 1-1 1 0 1 1 1 1 1-2 1-1 1 1 1 1 1-1 1-1 1-1 1 0 1-1 1 4 1-2 1-1 1 1 1-3 1 2 1 1 1 0 1 1 1 0 1 0 1-1 1 1 1-1 1-1 1-1 1 0 1-1 1 2 1-1 1-1 1 3 1-4 1 1 1 1 1-1 1 2 1 0 1-3 1 1 1 1 1 0 1 2 1-2 1 2 1-4 1 4 1-1 1-1 1 0 1 2 1-2 1 0 1-2 1-1 1-1 1 1 1 0 1 2 1-2 1 2 1-1 1 1 1 0 1 0 1-3 1 3 1-3 1 4 1-1 1-2 1 1 1-2 1 2 1 1 1 1 1-2 1 0 1 2 1 1 1-1 1-1 1-1 1 0 1 2 1-2 1 2 1-2 1 1 1-1 1 1 1-1 1-1 1 2 1 0 1 1 1-4 1 2 1 0 1 1 1 0 1-1 1 0M0 -8l1 1 1 2 1 0 1-2 1 0 1 1 1 1 1-1 1 0 1-2 1 2 1 1 1 0 1 2 1 0 1-1 1-1 1 3 1-1 1 1 1 1 1 0 1 1 1 4 1-1 1 0 1-2 1-1 1-2 1 1 1 0 1-3 1 0 1 2 1-1 1 0 1 2 1 1 1-1 1 0 1 1 1 2 1-4 1 0 1 1 1 1 1 1 1 0 1 1 1-2 1 0 1 1 1 0 1-1 1-1 1 3 1-2 1 2 1-1 1 0 1-1 1 1 1 1 1 2 1-1 1 0 1-2 1 3 1-2 1 0 1 2 1 0 1 0 1-1 1-1 1 0 1 1 1-2 1 0 1 1 1 1 1 0 1 1 1 1 1-2 1 0 1 0 1 0 1-3 1 2 1 1 1-2 1-1 1 1 1 1 1 1 1-2 1 6 1-4 1 1 1-2 1-1 1 0 1 1 1 0 1-2 1 0 1 1 1 0 1 1 1 0 1 1 1 0 1-1 1 0 1 0 1 0 1 0 1-1 1 1 1 0 1-1 1-4 1 2 1 2 1 0 1 1 1 0 1 0 1 2 1-1 1 0 1-2 1-1 1 2 1 1 1-2 1 4 1-4 1 2 1-1 1 2 1-1 1 0 1-1 1 0 1 1 1 0 1-2 1 1M0 11l1-1 1-1 1-2 1 1 1 1 1-3 1-3 1-2 1 0 1 2 1 2 1-4 1 0 1-3 1 5 1-1 1 0 1-1 1 2 1-2 1-1 1 0 1-1 1 5 1-3 1 1 1 1 1-1 1 0 1 1 1 1 1 0 1-1 1 0 1 0 1 2 1-2 1 2 1-1 1 1 1-1 1-1 1-1 1 1 1-1 1-1 1 1 1 1 1-2 1 1 1-1 1 0 1-1 1 2 1-1 1-1 1 0 1 4 1 0 1-2 1 1 1-1 1 0 1-1 1 3 1-1 1-1 1 1 1-2 1 2 1-3 1 1 1 0 1-2 1 2 1 2 1-3 1-1 1 3 1 0 1-2 1 0 1 0 1 0 1-1 1 0 1 2 1 0 1 0 1 0 1 1 1 1 1-2 1 0 1 1 1 3 1 0 1-2 1-1 1 0 1 2 1-3 1-1 1 2 1-1 1 0 1 0 1 1 1-3 1 0 1 2 1-2 1 1 1 0 1 0 1-1 1-2 1 3 1 0 1 0 1-1 1-1 1 0 1 0 1 0 1 0 1 2 1-2 1 2 1 0 1 1 1-1 1 2 1-1 1-1 1 2 1 0 1 1 1-2 1 2 1-1 1-1 1 1 1-2 1 3 1-1 1-1 1 1 1 2 1-1M0 10l1 2 1 0 1-2 1 1 1 0 1-1 1-2 1-1 1-1 1-1 1 1 1 2 1-4 1 1 1 0 1 2 1 0 1 2 1-3 1-3 1 2 1-1 1 2 1-1 1 2 1-1 1 2 1-4 1 3 1-1 1-1 1 2 1-2 1-1 1 1 1 1 1-3 1 0 1 1 1 0 1 0 1 0 1 2 1-1 1 1 1 0 1 2 1-1 1-2 1-1 1 1 1-3 1 4 1-2 1 0 1 2 1-2 1 0 1 1 1 0 1 2 1-2 1 0 1-2 1 1 1 3 1-3 1-1 1 1 1 2 1 0 1 1 1-2 1 2 1-1 1-2 1 3 1-3 1 1 1 2 1 0 1-3 1 0 1 0 1-1 1 1 1 1 1 0 1 0 1 2 1-2 1 0 1 2 1-3 1-1 1 0 1 1 1 0 1 0 1-2 1 2 1 0 1 1 1 0 1 0 1-3 1 2 1 3 1 0 1 1 1-1 1-1 1-1 1-1 1 1 1-1 1 2 1-1 1-1 1-1 1 0 1 0 1-1 1 2 1 0 1-1 1 1 1-1 1 1 1 0 1-1 1 0 1 1 1-1 1 0 1 0 1 1 1 0 1-1 1 2 1-1 1 1 1 0 1-1 1 1 1-1 1 2 1-1 1 0 1-2M0 -32l1 5 1 2 1 0 1 1 1 3 1-2 1 3 1 1 1 1 1 0 1 3 1 1 1 1 1 2 1-1 1-1 1 3 1 0 1-1 1 4 1-3 1 0 1 3 1-1 1 2 1 1 1 0 1 0 1 0 1 0 1 1 1 0 1 0 1 0 1 1 1-2 1 2 1-1 1-2 1 0 1-1 1 3 1 1 1-1 1 3 1-1 1 0 1 1 1-2 1-1 1 2 1-2 1 2 1-1 1 1 1 0 1 0 1 0 1 0 1-2 1 1 1 3 1-2 1 1 1 0 1 1 1-2 1 2 1-3 1 0 1 1 1-1 1 2 1-2 1 2 1-2 1 1 1 1 1-2 1-2 1 1 1 1 1 2 1 0 1-1 1 0 1 1 1-1 1-1 1 2 1-1 1 3 1-2 1-1 1-1 1 1 1 0 1 1 1 1 1-2 1-1 1 1 1 1 1 1 1 1 1-3 1 0 1-2 1 2 1-2 1 2 1-1 1 1 1 2 1-4 1 0 1 1 1 0 1-1 1 2 1 2 1-5 1 0 1 0 1 1 1 1 1-1 1 0 1 2 1-1 1-2 1 0 1 1 1 3 1-1 1-2 1 2 1-1 1 1 1 0 1 0 1 0 1-1 1 1 1 1 1 0 1-2 1 1 1-1 1 0M0 26l1-1 1-1 1-2 1-2 1 0 1 0 1 3 1-3 1-4 1-1 1 2 1-1 1 2 1-1 1-3 1 1 1-2 1 0 1-1 1 0 1 1 1-1 1-3 1 1 1 0 1-2 1 0 1 2 1-2 1 1 1 1 1-1 1 0 1 2 1-2 1 0 1 0 1-1 1-3 1 4 1-3 1-1 1 1 1 0 1-3 1 4 1-2 1 0 1 1 1-1 1 1 1 0 1 0 1 0 1-1 1 1 1-1 1 0 1 0 1-2 1 2 1 1 1 0 1 0 1 0 1-3 1 4 1-3 1-1 1 2 1 2 1-1 1-1 1 2 1 1 1-2 1-1 1 2 1 0 1-3 1 2 1 1 1 0 1-3 1 4 1-2 1 0 1 2 1-2 1 0 1 0 1 1 1-1 1-1 1 3 1-1 1 1 1 0 1-4 1 3 1 2 1-3 1 1 1 1 1-2 1 1 1 0 1-2 1 3 1 0 1-1 1 0 1 1 1 0 1 0 1 0 1-1 1 2 1-1 1 0 1 2 1-1 1 0 1 0 1 0 1 2 1 0 1-2 1 1 1 1 1-1 1 0 1 0 1-2 1 2 1-2 1 1 1 3 1-3 1 1 1 1 1-1 1-1 1 1 1-2 1 1 1-1 1-2 1 2 1 1M0 -27l1 0 1 4 1 1 1 4 1 3 1 1 1 1 1 2 1-1 1 2 1 1 1 0 1 1 1 1 1-1 1 0 1 1 1-1 1 0 1 0 1 1 1 0 1 0 1-1 1 1 1 2 1 0 1 1 1 1 1-2 1 2 1 0 1 2 1 1 1 0 1-2 1 4 1-4 1 3 1 0 1 1 1 0 1 1 1 0 1 1 1-3 1 3 1 2 1-3 1 1 1 1 1 1 1-1 1-1 1-1 1 0 1 0 1-1 1 2 1-1 1 2 1 0 1 0 1 1 1-2 1 1 1 0 1-3 1 1 1 1 1 0 1 0 1-1 1-2 1 1 1-3 1 3 1 0 1 0 1-1 1 0 1 2 1-2 1 1 1 2 1-1 1 0 1 0 1 0 1 1 1-1 1-1 1-1 1-1 1 4 1-4 1 0 1 1 1 0 1 0 1 3 1-1 1-2 1 1 1 1 1 1 1 1 1-2 1 1 1 1 1-3 1 2 1-2 1 1 1 1 1-2 1 1 1 0 1 2 1-1 1-2 1 1 1 1 1 0 1 0 1 0 1 2 1-1 1 1 1 0 1 0 1 2 1-2 1 1 1 0 1 0 1-1 1-2 1 1 1 1 1-1 1 0 1 0 1-1 1-1 1 0 1 1 1-1 1 2 1 0M0 58l1-6 1-1 1-2 1-2 1-4 1-4 1-2 1-3 1-3 1-1 1-3 1-2 1-1 1-2 1 1 1-3 1 0 1 0 1-4 1-1 1-1 1-1 1-3 1-2 1 2 1 1 1-1 1 0 1-1 1-1 1 3 1-4 1 2 1-1 1 0 1 0 1-1 1 1 1-2 1 1 1-3 1 3 1 0 1-2 1 1 1-2 1 0 1 0 1-1 1 0 1 0 1-2 1 1 1 0 1-1 1 2 1-3 1 2 1-1 1 3 1-3 1 3 1-2 1 1 1-2 1 0 1 2 1-1 1 1 1-4 1 3 1 0 1-1 1 0 1-2 1 3 1-3 1 1 1 0 1 1 1-1 1 2 1-1 1 1 1-1 1 0 1-1 1 0 1 0 1-2 1 1 1 2 1-2 1 1 1-1 1 2 1-2 1 1 1-1 1 0 1 0 1-3 1 1 1-2 1 3 1-1 1 3 1 1 1 0 1-2 1 1 1 2 1-1 1 0 1 0 1 0 1 1 1 0 1-1 1 0 1 1 1 0 1 1 1-3 1 2 1 1 1-1 1-2 1 3 1-1 1 1 1 1 1-1 1 0 1 0 1 0 1-1 1 1 1-1 1 4 1-2 1-4 1 2 1 0 1 0 1 2 1-2 1 0 1-1 1 0M0 -14l1 2 1-1 1 0 1-3 1 3 1 2 1-1 1 1 1-1 1 0 1-1 1-1 1 4 1-3 1 4 1-1 1 2 1-1 1 0 1 0 1 0 1 0 1 2 1 0 1 1 1 0 1-2 1 2 1-1 1-1 1 2 1 2 1-2 1-3 1 3 1-4 1 0 1 1 1 1 1 0 1 0 1-2 1-1 1 4 1-2 1 0 1 1 1-2 1 1 1-1 1 0 1-2 1 2 1 1 1-2 1 0 1 1 1-2 1 3 1 0 1-3 1 3 1 1 1 1 1-2 1 1 1 1 1-2 1 1 1 0 1 0 1 0 1-1 1 1 1 1 1-1 1-1 1 0 1 1 1-1 1-1 1-1 1 1 1 0 1 0 1 2 1 0 1-1 1 0 1 2 1-2 1-2 1 3 1 0 1 0 1-1 1 1 1 0 1 2 1-3 1 2 1-1 1 2 1-1 1 1 1 0 1 0 1 0 1 3 1-3 1 2 1-2 1 2 1-1 1 1 1 1 1 0 1 0 1 3 1-2 1-1 1-1 1-2 1 1 1 2 1-2 1-2 1 2 1-1 1 1 1-1 1-1 1 1 1 1 1 1 1-1 1 2 1-1 1 0 1 2 1 0 1-1 1-2 1 2 1 1 1-1 1 0 1 1 1 0 1-1M0 24l1-1 1 2 1 0 1 2 1-2 1-2 1-3 1-2 1-1 1 1 1 0 1 0 1 0 1-2 1-1 1-1 1-2 1 3 1-3 1 1 1-3 1 0 1-2 1 1 1 0 1 0 1 0 1-3 1 0 1-2 1 0 1-2 1 4 1-3 1 1 1 0 1-1 1-2 1 1 1 0 1-1 1-1 1 2 1-1 1 0 1 0 1 0 1 0 1-2 1 0 1 0 1 2 1-3 1 4 1-2 1 0 1 1 1-1 1 0 1 0 1-1 1 1 1-1 1 1 1 2 1-2 1 0 1-2 1 2 1-1 1 2 1 0 1-3 1 4 1 0 1-1 1-2 1 2 1 0 1-2 1 0 1 0 1 1 1 0 1 1 1-1 1 0 1-1 1 1 1 4 1-2 1-3 1 0 1 2 1 0 1 0 1 0 1 1 1-2 1 0 1 1 1 0 1-1 1 1 1-2 1-2 1 3 1-1 1 2 1-2 1 1 1 2 1-1 1-3 1 0 1 1 1 0 1 1 1 0 1 0 1 2 1-1 1 0 1-1 1 0 1 0 1 0 1-2 1 2 1 1 1 2 1-2 1-2 1 3 1-3 1 2 1 0 1 1 1 1 1 1 1-2 1-1 1 0 1 0 1 2 1-3 1-1 1 0 1 1 1 1M0 70l1-5 1-3 1-3 1-3 1-2 1-1 1-5 1-2 1-2 1 0 1-2 1-3 1-4 1-1 1-1 1-1 1-2 1 3 1 0 1-4 1-2 1-1 1 2 1-3 1 0 1-2 1-2 1-1 1 1 1-2 1-2 1 1 1-1 1 0 1 0 1-2 1 0 1 0 1 0 1 0 1-3 1 3 1-3 1 2 1-2 1-1 1 0 1-3 1 0 1 2 1-2 1-2 1 0 1-1 1-1 1 1 1-1 1 1 1-1 1 1 1 1 1 1 1 0 1-2 1 0 1 0 1 1 1-1 1 0 1-1 1 1 1 1 1-4 1 1 1 1 1 0 1 1 1 2 1-1 1 0 1 2 1-3 1-1 1 2 1-1 1 0 1 0 1 0 1 1 1-1 1-1 1 1 1-1 1 0 1 1 1-1 1-1 1 2 1 0 1 1 1-2 1 2 1 0 1-4 1 2 1-3 1 0 1 2 1-2 1 1 1 1 1 1 1-1 1 1 1-1 1 1 1-3 1 1 1 0 1 0 1 0 1-1 1 0 1 2 1 1 1-2 1 2 1-1 1 0 1-2 1 0 1 4 1-1 1-2 1-1 1 0 1 0 1-1 1-1 1 0 1 2 1-2 1 2 1-2 1 0 1 0 1 0 1-1 1-2 1 3M0 -20l1 1 1 2 1 0 1 2 1 1 1 2 1 2 1 0 1-3 1 3 1-2 1 2 1-2 1 1 1-1 1-2 1 0 1 3 1 1 1-1 1-2 1 2 1 0 1 0 1 0 1-1 1 2 1 1 1-2 1 1 1 0 1 2 1 0 1 2 1-2 1 1 1 1 1 1 1-1 1 0 1-1 1-1 1 1 1-2 1 2 1-1 1 1 1-1 1 0 1 0 1 0 1-1 1 3 1-1 1 2 1-1 1 0 1 0 1-2 1 0 1-1 1 2 1 0 1 2 1-1 1 0 1-1 1 0 1 1 1-1 1 1 1 0 1 1 1 0 1 0 1-1 1 1 1-1 1 0 1 1 1-2 1 1 1-1 1 1 1-1 1 0 1-1 1-3 1 1 1-1 1 3 1 1 1-3 1-1 1 2 1 0 1 0 1-2 1 2 1-1 1 1 1 0 1 0 1 0 1 0 1 0 1-1 1 0 1 0 1 3 1-1 1 0 1 0 1 1 1 1 1-1 1 0 1-2 1 1 1 2 1 0 1 0 1-2 1 2 1-1 1 0 1-1 1 1 1-2 1 3 1 0 1-1 1-1 1 3 1-2 1-1 1 2 1-2 1 2 1 0 1-1 1 2 1 0 1-1 1 1 1 0 1 0 1-1 1 2 1 2M0 -19l1 2 1 1 1 0 1 1 1 0 1-2 1 5 1-1 1 1 1 2 1 2 1 2 1 1 1 0 1-1 1 3 1-2 1 1 1 3 1-2 1 0 1 3 1 0 1 0 1-2 1 3 1-1 1-1 1 2 1 1 1-1 1 0 1 1 1 0 1 1 1 0 1-4 1 3 1 1 1-1 1-1 1 0 1 3 1-2 1-1 1 1 1 0 1 2 1-2 1 0 1 0 1 2 1 0 1-2 1 1 1 2 1-1 1-3 1 2 1 0 1-1 1 0 1-1 1 0 1-1 1 0 1 0 1 2 1-1 1 0 1 1 1 2 1-2 1 0 1 0 1 2 1 0 1 1 1-1 1 0 1 0 1 0 1 1 1-1 1-2 1 1 1-2 1 3 1-4 1 1 1 1 1-1 1 0 1-2 1-1 1 2 1 0 1-1 1 1 1 0 1-1 1 1 1 0 1-2 1 1 1 1 1-1 1 4 1-4 1 1 1 0 1-1 1 3 1 0 1-1 1-2 1 0 1 2 1 0 1 2 1-3 1 2 1 0 1 1 1-1 1-1 1 3 1-2 1 0 1 0 1 0 1 0 1 0 1 1 1-1 1 1 1-1 1-1 1 0 1 4 1-1 1-1 1 0 1-2 1 1 1 0 1 0 1 0 1-1 1 1M0 -45l1 0 1-1 1 3 1 1 1 2 1 0 1 4 1 2 1 1 1 1 1 2 1 1 1-1 1-1 1 0 1 1 1-1 1 1 1-1 1 1 1 1 1 3 1-1 1 2 1 3 1-2 1 1 1 4 1-1 1 4 1 1 1 0 1-1 1 2 1 0 1 0 1-1 1-1 1 1 1 2 1-1 1 1 1-1 1 0 1 2 1 1 1-2 1 3 1-3 1 4 1-2 1 1 1-3 1 1 1-1 1-2 1 3 1 0 1-1 1-1 1 2 1 2 1-4 1-1 1 3 1 0 1-1 1 2 1-1 1-1 1 1 1 1 1 0 1 1 1-1 1 0 1 1 1 2 1-4 1 2 1 0 1-2 1 1 1 2 1 0 1 0 1 0 1 2 1-2 1 2 1-1 1-2 1 0 1 2 1 1 1 0 1-1 1 0 1 1 1-1 1 2 1-2 1 0 1 1 1 2 1 0 1-1 1 0 1 2 1-4 1 1 1 1 1 0 1 1 1-2 1 0 1 1 1-2 1 0 1 2 1-1 1 1 1-1 1 1 1 1 1-1 1-1 1 2 1-2 1 1 1 0 1 0 1 1 1-2 1 1 1-3 1 0 1 2 1-1 1 0 1 4 1-2 1-2 1 3 1-1 1-2 1 0 1 2 1 0 1-1M0 -20l1 5 1 0 1-1 1 0 1 2 1 4 1 1 1 2 1 3 1-1 1 2 1-2 1 2 1 2 1-2 1-2 1-1 1 1 1-1 1 0 1-2 1 3 1-5 1 2 1 1 1 1 1-1 1 1 1 0 1-1 1 2 1 3 1-2 1 1 1-3 1 3 1 0 1 1 1 0 1-1 1 0 1 2 1 1 1 0 1 0 1-1 1-1 1 2 1 0 1-3 1 2 1 0 1 1 1 1 1-1 1 2 1 1 1-1 1-1 1-2 1 3 1-1 1 0 1-1 1 1 1 0 1-1 1 0 1 3 1-2 1-1 1 2 1 1 1-1 1 1 1 1 1-2 1 1 1-3 1 1 1 0 1 0 1-1 1 2 1 1 1-1 1 1 1 0 1 0 1 0 1-3 1 0 1 3 1-3 1 2 1-1 1 2 1-2 1-1 1 1 1-1 1 2 1 0 1 0 1 2 1-1 1 0 1 1 1-3 1 3 1 1 1-3 1 2 1 0 1-1 1 1 1-2 1-2 1 3 1-1 1 3 1-3 1 1 1 0 1 1 1 0 1 0 1-1 1 1 1-1 1 1 1-1 1 2 1-2 1 0 1-1 1 0 1 0 1 1 1-1 1 0 1 2 1-2 1 0 1 2 1-1 1-1 1 2 1-1 1 1M0 -26l1 3 1 0 1 0 1 0 1 2 1 3 1-1 1 1 1 1 1 0 1 1 1 2 1 0 1 3 1-1 1-3 1 0 1 3 1 0 1 1 1 0 1-1 1 4 1-2 1 3 1-2 1 2 1 0 1 1 1 2 1-1 1 0 1 4 1-1 1-1 1 1 1 0 1 2 1-2 1-1 1 1 1 1 1-2 1 2 1 0 1 0 1-1 1-1 1 3 1-2 1-1 1 0 1 0 1 2 1 0 1 0 1-1 1 1 1-1 1 0 1-2 1 0 1 1 1 1 1-2 1 3 1-4 1 2 1 1 1 0 1 1 1-1 1 1 1 0 1 1 1-1 1 1 1 0 1-3 1 2 1-2 1 1 1 2 1-2 1 3 1 0 1-3 1 2 1 0 1 1 1 0 1 1 1 0 1 1 1 1 1-2 1-1 1-1 1 2 1 0 1 0 1 1 1 0 1 0 1 0 1 1 1-1 1-1 1-2 1-1 1 1 1-1 1 3 1-2 1 1 1 0 1-2 1-1 1 0 1 3 1-1 1 1 1-4 1 3 1 1 1-2 1 0 1 0 1 1 1-1 1 1 1 0 1 0 1-3 1 2 1-1 1 2 1-1 1-1 1 1 1 0 1 0 1 1 1-2 1 0 1 1 1-1 1 2 1-1 1-1M0 22l1-4 1 2 1-2 1-2 1-1 1-2 1-2 1 4 1-2 1-3 1 0 1 0 1 0 1-4 1 2 1 0 1 0 1-3 1-2 1 3 1 0 1 1 1 1 1-2 1-1 1-2 1 0 1 1 1 0 1 1 1-2 1 4 1-1 1 1 1-2 1 1 1 1 1-1 1-2 1-1 1 2 1-4 1 4 1-1 1 0 1-1 1 2 1-2 1-2 1 1 1 0 1 0 1 0 1-1 1 0 1 1 1-1 1 2 1 0 1 0 1-1 1 4 1-1 1 0 1 2 1-2 1 1 1-3 1-1 1-1 1 0 1 1 1 1 1 0 1 1 1-4 1 3 1-1 1 1 1-3 1 4 1-1 1-2 1 1 1 1 1 0 1 0 1-1 1-1 1 1 1 0 1 1 1 1 1 2 1-3 1 0 1 0 1 0 1 1 1 0 1-1 1-1 1 1 1 0 1 2 1 1 1-3 1 2 1-1 1 0 1-1 1 0 1-1 1 1 1 0 1 0 1-3 1 1 1 1 1 2 1-1 1 2 1-1 1 1 1 0 1-1 1 0 1 1 1-4 1 2 1-1 1 1 1-2 1 3 1-1 1-1 1-1 1 2 1 1 1-3 1 3 1-2 1 0 1 0 1 1 1-1 1-2 1 2 1 2 1-1M0 11l1-3 1 0 1 0 1-2 1 0 1-2 1 1 1-1 1 2 1-4 1-1 1-2 1 2 1 0 1 0 1 1 1-2 1-1 1-2 1 1 1 0 1 1 1-2 1 2 1-1 1-1 1 1 1-1 1 3 1-1 1 0 1 1 1-1 1 0 1 0 1 1 1 1 1-1 1 1 1 0 1-2 1 0 1-1 1 0 1-1 1 0 1 4 1-3 1-1 1 1 1-1 1 0 1-1 1 1 1-1 1-1 1 1 1 0 1 0 1 1 1 3 1-4 1 2 1-1 1-1 1-1 1 2 1-2 1 1 1 2 1 1 1-3 1 0 1-3 1 0 1-1 1 2 1 1 1-1 1 3 1 0 1-1 1 0 1 1 1 0 1-1 1 0 1 0 1-1 1 0 1 2 1-2 1 0 1 2 1-1 1 0 1 0 1 0 1 1 1 1 1-2 1 0 1 0 1-1 1 0 1 3 1-2 1 0 1 0 1 1 1-2 1 3 1-2 1 2 1-1 1-1 1 1 1 0 1-1 1 0 1 0 1-3 1 1 1 4 1-2 1 2 1-1 1 0 1 0 1-1 1 2 1-2 1 1 1-1 1 2 1 0 1 1 1-2 1 1 1 0 1-1 1 0 1 1 1-3 1 0 1 0 1 2 1 0 1 0 1 0M0 -1l1-2 1 0 1-3 1 2 1-2 1 3 1-1 1 0 1 1 1 0 1-2 1-1 1 0 1 1 1 2 1-2 1 0 1-1 1 3 1 2 1 0 1 3 1-2 1 1 1 0 1-2 1-1 1 1 1-1 1-2 1 4 1-2 1 2 1-5 1-1 1 1 1 1 1-1 1 1 1-1 1 2 1-1 1 2 1 0 1 1 1-1 1 0 1-1 1 0 1 0 1-2 1 1 1-1 1 1 1-2 1 2 1-1 1-1 1 2 1-1 1 1 1 1 1 1 1 0 1-1 1-1 1-1 1 0 1 1 1-1 1 0 1 4 1-1 1 1 1-1 1-1 1 0 1 3 1-4 1 0 1-2 1 2 1-1 1 1 1-1 1 0 1 0 1-1 1 0 1 1 1 0 1 2 1-3 1 2 1 0 1 1 1-3 1 2 1 0 1-1 1 1 1 0 1-1 1-1 1 0 1 0 1 3 1 0 1-1 1 1 1 1 1-1 1-1 1 1 1 0 1-1 1 0 1 1 1 0 1-1 1 1 1 0 1 0 1-1 1 2 1-2 1 2 1 0 1-1 1 2 1-1 1 0 1 0 1 1 1-1 1 0 1 1 1-1 1-2 1 1 1-1 1-1 1 1 1 1 1-1 1 0 1 0 1 2 1 2 1-3M0 11l1-3 1 1 1-2 1 3 1-1 1-1 1 1 1 1 1-2 1 0 1-1 1-1 1-1 1 2 1-1 1 1 1 1 1 1 1-1 1 0 1 1 1-3 1 1 1-1 1 0 1-1 1 0 1 0 1 0 1-3 1 0 1 1 1 0 1-1 1 0 1 2 1 0 1 1 1-3 1 0 1 4 1-1 1-2 1-1 1 3 1-1 1 4 1-1 1-1 1-3 1 1 1 0 1-1 1-1 1 1 1 0 1 1 1-3 1 2 1 1 1-1 1 1 1 1 1-3 1 1 1 2 1-1 1 0 1 0 1 1 1-1 1 1 1-1 1 0 1 1 1 0 1 0 1-1 1 0 1 0 1 0 1 3 1-1 1-2 1-1 1 1 1 1 1 1 1 2 1-5 1 3 1-2 1 0 1 3 1-2 1-1 1 2 1 1 1-2 1 1 1-1 1-1 1 2 1-2 1 1 1 1 1 0 1-2 1 0 1-1 1 1 1 0 1 1 1 0 1 1 1 0 1 1 1 0 1 0 1 0 1 0 1-1 1 2 1-2 1 0 1 0 1 0 1 1 1-1 1 0 1 1 1 0 1-1 1 1 1 2 1-4 1-1 1 1 1 0 1 0 1 1 1 1 1 0 1 0 1-3 1 1 1 0 1 0 1 0 1 0M0 8l1 1 1 0 1-1 1 3 1-1 1-1 1-1 1 3 1 0 1 1 1-3 1 0 1-1 1 1 1-2 1 1 1-3 1 2 1-1 1-2 1 1 1 3 1-1 1 1 1-1 1 0 1 2 1-2 1 1 1-1 1 0 1 2 1-3 1 1 1-1 1 0 1 2 1 1 1-1 1-2 1 1 1 1 1-2 1 1 1 0 1 2 1 0 1-1 1 0 1 2 1-4 1-1 1 1 1 1 1 0 1-1 1-1 1 1 1 1 1 0 1 0 1-2 1 2 1 0 1-2 1-2 1 1 1 1 1 1 1 1 1 0 1 0 1 0 1 0 1 0 1-1 1 1 1 0 1-1 1 2 1-1 1 0 1 0 1-1 1 1 1 0 1 0 1 1 1 0 1-3 1 3 1-3 1 1 1 1 1 1 1-2 1 0 1 0 1 0 1-1 1 2 1 1 1 0 1-1 1-1 1 2 1-1 1 2 1 1 1-5 1 4 1 2 1-1 1-1 1-1 1-2 1 1 1-1 1 0 1 1 1-2 1 1 1-1 1 1 1-1 1-1 1 2 1-3 1 1 1 2 1 0 1-3 1 1 1 1 1 1 1 1 1-2 1 1 1 1 1 0 1-2 1 0 1 0 1 2 1-1 1-1 1 1 1 1 1-2 1 1M0 2l1-2 1 3 1-1 1-1 1 0 1 2 1 0 1-1 1 0 1 2 1-1 1 0 1 2 1-1 1 0 1 4 1 0 1 0 1 0 1 0 1 1 1 1 1-2 1 2 1-1 1-1 1-3 1 0 1 1 1-1 1 2 1 0 1 0 1-1 1 3 1-2 1 0 1-1 1 0 1-2 1 1 1 0 1 2 1-1 1-1 1 0 1 0 1 2 1 1 1 2 1-2 1 1 1-1 1 0 1 1 1 0 1-3 1 0 1 0 1-2 1 2 1-1 1 0 1-1 1 2 1-1 1-1 1 1 1-1 1 2 1-1 1 0 1 2 1-2 1 1 1 1 1-1 1 0 1 0 1 0 1-1 1 1 1 1 1-1 1 1 1-2 1 0 1 1 1 1 1 1 1-3 1 4 1-2 1-1 1 0 1-2 1 3 1-3 1 2 1-1 1 3 1-1 1-1 1-1 1 0 1 0 1 0 1 1 1-1 1 2 1-2 1 0 1 2 1-1 1-1 1 1 1 0 1-2 1 0 1 0 1 1 1 0 1 0 1 1 1 0 1 0 1 0 1 2 1-1 1 0 1 0 1-2 1 2 1 0 1 2 1-4 1 2 1-2 1 1 1 2 1-4 1 1 1 1 1 0 1 0 1 0 1 1 1 0 1 1 1-3M0 0l1 0 1-4 1 0 1 1 1-1 1-1 1 1 1 0 1-1 1 0 1-2 1 0 1 2 1 0 1 0 1-1 1 1 1-3 1-1 1 2 1-2 1 4 1 1 1-4 1 3 1-2 1 1 1-2 1 1 1 1 1-1 1-1 1-1 1 0 1 4 1 0 1-3 1 0 1 0 1 0 1 2 1 0 1 0 1 3 1-3 1 2 1-1 1-1 1 1 1-1 1 0 1 1 1-1 1-2 1 3 1-4 1 2 1-1 1 1 1-1 1 1 1 1 1 0 1 1 1 0 1-2 1 0 1-2 1 1 1 1 1 0 1-1 1-1 1 3 1-3 1 0 1 0 1-1 1 3 1-1 1 1 1 0 1 0 1 0 1-1 1 0 1 0 1-1 1 3 1 0 1-1 1-1 1 1 1 1 1 1 1-2 1 0 1 2 1-1 1 0 1 1 1-2 1 0 1 0 1 0 1 0 1 2 1 1 1-2 1 1 1 0 1 0 1-1 1 0 1-1 1 1 1 2 1 0 1 0 1-1 1-1 1 2 1-3 1 1 1 3 1-2 1-1 1 0 1-1 1 1 1-3 1 3 1 0 1 0 1 0 1 0 1 0 1-1 1 0 1 0 1 2 1 0 1 1 1-2 1 1 1 0 1-2 1-1 1 2 1-1M0 -66l1 4 1 4 1 2 1 3 1 2 1 2 1 3 1 3 1 5 1 1 1-1 1 5 1 2 1 1 1 2 1 1 1 1 1 3 1-1 1 3 1 2 1 1 1-1 1 3 1 1 1-1 1 4 1-2 1-2 1 3 1 1 1 0 1-2 1 3 1 1 1 1 1-1 1-1 1 2 1 1 1 1 1 1 1 2 1-1 1 2 1 1 1-2 1 2 1 0 1 0 1 0 1 0 1 1 1 3 1-3 1 2 1 1 1-1 1 0 1 0 1 0 1 1 1 0 1-2 1 1 1 2 1-2 1 1 1-1 1 1 1-1 1 1 1 2 1 1 1-3 1 2 1 1 1 0 1-3 1 2 1-1 1-1 1 1 1-2 1 4 1-3 1 2 1-2 1 0 1-1 1 2 1-2 1-1 1 2 1-1 1 1 1 0 1 1 1 0 1 0 1 0 1 1 1 0 1-1 1 0 1 3 1-2 1 0 1 0 1 1 1 0 1 0 1 2 1-1 1 1 1 1 1-2 1 0 1 2 1-2 1 2 1-2 1 1 1 1 1-1 1 1 1 2 1-2 1-3 1 2 1 1 1-1 1 0 1 0 1-1 1 1 1 1 1 0 1 1 1-1 1 2 1-3 1 1 1 0 1-1 1 1 1 0 1-3 1 1 1 3M0 5l1 2 1-6 1 2 1-2 1-1 1-1 1 0 1-1 1 3 1-3 1 0 1 2 1 0 1 3 1-1 1-3 1-3 1 4 1-3 1 0 1-1 1-2 1 2 1 1 1-1 1 0 1-1 1-1 1 0 1 1 1 0 1 0 1 1 1-2 1 1 1-2 1 2 1-1 1-1 1 1 1 0 1 0 1 0 1 2 1-1 1-2 1 1 1 1 1-2 1 0 1 0 1 1 1-2 1 0 1 0 1 1 1-1 1 3 1-1 1 0 1 1 1-2 1 1 1-1 1-1 1 0 1 2 1-1 1 3 1-2 1 0 1 0 1 1 1-1 1-1 1 0 1 2 1 0 1-3 1 2 1 1 1-3 1-1 1 1 1 1 1 0 1-1 1 0 1 0 1 1 1 0 1 2 1 0 1 2 1-1 1-3 1 2 1 0 1-3 1 1 1 1 1-2 1 2 1 0 1-1 1 1 1 0 1-1 1 1 1 1 1-2 1 3 1-1 1-1 1 2 1-3 1 2 1 0 1 0 1-2 1 1 1 0 1 1 1 0 1-1 1 3 1-1 1 0 1 0 1-3 1 3 1-1 1 0 1-1 1 3 1-1 1 1 1-1 1-3 1 1 1 3 1-4 1 1 1 1 1-4 1 0 1 1 1 0 1 2 1-4M0 48l1-4 1-3 1-1 1-3 1-1 1-2 1-5 1 0 1 0 1-1 1-5 1 0 1 1 1-1 1-1 1-3 1-2 1 1 1-3 1 0 1-5 1 2 1 0 1-4 1 3 1-2 1 1 1 0 1-2 1 1 1-4 1 5 1-3 1-1 1 2 1-1 1-1 1-1 1-2 1 0 1 2 1-1 1 0 1 0 1-1 1-2 1 1 1 1 1 0 1-3 1 0 1-1 1 1 1 0 1 1 1-1 1-1 1 0 1-1 1 1 1-1 1 1 1-2 1 1 1-2 1 1 1-1 1 4 1 0 1-2 1 0 1 1 1 1 1-1 1-2 1 1 1 1 1-1 1 1 1 0 1 0 1 1 1 0 1-3 1 4 1-1 1 1 1 0 1-2 1 2 1-3 1 1 1 3 1 1 1-2 1 2 1-1 1-3 1 2 1 0 1 0 1 1 1 1 1-1 1-1 1 1 1-3 1 2 1-2 1 4 1-5 1 2 1 1 1-1 1-1 1 1 1 0 1 1 1 0 1-2 1 0 1 0 1 0 1-1 1 3 1-4 1-2 1 2 1 2 1-3 1 2 1-2 1 1 1-1 1 0 1 0 1 0 1 1 1-1 1-1 1 1 1 0 1 0 1 1 1 1 1-2 1 1 1 3 1-2 1-1M0 -30l1 1 1 4 1 0 1 2 1 0 1 1 1 3 1 1 1 3 1 1 1-2 1 0 1 3 1 3 1 1 1 3 1-3 1 0 1 1 1-1 1 4 1 0 1-1 1-1 1 1 1 0 1 1 1 2 1-1 1 2 1-3 1 3 1-2 1-2 1 3 1 0 1 0 1 3 1-3 1 0 1 2 1-1 1 0 1 4 1-3 1 1 1-2 1 2 1-1 1 0 1 0 1 2 1-2 1 1 1 1 1 0 1 1 1-2 1 2 1-1 1 2 1-2 1 1 1-2 1-2 1 4 1-3 1 2 1-2 1 0 1 0 1 1 1-1 1 1 1-1 1-1 1 0 1 0 1 0 1 2 1 0 1 0 1 2 1-3 1 0 1 1 1-3 1 1 1 2 1-1 1 0 1 1 1 0 1-2 1 1 1 2 1-1 1-1 1 1 1 0 1-2 1 1 1-1 1 1 1 0 1 0 1-2 1 4 1-2 1 0 1 0 1-1 1 2 1-1 1-1 1 3 1 0 1-1 1 0 1 0 1 1 1-2 1 2 1-1 1-1 1 3 1-2 1 1 1 1 1-1 1 0 1 1 1-2 1 1 1 0 1-2 1 1 1 0 1 0 1 0 1 0 1 2 1 1 1 0 1-2 1 2 1-1 1-2 1 2 1-2M0 -12l1 1 1 1 1 3 1-2 1 3 1 0 1 3 1-1 1 1 1 2 1 1 1 2 1 1 1-1 1 1 1 3 1-2 1-3 1 2 1 0 1 2 1-2 1 1 1-2 1 2 1 0 1 3 1 1 1-2 1 0 1-3 1 0 1 5 1-2 1 0 1 3 1-2 1-1 1 3 1-3 1 2 1-2 1 1 1 2 1-2 1 3 1-3 1 2 1-3 1 3 1 0 1 1 1 1 1-1 1-1 1 2 1-3 1-1 1 4 1-2 1 3 1 0 1-3 1 1 1 1 1-1 1-1 1-1 1 0 1 2 1-2 1 3 1-1 1-2 1 2 1-1 1 0 1 1 1-1 1-2 1 2 1-3 1 0 1 2 1-2 1 1 1 0 1 2 1-2 1 0 1 3 1-3 1 2 1-2 1 0 1 3 1-2 1-1 1 3 1-3 1 0 1 1 1 0 1-1 1 0 1 0 1 1 1 0 1-2 1 2 1 0 1 0 1-1 1 0 1 0 1-1 1 1 1-1 1 1 1 0 1-3 1 0 1 4 1-3 1 3 1-3 1 2 1 1 1-1 1-1 1-2 1 3 1 1 1 0 1-1 1 0 1 1 1-2 1 1 1 0 1 0 1 0 1 1 1 1 1 0 1 0 1 0 1 0 1 0 1 2M0 31l1-5 1-3 1-2 1-2 1-2 1 0 1-2 1-1 1-2 1 0 1-4 1-1 1 0 1-3 1 3 1-2 1 0 1 0 1 3 1-1 1-2 1 1 1 1 1-2 1 0 1 3 1-3 1 1 1-1 1 0 1 2 1 1 1 1 1 0 1-2 1 1 1 0 1-1 1 1 1 1 1 0 1 1 1-2 1 0 1-1 1 1 1 1 1 0 1-5 1 2 1 0 1 0 1-1 1 0 1 1 1 0 1 1 1-1 1 1 1-1 1 3 1-4 1 3 1 1 1 0 1-1 1 0 1 0 1-1 1 1 1-1 1-1 1-3 1 1 1 2 1-1 1 0 1-1 1 0 1 0 1 3 1-1 1 1 1-1 1 0 1 1 1 1 1 0 1-1 1 0 1-1 1 0 1-2 1 4 1-4 1 3 1 0 1 1 1 3 1-1 1-2 1 1 1-2 1 0 1 1 1-1 1 0 1-1 1 0 1 1 1-1 1 2 1 0 1 0 1-2 1 2 1 1 1-1 1-2 1 1 1 0 1 1 1 0 1-3 1 2 1 2 1-1 1-1 1 0 1 1 1 0 1-2 1 2 1 0 1-1 1 1 1 1 1 1 1-1 1-2 1 3 1-1 1-3 1 3 1-2 1 3 1 0 1 1 1-2 1 1M0 47l1-1 1-2 1-2 1-2 1-4 1 0 1 2 1-3 1 1 1-4 1 1 1 0 1-3 1-1 1-4 1 2 1-3 1-1 1 0 1 1 1-3 1 1 1 0 1-1 1-1 1-1 1 0 1 0 1-1 1 2 1-1 1-1 1 1 1-1 1-1 1-2 1 0 1-1 1-1 1-1 1 1 1-3 1 2 1 0 1-3 1 2 1-2 1 1 1 1 1-2 1-2 1 3 1-2 1-2 1 3 1-2 1 1 1 0 1 0 1-2 1 1 1 0 1-2 1 0 1 1 1 1 1 1 1-2 1 3 1-3 1-1 1 2 1-1 1 2 1-2 1 0 1 1 1 0 1 0 1 1 1-1 1 0 1-3 1 3 1-2 1-1 1-1 1 0 1 2 1-2 1-2 1 2 1-1 1-1 1 1 1-1 1 1 1 1 1-1 1-1 1 2 1-2 1 2 1 1 1 0 1 0 1-2 1 1 1 1 1 1 1-1 1-1 1-1 1-1 1 1 1 2 1 0 1 1 1-1 1 0 1 0 1 2 1-1 1 1 1-1 1 1 1 0 1 1 1-1 1 1 1-2 1 2 1-1 1 2 1-2 1 0 1-2 1 2 1-1 1 1 1 0 1 3 1-3 1 1 1-2 1 2 1-1 1 0 1 0 1 1M0 3l1 0 1 2 1 0 1-1 1 0 1-1 1-1 1 1 1 2 1 3 1-1 1 0 1-1 1 1 1-2 1 1 1 2 1-4 1 0 1 0 1 1 1 1 1-2 1 0 1 0 1 0 1 1 1-1 1 0 1 0 1-1 1-1 1 2 1 1 1-4 1 1 1 0 1-2 1 1 1 1 1 2 1-1 1 0 1 1 1 1 1-3 1-1 1 2 1-2 1 0 1 1 1-2 1 4 1-4 1 5 1-2 1 2 1-1 1 0 1 2 1-1 1-1 1-1 1 2 1-1 1 2 1 0 1-1 1 0 1 0 1-1 1 1 1-1 1 0 1 1 1-3 1 2 1-1 1-1 1 4 1-2 1-1 1-1 1-1 1 0 1-1 1 0 1 2 1 1 1-2 1 2 1 0 1-2 1 0 1 3 1-2 1 2 1 0 1-2 1 2 1-1 1 1 1 0 1 1 1-1 1 1 1 1 1-3 1 0 1 1 1 0 1-1 1 0 1 3 1-3 1 2 1 0 1 0 1 0 1-1 1 0 1 1 1-1 1 2 1-4 1 1 1-2 1 0 1 1 1-1 1 0 1 2 1 1 1 1 1-4 1 3 1 0 1-2 1 0 1 2 1-2 1 0 1 1 1-1 1 1 1-2 1 1 1-2 1 1 1 1M0 -14l1-2 1 2 1-2 1 0 1 0 1 1 1 4 1 0 1 0 1 2 1 2 1 1 1-1 1-1 1 0 1 2 1 2 1-2 1 1 1-2 1 0 1 1 1 0 1 2 1 1 1-3 1-1 1 2 1 0 1 2 1-2 1 2 1-3 1 5 1 0 1 1 1-1 1 1 1-1 1 2 1-1 1 2 1-3 1-1 1 0 1 0 1 0 1 2 1-2 1 2 1 0 1 0 1 0 1 3 1-2 1 0 1-2 1-1 1 1 1 1 1 0 1-3 1 2 1-1 1 0 1 2 1-3 1 2 1-1 1 2 1 1 1-3 1 2 1 3 1-1 1-1 1 2 1-1 1-3 1 4 1-3 1-1 1 3 1-1 1 0 1 0 1 0 1-1 1 3 1-1 1-2 1 3 1 0 1-1 1-1 1 2 1 0 1 0 1 1 1-2 1 1 1 0 1 0 1 0 1-1 1 0 1 2 1 3 1-2 1 0 1 0 1 2 1-1 1 0 1-1 1 0 1 1 1 0 1 2 1 0 1 0 1-1 1 0 1-1 1-1 1 3 1-2 1 0 1-1 1 0 1-1 1 3 1-4 1 3 1-2 1 0 1 1 1 0 1-2 1 0 1 2 1 0 1 0 1 0 1-1 1-2 1 2 1-1 1-3 1 2M0 -11l1 4 1-1 1 2 1 0 1-1 1-3 1 2 1-1 1 0 1 0 1 2 1 2 1 0 1-2 1 3 1-1 1-1 1 0 1 0 1 1 1-2 1 1 1 0 1 0 1 0 1 0 1 1 1 0 1-1 1 0 1-1 1-3 1 3 1 1 1 0 1 1 1-2 1-1 1-2 1-1 1 4 1-2 1 0 1 1 1 2 1-2 1 1 1-1 1 0 1 0 1 0 1 0 1-3 1 3 1 1 1 0 1 0 1 0 1-1 1 0 1 1 1-2 1 0 1 2 1-1 1 0 1-2 1 0 1 2 1 1 1-2 1 0 1 2 1-2 1 2 1-2 1-1 1 4 1-1 1 1 1 0 1-3 1 3 1-2 1 0 1 1 1 0 1 1 1-1 1 0 1 2 1-1 1 0 1-2 1 0 1 1 1 1 1-2 1 2 1-1 1 0 1 1 1 0 1-2 1 2 1 0 1-1 1-1 1 2 1-2 1 0 1 3 1-1 1-1 1 1 1-2 1-1 1 1 1 2 1 0 1 2 1-2 1 1 1-1 1 0 1 2 1-1 1 3 1-2 1-1 1 0 1-1 1 1 1 1 1-1 1-2 1-1 1 1 1 3 1 0 1-2 1 0 1 1 1 2 1 1 1-3 1 1 1 1 1-1 1 0M0 12l1-1 1-1 1-2 1-1 1-2 1 1 1-3 1-2 1-2 1 4 1-3 1 0 1-1 1-1 1 0 1 1 1-1 1 0 1 1 1-6 1 4 1 0 1 2 1 0 1-3 1 2 1-2 1 0 1 1 1-2 1 0 1-1 1 1 1 0 1 4 1-1 1-1 1 2 1-2 1 0 1 0 1-1 1 0 1 1 1-2 1 3 1-2 1 1 1 0 1-1 1-1 1 2 1 1 1 1 1-3 1 1 1-4 1 4 1-1 1-1 1 1 1-3 1 3 1-1 1-2 1 2 1-3 1 4 1-2 1 2 1-1 1 2 1 1 1-2 1 2 1-2 1-1 1-2 1-1 1 3 1-2 1 2 1 1 1-1 1 0 1-2 1 2 1 0 1 1 1 0 1 2 1-2 1-2 1 1 1 1 1-1 1 1 1 0 1-1 1 0 1 1 1 0 1 2 1-2 1 1 1 0 1 0 1 0 1 0 1 1 1-3 1 3 1-1 1 0 1-3 1 2 1 2 1-1 1-1 1 0 1 0 1-2 1 4 1-3 1 1 1-1 1-1 1 0 1-1 1 2 1-1 1 0 1-1 1 1 1-1 1 2 1-1 1 1 1 0 1-2 1 0 1 0 1 0 1 0 1-1 1 1 1-1 1 0 1-1 1 1" stroke="#ff0000" stroke-width="1.0" fill="none" vector-effect="non-scaling-stroke" stroke-linejoin="round"/>
<polygon points="62.0,216.7 64.8,216.4 67.7,216.8 70.5,217.3 73.4,216.4 76.2,216.4 79.0,216.9 81.9,216.6 84.7,216.9 87.6,216.0 90.4,216.7 93.2,215.9 96.1,216.5 98.9,216.7 101.8,216.8 104.6,217.4 107.4,216.6 110.3,216.6 113.1,216.4 116.0,216.7 118.8,216.3 121.6,216.6 124.5,216.7 127.3,216.7 130.2,216.7 133.0,216.7 135.8,216.7 138.7,216.8 141.5,216.6 144.4,217.4 147.2,216.9 150.0,216.8 152.9,216.7 155.7,216.3 158.6,216.1 161.4,216.8 164.2,216.8 167.1,216.3 169.9,216.6 172.8,217.2 175.6,217.2 178.4,216.8 181.3,216.9 184.1,216.4 187.0,216.4 189.8,216.8 192.6,217.1 195.5,217.1 198.3,216.9 201.2,217.0 204.0,217.2 206.8,217.5 209.7,216.4 212.5,216.5 215.4,217.1 218.2,217.2 221.0,216.9 223.9,216.9 226.7,217.1 229.6,216.7 232.4,217.2 235.2,216.8 238.1,216.1 240.9,217.0 243.8,217.3 246.6,216.9 249.4,217.6 252.3,216.8 255.1,216.6 258.0,217.0 260.8,216.8 263.6,216.4 266.5,216.4 269.3,216.4 272.2,217.0 275.0,216.7 275.0,225.0 272.2,225.5 269.3,225.4 266.5,225.1 263.6,225.5 260.8,224.8 258.0,225.2 255.1,225.5 252.3,225.3 249.4,224.7 246.6,224.7 243.8,224.7 240.9,225.5 238.1,224.8 235.2,225.5 232.4,225.2 229.6,225.0 226.7,224.7 223.9,224.9 221.0,225.0 218.2,224.5 215.4,224.8 212.5,225.2 209.7,225.2 206.8,224.7 204.0,225.4 201.2,224.9 198.3,225.4 195.5,224.8 192.6,225.6 189.8,224.2 187.0,225.1 184.1,224.9 181.3,225.0 178.4,225.0 175.6,224.5 172.8,225.0 169.9,225.2 167.1,224.7 164.2,225.2 161.4,225.1 158.6,224.8 155.7,224.6 152.9,225.8 150.0,224.9 147.2,224.5 144.4,225.2 141.5,224.7 138.7,224.4 135.8,224.3 133.0,225.1 130.2,225.5 127.3,225.3 124.5,225.1 121.6,225.3 118.8,224.4 116.0,225.1 113.1,225.7 110.3,225.2 107.4,225.6 104.6,224.7 101.8,225.1 98.9,225.4 96.1,225.5 93.2,225.0 90.4,225.0 87.6,224.6 84.7,224.8 81.9,224.9 79.0,225.2 76.2,225.0 73.4,225.2 70.5,225.1 67.7,225.0 64.8,225.2 62.0,225.0" fill="#000"/>
<path transform="translate(62.00 220.85) scale(1.4200 0.5295)" d="M0 -1l2 2 2 0 2 0 2 1 2-1 2-1 2 3 2 1 2-1 2 2 2-4 2-2 2 1 2 1 2 1 2 1 2-1 2-1 2 0 2-2 2 4 2-4 2 1 2 1 2-1 2 2 2 1 2-1 2-2 2 1 2-1 2 3 2-3 2 1 2 0 2-1 2 1 2 1 2 0 2-1 2 0 2 2 2-2 2 0 2 0 2-1 2 1 2-1 2 3 2-3 2 1 2 1 2-1 2-2 2 2 2-1 2 0 2 2 2-2 2 2 2 1 2-3 2 2 2-1 2 0 2-1 2 0 2 2 2-1 2 2 2-2 2 0 2 1 2 1 2-2M0 -2l2-1 2 5 2-2 2 1 2 1 2-2 2 0 2-1 2 3 2-2 2-1 2-1 2 2 2 2 2-1 2-1 2-2 2 1 2 2 2 0 2-2 2 3 2-1 2-1 2 3 2 0 2-3 2 2 2-1 2 1 2-4 2 3 2-1 2 2 2-1 2-1 2 1 2-2 2-1 2 2 2 1 2-1 2 1 2 0 2 2 2 1 2 0 2-2 2 0 2-2 2 0 2 2 2-1 2-1 2 0 2 3 2-3 2 1 2-1 2 1 2-1 2 2 2-3 2 2 2-1 2 2 2 1 2-1 2 0 2-2 2 2 2 1 2-2 2-1 2 0M0 -3l2 0 2 0 2 0 2 1 2 2 2 0 2 0 2 0 2 1 2-1 2 2 2-1 2 0 2 1 2-2 2 3 2-4 2 2 2 0 2-1 2 1 2-2 2-1 2 2 2-1 2 1 2 0 2 1 2-1 2-1 2 3 2-2 2-3 2 3 2 1 2-3 2 1 2-1 2 3 2-1 2 0 2-1 2 1 2-1 2 0 2-2 2 2 2 0 2 0 2 1 2 0 2 1 2-1 2 0 2-2 2 0 2 1 2 0 2 0 2-1 2 1 2 0 2 2 2-1 2 1 2-3 2 1 2 0 2 2 2-2 2 1 2 1 2-1 2 3 2-1M0 1l2-1 2 0 2 0 2-1 2-1 2-1 2 2 2-1 2 0 2 4 2-4 2 2 2-5 2 2 2 1 2 2 2-1 2-1 2-6 2 6 2-1 2 0 2 1 2-2 2 0 2 1 2 0 2 1 2-1 2-1 2 1 2-2 2 4 2-2 2 0 2 2 2-1 2 0 2 1 2-2 2 0 2 1 2-2 2 1 2 1 2-3 2 3 2 0 2 1 2-2 2 0 2-1 2-2 2 3 2 0 2 3 2-2 2-2 2 1 2 1 2-3 2 4 2 0 2-1 2 0 2-1 2 0 2-1 2-1 2 3 2 0 2 2 2-2 2-2 2 0M0 -1l2 2 2 3 2-1 2-3 2 5 2-1 2-2 2 4 2-4 2 3 2 0 2 2 2 0 2 1 2-2 2 1 2-1 2-2 2 0 2 0 2 1 2 1 2 0 2-1 2 0 2 0 2 1 2-3 2 2 2 4 2-4 2 3 2-4 2 1 2 1 2-1 2-1 2-1 2 3 2 0 2-1 2 0 2 3 2-3 2 0 2-1 2 1 2 0 2 1 2 1 2 0 2-1 2-1 2 1 2 1 2-1 2-1 2 0 2 1 2-1 2 1 2-2 2 2 2-3 2 0 2 2 2-1 2 1 2-2 2 2 2 2 2-5 2 3 2-1 2 1M0 2l2 0 2-1 2-1 2 2 2-3 2 2 2-2 2 2 2 2 2 1 2-1 2 1 2 0 2-1 2 2 2-2 2 2 2-2 2 0 2 1 2-4 2 4 2 1 2-3 2 0 2 0 2 2 2-4 2 3 2 0 2 1 2-1 2-3 2 4 2-1 2 2 2-1 2 0 2 1 2-3 2 1 2 2 2-3 2 1 2-1 2 1 2 1 2-1 2 0 2 1 2 0 2 1 2-1 2-2 2-1 2 2 2 0 2 0 2 0 2 1 2-1 2 0 2-1 2 0 2 0 2 1 2-2 2 3 2 0 2-1 2 0 2-1 2 2 2-2 2 2M0 -1l2 2 2-2 2 1 2 1 2 1 2-3 2-4 2 0 2 3 2-3 2 4 2 2 2-1 2 1 2-2 2 0 2-1 2-1 2 2 2-1 2 2 2-1 2-2 2 4 2 1 2-4 2 1 2-1 2 0 2 1 2 1 2-1 2 0 2-1 2-3 2 3 2-1 2-1 2 3 2-1 2 1 2-1 2 2 2-3 2 3 2-2 2 1 2-2 2 1 2 1 2 0 2-1 2 3 2-2 2 0 2 1 2-1 2 1 2 0 2-2 2-1 2 0 2 2 2 1 2-2 2 1 2-1 2 0 2-1 2 2 2-2 2 2 2 0 2 1 2-2M0 1l2 0 2-4 2 2 2-3 2 3 2-1 2 1 2 0 2 2 2 0 2-2 2 1 2-3 2-1 2 2 2 0 2 2 2-3 2 3 2-1 2 0 2-1 2 2 2 0 2-1 2 1 2 1 2 0 2-1 2 0 2-4 2 5 2-3 2 2 2-1 2 1 2 1 2 1 2-1 2-1 2 0 2-2 2 0 2 1 2 0 2 2 2 0 2-3 2 0 2 1 2 0 2-1 2 1 2 2 2-3 2 1 2 1 2 0 2-1 2-3 2 1 2 4 2-3 2 3 2-1 2 0 2 1 2-2 2 1 2 0 2 1 2-1 2 1 2 1 2-4M0 -1l2 0 2 0 2-3 2 3 2-1 2 0 2 3 2-4 2 1 2 4 2-2 2 0 2 2 2-2 2-3 2 5 2-4 2 0 2 3 2-2 2 0 2 0 2 0 2-1 2 1 2-1 2 0 2 0 2-1 2 2 2 1 2 1 2-1 2-1 2 1 2-1 2 0 2-1 2 1 2-1 2 0 2 3 2-4 2 3 2-2 2-1 2 2 2-1 2 0 2 5 2-3 2 0 2-1 2 1 2-1 2 2 2-1 2 1 2-2 2-1 2 0 2-2 2 2 2 1 2 0 2 2 2-2 2 1 2 1 2-1 2 0 2 1 2-2 2 0 2 0M0 -1l2-2 2 1 2 2 2 0 2-3 2 1 2-3 2 2 2 0 2-1 2 1 2-1 2-3 2 6 2 2 2-4 2 0 2 0 2 0 2 3 2-2 2 0 2-4 2 6 2-3 2 2 2 0 2 1 2-2 2 2 2-1 2 0 2-1 2 1 2-3 2 1 2 1 2 0 2-2 2 2 2-3 2 2 2 2 2-3 2 1 2-2 2 2 2 0 2 0 2-1 2 1 2 0 2 2 2-3 2 0 2 1 2-2 2 2 2 1 2 0 2 0 2 1 2-1 2-2 2 1 2 1 2-2 2 1 2 0 2 3 2-6 2 4 2 1 2-3 2 2M0 15l2-3 2-2 2-5 2-1 2-2 2 0 2 1 2-1 2-2 2 0 2 1 2 2 2-1 2 0 2 2 2-3 2-1 2-3 2 3 2 0 2 2 2-1 2 0 2-1 2 1 2 1 2-2 2 0 2 3 2 0 2-1 2-2 2-1 2 2 2 0 2-1 2 2 2 0 2 0 2 2 2-3 2 0 2 4 2-5 2 0 2 1 2 2 2-3 2 0 2 3 2-3 2 1 2-1 2 0 2 1 2-2 2 2 2-1 2-1 2 1 2-1 2 3 2-2 2 0 2 1 2-1 2 2 2 0 2-2 2 0 2 3 2-1 2-2 2 2 2 0M0 -1l2-3 2 3 2-1 2 1 2-1 2 0 2 0 2 0 2 2 2-3 2 3 2-1 2-2 2-1 2-1 2 3 2 2 2-1 2 0 2 0 2 0 2-1 2 1 2-2 2 1 2-1 2-1 2 3 2 0 2-1 2-2 2 5 2-3 2 1 2-2 2 2 2-2 2 1 2 1 2-2 2 1 2 0 2 2 2-1 2 2 2-3 2-1 2 1 2 0 2 2 2-1 2-2 2 1 2 2 2-3 2 1 2-1 2 1 2 0 2-1 2 1 2 0 2-1 2-1 2 0 2-1 2 3 2 1 2-1 2 1 2 0 2 0 2 0 2-1 2 2M0 4l2-3 2-2 2 1 2 1 2-2 2 0 2 0 2-2 2 0 2 2 2 1 2-2 2-1 2 2 2 1 2-2 2 2 2-1 2 0 2 2 2-2 2-1 2 1 2 1 2-2 2 0 2 2 2-2 2 1 2-1 2 2 2-2 2 1 2-1 2 0 2 1 2-5 2 4 2 2 2-2 2-1 2 1 2-2 2 1 2 0 2 0 2-1 2 2 2 1 2 0 2 1 2-3 2 1 2 0 2-1 2 0 2 1 2-1 2 1 2-1 2 3 2-1 2-2 2 1 2-1 2 1 2 0 2 0 2 2 2 0 2-3 2-1 2 3 2-1 2-2M0 -1l2-1 2 4 2 2 2-5 2-2 2 1 2 2 2 1 2-1 2-1 2 0 2-2 2 4 2-1 2 2 2-2 2 3 2-3 2 0 2 1 2-3 2 2 2 0 2 1 2 1 2-2 2 1 2-2 2-1 2 1 2 1 2-2 2 1 2 0 2 0 2 0 2 2 2 1 2 0 2-1 2-2 2 2 2-1 2 0 2-1 2 1 2 2 2-3 2 4 2-2 2 0 2-1 2 0 2-1 2 1 2-1 2-1 2 0 2 3 2-1 2 1 2-1 2 1 2 0 2-1 2 0 2-1 2 0 2 0 2 0 2 1 2-1 2 4 2-3 2 0M0 0l2 0 2 2 2 1 2-3 2 0 2 2 2 0 2 0 2 0 2 2 2-1 2-2 2 2 2 2 2-1 2 0 2-2 2 2 2 1 2 1 2-3 2-1 2 2 2 1 2-1 2 2 2-2 2 0 2 3 2-2 2-1 2 0 2-1 2 2 2-1 2 0 2 1 2-1 2 2 2-2 2 0 2 1 2 0 2-1 2 0 2 4 2-4 2 1 2-2 2 2 2 2 2-2 2-1 2-2 2 2 2 0 2 1 2 0 2 1 2-2 2 0 2 0 2 1 2-1 2 1 2-1 2-2 2 3 2 1 2-2 2-1 2 1 2 0 2 2 2-1M0 -1l2 2 2 1 2-2 2 2 2 0 2-1 2 1 2-1 2 0 2 0 2 5 2 0 2-5 2 3 2 1 2-3 2 1 2 0 2 0 2-1 2-1 2 2 2-1 2 3 2-2 2-1 2-1 2 2 2 0 2-1 2-1 2 3 2-2 2 1 2 0 2 1 2 0 2 0 2 0 2 0 2-2 2 0 2 1 2-2 2 1 2 2 2-1 2 0 2-1 2 0 2 0 2 2 2 0 2 1 2-2 2 0 2 0 2-1 2 1 2 2 2-3 2 0 2 1 2-3 2 4 2 1 2-2 2-1 2 0 2 0 2 0 2-1 2 1 2 2 2-1M0 1l2-2 2-1 2 2 2-4 2 1 2 4 2-1 2 0 2 0 2 2 2-3 2 0 2 2 2 2 2-1 2 0 2-2 2 1 2-1 2 1 2-1 2 1 2 1 2-1 2 0 2 0 2-1 2-1 2 2 2-1 2 2 2 1 2-1 2 0 2 0 2-2 2 0 2 3 2 0 2-2 2-1 2 3 2-3 2 2 2-2 2-1 2 2 2 0 2-2 2 2 2-1 2 2 2-1 2 0 2-1 2 0 2 2 2-2 2 3 2-3 2 1 2-2 2 3 2-1 2-1 2 2 2-2 2 3 2 1 2-2 2-1 2 0 2 0 2 0 2 1M0 0l2 0 2-3 2 4 2-1 2 3 2 3 2-2 2-3 2 0 2 1 2 2 2-1 2 2 2-3 2 0 2 2 2 0 2 1 2 0 2-2 2-1 2 2 2-1 2 1 2-4 2 2 2 1 2 0 2-1 2-1 2 3 2-1 2-3 2 2 2 2 2-4 2 2 2-1 2 1 2 2 2 1 2-3 2 0 2 1 2 0 2 1 2-1 2-2 2 2 2 1 2 0 2 0 2 1 2 0 2-1 2-2 2 3 2-4 2 1 2 0 2 2 2-2 2 1 2-1 2 1 2-1 2 0 2-1 2 2 2 1 2-1 2 0 2-1 2 1 2-2M0 1l2 0 2 4 2-5 2 2 2-2 2 1 2 0 2 1 2-5 2 1 2 0 2-1 2 3 2 1 2-2 2 2 2-2 2 2 2-2 2-1 2 0 2 3 2-1 2 0 2 1 2-2 2 0 2-1 2 1 2 0 2 2 2-2 2 0 2-1 2 3 2-2 2 1 2 1 2-1 2-1 2 1 2 2 2 0 2 0 2-2 2-3 2 2 2 1 2-2 2 0 2 1 2 1 2 1 2-3 2 2 2 0 2 2 2 0 2-2 2 3 2-3 2 1 2-1 2-1 2 1 2 0 2 1 2-2 2 3 2-5 2 2 2-1 2 1 2 1 2-1M0 9l2-4 2 0 2-1 2 1 2 0 2 1 2-1 2-2 2 0 2-2 2 2 2 0 2-3 2 0 2 1 2 0 2 2 2-2 2-1 2 0 2 0 2 0 2 0 2 3 2-2 2 0 2 0 2 1 2 2 2-5 2 2 2 0 2 0 2-1 2 2 2-2 2 0 2 0 2-1 2 3 2-2 2 2 2-2 2-1 2 1 2 2 2-1 2 1 2 0 2-1 2 1 2 1 2-1 2-3 2 1 2 3 2-1 2-1 2 0 2 2 2-1 2-1 2 0 2 1 2-1 2 0 2 1 2 0 2 0 2-1 2-1 2 1 2-1 2 1 2 2M0 1l2 0 2 0 2 0 2-1 2 1 2 2 2-1 2 0 2-3 2 0 2 0 2 3 2 1 2-1 2-2 2 0 2 1 2-2 2 2 2 0 2 0 2 1 2-2 2 0 2-1 2 2 2-2 2 3 2-1 2-2 2 3 2-2 2-1 2 2 2 2 2-3 2 1 2-2 2 3 2-2 2-1 2 1 2 1 2 1 2 0 2-1 2 0 2-1 2 2 2-3 2 0 2 3 2 0 2 0 2-1 2 0 2-2 2 0 2 2 2-1 2 1 2 1 2-3 2 3 2-2 2-1 2 4 2-2 2 2 2-1 2 0 2 0 2 0 2-3 2 3M0 4l2-2 2-3 2 0 2-1 2 2 2 3 2-1 2-3 2 0 2 1 2 0 2 2 2-3 2 3 2-1 2 1 2-3 2 3 2-1 2 0 2 1 2-3 2 2 2-2 2 1 2-1 2 3 2-3 2 1 2-1 2 1 2 1 2-2 2 1 2 0 2 2 2 0 2-2 2 3 2 0 2-3 2-1 2 3 2-2 2 2 2-2 2 1 2 0 2 0 2 0 2-1 2-2 2 1 2 1 2 0 2 2 2 0 2 0 2-1 2 0 2-1 2 0 2 2 2-2 2 1 2-1 2-2 2 2 2 1 2-1 2 1 2-1 2-2 2 3 2 0M0 -7l2 1 2-1 2 0 2 2 2 2 2 2 2 0 2-3 2 1 2 0 2 2 2 1 2-3 2 0 2 2 2-1 2 0 2 0 2 1 2 1 2-2 2 1 2-1 2 3 2-2 2 0 2 0 2 1 2 3 2-4 2 2 2-1 2 1 2-2 2 2 2-1 2 0 2-1 2-1 2 3 2 0 2-2 2 1 2 1 2 0 2-4 2 0 2 3 2-1 2 0 2 1 2-1 2 1 2-1 2-2 2 1 2 1 2 1 2-1 2 1 2 0 2-2 2 2 2-1 2 2 2-2 2 0 2 2 2 0 2 0 2-1 2-1 2 0 2 1 2-1M0 -4l2 3 2 2 2 1 2-1 2 3 2 0 2-2 2 0 2 0 2 0 2 3 2-2 2 0 2 0 2 1 2 1 2-3 2 0 2 1 2 0 2 0 2 0 2-1 2 0 2 0 2 0 2 3 2-2 2 1 2 2 2-4 2-1 2 0 2 1 2 1 2-2 2 0 2 2 2 0 2 0 2 1 2-4 2 1 2 1 2 0 2 3 2-4 2 1 2-1 2 1 2 0 2-1 2 0 2 2 2-1 2 2 2-2 2-1 2 3 2-1 2-1 2 1 2 0 2 0 2-1 2 0 2 2 2-2 2 2 2-2 2 2 2 0 2-1 2 0 2-1M0 5l2-7 2 3 2-2 2-3 2 2 2-3 2 0 2-1 2 3 2-1 2 1 2 2 2-1 2-2 2 3 2 0 2 0 2-2 2 1 2-2 2-2 2 3 2 1 2-3 2 4 2-3 2 4 2 0 2-5 2-2 2 2 2 3 2-1 2 1 2-2 2-2 2 4 2 0 2-3 2 3 2 0 2 1 2 1 2-1 2-2 2 0 2-1 2 1 2 0 2 0 2 0 2 0 2 0 2 1 2 1 2-1 2 0 2-1 2-3 2 3 2-1 2 2 2-2 2 3 2-3 2 0 2 1 2 1 2-2 2-1 2 1 2 2 2-2 2 0 2 0M0 2l2 1 2-2 2-1 2 0 2-1 2 1 2 1 2-5 2 1 2 1 2 4 2-2 2 1 2-2 2-1 2 1 2 0 2-1 2-1 2 2 2 0 2 0 2-1 2 0 2-2 2 1 2-1 2 1 2 0 2 1 2-3 2 1 2 1 2 2 2 0 2-3 2 3 2-1 2 2 2-2 2 2 2 0 2-1 2 1 2-3 2 0 2 1 2 0 2 1 2-1 2 1 2-1 2 1 2-3 2 2 2 1 2 0 2-2 2-1 2 2 2 0 2 1 2 0 2 0 2-1 2 1 2-1 2 0 2 1 2-2 2 0 2 2 2 0 2-1 2-1M0 -1l2 3 2 0 2 1 2-3 2 3 2-2 2 3 2 0 2-3 2-1 2 2 2-4 2 3 2-1 2 0 2-1 2 1 2-1 2-1 2 0 2-1 2 1 2 0 2 1 2 0 2-1 2 1 2 0 2 1 2 0 2 0 2-1 2-1 2 3 2-6 2 5 2-1 2 2 2 0 2 0 2 1 2-1 2 0 2-2 2 1 2-1 2 1 2 0 2 2 2-4 2 2 2 0 2 0 2 0 2 3 2-3 2 0 2-1 2 1 2 0 2 0 2-1 2 0 2 2 2-1 2 0 2 0 2 1 2-2 2 0 2 0 2-1 2 2 2 1 2-1M0 -2l2 2 2 3 2 1 2 0 2 1 2-2 2 2 2-2 2 0 2-2 2 2 2 3 2-2 2-2 2 2 2 0 2-1 2 1 2 0 2 0 2 1 2-1 2 2 2-2 2 1 2 0 2-2 2 1 2 0 2 2 2-3 2 1 2-2 2 0 2 3 2-3 2 2 2 0 2 0 2-3 2 3 2 2 2-2 2-3 2 3 2-2 2 2 2-2 2-2 2 2 2 2 2 0 2 2 2-2 2 0 2 0 2-2 2 1 2 1 2-1 2 2 2-1 2-2 2 2 2-1 2 1 2 1 2 0 2 0 2-1 2 1 2 1 2-3 2 2 2-1M0 11l2-4 2 2 2-4 2 0 2-1 2-1 2-1 2 1 2 0 2 0 2 0 2 0 2-4 2-2 2 4 2-3 2 1 2-1 2 0 2 2 2 2 2 0 2-3 2-1 2 3 2-1 2-1 2-1 2 2 2 0 2-1 2 1 2-1 2 0 2 0 2-1 2 1 2 1 2 1 2-1 2 0 2-1 2 0 2 2 2-2 2 0 2 0 2 0 2 2 2-3 2 2 2 1 2-1 2-1 2-1 2 3 2-1 2 1 2-2 2 0 2 0 2 2 2-2 2 0 2 2 2 0 2-1 2 0 2-1 2 0 2 1 2 2 2-2 2 0 2 2M0 1l2 0 2 0 2 0 2-2 2-3 2 0 2-2 2 3 2 0 2 0 2-2 2-3 2 3 2 0 2 0 2-1 2 2 2-1 2-1 2 4 2-2 2 0 2-3 2 3 2-1 2 1 2-1 2 2 2-2 2-2 2 2 2 2 2-3 2 1 2 1 2 0 2-2 2 2 2 1 2 1 2-5 2 2 2-1 2 1 2-1 2 1 2 1 2 2 2-1 2 0 2-3 2 2 2-1 2 1 2-1 2 0 2 1 2-1 2 0 2 2 2-1 2-4 2 3 2-1 2 1 2 0 2 0 2 2 2-1 2 1 2-1 2 0 2-1 2 1 2-1M0 -3l2 7 2 0 2-1 2-1 2-2 2 1 2-1 2 2 2-1 2 2 2 1 2-1 2 0 2-2 2 2 2-1 2 2 2 0 2 0 2-2 2 1 2 0 2 1 2 0 2 2 2-2 2 0 2-1 2 2 2-1 2-2 2 2 2 0 2-1 2-1 2 2 2 0 2-1 2 1 2 2 2-2 2 1 2 0 2 0 2-2 2-1 2 0 2 1 2 0 2 0 2-1 2 3 2-2 2 0 2 0 2 0 2-1 2 1 2 0 2 0 2 0 2 0 2 0 2 0 2 0 2-2 2 2 2 1 2 0 2-1 2 0 2-1 2 1 2 0 2 0M0 -4l2 2 2-2 2 1 2 4 2 0 2-2 2 1 2-1 2-1 2-4 2 3 2-3 2 2 2-1 2 3 2 0 2 1 2-2 2-1 2 0 2 4 2-5 2 1 2 0 2 2 2-2 2 1 2-1 2 1 2-1 2 1 2-1 2 2 2-4 2 4 2 0 2-4 2 3 2-2 2 2 2-1 2 3 2 1 2-3 2-1 2 1 2 0 2-1 2 0 2-1 2 0 2 3 2-1 2-2 2 2 2-2 2 1 2 2 2-2 2 3 2-1 2 0 2-1 2-2 2 0 2 1 2 2 2-2 2-1 2 1 2 1 2-1 2 1 2-1 2 1M0 1l2 1 2-1 2-1 2 1 2 1 2 0 2 0 2 0 2-3 2 3 2 0 2 2 2-1 2 1 2 1 2-3 2-1 2 0 2 2 2-2 2 1 2 0 2 0 2 0 2-1 2 1 2 1 2-1 2 2 2 0 2-5 2 2 2 2 2-2 2 0 2 0 2 1 2 0 2 0 2 0 2 0 2-1 2 0 2 0 2 2 2 1 2-4 2 1 2 0 2 1 2 3 2-2 2-1 2 0 2 0 2-2 2 3 2-2 2 0 2 3 2-1 2 0 2-2 2 3 2-3 2 1 2 2 2-1 2 0 2 0 2 1 2-1 2-1 2 3 2-4M0 2l2-1 2 0 2-2 2 3 2 0 2-2 2 1 2-1 2-1 2 0 2-1 2 2 2-1 2 2 2-1 2-1 2 0 2-1 2 2 2 0 2 0 2 0 2 0 2 3 2-3 2 0 2-2 2 3 2 0 2 1 2-4 2-1 2 4 2 0 2 0 2-1 2-1 2 0 2 1 2 0 2-1 2 0 2 3 2-3 2 0 2 3 2-2 2-1 2 1 2 0 2 0 2 1 2-1 2 3 2-2 2 1 2 0 2-3 2-1 2 3 2 1 2-1 2-2 2 2 2 0 2-1 2-3 2 4 2 0 2-1 2 0 2-1 2 1 2 0 2 1M0 -1l2 3 2-2 2-2 2 0 2 2 2 0 2-1 2-1 2 2 2-1 2 0 2-2 2 2 2-1 2 1 2-1 2 0 2 0 2 2 2-1 2 1 2-2 2-1 2 1 2 1 2 1 2-2 2 0 2-1 2 1 2 0 2 1 2-1 2-1 2 2 2 1 2 0 2-2 2 0 2-2 2 1 2 1 2-2 2 2 2 2 2 2 2-3 2 3 2-3 2 0 2-1 2 0 2 1 2-1 2 2 2-1 2-1 2 2 2-2 2 1 2 1 2 0 2-1 2 2 2-2 2-1 2-1 2 1 2 0 2 1 2 0 2-1 2 2 2-1 2 1M0 0l2-1 2-1 2 4 2 0 2 0 2 0 2-4 2 2 2 1 2-2 2-3 2 2 2 1 2-3 2 4 2-1 2 0 2 1 2-5 2 3 2 3 2-1 2-1 2-1 2 0 2 1 2 1 2-2 2 1 2 3 2-1 2-2 2-1 2 1 2-1 2 4 2-1 2-2 2-2 2 1 2 2 2 0 2 0 2-1 2 1 2 0 2-2 2-1 2 1 2 2 2 1 2-4 2 2 2 3 2-3 2-1 2-1 2 4 2-1 2 0 2 0 2-1 2 1 2-3 2 2 2 1 2 0 2 0 2-2 2 0 2 1 2 0 2 0 2 4 2-3M0 -6l2 4 2 1 2 3 2 0 2 2 2-1 2 0 2 2 2 1 2-1 2-1 2-1 2 0 2 0 2 0 2 3 2-2 2-1 2 2 2-3 2 1 2 1 2 0 2-1 2 0 2 1 2 0 2 2 2-2 2 0 2-2 2 0 2 2 2 0 2-1 2 2 2-2 2-1 2 2 2-1 2-1 2 3 2 0 2 0 2-1 2 2 2-4 2 2 2 0 2-2 2 3 2-2 2 3 2-3 2 1 2 0 2-1 2 3 2-3 2 1 2 3 2-2 2-1 2 1 2-2 2 0 2 1 2 0 2 1 2-3 2 3 2 0 2 0 2-2 2 1M0 -4l2 3 2 2 2 2 2-2 2 0 2 0 2-2 2 3 2 2 2 0 2-1 2 1 2-2 2-1 2 2 2-2 2 0 2 0 2 3 2-2 2 3 2-2 2 1 2 0 2 0 2 1 2-5 2 3 2 1 2 1 2-3 2 0 2 1 2 1 2-1 2-1 2 2 2-2 2 0 2 0 2-1 2 0 2 0 2 3 2-1 2 0 2-1 2-1 2 1 2 1 2-1 2 0 2 0 2 0 2-1 2 2 2 4 2-5 2 3 2-1 2-3 2 3 2-1 2-1 2 2 2-1 2-1 2 1 2 0 2 1 2 1 2-3 2-1 2 3 2-5M0 0l2-3 2 3 2 2 2-2 2 2 2-1 2 0 2-2 2 0 2-1 2-3 2 2 2 2 2-2 2 0 2-1 2 1 2 3 2-2 2-1 2 2 2-3 2 1 2 2 2-3 2 1 2 1 2-1 2 3 2-3 2 0 2 2 2 0 2 1 2-3 2 1 2 0 2-2 2 3 2 1 2 0 2-3 2 1 2 2 2 0 2-1 2-1 2 0 2 2 2 1 2-1 2 0 2-1 2 1 2 0 2-2 2 0 2 1 2 0 2 1 2-1 2-1 2 1 2 0 2-1 2 2 2 1 2-3 2 1 2 1 2-2 2 0 2-1 2-1 2 3M0 2l2-2 2 3 2-4 2-1 2 3 2-4 2 1 2 0 2 1 2 2 2-2 2 1 2 0 2 2 2-2 2-2 2 1 2 0 2 2 2-2 2-3 2 2 2 0 2 1 2-1 2 0 2 1 2 2 2-2 2-1 2 3 2-1 2 1 2 1 2-1 2 1 2-1 2-3 2 1 2 1 2-1 2 2 2 0 2-2 2 1 2 0 2-1 2 2 2-2 2-1 2 1 2 0 2 0 2 1 2-2 2 0 2 1 2 1 2 0 2 1 2-1 2 1 2-2 2-1 2 1 2 0 2 0 2 1 2-2 2 1 2 1 2-1 2 2 2-1 2 1M0 4l2-4 2-2 2 1 2 0 2 1 2-2 2-1 2 0 2 0 2 0 2 2 2-1 2-1 2 1 2 2 2-1 2-2 2 0 2 2 2-1 2 0 2 0 2-1 2 0 2 2 2 0 2-2 2 3 2-3 2 3 2-1 2 1 2 0 2-2 2-2 2 2 2 0 2 0 2 2 2-4 2 0 2 3 2-2 2 0 2 1 2 1 2 1 2-1 2 0 2 1 2 1 2-3 2 1 2 1 2-4 2 3 2-1 2-1 2 1 2 1 2-1 2 0 2-1 2 1 2 1 2 0 2 0 2 0 2 1 2-2 2-1 2 2 2-1 2 0 2 2M0 1l2-4 2 1 2 3 2 0 2-3 2 1 2-3 2 2 2 1 2-1 2-1 2 3 2-4 2 3 2 0 2-3 2 0 2 4 2-3 2 1 2 0 2 0 2 0 2-2 2 3 2-4 2 4 2-3 2 4 2-1 2-2 2 0 2 2 2 1 2-3 2 3 2-3 2 3 2-2 2 1 2 2 2-4 2 1 2 1 2 0 2 2 2-2 2-3 2 4 2 1 2-3 2 1 2-1 2 1 2 1 2-1 2 0 2-3 2 1 2 0 2-1 2 3 2-2 2 1 2 1 2 0 2 0 2-1 2 1 2 0 2 0 2-2 2 1 2 1 2 1M0 -3l2 2 2-4 2 5 2-1 2-2 2 0 2 4 2-4 2 0 2 0 2 0 2-2 2 0 2 2 2-1 2 0 2 0 2 2 2-2 2 0 2 0 2 1 2-1 2 0 2 0 2 0 2 1 2-1 2 0 2 0 2-2 2 2 2-2 2 2 2 0 2 3 2 1 2-3 2 0 2-1 2-1 2 2 2-1 2-1 2 0 2 4 2-3 2 0 2 0 2 0 2-1 2 1 2-2 2 3 2-1 2 1 2 0 2-2 2 0 2-1 2 4 2-3 2 0 2-2 2 3 2 0 2-1 2 0 2 1 2 2 2-3 2 1 2 1 2 1 2-2M0 3l2 0 2 3 2-2 2-2 2 1 2 0 2-2 2 0 2-1 2 1 2-1 2 1 2-1 2 0 2 3 2 0 2 1 2-5 2 3 2 0 2 1 2-2 2 2 2-2 2 3 2-2 2-1 2 0 2 3 2-2 2 0 2 2 2-1 2 1 2-2 2 1 2 1 2-3 2 3 2-2 2 0 2 0 2-1 2 1 2 0 2-1 2 1 2 0 2-1 2-1 2 2 2 0 2-1 2 2 2-3 2 0 2 1 2 1 2 0 2 1 2-3 2 1 2 3 2-2 2 1 2-2 2 0 2 1 2 0 2 0 2 1 2-1 2 0 2-2 2 1M0 1l2 0 2-3 2 3 2-2 2-1 2 1 2 1 2-1 2 1 2 2 2-2 2 0 2 0 2-2 2 1 2-1 2 1 2-3 2 1 2 2 2-1 2-1 2 3 2-2 2 1 2 1 2-1 2-2 2 2 2-1 2 2 2-2 2 2 2-1 2 2 2-3 2 2 2-1 2-1 2 0 2-1 2 2 2-1 2 0 2 0 2 0 2 0 2 0 2 0 2 0 2-1 2 1 2 0 2-1 2 1 2 2 2-2 2-1 2 4 2-1 2 0 2 0 2-2 2 2 2-1 2-1 2 2 2 1 2-2 2 1 2-1 2-1 2 1 2 0 2 0M0 0l2 1 2-2 2 3 2 1 2-1 2-1 2 0 2 2 2-1 2-3 2 5 2-2 2 0 2 0 2 0 2 1 2-1 2 1 2-1 2 0 2 1 2 0 2 0 2-1 2 3 2-2 2-1 2-1 2 0 2 1 2 2 2-2 2-1 2-1 2 4 2-2 2 0 2 2 2-2 2 0 2 0 2 2 2-2 2-1 2 0 2 0 2 1 2 0 2-1 2 3 2-3 2 1 2 1 2-2 2 2 2-2 2 2 2-1 2 1 2 0 2 1 2-3 2 3 2-1 2-2 2 0 2 1 2 2 2-2 2 0 2-1 2 0 2 3 2-4 2 3M0 2l2 2 2-5 2 3 2 0 2-1 2 1 2-1 2-2 2 3 2-5 2 1 2 0 2-1 2 2 2 0 2 2 2-1 2-1 2-1 2 1 2 0 2 2 2 1 2-4 2 2 2 1 2-2 2 1 2-1 2 2 2-1 2 1 2-2 2 1 2-3 2 3 2-1 2 1 2 0 2-2 2 2 2-2 2 2 2-1 2 1 2-2 2 4 2-3 2-1 2 1 2 0 2 0 2 2 2-3 2 2 2 1 2 0 2 0 2-3 2 1 2-1 2 3 2-1 2 0 2 0 2 0 2-3 2 5 2-1 2-2 2 1 2 1 2-2 2 2 2-3M0 -2l2-1 2 2 2-1 2 1 2 2 2-1 2-3 2 3 2-1 2-2 2 3 2-1 2-1 2-1 2-1 2 3 2 2 2 0 2 0 2 0 2-2 2 1 2-2 2 1 2-1 2 1 2 0 2 0 2 0 2 0 2 0 2 1 2-2 2 0 2 1 2 2 2-3 2 1 2 1 2 0 2 0 2 0 2-1 2 0 2 0 2 1 2-2 2-1 2 0 2 0 2 0 2 2 2 1 2-1 2-1 2 0 2 0 2 0 2 0 2-1 2 2 2 0 2-1 2 1 2 0 2-3 2 2 2 1 2 1 2-3 2 3 2-1 2 1 2-2 2 1M0 0l2 1 2-2 2 1 2-2 2 6 2 0 2-2 2-1 2 3 2 0 2-1 2 0 2-2 2-2 2 3 2 0 2 1 2 0 2-2 2-1 2 3 2 1 2-3 2-1 2 1 2-1 2 0 2 3 2-4 2 3 2-3 2 2 2-1 2 2 2-2 2 0 2 3 2-2 2 0 2 0 2-2 2 2 2 2 2 1 2-3 2 1 2-3 2 4 2-1 2-2 2-1 2 1 2 1 2 1 2-3 2 2 2 0 2-2 2 4 2-1 2-1 2 1 2 0 2 0 2-1 2 0 2-1 2 3 2-3 2 0 2 1 2 1 2 0 2-4 2 3M0 4l2-3 2 1 2-1 2 0 2 0 2 2 2 0 2 0 2 1 2 0 2-1 2 0 2 1 2-4 2 2 2-2 2 2 2 3 2-4 2 1 2-1 2 2 2-1 2 1 2-4 2 3 2 2 2-2 2-1 2-1 2 3 2-2 2 0 2 1 2 1 2-1 2 1 2 1 2-1 2-1 2-2 2 2 2 0 2-1 2 4 2-3 2-1 2-2 2 5 2-3 2 1 2-1 2 0 2-1 2 3 2 0 2 1 2 2 2-4 2 1 2 1 2-2 2 0 2-1 2 1 2 1 2-1 2 2 2-3 2 0 2 0 2-1 2 3 2-2 2 3M0 1l2 0 2 0 2-1 2 2 2-3 2 4 2-4 2 0 2-2 2 2 2-3 2 5 2-2 2 0 2 0 2 1 2-3 2 3 2-1 2 2 2-1 2-1 2 2 2-2 2 0 2 2 2-2 2 2 2-2 2 1 2-1 2 1 2-1 2 0 2 1 2 0 2-1 2 2 2-2 2 0 2 0 2 0 2 0 2 1 2-2 2 1 2 0 2-1 2 1 2 0 2 1 2 0 2-1 2-1 2 1 2 1 2 0 2-2 2 0 2 1 2 2 2-1 2-1 2-1 2 3 2-2 2-1 2 1 2-1 2-1 2 1 2 1 2 3 2-2 2-2M0 0l2-2 2 0 2 1 2 0 2-1 2-1 2 1 2-1 2 3 2 0 2 1 2-2 2 0 2 0 2 0 2 1 2-1 2-3 2 1 2 3 2-4 2 3 2 0 2 0 2 0 2-4 2 4 2-1 2 1 2-2 2-1 2 3 2 0 2-1 2 0 2 0 2 0 2 0 2 3 2-2 2-1 2 1 2 0 2-1 2 1 2-1 2-1 2 0 2 1 2 2 2-1 2 0 2 0 2-1 2 2 2 0 2-2 2 1 2-1 2-1 2 1 2 0 2 1 2 0 2 3 2-4 2 0 2 2 2-1 2 1 2 1 2 0 2-3 2-1 2 2M0 1l2 2 2-3 2-1 2 2 2 3 2 2 2-4 2 3 2 0 2-2 2 2 2-4 2 4 2-1 2-1 2 1 2 0 2 1 2-2 2 0 2 1 2-1 2 0 2 0 2 1 2 0 2 1 2-1 2-1 2 0 2 1 2-1 2 3 2-3 2 3 2-3 2-1 2 4 2 0 2-4 2 2 2 0 2-2 2 2 2-1 2 0 2 3 2-2 2-2 2 0 2 2 2 1 2-1 2 0 2 1 2-1 2 1 2 0 2-1 2-1 2 1 2 0 2-1 2 2 2 1 2-3 2 1 2-1 2 2 2-3 2 2 2 0 2-1 2 2 2-3M0 -2l2 0 2-1 2 0 2-1 2 2 2 1 2-1 2 2 2-3 2 1 2 2 2-3 2-2 2 0 2 4 2-1 2 0 2-1 2-3 2 3 2-4 2 4 2-1 2 5 2-3 2-1 2 0 2 2 2-1 2-1 2-1 2 1 2-1 2-1 2 1 2 0 2 3 2-1 2-2 2 0 2 2 2 0 2 1 2-1 2 1 2 0 2-2 2 0 2 1 2-2 2 1 2 0 2 2 2 0 2-1 2 0 2 0 2-1 2 0 2 0 2 2 2-4 2 3 2 0 2 0 2-1 2-1 2 2 2 0 2-1 2 0 2 0 2 1 2-2 2 0M0 0l2 1 2 0 2-2 2 0 2 1 2 2 2 0 2 0 2-2 2 3 2-2 2 3 2-4 2 1 2 0 2 2 2 0 2-3 2 1 2 0 2-2 2 3 2-1 2 0 2-1 2 2 2 0 2 0 2-1 2 0 2-2 2 3 2 1 2-1 2 0 2-2 2-1 2 1 2 1 2 2 2-2 2-1 2 0 2 1 2 1 2 0 2-1 2 0 2-1 2-1 2 1 2 1 2-1 2 0 2 1 2 0 2-1 2 0 2 0 2-1 2 1 2 0 2 1 2 1 2-2 2 0 2 0 2 0 2-2 2 5 2-1 2 2 2-1 2-1 2-1" stroke="#000" stroke-width="1.1" fill="none" vector-effect="non-scaling-stroke" stroke-linejoin="round"/>
<path transform="translate(62.00 220.85) scale(1.4200 0.5295)" d="M0 2l2-5 2 1 2 0 2 0 2-1 2 3 2-1 2-4 2 2 2 3 2-1 2 0 2 0 2 0 2 1 2-1 2-1 2 3 2-3 2 1 2 0 2-2 2 2 2-4 2 2 2 0 2 3 2-1 2-2 2 3 2-2 2-1 2 0 2 5 2-2 2 0 2 0 2-1 2-1 2-1 2 5 2-2 2-3 2 1 2 0 2 2 2-1 2 1 2 1 2 0 2-3 2 1 2 0 2 1 2 0 2 1 2-2 2 0 2 0 2 0 2 1 2 0 2 0 2-1 2 1 2 0 2-1 2 1 2 0 2-3 2-1 2 2 2-2 2 4 2-2M0 -1l2 0 2-2 2-1 2 0 2-1 2 1 2 1 2 1 2-1 2-4 2 1 2-2 2 2 2-2 2 3 2 0 2-2 2 2 2 4 2-4 2-2 2-3 2 1 2 3 2-1 2 2 2-2 2 1 2 1 2 0 2-3 2 0 2 0 2 1 2 1 2-1 2-1 2 3 2-2 2-1 2-1 2 2 2 3 2-3 2 1 2 0 2 0 2 0 2-1 2-2 2 1 2-1 2 2 2-2 2 1 2-2 2 4 2 1 2-1 2-4 2 4 2 0 2-1 2-1 2 2 2 2 2-2 2 1 2-3 2 1 2 0 2-4 2 6 2-2 2 1M0 -1l2 2 2 0 2 0 2-2 2 2 2-3 2 1 2-4 2 6 2 0 2 0 2-1 2-1 2-3 2 4 2 3 2-4 2-2 2 3 2-2 2 0 2 2 2-1 2 0 2 2 2 0 2-2 2 1 2-3 2-1 2 3 2 0 2 3 2-1 2-1 2 2 2 0 2-5 2 5 2-5 2 4 2-1 2-2 2 3 2 1 2-3 2-1 2 0 2 1 2-1 2 0 2 1 2-1 2 0 2 0 2 5 2-3 2 3 2-1 2-3 2 0 2 2 2-2 2-1 2 1 2 4 2-5 2 0 2 1 2 3 2 0 2-4 2 0 2 1 2 0M0 6l2-6 2 2 2-1 2 0 2 0 2 0 2 0 2 1 2 1 2 1 2-2 2 1 2-1 2 1 2 1 2-2 2 2 2-1 2 0 2-1 2 0 2 1 2 0 2-1 2 0 2 2 2-1 2-2 2 2 2-4 2 2 2 1 2-1 2 3 2 1 2-2 2 1 2-1 2-2 2 2 2-2 2 0 2 1 2 2 2-3 2 1 2 3 2-2 2 1 2-2 2-2 2-1 2 2 2 1 2-1 2 5 2-6 2 2 2 2 2-4 2 3 2 0 2-1 2 0 2-2 2 1 2 2 2 0 2-1 2-2 2 1 2 0 2 0 2 1 2 1M0 -15l2 8 2-1 2 4 2 4 2 3 2-4 2 0 2 5 2 0 2 0 2 2 2 1 2-1 2-4 2 2 2-1 2 1 2-2 2-1 2 3 2 3 2-1 2-1 2 1 2-2 2 0 2 1 2-4 2 6 2-2 2 2 2 1 2 0 2-1 2-1 2 2 2-2 2 2 2-3 2 2 2-2 2 1 2 2 2 1 2-1 2-4 2 2 2-1 2 1 2 2 2 0 2-4 2 2 2 0 2-2 2 2 2 1 2 1 2-3 2 2 2-2 2 0 2 1 2-1 2 0 2 1 2-2 2 2 2-2 2 2 2 1 2 0 2 0 2 1 2 0M0 1l2-3 2 5 2-2 2 6 2-1 2-5 2 0 2 0 2 3 2-2 2 2 2 1 2 0 2 1 2-6 2 7 2-2 2 0 2 4 2 0 2 1 2-4 2-1 2 1 2 1 2-2 2 4 2-2 2-1 2-3 2 1 2 1 2 3 2-1 2-1 2 1 2 2 2 0 2-4 2 1 2-1 2 3 2-2 2 1 2-4 2 2 2 0 2 0 2 0 2 0 2 1 2 2 2-3 2 3 2-1 2 0 2-1 2-1 2 2 2-4 2 2 2-2 2 2 2 0 2 0 2 2 2-3 2 2 2-2 2 3 2-2 2 2 2-4 2 3 2 0M0 -3l2 1 2 2 2-1 2-2 2 6 2-4 2-2 2 1 2-5 2 2 2 0 2-2 2 1 2 0 2-2 2-2 2 1 2 1 2 0 2 2 2-3 2 3 2 1 2-2 2 3 2-2 2 0 2 2 2-4 2 2 2 1 2 2 2-4 2-1 2 1 2-1 2 2 2 0 2 0 2 0 2-1 2-3 2 3 2-1 2 1 2 0 2 2 2-1 2 0 2-2 2 4 2-4 2 1 2 2 2 0 2-1 2 0 2-1 2-1 2-2 2 1 2 1 2 1 2-1 2-2 2 4 2-1 2 0 2 0 2 2 2 1 2 0 2-4 2 3 2-1M0 4l2-1 2 2 2 0 2-4 2 0 2 1 2 2 2 1 2-2 2 0 2-1 2 0 2 1 2 0 2-1 2 0 2 1 2 0 2-1 2-1 2 4 2-4 2 2 2-5 2 4 2 2 2 0 2 3 2-2 2-1 2 0 2-1 2-1 2-1 2 3 2-2 2 0 2 2 2 1 2-2 2 0 2 1 2 1 2-1 2-3 2 1 2-2 2 2 2-1 2-1 2 4 2-2 2 2 2 0 2 2 2-3 2-3 2 1 2 0 2 2 2-1 2 0 2 0 2-1 2 1 2 1 2 0 2 2 2-2 2-1 2 1 2 0 2-1 2-1 2 2M0 -1l2 2 2 5 2 0 2 4 2 0 2 1 2-2 2 1 2 3 2 1 2-2 2-2 2 2 2-1 2 1 2 0 2-1 2 4 2-3 2 3 2-2 2-1 2 1 2 1 2 0 2-1 2 0 2-1 2 1 2-2 2 1 2 4 2-1 2-2 2-2 2 4 2-1 2 2 2-4 2-2 2 1 2 0 2 1 2-1 2 1 2 0 2-2 2 0 2 1 2 2 2-1 2 0 2-4 2 4 2-3 2 4 2-1 2-2 2 2 2-1 2 2 2-1 2 1 2 0 2-1 2 4 2-4 2 0 2 2 2-4 2 1 2 0 2 0 2 2 2-2M0 11l2 0 2-3 2-3 2 0 2-3 2-1 2-1 2 0 2 0 2 1 2 0 2-3 2 3 2-3 2 1 2 0 2 0 2 0 2 3 2 0 2-2 2-3 2 2 2-2 2 2 2-2 2 0 2 0 2-2 2 2 2 2 2-1 2 2 2-4 2 3 2 0 2-3 2 5 2-2 2-3 2 0 2 1 2 2 2-1 2 1 2-1 2-5 2 2 2 1 2 0 2 2 2 0 2-1 2-2 2 3 2-2 2 0 2 0 2 0 2 3 2-4 2 4 2-3 2 3 2-1 2 0 2 1 2 3 2-1 2-2 2 0 2 0 2 1 2-1 2 1M0 -5l2 5 2 0 2 2 2 5 2 1 2 0 2-3 2 2 2-1 2 2 2-2 2 3 2-5 2 4 2-2 2 0 2-1 2 4 2-2 2 2 2 0 2-2 2 0 2 1 2 1 2-2 2-1 2-1 2 4 2-1 2 0 2-1 2 4 2-3 2 0 2-2 2 1 2 0 2-2 2 3 2 0 2-1 2 0 2 1 2 0 2-2 2 1 2 0 2 3 2 2 2-2 2 0 2-1 2-2 2-1 2 1 2-1 2 1 2 0 2-1 2 3 2-1 2 2 2-3 2 1 2-2 2 3 2-1 2 1 2-3 2 0 2 1 2 2 2 1 2-1M0 1l2 0 2-2 2 1 2-3 2 1 2 3 2-1 2 0 2 2 2-1 2 2 2-1 2-3 2 3 2 2 2-2 2 2 2 0 2-1 2-1 2 1 2-1 2 1 2-1 2 0 2-2 2 3 2 1 2-2 2 3 2-2 2 0 2 1 2 1 2-1 2 3 2-4 2-1 2 1 2-1 2-1 2 2 2 0 2-2 2 3 2-2 2 1 2-2 2 1 2 0 2 5 2-4 2-2 2 1 2 1 2 1 2-1 2 1 2-1 2-2 2 1 2-1 2 2 2 1 2-4 2 0 2 5 2-3 2 2 2-2 2 0 2 2 2-2 2 2 2-1M0 0l2 0 2-2 2 1 2-2 2 3 2-4 2 0 2 0 2-3 2 1 2 0 2-1 2-1 2 4 2-4 2 1 2 3 2 1 2-4 2 0 2 0 2 0 2-1 2 1 2-2 2 2 2-2 2 3 2 0 2 0 2 0 2 1 2-2 2 2 2-2 2-3 2 1 2 0 2 1 2 0 2 0 2 2 2 0 2 1 2-2 2 3 2-4 2 2 2 1 2-1 2-2 2 0 2 0 2 1 2 1 2 0 2 0 2 0 2-2 2 2 2-1 2-1 2 0 2 0 2 0 2 2 2 0 2-1 2 0 2-3 2 2 2-1 2 0 2 2 2 0M0 1l2-1 2 2 2 0 2 2 2 1 2 2 2-4 2 2 2 0 2 0 2-1 2 3 2-2 2 0 2-1 2 3 2-4 2 0 2 1 2 4 2-5 2-1 2 5 2-4 2 2 2-3 2 1 2-2 2 3 2-2 2-1 2 0 2 1 2 0 2 3 2-3 2 1 2-1 2-1 2-1 2 2 2 1 2-2 2 2 2-2 2 1 2 2 2 0 2-1 2 0 2 0 2 2 2 0 2-1 2 0 2 0 2 2 2-1 2-2 2-1 2 1 2 1 2-3 2 2 2 1 2 0 2 0 2-2 2 0 2 1 2 0 2-1 2 3 2-2 2 3M0 0l2 2 2-3 2 2 2 2 2-1 2-1 2 1 2-2 2-1 2 6 2-3 2 0 2-1 2 1 2 1 2 0 2-4 2 3 2 0 2-2 2 2 2 0 2-1 2 2 2-1 2-4 2 5 2-2 2-1 2 2 2-2 2 2 2 0 2-2 2 2 2 1 2-2 2 1 2 1 2 0 2-2 2-1 2 1 2-1 2 2 2 1 2-2 2 1 2 3 2-3 2 1 2 0 2-1 2 1 2-3 2 1 2-1 2 2 2 0 2 1 2-3 2 3 2 1 2-2 2 1 2 1 2-4 2 1 2-2 2 4 2-2 2 1 2-2 2 2 2-1M0 8l2-2 2 2 2-5 2 0 2-2 2 1 2 1 2-2 2 1 2-1 2-2 2 2 2 2 2 0 2-4 2 1 2-3 2 0 2 2 2-2 2 2 2 0 2-1 2 4 2-1 2-1 2 1 2 0 2-1 2-2 2-2 2 6 2 1 2-3 2 3 2-3 2 0 2 1 2-2 2 0 2-2 2 4 2 0 2-2 2-1 2 1 2 1 2 0 2-1 2 2 2-3 2 2 2-2 2 2 2 0 2 0 2 1 2-3 2 2 2 2 2-1 2 2 2-2 2-1 2 4 2-3 2 1 2-1 2-1 2 0 2 2 2 0 2-1 2 0 2-2M0 -2l2 1 2-1 2 1 2 1 2 2 2-2 2 1 2-1 2 0 2 2 2-3 2-2 2 5 2-2 2-1 2 3 2 1 2-1 2-5 2 3 2-2 2 2 2 0 2-1 2 0 2 0 2 1 2 1 2-3 2 3 2-3 2 3 2-2 2-1 2 3 2-1 2 1 2 2 2-2 2-2 2 0 2-1 2 2 2-1 2 0 2 1 2-5 2 5 2-2 2 3 2-1 2-2 2 1 2 3 2-2 2-1 2 1 2 1 2 2 2-4 2 2 2 2 2-1 2-3 2 3 2-2 2 3 2-1 2 0 2-1 2 0 2 1 2 0 2-4 2 4M0 -4l2 4 2 1 2 1 2 0 2 0 2 5 2-1 2-2 2 1 2 3 2 0 2-2 2-5 2 1 2-1 2 2 2 2 2 2 2 0 2-3 2-1 2 2 2 1 2-1 2-2 2 2 2 1 2 0 2-1 2 0 2 0 2 2 2 1 2 1 2-2 2-1 2 1 2-1 2-1 2 0 2 0 2 0 2-1 2 3 2-2 2 3 2-2 2 1 2-4 2 2 2 3 2-4 2 1 2-2 2 4 2-1 2 1 2 0 2-1 2 0 2 0 2-1 2-2 2 1 2-1 2 0 2 3 2-5 2 2 2-2 2 2 2-1 2 0 2 3 2 1M0 -2l2 2 2 2 2-3 2 4 2-1 2-1 2-1 2 2 2-2 2 0 2-1 2 0 2 2 2-1 2-3 2 1 2 4 2-4 2 1 2-1 2 2 2-4 2 5 2 0 2-3 2 2 2 3 2-4 2 0 2-1 2 1 2 1 2-2 2 4 2-4 2 1 2 1 2 1 2 0 2 1 2 2 2-3 2 2 2-2 2 0 2-2 2 2 2 1 2-4 2 3 2-2 2-3 2 3 2 0 2 0 2 0 2 0 2 1 2-1 2-1 2-1 2 2 2-2 2 3 2-4 2 0 2 3 2 2 2-4 2 4 2 1 2-3 2 1 2-1 2 0M0 1l2-1 2 1 2-1 2-2 2 3 2-1 2 0 2 0 2 0 2 0 2 1 2 1 2 3 2-3 2-1 2-2 2 2 2 2 2-2 2-1 2 2 2 2 2-2 2 2 2 0 2 0 2-3 2 1 2-1 2-1 2 1 2 1 2-2 2 2 2 1 2 0 2-2 2 3 2-4 2 0 2 0 2 2 2 0 2-1 2 0 2 2 2 0 2-3 2 1 2 2 2-3 2 2 2-3 2 2 2 0 2 2 2 1 2 1 2-2 2-1 2 3 2-3 2 0 2 1 2-1 2 0 2 2 2 0 2-2 2 2 2-1 2 0 2-1 2-1 2 0" stroke="#000" stroke-width="0.6" fill="none" vector-effect="non-scaling-stroke" stroke-linejoin="round"/>
<path d="M108.7 184.8l0.6 0.3l1.0 0.6l0.7 -0.3M148.9 248.9l1.1 1.0l0.9 -0.2l1.2 1.1M176.1 208.1l1.5 0.5l1.5 0.0M211.2 189.6l1.4 -2.5l1.1 -1.1M156.3 262.3l1.5 -0.4l1.5 -0.4M160.5 199.5l0.9 0.7l1.1 -0.1l1.6 -0.1M209.2 243.9l1.0 2.3l0.9 -0.3M91.7 199.9l1.3 -0.1l0.9 -0.0l1.0 -0.0" stroke="#888" stroke-width="0.7" fill="none"/>
</g></svg>
<rect x="233.5" y="169.5" width="39.20" height="15.50" fill="#c3c3c3"/>
<path d="M65.85 274.15v-4.1M65.85 168.25v4.1M69.40 274.15v-4.1M69.40 168.25v4.1M72.95 274.15v-4.1M72.95 168.25v4.1M76.50 274.15v-4.1M76.50 168.25v4.1M80.05 274.15v-4.1M80.05 168.25v4.1M83.60 274.15v-4.1M83.60 168.25v4.1M87.15 274.15v-4.1M87.15 168.25v4.1M90.70 274.15v-4.1M90.70 168.25v4.1M94.25 274.15v-4.1M94.25 168.25v4.1M97.80 274.15v-8M97.80 168.25v8M101.35 274.15v-4.1M101.35 168.25v4.1M104.90 274.15v-4.1M104.90 168.25v4.1M108.45 274.15v-4.1M108.45 168.25v4.1M112.00 274.15v-4.1M112.00 168.25v4.1M115.55 274.15v-4.1M115.55 168.25v4.1M119.10 274.15v-4.1M119.10 168.25v4.1M122.65 274.15v-4.1M122.65 168.25v4.1M126.20 274.15v-4.1M126.20 168.25v4.1M129.75 274.15v-4.1M129.75 168.25v4.1M133.30 274.15v-8M133.30 168.25v8M136.85 274.15v-4.1M136.85 168.25v4.1M140.40 274.15v-4.1M140.40 168.25v4.1M143.95 274.15v-4.1M143.95 168.25v4.1M147.50 274.15v-4.1M147.50 168.25v4.1M151.05 274.15v-4.1M151.05 168.25v4.1M154.60 274.15v-4.1M154.60 168.25v4.1M158.15 274.15v-4.1M158.15 168.25v4.1M161.70 274.15v-4.1M161.70 168.25v4.1M165.25 274.15v-4.1M165.25 168.25v4.1M168.80 274.15v-8M168.80 168.25v8M172.35 274.15v-4.1M172.35 168.25v4.1M175.90 274.15v-4.1M175.90 168.25v4.1M179.45 274.15v-4.1M179.45 168.25v4.1M183.00 274.15v-4.1M183.00 168.25v4.1M186.55 274.15v-4.1M186.55 168.25v4.1M190.10 274.15v-4.1M190.10 168.25v4.1M193.65 274.15v-4.1M193.65 168.25v4.1M197.20 274.15v-4.1M197.20 168.25v4.1M200.75 274.15v-4.1M200.75 168.25v4.1M204.30 274.15v-8M204.30 168.25v8M207.85 274.15v-4.1M207.85 168.25v4.1M211.40 274.15v-4.1M211.40 168.25v4.1M214.95 274.15v-4.1M214.95 168.25v4.1M218.50 274.15v-4.1M218.50 168.25v4.1M222.05 274.15v-4.1M222.05 168.25v4.1M225.60 274.15v-4.1M225.60 168.25v4.1M229.15 274.15v-4.1M229.15 168.25v4.1M232.70 274.15v-4.1M232.70 168.25v4.1M236.25 274.15v-4.1M236.25 168.25v4.1M239.80 274.15v-8M239.80 168.25v8M243.35 274.15v-4.1M243.35 168.25v4.1M246.90 274.15v-4.1M246.90 168.25v4.1M250.45 274.15v-4.1M250.45 168.25v4.1M254.00 274.15v-4.1M254.00 168.25v4.1M257.55 274.15v-4.1M257.55 168.25v4.1M261.10 274.15v-4.1M261.10 168.25v4.1M264.65 274.15v-4.1M264.65 168.25v4.1M268.20 274.15v-4.1M268.20 168.25v4.1M271.75 274.15v-4.1M271.75 168.25v4.1M62.30 268.85h4.1M275.30 268.85h-4.1M62.30 263.56h4.1M275.30 263.56h-4.1M62.30 258.26h4.1M275.30 258.26h-4.1M62.30 252.97h4.1M275.30 252.97h-4.1M62.30 247.67h8M275.30 247.67h-8M62.30 242.38h4.1M275.30 242.38h-4.1M62.30 237.08h4.1M275.30 237.08h-4.1M62.30 231.79h4.1M275.30 231.79h-4.1M62.30 226.49h4.1M275.30 226.49h-4.1M62.30 221.20h8M275.30 221.20h-8M62.30 215.90h4.1M275.30 215.90h-4.1M62.30 210.61h4.1M275.30 210.61h-4.1M62.30 205.31h4.1M275.30 205.31h-4.1M62.30 200.02h4.1M275.30 200.02h-4.1M62.30 194.72h8M275.30 194.72h-8M62.30 189.43h4.1M275.30 189.43h-4.1M62.30 184.13h4.1M275.30 184.13h-4.1M62.30 178.84h4.1M275.30 178.84h-4.1M62.30 173.54h4.1M275.30 173.54h-4.1" stroke="#111" stroke-width="1.1" fill="none"/>
<rect x="62.30" y="168.25" width="213.00" height="105.90" stroke="#111" stroke-width="1.7" fill="none"/>
<path d="M314.50 167.90V273.80M350.50 167.90V273.80M385.50 167.90V273.80M421.50 167.90V273.80M456.50 167.90V273.80M279.00 247.33H492.00M279.00 220.85H492.00M279.00 194.38H492.00" stroke="#505050" stroke-width="1.05" stroke-dasharray="2 1.7" fill="none"/>
<path d="M279.3 217.1 280.2 212.2 281.1 210.9 282.0 211.1 282.9 211.5 283.8 211.3 284.7 213.0 285.6 215.7 286.5 215.1 287.4 211.3 288.3 209.1 289.2 209.6 290.1 210.1 291.0 210.4 291.9 210.1 292.8 209.7 293.7 208.5 294.6 208.2 295.5 208.8 296.4 206.1 297.3 203.6 298.2 202.8 299.1 203.5 300.0 202.5 300.9 201.2 301.8 200.8 302.7 199.9 303.6 198.9 304.5 198.1 305.4 198.8 306.3 198.4 307.2 197.3 308.1 197.6 309.0 197.3 309.9 197.3 310.8 197.2 311.7 196.6 312.6 195.8 313.5 194.0 314.4 194.4 315.3 193.7 316.2 192.1 317.1 189.1 318.0 185.2 318.9 183.0 319.8 182.4 320.7 183.5 321.6 183.1 322.5 184.1 323.4 183.6 324.3 182.8 325.2 183.7 326.1 183.3 327.0 183.3 327.9 182.3 328.8 180.8 329.7 180.2 330.6 179.5 331.5 179.5 332.4 179.9 333.3 179.5 334.2 179.4 335.1 180.5 336.0 180.6 336.9 181.4 337.8 180.1 338.7 179.4 339.6 179.5 340.5 179.4 341.4 180.7 342.3 180.9 343.2 181.3 344.1 179.8 345.0 177.6 345.9 176.2 346.8 175.1 347.7 175.5 348.6 176.0 349.5 177.3 350.4 175.8 351.3 175.1 352.2 175.1 353.1 174.0 354.0 173.9 354.9 173.8 355.8 173.1 356.7 173.1 357.6 174.5 358.5 174.6 359.4 173.6 360.3 173.2 361.2 173.9 362.1 173.9 363.0 172.6 363.9 173.5 364.8 174.3 365.7 173.7 366.6 173.7 367.5 173.3 368.4 172.4 369.3 172.8 370.2 173.1 371.1 171.2 372.0 170.8 372.9 171.9 373.8 172.3 374.7 171.6 375.6 170.4 376.5 170.8 377.4 171.2 378.3 171.3 379.2 172.3 380.1 172.8 381.0 172.2 381.9 171.1 382.8 170.6 383.7 171.1 384.6 170.9 385.5 171.1 386.4 171.7 387.3 172.3 388.2 173.8 389.1 174.9 390.0 175.2 390.9 175.2 391.8 174.8 392.7 174.5 393.6 173.9 394.5 173.1 395.4 173.2 396.3 173.3 397.2 171.3 398.1 172.7 399.0 174.3 399.9 173.4 400.8 174.1 401.7 175.3 402.6 175.7 403.5 175.9 404.4 175.9 405.3 174.3 406.2 173.8 407.1 175.1 408.0 175.3 408.9 172.9 409.8 173.3 410.7 173.3 411.6 172.3 412.5 172.1 413.4 172.0 414.3 172.0 415.2 172.0 416.1 172.2 417.0 170.3 417.9 170.3 418.8 171.9 419.7 171.7 420.6 172.3 421.5 172.6 422.4 173.1 423.3 172.5 424.2 173.2 425.1 175.2 426.0 174.2 426.9 174.4 427.8 174.3 428.7 173.2 429.6 173.9 430.5 175.6 431.4 176.5 432.3 176.1 433.2 176.7 434.1 177.7 435.0 177.4 435.9 178.7 436.8 179.4 437.7 177.5 438.6 177.0 439.5 176.3 440.4 177.2 441.3 177.9 442.2 178.0 443.1 178.7 444.0 178.7 444.9 178.5 445.8 179.1 446.7 180.5 447.6 180.2 448.5 179.9 449.4 180.1 450.3 180.1 451.2 178.9 452.1 178.7 453.0 179.7 453.9 177.9 454.8 177.0 455.7 178.0 456.6 179.1 457.5 178.8 458.4 180.4 459.3 181.0 460.2 179.7 461.1 181.2 462.0 181.0 462.9 180.9 463.8 182.9 464.7 183.1 465.6 184.4 466.5 184.1 467.4 183.0 468.3 182.3 469.2 182.4 470.1 181.3 471.0 179.5 471.9 180.7 472.8 181.1 473.7 179.6 474.6 177.4 475.5 177.0 476.4 178.8 477.3 179.5 478.2 178.6 479.1 177.7 480.0 179.1 480.9 180.4 481.8 179.8 482.7 180.5 483.6 181.5 484.5 180.9 485.4 180.8 486.3 180.7 487.2 181.4 488.1 182.9 489.0 183.5 489.9 182.3 490.8 182.0 491.7 182.0" stroke="#ff0000" stroke-width="2.4" fill="none" stroke-linejoin="round"/>
<path d="M279.3 173.5 280.1 174.3 280.9 172.8 281.7 175.1 282.5 173.0 283.3 172.9 284.1 171.0 284.9 172.8 285.7 171.2 286.5 170.8 287.3 173.1 288.1 170.9 288.9 171.9 289.7 171.9 290.5 170.5 291.3 172.6 292.1 172.5 292.9 171.2 293.7 171.1 294.5 171.3 295.3 171.3 296.1 170.9 296.9 171.2 297.7 170.6 298.5 170.2 299.3 170.9 300.1 170.9 300.9 171.0 301.7 170.9 302.5 171.8 303.3 170.3 304.1 171.5 304.9 170.2 305.7 171.2 306.5 171.0 307.3 171.2 308.1 170.6 308.9 171.6 309.7 170.1 310.5 170.0 311.3 169.6 312.1 169.0 312.9 169.9 313.7 169.7 314.5 170.0 315.3 170.5 316.1 170.4 316.9 171.7 317.7 169.5 318.5 169.5 319.3 170.8 320.1 171.0 320.9 171.2 321.7 169.8 322.5 169.4 323.3 170.3 324.1 169.4 324.9 170.0 325.7 174.1 326.5 170.7 327.3 171.4 328.1 170.3 328.9 170.9 329.7 170.6 330.5 170.2 331.3 171.7 332.1 170.9 332.9 171.0 333.7 168.8 334.5 171.9 335.3 170.0 336.1 170.7 336.9 171.9 337.7 169.8 338.5 171.3 339.3 169.6 340.1 171.3 340.9 172.9 341.7 170.0 342.5 170.4 343.3 170.2 344.1 169.5 344.9 169.9 345.7 171.2 346.5 170.3 347.3 172.5 348.1 170.9 348.9 170.5 349.7 170.4 350.5 170.5 351.3 171.7 352.1 170.6 352.9 170.6 353.7 171.4 354.5 169.6 355.3 171.5 356.1 170.1 356.9 170.4 357.7 169.5 358.5 169.6 359.3 170.5 360.1 171.4 360.9 170.6 361.7 169.3 362.5 171.3 363.3 169.8 364.1 169.2 364.9 169.1 365.7 170.6 366.5 170.8 367.3 171.2 368.1 171.1 368.9 170.6 369.7 169.4 370.5 169.7 371.3 170.3 372.1 169.3 372.9 170.0 373.7 169.5 374.5 170.8 375.3 170.1 376.1 169.9 376.9 169.5 377.7 170.5 378.5 170.7 379.3 170.7 380.1 171.7 380.9 169.9 381.7 170.8 382.5 169.9 383.3 170.6 384.1 170.2 384.9 170.9 385.7 170.4 386.5 170.1 387.3 170.2 388.1 170.2 388.9 169.2 389.7 169.8 390.5 170.7 391.3 171.7 392.1 169.9 392.9 170.0 393.7 170.6 394.5 171.1 395.3 170.4 396.1 170.2 396.9 172.0 397.7 172.8 398.5 170.2 399.3 170.8 400.1 170.2 400.9 169.8 401.7 169.6 402.5 170.7 403.3 170.5 404.1 171.3 404.9 172.2 405.7 170.1 406.5 171.5 407.3 171.4 408.1 170.2 408.9 171.3 409.7 171.4 410.5 169.8 411.3 171.2 412.1 168.7 412.9 170.3 413.7 171.6 414.5 170.1 415.3 171.1 416.1 170.2 416.9 170.9 417.7 168.5 418.5 170.4 419.3 170.8 420.1 170.6 420.9 169.8 421.7 171.8 422.5 170.6 423.3 172.3 424.1 169.0 424.9 170.2 425.7 169.7 426.5 171.3 427.3 171.2 428.1 171.3 428.9 170.6 429.7 172.0 430.5 171.6 431.3 172.0 432.1 169.9 432.9 170.1 433.7 170.8 434.5 170.5 435.3 170.8 436.1 171.0 436.9 170.4 437.7 171.6 438.5 170.9 439.3 170.4 440.1 170.7 440.9 169.4 441.7 170.4 442.5 170.3 443.3 170.5 444.1 170.6 444.9 170.7 445.7 171.2 446.5 170.6 447.3 171.2 448.1 170.0 448.9 171.8 449.7 171.5 450.5 170.9 451.3 171.2 452.1 170.4 452.9 170.1 453.7 169.7 454.5 168.6 455.3 169.7 456.1 170.5 456.9 169.8 457.7 170.1 458.5 170.5 459.3 170.7 460.1 170.6 460.9 170.8 461.7 171.0 462.5 170.4 463.3 171.7 464.1 171.5 464.9 170.4 465.7 169.0 466.5 170.9 467.3 169.3 468.1 171.1 468.9 171.9 469.7 170.4 470.5 170.2 471.3 169.5 472.1 170.9 472.9 170.3 473.7 169.2 474.5 169.9 475.3 170.1 476.1 170.0 476.9 171.1 477.7 170.5 478.5 169.8 479.3 169.5 480.1 171.0 480.9 171.4 481.7 170.3 482.5 170.0 483.3 171.0 484.1 170.9 484.9 170.2 485.7 170.0 486.5 170.4 487.3 168.9 488.1 170.0 488.9 171.6 489.7 170.6 490.5 170.0 491.3 169.8" stroke="#000" stroke-width="2.1" fill="none" stroke-linejoin="round"/>
<path d="M282.85 274.15v-4.1M282.85 168.25v4.1M286.40 274.15v-4.1M286.40 168.25v4.1M289.95 274.15v-4.1M289.95 168.25v4.1M293.50 274.15v-4.1M293.50 168.25v4.1M297.05 274.15v-4.1M297.05 168.25v4.1M300.60 274.15v-4.1M300.60 168.25v4.1M304.15 274.15v-4.1M304.15 168.25v4.1M307.70 274.15v-4.1M307.70 168.25v4.1M311.25 274.15v-4.1M311.25 168.25v4.1M314.80 274.15v-8M314.80 168.25v8M318.35 274.15v-4.1M318.35 168.25v4.1M321.90 274.15v-4.1M321.90 168.25v4.1M325.45 274.15v-4.1M325.45 168.25v4.1M329.00 274.15v-4.1M329.00 168.25v4.1M332.55 274.15v-4.1M332.55 168.25v4.1M336.10 274.15v-4.1M336.10 168.25v4.1M339.65 274.15v-4.1M339.65 168.25v4.1M343.20 274.15v-4.1M343.20 168.25v4.1M346.75 274.15v-4.1M346.75 168.25v4.1M350.30 274.15v-8M350.30 168.25v8M353.85 274.15v-4.1M353.85 168.25v4.1M357.40 274.15v-4.1M357.40 168.25v4.1M360.95 274.15v-4.1M360.95 168.25v4.1M364.50 274.15v-4.1M364.50 168.25v4.1M368.05 274.15v-4.1M368.05 168.25v4.1M371.60 274.15v-4.1M371.60 168.25v4.1M375.15 274.15v-4.1M375.15 168.25v4.1M378.70 274.15v-4.1M378.70 168.25v4.1M382.25 274.15v-4.1M382.25 168.25v4.1M385.80 274.15v-8M385.80 168.25v8M389.35 274.15v-4.1M389.35 168.25v4.1M392.90 274.15v-4.1M392.90 168.25v4.1M396.45 274.15v-4.1M396.45 168.25v4.1M400.00 274.15v-4.1M400.00 168.25v4.1M403.55 274.15v-4.1M403.55 168.25v4.1M407.10 274.15v-4.1M407.10 168.25v4.1M410.65 274.15v-4.1M410.65 168.25v4.1M414.20 274.15v-4.1M414.20 168.25v4.1M417.75 274.15v-4.1M417.75 168.25v4.1M421.30 274.15v-8M421.30 168.25v8M424.85 274.15v-4.1M424.85 168.25v4.1M428.40 274.15v-4.1M428.40 168.25v4.1M431.95 274.15v-4.1M431.95 168.25v4.1M435.50 274.15v-4.1M435.50 168.25v4.1M439.05 274.15v-4.1M439.05 168.25v4.1M442.60 274.15v-4.1M442.60 168.25v4.1M446.15 274.15v-4.1M446.15 168.25v4.1M449.70 274.15v-4.1M449.70 168.25v4.1M453.25 274.15v-4.1M453.25 168.25v4.1M456.80 274.15v-8M456.80 168.25v8M460.35 274.15v-4.1M460.35 168.25v4.1M463.90 274.15v-4.1M463.90 168.25v4.1M467.45 274.15v-4.1M467.45 168.25v4.1M471.00 274.15v-4.1M471.00 168.25v4.1M474.55 274.15v-4.1M474.55 168.25v4.1M478.10 274.15v-4.1M478.10 168.25v4.1M481.65 274.15v-4.1M481.65 168.25v4.1M485.20 274.15v-4.1M485.20 168.25v4.1M488.75 274.15v-4.1M488.75 168.25v4.1M279.30 268.85h4.1M492.30 268.85h-4.1M279.30 263.56h4.1M492.30 263.56h-4.1M279.30 258.26h4.1M492.30 258.26h-4.1M279.30 252.97h4.1M492.30 252.97h-4.1M279.30 247.67h8M492.30 247.67h-8M279.30 242.38h4.1M492.30 242.38h-4.1M279.30 237.08h4.1M492.30 237.08h-4.1M279.30 231.79h4.1M492.30 231.79h-4.1M279.30 226.49h4.1M492.30 226.49h-4.1M279.30 221.20h8M492.30 221.20h-8M279.30 215.90h4.1M492.30 215.90h-4.1M279.30 210.61h4.1M492.30 210.61h-4.1M279.30 205.31h4.1M492.30 205.31h-4.1M279.30 200.02h4.1M492.30 200.02h-4.1M279.30 194.72h8M492.30 194.72h-8M279.30 189.43h4.1M492.30 189.43h-4.1M279.30 184.13h4.1M492.30 184.13h-4.1M279.30 178.84h4.1M492.30 178.84h-4.1M279.30 173.54h4.1M492.30 173.54h-4.1" stroke="#111" stroke-width="1.1" fill="none"/>
<rect x="279.30" y="168.25" width="213.00" height="105.90" stroke="#111" stroke-width="1.7" fill="none"/>
<path d="M97.50 295.70V401.60M133.50 295.70V401.60M168.50 295.70V401.60M204.50 295.70V401.60M239.50 295.70V401.60M62.00 322.18H275.00M62.00 348.65H275.00M62.00 375.12H275.00" stroke="#505050" stroke-width="1.05" stroke-dasharray="2 1.7" fill="none"/>
<svg x="62.0" y="295.7" width="213.0" height="105.9" overflow="hidden"><g transform="translate(-62.0 -295.7)">
<path transform="translate(62.00 348.65) scale(1.4200 0.5295)" d="M0 -101l1 16 1 7 1 15 1 2 1 5 1 2 1 16 1-2 1 1 1 13 1-1 1 3 1 2 1-4 1 8 1 4 1 0 1-2 1 1 1-3 1 12 1-5 1 4 1-2 1-4 1 11 1-6 1 1 1 4 1-4 1-4 1 2 1-1 1 4 1-5 1 2 1 2 1 11 1-5 1-4 1 0 1 2 1-5 1 3 1 2 1-3 1 5 1 2 1-2 1-4 1 4 1 1 1-1 1 1 1 2 1 7 1-2 1-3 1-11 1-1 1 6 1-7 1 9 1-6 1-3 1 2 1-2 1 1 1 11 1-6 1 1 1 3 1 1 1-9 1 4 1 1 1 4 1-3 1-6 1 2 1 1 1-2 1 1 1 1 1 3 1 2 1-1 1-7 1 0 1 2 1 2 1-2 1 2 1 2 1 3 1-3 1-1 1 4 1-7 1 3 1-3 1 1 1 0 1 3 1 0 1-1 1-3 1-4 1 5 1-5 1 3 1-1 1-4 1-3 1 3 1 5 1-3 1 7 1 0 1-4 1 3 1 3 1-2 1-3 1 0 1-7 1 10 1 2 1-11 1 12 1-3 1-2 1 1 1-4 1-4 1 0 1 7 1-4 1-1 1 4 1-1 1-1 1 7 1-3 1-2 1 3 1-1 1-2 1 2 1 0M0 -90l1 4 1 13 1 2 1 3 1 2 1 13 1 1 1 5 1 3 1 7 1 2 1 4 1-6 1 5 1 8 1 2 1 2 1 5 1-9 1 9 1 2 1 2 1 4 1-5 1 2 1 1 1-1 1 5 1 2 1-2 1-7 1 8 1 7 1-1 1 3 1-4 1-2 1-3 1-2 1 2 1 0 1-1 1 6 1 1 1 3 1-6 1 3 1-7 1-6 1 14 1-3 1 2 1 2 1-4 1 6 1-11 1-4 1-4 1 12 1-1 1-7 1 10 1-6 1-3 1 5 1 0 1-5 1 8 1-4 1-1 1 4 1-1 1 0 1 3 1-6 1 1 1 2 1-1 1 6 1-1 1 4 1-3 1-2 1-4 1 4 1 1 1 1 1-5 1 5 1-8 1 4 1 5 1-7 1 1 1 1 1-6 1 6 1 2 1-5 1 1 1 4 1-2 1 6 1-4 1 5 1 0 1 0 1-5 1 6 1-1 1-5 1-2 1 6 1-6 1-5 1 4 1-1 1 4 1 6 1-8 1 0 1 2 1-6 1 3 1-3 1 3 1 1 1-1 1 2 1-4 1 8 1-2 1-3 1 0 1 1 1-6 1 3 1 0 1 5 1-1 1-4 1 8 1-2 1-4 1-2 1 2 1 0 1 3 1-1 1 3M0 -86l1 7 1 0 1 8 1-2 1 5 1 6 1 2 1 0 1 7 1-7 1 9 1-5 1 3 1 3 1 1 1 8 1 2 1-3 1 4 1 2 1 1 1-3 1 2 1 1 1-4 1 8 1 1 1 5 1-2 1 8 1 0 1 2 1 2 1 1 1 7 1-4 1-6 1 3 1-2 1-1 1-6 1 2 1 4 1-1 1-4 1 5 1 3 1 8 1 0 1-7 1 0 1 0 1 1 1-2 1-5 1 8 1-3 1-8 1 11 1-4 1 5 1-5 1 5 1-1 1 2 1 7 1 1 1-4 1-4 1-4 1-1 1 6 1-6 1 2 1 1 1 0 1 3 1 5 1-5 1-4 1-2 1-1 1 4 1-4 1 7 1-9 1 2 1 3 1 2 1-7 1 4 1 0 1 1 1 0 1-1 1-4 1 4 1 2 1 3 1-3 1 0 1 2 1 4 1-4 1 0 1-2 1-4 1 1 1 8 1-2 1-2 1 2 1 1 1 0 1-1 1-3 1-3 1 2 1 3 1 1 1-3 1 8 1-7 1 9 1-1 1-5 1-2 1-4 1 5 1-1 1 4 1-5 1-3 1 9 1-5 1 3 1 3 1-3 1-3 1 4 1-2 1-5 1-2 1-4 1 6 1-4 1 7 1 5 1-3 1 2M0 92l1-18 1-6 1-11 1-7 1-19 1 2 1-8 1-5 1-3 1-3 1 0 1-4 1-2 1 0 1 5 1 0 1-4 1-1 1-3 1 7 1-8 1-3 1 2 1 2 1 6 1-9 1 3 1 4 1-2 1-4 1-1 1 1 1 4 1-2 1 3 1-2 1 1 1 2 1-5 1 7 1-8 1 6 1-1 1 0 1-2 1 3 1-7 1 5 1-3 1-1 1 4 1-3 1-2 1-2 1 5 1-2 1-2 1 0 1 5 1 1 1 4 1-2 1-4 1-2 1 2 1-1 1-3 1 6 1 3 1-6 1 3 1-6 1 9 1-5 1-2 1 2 1-8 1 10 1-1 1-1 1 2 1 2 1-2 1-4 1 4 1-2 1 0 1-1 1-1 1-8 1 5 1 2 1 2 1-3 1-2 1 7 1 1 1-1 1-4 1 1 1-3 1 5 1-2 1 6 1-3 1 4 1 4 1-1 1-6 1-5 1 12 1-6 1-2 1 3 1 3 1-1 1-2 1-5 1 7 1-6 1 4 1 1 1-4 1 3 1-3 1 0 1 1 1 2 1-5 1 7 1-3 1-3 1-1 1-3 1 4 1-6 1-2 1 8 1-7 1 4 1 3 1-5 1 3 1-2 1 3 1 4 1-4 1-4 1 1 1 7M0 84l1-15 1-14 1-3 1-2 1-6 1-11 1 5 1-10 1 1 1-5 1-7 1 5 1-4 1 4 1 3 1-11 1 4 1-1 1-1 1-2 1-5 1-2 1 2 1 0 1-3 1-4 1-1 1 4 1-1 1 2 1 4 1 1 1-6 1-8 1 11 1 2 1-3 1-9 1 8 1-3 1 2 1-5 1 10 1-10 1 5 1-4 1 1 1-5 1 0 1 7 1-2 1-5 1 6 1-4 1 2 1 2 1 6 1-2 1 0 1-5 1 1 1-1 1-1 1 0 1 2 1-3 1 2 1 2 1 2 1-4 1-2 1 4 1-1 1 1 1 5 1-6 1 1 1 8 1-11 1 1 1 8 1-12 1 4 1 0 1-5 1 7 1-4 1 6 1-1 1 0 1 0 1 0 1 2 1-1 1 3 1-2 1 2 1-6 1 6 1 3 1-7 1-5 1 2 1-1 1-2 1 5 1 0 1-4 1 5 1 2 1-12 1 6 1 6 1-3 1-13 1 9 1-1 1 4 1-2 1-8 1-1 1 4 1-2 1 2 1-1 1 5 1-3 1 8 1 0 1 11 1-3 1-8 1-1 1 5 1-6 1 5 1 4 1-2 1 3 1 0 1-6 1-2 1-4 1-2 1 2 1 1 1-2 1 8 1-4 1 0M0 80l1-10 1-7 1-3 1-11 1 0 1-8 1-7 1-7 1-3 1-5 1 0 1-4 1-4 1 3 1-7 1 4 1 0 1-3 1 0 1-5 1 6 1-5 1-3 1 7 1-9 1 6 1-3 1 5 1-5 1 2 1 5 1 3 1-10 1 7 1-6 1 0 1 0 1 1 1 2 1-6 1 0 1-4 1-1 1 5 1 0 1 10 1 1 1-5 1 4 1-6 1 2 1-7 1 4 1-5 1-4 1 3 1-1 1 1 1 6 1 2 1-9 1 6 1-2 1 3 1-5 1 9 1-5 1-4 1 1 1-1 1 4 1-2 1 4 1-6 1-2 1 3 1-3 1 3 1 1 1-2 1 4 1-2 1-2 1-7 1 7 1 1 1-3 1 7 1 2 1-3 1 3 1-1 1-1 1-3 1 1 1 2 1-7 1 2 1 3 1 1 1-1 1-4 1 7 1-10 1 2 1 4 1-5 1-1 1-4 1 2 1-3 1 9 1-5 1 3 1 3 1 1 1 2 1 2 1-1 1 4 1 2 1-7 1 1 1 7 1-8 1 3 1 0 1 1 1-3 1 1 1 7 1-13 1 1 1 0 1-3 1 4 1-1 1 4 1-5 1 1 1 0 1 9 1 2 1-10 1-9 1 5 1 4 1-1 1 9 1-6M0 72l1-4 1-11 1-4 1-6 1-6 1-4 1-8 1-3 1 0 1-11 1-2 1-8 1 7 1-7 1-4 1 1 1 3 1 0 1-1 1-4 1 2 1-3 1 7 1-6 1 3 1-1 1 3 1-11 1 2 1 5 1-1 1 0 1-4 1 2 1 3 1 1 1 4 1 1 1-1 1 1 1-3 1 5 1-1 1-1 1-9 1 1 1 2 1-2 1 3 1 1 1 3 1-6 1-2 1 2 1 4 1 6 1-11 1 5 1 1 1-2 1-1 1 3 1-1 1 7 1-9 1 3 1-1 1-7 1-1 1 5 1-2 1-4 1 6 1-2 1 2 1 0 1-4 1 6 1 1 1-4 1 2 1-1 1-8 1 1 1 7 1-3 1 4 1 1 1-8 1-1 1 6 1 4 1-2 1 2 1-4 1-3 1 9 1-7 1 2 1 2 1-1 1-5 1 4 1 0 1 0 1 3 1-3 1-5 1 7 1-3 1 0 1-4 1-1 1 2 1 2 1-2 1-2 1 0 1 9 1-7 1 7 1-2 1-1 1-5 1 0 1 2 1-4 1 3 1 0 1 2 1 0 1 2 1 3 1-9 1-2 1 9 1-8 1-1 1-3 1 9 1-1 1 2 1-3 1 6 1 1 1-3 1-1 1 0 1 1 1-3M0 72l1 1 1-12 1-4 1 0 1-2 1-7 1-5 1 0 1-5 1 5 1 0 1-3 1-6 1-8 1 1 1-8 1-6 1 7 1-8 1 1 1-2 1-3 1 10 1-3 1 3 1-9 1 4 1-2 1-6 1 4 1 0 1 4 1-11 1 6 1 1 1-1 1-4 1 8 1-2 1 2 1-2 1-4 1 6 1-9 1 3 1 5 1-5 1-2 1 4 1-4 1 2 1 1 1-4 1-3 1 1 1 1 1-4 1 3 1 3 1-7 1 4 1 4 1 7 1 1 1-7 1 6 1-8 1 6 1-8 1 4 1 0 1-2 1 1 1 2 1-2 1 3 1-4 1-1 1 0 1 1 1 3 1-3 1 5 1-1 1 1 1-5 1-2 1-1 1 0 1 2 1-1 1 1 1 3 1 3 1-5 1-4 1 1 1 3 1-6 1 6 1 3 1-2 1-3 1 2 1-8 1 1 1 7 1-5 1-1 1-6 1 10 1 6 1 3 1-4 1-15 1 12 1-4 1 2 1-4 1 6 1-2 1 4 1 2 1 0 1 0 1-5 1-2 1 5 1-6 1-4 1 6 1 6 1-2 1 1 1-1 1-4 1 1 1-1 1 6 1-2 1-2 1 1 1-2 1 2 1 0 1 2 1-8 1 3 1 0 1 7M0 65l1-2 1 1 1-6 1-9 1-1 1-10 1 6 1-6 1 0 1-6 1 3 1-8 1-2 1 6 1-14 1 0 1 11 1-8 1 4 1-3 1-1 1 2 1-1 1-2 1-9 1 5 1 0 1-4 1-2 1-4 1-4 1 2 1 8 1 2 1-6 1 2 1 2 1-4 1-1 1-2 1 2 1 0 1-2 1 1 1-3 1 3 1 1 1-5 1 6 1-3 1 1 1-2 1 1 1 6 1-7 1 2 1 0 1-3 1 2 1-4 1 6 1-7 1 3 1 2 1-6 1-1 1 5 1-8 1 3 1 4 1-5 1 0 1-3 1 4 1 1 1 0 1-1 1 1 1 3 1-3 1 3 1-1 1-3 1 1 1-3 1 5 1-1 1 6 1-2 1-3 1 0 1 3 1 0 1-4 1 2 1-5 1 6 1-7 1-1 1-1 1 0 1 5 1-3 1 5 1-5 1 3 1-1 1-1 1 3 1-4 1 9 1-2 1 4 1-2 1-6 1-6 1 4 1 2 1-1 1 2 1 4 1 5 1-3 1-1 1-2 1-5 1 4 1 4 1-8 1 5 1-5 1 3 1 2 1 2 1 1 1-5 1-4 1 3 1 2 1-4 1 2 1 2 1-1 1-3 1 6 1 1 1 1 1 1 1-1 1 0M0 -64l1 12 1-1 1 6 1 2 1 3 1 3 1 2 1 7 1-9 1 8 1 6 1-10 1 3 1 11 1-3 1-3 1 3 1 0 1 0 1-2 1 11 1 4 1-4 1-7 1 1 1 9 1-2 1 3 1 0 1-5 1 6 1-1 1 6 1-4 1-2 1 7 1-3 1 2 1-2 1 2 1 0 1 5 1-4 1 1 1-6 1 5 1-3 1 1 1-1 1 10 1-4 1 4 1-2 1-9 1 6 1-7 1 2 1 6 1-1 1 2 1-6 1 0 1 2 1 6 1-8 1 2 1-2 1 1 1-2 1-2 1 2 1 9 1-2 1 1 1 0 1-2 1-1 1-2 1 0 1 2 1-2 1-4 1 11 1 0 1-3 1-4 1 4 1-2 1 0 1 2 1-3 1-2 1 4 1 1 1 5 1-11 1 11 1-12 1 4 1 5 1-4 1-4 1 5 1-1 1 0 1-1 1 1 1 0 1-2 1-3 1-1 1 0 1-5 1 8 1-9 1 13 1-9 1 0 1 5 1 0 1-2 1 12 1-11 1 3 1-9 1 2 1 2 1-5 1 2 1-4 1 4 1-4 1 3 1 3 1 0 1-1 1 0 1-4 1 3 1 3 1-1 1-1 1-3 1 4 1-3 1 1 1 1 1-5 1 7 1-4M0 3l1-4 1 3 1-8 1 7 1-1 1-8 1 13 1-11 1-1 1 2 1 9 1-2 1-5 1 3 1 1 1-1 1-5 1 10 1-5 1 3 1 4 1-5 1-7 1 4 1-5 1 5 1 2 1-3 1 5 1-5 1-2 1 4 1-3 1 5 1 0 1-8 1 0 1 4 1-2 1 3 1-4 1 2 1-3 1 1 1 4 1 2 1-1 1-5 1 4 1 2 1-4 1 4 1 3 1-3 1 2 1-3 1-9 1-1 1 4 1-1 1 1 1-4 1 2 1 0 1 0 1 1 1 2 1-2 1-5 1 4 1 1 1 5 1-3 1-1 1 3 1-7 1 7 1-8 1-1 1-1 1 5 1-6 1 6 1-3 1 5 1-7 1 4 1 0 1 0 1 5 1-5 1 1 1-6 1 9 1-4 1-1 1 5 1-12 1 7 1-2 1 5 1-1 1 2 1-2 1 0 1-4 1 1 1-1 1 5 1 0 1 2 1-9 1 7 1-3 1 7 1-4 1-4 1 2 1 1 1 3 1-7 1 3 1-2 1 2 1 4 1-4 1-10 1 5 1 4 1-3 1 5 1-2 1-5 1 4 1 2 1 3 1-4 1 0 1 5 1-3 1 0 1-3 1 4 1-3 1 2 1-4 1 8 1 2 1-4 1-1M0 15l1-4 1-6 1 4 1 0 1-4 1 1 1 0 1-3 1 3 1 4 1 4 1-1 1-3 1-4 1-2 1 2 1 8 1 1 1-12 1 2 1-1 1-6 1 5 1-3 1 7 1-5 1 1 1 2 1-7 1 11 1-4 1-5 1-3 1-2 1 4 1 2 1-3 1 1 1-2 1 2 1 2 1-2 1 0 1 7 1 0 1 3 1-3 1-1 1 2 1-3 1-5 1 4 1 2 1 0 1-7 1 1 1 9 1-7 1 3 1-5 1 4 1-1 1 0 1 4 1-4 1 7 1-7 1 0 1 3 1-4 1 0 1 1 1 3 1 0 1-2 1 1 1-1 1 0 1-5 1 6 1-2 1-4 1 7 1 2 1-3 1-1 1-3 1 3 1-8 1 6 1 3 1-7 1 9 1 3 1-5 1 6 1-7 1 2 1 1 1-2 1 4 1 0 1-10 1 6 1 3 1 2 1-2 1-3 1 2 1 1 1-6 1-2 1 5 1-1 1 5 1-3 1-5 1 0 1 5 1-2 1 1 1 2 1-3 1 1 1-2 1 2 1-3 1-1 1 2 1-2 1 0 1-1 1 5 1-1 1 0 1-4 1 4 1 3 1-5 1 5 1-3 1 1 1-2 1-2 1 0 1-2 1-1 1 8 1-2 1-3M0 13l1 8 1-5 1-2 1-2 1 10 1-1 1-1 1-9 1 4 1 1 1-4 1 4 1-2 1 2 1-1 1 0 1 0 1-4 1 4 1-4 1 6 1-6 1-1 1 2 1 5 1-7 1-4 1-1 1 4 1 1 1-6 1 4 1 3 1 0 1-2 1 2 1-1 1 5 1-3 1 3 1 0 1 0 1 3 1-3 1-2 1-4 1-2 1-3 1 5 1-4 1 1 1-2 1 4 1-1 1 4 1-5 1 1 1-2 1 3 1-5 1 4 1 3 1 2 1-8 1 0 1 4 1 3 1-4 1-1 1-3 1-3 1 2 1 5 1 3 1 5 1-4 1-4 1 5 1-7 1 8 1-1 1-2 1-3 1-2 1 6 1 3 1-4 1 2 1-8 1 3 1-2 1-3 1 4 1 2 1 1 1 4 1-5 1 0 1-1 1-4 1 2 1-1 1 6 1-7 1-1 1 4 1 3 1-6 1 6 1-2 1-1 1-1 1-5 1 8 1 2 1-4 1 2 1-2 1 5 1 1 1-7 1 3 1-5 1 4 1-4 1 8 1-7 1 4 1-10 1 5 1 0 1 4 1-1 1 5 1-3 1 0 1 2 1 1 1-1 1 1 1 0 1-2 1 1 1-3 1 2 1 2 1-1 1 3 1-3 1 4M0 -5l1-1 1-4 1 4 1-5 1 13 1 0 1-1 1 2 1-7 1 5 1-7 1 2 1 2 1-3 1 3 1-1 1 1 1 2 1 3 1-4 1 2 1 4 1 0 1-2 1 3 1 1 1-6 1 0 1-7 1 2 1 4 1 1 1 3 1-6 1 8 1-8 1-1 1 7 1-10 1 2 1 8 1-7 1-1 1-2 1 1 1 2 1-1 1 5 1-1 1 2 1-2 1 2 1-1 1 0 1 2 1-3 1 0 1-1 1-6 1 14 1-9 1-2 1 2 1 5 1 3 1-3 1-1 1-2 1 1 1-1 1 4 1 1 1 2 1-4 1 2 1-1 1-2 1 4 1-8 1 2 1 7 1-6 1-2 1 1 1-4 1 3 1 3 1-1 1 2 1 4 1-7 1 2 1 3 1-3 1-1 1-3 1 2 1-2 1-2 1 5 1-2 1 1 1-2 1 7 1-9 1 3 1 3 1-2 1 3 1-2 1 0 1-6 1 5 1-3 1 3 1-9 1-1 1 5 1-4 1 3 1 6 1-4 1-7 1 12 1-5 1-4 1 5 1 2 1-13 1 0 1 12 1-5 1 3 1-5 1 1 1 0 1-1 1 8 1-7 1 6 1-4 1-1 1-1 1-1 1-2 1 0 1 4 1-2 1 3 1-2M0 1l1 6 1-9 1 4 1 2 1-6 1 4 1 10 1-7 1 0 1-5 1 5 1-2 1 1 1-4 1 7 1 0 1 0 1-1 1-2 1 10 1-6 1-8 1 0 1 0 1 2 1 6 1-6 1-1 1-2 1 0 1 6 1-5 1-2 1-1 1-1 1-1 1 1 1 4 1-1 1-2 1 4 1 0 1 0 1-2 1 1 1 0 1-5 1 3 1-2 1 4 1 2 1-4 1 8 1-8 1-3 1 5 1-2 1-2 1 7 1 9 1-8 1-2 1 2 1 1 1-4 1 0 1-2 1 5 1 1 1 3 1-3 1 0 1 0 1 0 1-5 1 4 1 0 1 2 1-3 1 2 1 1 1-3 1 4 1-2 1-6 1 2 1 1 1 6 1-2 1 0 1-7 1 7 1 0 1-2 1 0 1 2 1-2 1 1 1-3 1 2 1 7 1 1 1-4 1 0 1 2 1-7 1 2 1 1 1-6 1 4 1-3 1-1 1 8 1-6 1-2 1 0 1 1 1 3 1 0 1-5 1 2 1 4 1-1 1-1 1 2 1 5 1-6 1-1 1 0 1 3 1-4 1 3 1-1 1 3 1-3 1 1 1-2 1-2 1 0 1-2 1 1 1 0 1-2 1 1 1 4 1-6 1 8 1-1 1 1 1 0M0 31l1-2 1 1 1-8 1 3 1 4 1-8 1 3 1-3 1 3 1-1 1-3 1-4 1 2 1-5 1 2 1-1 1 5 1-6 1 5 1-8 1-4 1-5 1 0 1-2 1 5 1-5 1-2 1 5 1 0 1-1 1-4 1 2 1 8 1-7 1 1 1-2 1 1 1 3 1 2 1 1 1-4 1 1 1-6 1 6 1 3 1-3 1 2 1-2 1 0 1 0 1 3 1-5 1-3 1 1 1 3 1 5 1 0 1-2 1-1 1 3 1-1 1 4 1 0 1 0 1-3 1 2 1 0 1-2 1 1 1-4 1-2 1 8 1-4 1 3 1-2 1-3 1 2 1 0 1-1 1 2 1 4 1-10 1-1 1 1 1 0 1 3 1 1 1-1 1-4 1 10 1-3 1 0 1-1 1 0 1-3 1-3 1 5 1 3 1-3 1-2 1-2 1 2 1 3 1-1 1 7 1-2 1-3 1-5 1-1 1 6 1-7 1 2 1 3 1 5 1 0 1-5 1-3 1 0 1 7 1 2 1-8 1 1 1 0 1 1 1-2 1-1 1 2 1 3 1-4 1-3 1 3 1 1 1-1 1 3 1-4 1 1 1-3 1 5 1 0 1-3 1 0 1 0 1 4 1-1 1-2 1-5 1 6 1-2 1 8 1-4M0 -22l1 0 1 7 1-1 1 0 1 3 1-8 1 6 1 0 1 3 1 6 1 2 1-7 1 1 1 0 1-6 1 4 1-5 1-1 1 2 1 2 1 2 1-1 1 0 1 3 1 0 1-6 1 7 1-2 1-2 1 0 1 1 1-4 1-6 1 0 1 10 1 2 1 1 1-3 1-3 1-5 1 4 1 3 1-3 1 5 1-4 1-1 1-5 1 4 1-5 1 9 1-3 1 0 1-1 1 8 1-3 1 0 1 0 1-5 1 2 1 8 1-6 1-1 1 2 1-1 1-1 1-3 1 7 1-2 1 0 1-6 1-1 1 1 1 2 1 2 1-2 1 3 1 2 1-3 1-1 1 2 1-2 1 3 1-2 1 0 1 3 1-7 1 2 1 5 1-6 1 5 1 1 1-3 1 6 1-2 1-3 1-2 1 2 1-1 1 1 1 2 1-5 1 0 1 2 1 2 1-1 1 2 1 8 1-8 1 0 1-1 1-4 1 7 1-7 1-1 1 7 1-4 1-3 1 4 1-2 1-3 1-3 1 7 1 3 1-5 1-2 1-3 1 2 1 0 1 1 1-1 1 2 1-4 1 4 1 5 1-8 1 2 1 6 1-4 1 0 1 0 1-2 1 4 1-4 1 10 1-6 1 2 1-4 1-6 1 11 1-5M0 56l1-5 1-3 1-5 1 5 1-14 1-7 1 4 1-3 1-8 1 2 1 2 1 4 1-7 1 0 1-4 1 0 1 6 1-6 1 3 1 2 1-12 1 10 1 3 1-12 1 2 1 3 1-3 1-3 1 3 1-2 1-2 1 5 1-3 1 2 1-4 1 1 1-1 1 0 1-4 1 1 1-3 1 1 1 1 1-2 1 4 1 1 1 0 1 3 1-3 1-1 1-1 1 4 1-2 1 0 1-1 1-4 1 5 1-9 1 2 1 1 1-1 1 4 1 0 1-1 1-2 1 3 1 1 1 2 1-5 1-1 1-1 1-3 1 5 1 2 1-1 1 4 1-10 1 0 1 10 1-4 1-8 1 8 1-3 1-1 1 5 1 2 1-3 1 1 1 1 1 1 1 3 1-1 1-7 1 6 1-3 1-2 1 0 1-1 1-2 1 2 1-3 1 2 1-6 1 5 1 1 1-1 1-1 1 3 1 2 1-10 1 3 1 5 1-2 1 2 1-4 1 9 1-10 1 0 1-2 1 1 1-1 1-1 1 4 1 0 1 0 1-2 1-1 1-1 1 5 1-9 1 6 1-2 1 3 1-7 1 2 1 3 1-1 1 2 1 3 1-1 1-4 1 0 1 0 1-3 1-2 1 4 1-1 1 0 1 0 1-5M0 -14l1 6 1-10 1-3 1 2 1 0 1 6 1 6 1 3 1 3 1 1 1-1 1-9 1 15 1-11 1 8 1-7 1 0 1 8 1 0 1 0 1 2 1 4 1-4 1 10 1-8 1 2 1-6 1 8 1-2 1-3 1 2 1-5 1 3 1 0 1 3 1-6 1 5 1 3 1-1 1 5 1-2 1 5 1-3 1-3 1 2 1 1 1-5 1 1 1 2 1-10 1 5 1-6 1 1 1-3 1-1 1 2 1 4 1-6 1 5 1-3 1 7 1-6 1-1 1 5 1-4 1 7 1-2 1 0 1-6 1 3 1 3 1-1 1-2 1 2 1 0 1 1 1 1 1 0 1-1 1 1 1-6 1 2 1 3 1-5 1 8 1-6 1 5 1 0 1-3 1 1 1-3 1-4 1 7 1 1 1-3 1-2 1 2 1 2 1 2 1 1 1 4 1-2 1-4 1 4 1-3 1 2 1 3 1-8 1 4 1-3 1 4 1-8 1-3 1 7 1-1 1 0 1 1 1 3 1-2 1-4 1 1 1 0 1 2 1 1 1-2 1 0 1 5 1-2 1 1 1 1 1-3 1 1 1 0 1 5 1-2 1-3 1-6 1 4 1 0 1-2 1 2 1 2 1 1 1 0 1 0 1-3 1-1 1 3 1 0 1-1M0 11l1 3 1 2 1-5 1 6 1-5 1 3 1-9 1-2 1 0 1-7 1 6 1-5 1-8 1 1 1 10 1-14 1 6 1 1 1 1 1-1 1 1 1-1 1 4 1-9 1 5 1-1 1-1 1 5 1-3 1 1 1-1 1 2 1-6 1 10 1-6 1-6 1 2 1 2 1 3 1 0 1 2 1-7 1 2 1-2 1-2 1 3 1-5 1-2 1-5 1 16 1-7 1-3 1-4 1 6 1-1 1 9 1-7 1 2 1 0 1-2 1 4 1-1 1 0 1 2 1 1 1 4 1-4 1-4 1-1 1-2 1 8 1-6 1 4 1-1 1-4 1 9 1-8 1 3 1-2 1-4 1 1 1 6 1-5 1 0 1-5 1 11 1-4 1-1 1-1 1-2 1 8 1-5 1 4 1 0 1-4 1 7 1 5 1-7 1-6 1 3 1-5 1 10 1-9 1 1 1-2 1 6 1-2 1 1 1 0 1 1 1 0 1-2 1 2 1 2 1-1 1-2 1-2 1 6 1-4 1-1 1-1 1 0 1-3 1 4 1-5 1-3 1 8 1-1 1-3 1 3 1-1 1 4 1-4 1-3 1 4 1 2 1-2 1 0 1 7 1-6 1-3 1 8 1-7 1 1 1-2 1 0 1 8 1-5 1 2 1-4M0 39l1-6 1 2 1-6 1 14 1-7 1 1 1 3 1 0 1-9 1-2 1 0 1 0 1 5 1 0 1-13 1 7 1-1 1-5 1 3 1 2 1 2 1 4 1 1 1-3 1-7 1 6 1-7 1 0 1 1 1 1 1 5 1-4 1-1 1 0 1 1 1 1 1-3 1 0 1-3 1 2 1 0 1-3 1-5 1 1 1 0 1 2 1-4 1-5 1-2 1 12 1-4 1-5 1 6 1-4 1 4 1-1 1-1 1-1 1-2 1 0 1 0 1 2 1-2 1 5 1-8 1 1 1 0 1 3 1 1 1-2 1 3 1-1 1-2 1-4 1-1 1 1 1 1 1 4 1-4 1 3 1-6 1 1 1 7 1-3 1 2 1-4 1-4 1 7 1 2 1-2 1-1 1-1 1-3 1-1 1-5 1 5 1 6 1-2 1-2 1-1 1-2 1 1 1 1 1-7 1 3 1 3 1-5 1 7 1-4 1 1 1 3 1-4 1 1 1-3 1 2 1 7 1-5 1-4 1 3 1 2 1-4 1 3 1 0 1 0 1-3 1-1 1 4 1-4 1 6 1-2 1-2 1 1 1-1 1-3 1-3 1 6 1-2 1 4 1-4 1-4 1 2 1 0 1-4 1 10 1 0 1-1 1-5 1 3 1 1 1-2M0 -11l1 0 1-2 1 1 1 3 1 4 1-10 1 2 1 0 1 3 1 7 1-1 1-1 1-4 1 2 1 0 1 5 1-1 1 0 1 2 1-1 1-8 1 6 1 2 1 4 1 7 1 3 1-5 1-2 1-3 1 1 1 1 1-3 1 9 1-6 1-2 1 2 1-5 1-4 1 0 1 1 1-1 1 5 1 2 1-3 1 0 1-8 1 2 1 12 1-9 1 1 1 5 1 1 1 2 1-6 1 3 1-9 1 2 1 4 1-4 1 7 1-1 1-2 1 0 1-2 1 8 1-2 1-8 1 3 1 6 1-4 1 1 1 4 1-5 1 2 1 6 1 0 1-2 1-3 1-3 1 0 1-8 1 12 1-2 1-1 1 2 1 1 1-5 1 6 1-5 1 3 1 2 1-5 1 0 1-5 1 2 1-6 1 3 1 0 1-2 1 6 1 1 1-4 1 2 1-1 1 0 1-2 1 3 1 0 1 3 1-1 1-2 1-4 1 10 1-7 1-1 1 4 1-3 1-1 1 2 1-4 1 3 1-1 1 0 1-1 1 1 1-2 1-2 1 0 1 0 1 1 1 4 1-2 1 0 1-4 1 4 1-3 1-4 1 5 1-4 1 3 1 0 1-3 1 2 1-5 1 5 1 0 1 2 1-4 1 0 1 1M0 -28l1 7 1 1 1-4 1 1 1 2 1 1 1 2 1 2 1-1 1 2 1-1 1 10 1-6 1 6 1-1 1-3 1-3 1 1 1 11 1-3 1-2 1 0 1 2 1-3 1 4 1 0 1 0 1 5 1-2 1 5 1-7 1 7 1 1 1-4 1 2 1-4 1 1 1-1 1 0 1-3 1 10 1-1 1-4 1 3 1-4 1 7 1-11 1 5 1 7 1-4 1-5 1 2 1 2 1-6 1 0 1 7 1 3 1-6 1 3 1-1 1-2 1-2 1 5 1 2 1-4 1 2 1-3 1 4 1 4 1-3 1-9 1 5 1 4 1 0 1-1 1 0 1 4 1-8 1 7 1 4 1-1 1-5 1 5 1-3 1-4 1-2 1 5 1 0 1 3 1-10 1 3 1 8 1-10 1 8 1-8 1 1 1 2 1 1 1-4 1 6 1-2 1 0 1 2 1 2 1 0 1-7 1-1 1 1 1 3 1 3 1 1 1-4 1 1 1 1 1-2 1 3 1-5 1 4 1 4 1-3 1 5 1 0 1-4 1-2 1 0 1 1 1 0 1 1 1-4 1 5 1-7 1-2 1 5 1-3 1 2 1 2 1-7 1 7 1 0 1-1 1-2 1-1 1 5 1-6 1 3 1-3 1 2 1-1 1-2 1 3M0 -3l1-5 1-11 1 12 1 1 1 0 1 2 1 3 1-2 1-2 1-3 1-7 1 8 1-10 1 5 1-7 1 6 1-6 1 10 1-5 1-3 1 3 1 1 1 1 1-1 1 5 1 1 1-3 1-2 1-1 1 2 1-1 1 3 1-3 1-4 1 3 1-3 1 5 1-5 1 4 1-1 1 6 1 4 1 2 1-4 1-5 1 2 1-1 1 4 1-8 1 3 1 5 1 2 1-5 1-6 1 2 1 3 1 5 1-2 1-1 1 1 1 2 1 0 1-5 1 1 1 7 1-4 1-4 1-3 1 6 1-1 1 6 1-3 1-2 1-1 1 4 1 3 1-4 1-10 1 6 1-1 1-8 1 5 1 3 1-1 1 6 1-8 1-2 1 11 1 1 1-8 1-3 1 1 1 3 1-1 1 3 1-3 1 2 1 1 1-3 1-2 1 6 1-4 1 2 1 3 1-1 1 4 1-7 1 2 1 1 1-4 1 6 1-9 1 4 1-1 1 2 1 1 1-7 1 6 1 3 1-3 1-8 1 3 1 4 1-2 1 1 1 2 1 3 1 4 1-10 1 2 1 6 1 1 1-8 1 4 1 0 1 5 1-9 1 1 1-1 1 5 1-8 1 3 1 1 1 10 1-9 1-1 1 8 1-3 1 0 1 0M0 51l1-8 1-1 1-6 1-5 1 2 1-10 1-1 1-3 1-5 1 4 1-5 1 0 1 1 1 1 1-3 1-2 1-2 1-1 1 1 1-2 1-4 1-3 1 2 1 5 1-4 1 0 1-5 1 4 1-2 1 0 1 1 1 3 1 4 1-3 1-1 1-4 1-1 1 4 1 2 1-9 1 0 1 5 1-6 1 3 1 3 1-1 1 2 1 2 1 3 1-12 1 6 1-3 1-3 1 3 1 1 1 0 1 2 1 1 1-2 1-1 1 2 1 1 1 0 1-3 1 0 1 2 1-7 1 4 1 4 1 0 1-2 1-1 1 0 1-3 1 4 1 7 1-5 1-8 1 5 1 0 1-6 1 10 1-3 1 5 1-9 1 7 1-5 1-2 1 6 1-2 1-2 1-1 1 4 1-6 1 9 1-11 1 0 1-2 1 4 1 5 1 3 1-2 1-5 1 1 1 1 1 7 1 0 1-3 1 5 1-9 1 3 1-7 1 2 1-1 1 3 1-3 1 3 1 0 1 2 1 0 1-3 1 3 1-6 1 10 1-2 1-4 1 3 1-1 1 1 1 2 1-1 1 3 1-7 1 2 1-2 1 4 1-6 1 3 1-3 1 4 1 3 1-2 1-1 1 1 1 0 1-2 1 5 1-4 1 1 1 4M0 -16l1-7 1 7 1-1 1 1 1 3 1-3 1 2 1 1 1-1 1-2 1 4 1 4 1-5 1-2 1 5 1-7 1 9 1-8 1 9 1-2 1 1 1-3 1 7 1-6 1 5 1-2 1-2 1 6 1-5 1 0 1 2 1-5 1-2 1 6 1-4 1 8 1 1 1 1 1 0 1-1 1-3 1 7 1-5 1-1 1 4 1-1 1 3 1-4 1-4 1-1 1 6 1-1 1-2 1-1 1-2 1 4 1 7 1-4 1-2 1 2 1-4 1-1 1 7 1-5 1 0 1 4 1 1 1 0 1 0 1 0 1-1 1 4 1-3 1-1 1 1 1 0 1 0 1-2 1-1 1 3 1-3 1-3 1 0 1 5 1 1 1-1 1 4 1 0 1 6 1-8 1 0 1 1 1 4 1-4 1 4 1-3 1-3 1-2 1-5 1 4 1-1 1-3 1-1 1-1 1 4 1 0 1-8 1 2 1 7 1 1 1 1 1-1 1 1 1-1 1-4 1 0 1 2 1 3 1-2 1-2 1 1 1-4 1-2 1-3 1 1 1 0 1 1 1 5 1 1 1-2 1 5 1-4 1-2 1 0 1 4 1-2 1-2 1 0 1 0 1-1 1 2 1 0 1 2 1-1 1-4 1 4 1-8 1 8 1-8 1 8M0 30l1 0 1 4 1-1 1-3 1 1 1 1 1-2 1-2 1-1 1-15 1 2 1-2 1 5 1 2 1-3 1 3 1 6 1-3 1-2 1 5 1 0 1-1 1-6 1-3 1 10 1-7 1 0 1-2 1 4 1-5 1 3 1 7 1-6 1-5 1 11 1-10 1 2 1-2 1 6 1-8 1 1 1 3 1-1 1 1 1 7 1-4 1-6 1 2 1 8 1-10 1-5 1 2 1-2 1 1 1 5 1-6 1 6 1-4 1 3 1 6 1-6 1-4 1-4 1 9 1-1 1 0 1-1 1 2 1 0 1-5 1 4 1 0 1-3 1 7 1-2 1 1 1-3 1 7 1-8 1 2 1 4 1-1 1-5 1 0 1 1 1-5 1 10 1-6 1 4 1-9 1 1 1 6 1-7 1 2 1 2 1-1 1 7 1-8 1 1 1 2 1 3 1 3 1 5 1-6 1 0 1-6 1 1 1-6 1 8 1 2 1-10 1 8 1-1 1-5 1 1 1-3 1-2 1-1 1 0 1 3 1 5 1-2 1 1 1-1 1 4 1-10 1 7 1-3 1 4 1-8 1 5 1 1 1 4 1 3 1-4 1 0 1-3 1 6 1-7 1-2 1-3 1 1 1 11 1-2 1 0 1-2 1 0 1-5 1 0 1 1M0 -40l1 7 1 0 1 4 1 6 1 1 1-2 1 1 1-6 1 7 1-1 1 8 1-2 1-6 1 4 1 6 1-7 1 5 1-2 1-4 1-3 1 11 1-3 1-3 1 4 1 2 1-4 1 3 1-2 1 9 1-4 1 2 1-4 1 4 1-3 1 4 1-2 1 2 1-1 1 1 1 3 1-9 1 9 1-7 1 3 1-1 1-1 1 3 1 6 1-1 1-2 1 2 1-1 1-1 1 0 1 2 1 0 1 1 1-4 1 1 1 2 1-2 1 2 1-1 1 3 1 3 1 0 1 1 1-10 1 6 1 0 1 2 1 4 1 0 1-10 1 4 1-2 1 5 1-2 1 1 1 0 1-2 1 1 1 2 1 9 1-9 1-1 1 2 1 0 1 4 1 0 1-8 1 11 1-4 1-3 1 7 1-9 1 0 1 2 1 2 1-2 1-4 1 3 1-4 1 9 1-2 1 1 1-5 1 2 1-7 1 9 1-5 1 1 1-2 1-1 1 1 1 1 1 2 1 4 1-1 1-3 1 1 1-1 1 6 1-5 1 1 1-6 1 1 1 3 1 2 1-3 1 3 1 3 1-2 1 3 1-7 1 0 1 5 1 1 1-5 1 3 1 2 1 0 1-1 1 0 1 5 1-6 1 1 1 1 1-7 1 9M0 -20l1 4 1 3 1 0 1 1 1 0 1 3 1-1 1 7 1-12 1 7 1 5 1 1 1-1 1 0 1-2 1 5 1 3 1 3 1-2 1-2 1 1 1-2 1-7 1 3 1 2 1-1 1-5 1 9 1-2 1 2 1-2 1-1 1 7 1 0 1 2 1-1 1-4 1 4 1 5 1-3 1-4 1 1 1 1 1-4 1-8 1 3 1 1 1 1 1 4 1 3 1-8 1 8 1-1 1-2 1 0 1 1 1 3 1-3 1-4 1 7 1 6 1-8 1 0 1-2 1 3 1-2 1-5 1 0 1 8 1 3 1-6 1 1 1-2 1 3 1-10 1 9 1-2 1-2 1-2 1-2 1 0 1 3 1-3 1 9 1-3 1 0 1-3 1 5 1 0 1-3 1 4 1-4 1 2 1-7 1 5 1 6 1-3 1 0 1 4 1-5 1 1 1 0 1-6 1 1 1-2 1 2 1 4 1-7 1 4 1-1 1 5 1 0 1 0 1 1 1-1 1 2 1-5 1 8 1-4 1 10 1-5 1-5 1 0 1 4 1 1 1-6 1-6 1 9 1-4 1 0 1 7 1-8 1-1 1 5 1-3 1 0 1 3 1 2 1-5 1 0 1 2 1-3 1-7 1 7 1 0 1 1 1 1 1 1 1-3 1 6M0 13l1-6 1 5 1-1 1-2 1 1 1-2 1 3 1 5 1 4 1 2 1 3 1 0 1-2 1-5 1-1 1-5 1-8 1 5 1 2 1 4 1-6 1 6 1 6 1-7 1 7 1-5 1-2 1 2 1-4 1 7 1 0 1 2 1-3 1 0 1-1 1 1 1 0 1-3 1 3 1-7 1 7 1 6 1-8 1 3 1-4 1 5 1 3 1-2 1-1 1 6 1-5 1-9 1 8 1-3 1 8 1-2 1-1 1 0 1 0 1 0 1-4 1 4 1-3 1 2 1-5 1 6 1-8 1 7 1 0 1-2 1-3 1 0 1 5 1 4 1-5 1-1 1 0 1 8 1-1 1-6 1 7 1-5 1-1 1-9 1 11 1-4 1 0 1 1 1 2 1 4 1-4 1 3 1-5 1-1 1-5 1 5 1 10 1-7 1-3 1 1 1-4 1 5 1-9 1 12 1-6 1 3 1-6 1 2 1 4 1-3 1-8 1 7 1-1 1 3 1 1 1-8 1 7 1-5 1 4 1 2 1-5 1-2 1 4 1 0 1-3 1 0 1-2 1 1 1 0 1 4 1-3 1-3 1 1 1 4 1-6 1 5 1 0 1-6 1 2 1 4 1-1 1-1 1-1 1 5 1-2 1-5 1-2 1 1 1 5 1-8M0 -44l1-11 1 1 1 3 1 5 1 5 1 1 1 7 1-1 1 6 1-7 1 2 1 1 1 0 1-2 1 6 1 6 1-3 1 3 1-1 1 1 1-1 1-1 1 2 1-3 1 4 1-4 1 8 1 0 1 2 1-4 1 1 1 0 1 1 1 1 1 1 1-3 1 1 1-1 1-4 1 5 1 1 1-5 1 4 1 3 1-3 1 0 1-1 1 4 1-7 1 1 1 1 1 5 1-4 1 1 1 1 1-4 1 10 1-1 1-1 1 3 1-12 1 2 1 0 1 6 1-10 1 5 1-2 1-3 1 3 1 8 1-7 1 3 1-3 1 4 1 2 1-6 1-4 1-3 1 9 1-3 1 2 1-6 1 6 1 1 1 2 1-4 1 6 1 0 1-1 1 1 1-1 1 0 1 3 1-5 1 2 1 0 1 8 1-6 1 0 1-1 1-4 1-2 1 4 1-2 1-2 1 5 1-1 1 2 1-1 1-2 1 0 1-3 1 1 1 8 1-7 1-4 1 4 1 2 1 0 1-3 1-3 1 5 1 2 1-2 1-1 1 5 1-4 1 4 1-2 1 0 1 0 1-1 1-3 1 1 1-1 1 0 1-1 1-2 1 4 1-2 1 2 1-1 1 0 1 1 1 1 1-5 1 9 1-5 1 5 1-4M0 -92l1 5 1 8 1 3 1 11 1 10 1 0 1 5 1 10 1-6 1 6 1 5 1 5 1 1 1 3 1 3 1 3 1 2 1 0 1 7 1 4 1 0 1 1 1 3 1-1 1 3 1-8 1 7 1-5 1 1 1 6 1-10 1 7 1-1 1 1 1-3 1 12 1-2 1-5 1-3 1 7 1-5 1 3 1 1 1 5 1-7 1 2 1-1 1-1 1 4 1 1 1-2 1 10 1-5 1 0 1-5 1 0 1-3 1 3 1 3 1-3 1-1 1 4 1-4 1 0 1 2 1-1 1-1 1-2 1 4 1-4 1 2 1-1 1 5 1 3 1-4 1-1 1-2 1 5 1-3 1 4 1 5 1 0 1-6 1-4 1 6 1 2 1-2 1 7 1-8 1-1 1-1 1-3 1 1 1 6 1-3 1-3 1 0 1 2 1 0 1-4 1 3 1 4 1 4 1 2 1-3 1-7 1 3 1-6 1 4 1-3 1 4 1-2 1 2 1-2 1 3 1 1 1-1 1-2 1-3 1-3 1 8 1-4 1 1 1 6 1-1 1 2 1-7 1 5 1-1 1 5 1-10 1 5 1-3 1 4 1-7 1 4 1-5 1-1 1 3 1-3 1 6 1 2 1-7 1 2 1-4 1 5 1-1 1-5 1-4 1 6M0 -22l1 5 1-6 1 5 1-5 1-4 1 6 1 1 1 2 1 5 1-6 1-1 1-1 1 2 1 1 1-3 1 4 1-9 1-3 1 7 1 1 1 4 1 4 1-3 1 7 1-7 1-3 1 0 1 4 1 6 1-4 1-4 1 4 1 2 1 2 1-5 1 3 1-3 1 2 1-1 1 3 1 8 1-11 1-3 1 4 1 2 1 1 1 4 1-8 1 6 1-2 1 11 1-9 1 2 1-3 1 1 1 5 1-12 1 9 1-4 1 1 1 0 1-5 1 7 1-6 1 6 1-2 1 0 1 3 1-3 1 1 1 3 1-3 1-4 1 4 1 2 1 1 1-4 1 2 1-3 1-5 1 2 1 8 1-3 1-2 1-5 1 7 1 0 1 0 1 1 1-1 1 4 1-1 1-1 1 5 1 0 1-4 1-2 1 2 1-3 1-1 1 2 1-5 1 8 1-6 1 7 1-6 1 3 1 3 1-4 1-3 1 0 1 0 1 4 1 4 1-5 1-2 1 3 1-9 1 5 1 0 1-8 1 9 1-4 1 1 1 1 1 1 1-3 1 5 1 1 1-3 1-4 1 6 1 1 1-3 1 8 1-3 1-3 1 2 1-2 1-1 1 8 1-4 1 1 1-2 1-6 1 11 1-3 1-1 1 2 1-6M0 42l1-1 1 0 1 0 1-3 1 1 1-2 1-1 1-5 1 4 1-6 1 8 1-6 1 8 1-2 1-3 1 0 1-2 1 3 1-3 1-2 1-2 1 3 1-3 1-4 1 6 1-1 1-4 1 3 1 1 1-2 1-5 1-3 1 6 1-5 1 2 1 2 1-3 1-3 1 5 1-8 1 4 1-6 1 2 1 1 1-1 1 4 1-4 1 2 1-11 1 13 1-1 1-11 1 6 1 6 1-6 1 5 1-5 1 0 1 0 1-4 1 1 1-1 1 6 1-9 1 9 1 2 1-1 1-6 1 1 1 0 1 1 1-1 1-1 1-2 1 2 1-4 1 3 1-3 1 4 1-5 1 0 1-1 1 0 1 0 1 5 1 3 1 1 1-7 1-4 1 2 1 2 1-2 1 3 1-1 1-1 1 1 1 1 1 2 1 0 1 0 1 1 1 2 1-8 1 3 1-6 1 3 1 0 1-5 1 2 1-3 1-3 1-2 1 5 1 1 1 2 1-3 1 7 1-4 1-2 1 5 1-3 1-1 1-1 1-2 1 4 1-8 1 4 1-3 1 4 1 5 1-5 1-4 1-2 1 7 1 2 1-1 1-2 1-6 1-4 1 6 1-3 1-2 1 2 1 2 1-5 1-1 1 6 1 7 1-10 1-1M0 -22l1-4 1-1 1 1 1 3 1-3 1 7 1 2 1-2 1 4 1-1 1-1 1 1 1-2 1 8 1-5 1-5 1 2 1 8 1-1 1 3 1-1 1 0 1-2 1-4 1 8 1-3 1-3 1 8 1 0 1 0 1 1 1-3 1-2 1 4 1 0 1-3 1 12 1-3 1 1 1-5 1 1 1 5 1-6 1 0 1-1 1 7 1 0 1-7 1 1 1-2 1 9 1-6 1 1 1 0 1 3 1-2 1-2 1-1 1 4 1-4 1-3 1-4 1 0 1 4 1 3 1 0 1 1 1-7 1 1 1-1 1 5 1 0 1-5 1 11 1-4 1-3 1 0 1 9 1-7 1 0 1 0 1 2 1-4 1 9 1-6 1 3 1-4 1-1 1 5 1 2 1-1 1 3 1-1 1-3 1 3 1-4 1 7 1 2 1-5 1-4 1-4 1 2 1 1 1-6 1 5 1 4 1 1 1-2 1-1 1 6 1-4 1-7 1 8 1-1 1-7 1 2 1 0 1 4 1 3 1-6 1 4 1-3 1 3 1-6 1 3 1 4 1-6 1 3 1 2 1 3 1-7 1 4 1-9 1 11 1-4 1 0 1 5 1-2 1-2 1-5 1-1 1 8 1-5 1 6 1-2 1 3 1-1 1 1 1-8 1 7M0 -81l1 9 1 11 1 3 1-3 1 12 1 3 1-4 1 15 1 2 1-3 1 8 1 5 1 3 1-1 1-5 1 7 1 0 1 2 1 0 1 6 1-6 1 6 1-3 1-1 1-1 1 3 1 6 1-2 1-6 1 0 1 3 1-7 1 5 1-2 1 10 1-2 1 1 1 3 1-3 1 7 1-1 1-1 1 0 1-4 1 9 1-10 1 1 1-2 1 5 1-4 1 3 1-1 1 3 1-3 1 3 1-2 1 4 1-3 1 5 1-4 1 3 1-3 1 5 1-2 1 1 1-2 1-3 1 0 1 6 1-7 1 1 1 5 1-2 1-7 1 3 1 4 1-1 1 2 1 0 1-8 1 6 1 5 1-4 1 0 1-2 1 1 1 3 1 6 1-4 1-1 1-6 1 0 1 1 1-2 1 3 1 0 1-4 1 1 1 3 1-2 1 3 1 3 1-4 1 0 1-3 1-1 1 0 1 2 1 3 1 6 1-9 1-1 1 6 1 0 1-7 1 12 1-4 1-6 1 2 1 2 1 4 1-8 1 2 1 1 1-4 1 8 1-3 1 5 1-1 1-3 1 1 1-7 1 8 1-6 1 1 1 5 1-3 1 5 1-7 1-4 1 4 1 3 1 1 1-1 1-6 1 3 1-1 1 3 1-9 1 4M0 -48l1 7 1 6 1 1 1 2 1 2 1 4 1 0 1-4 1 3 1 8 1-2 1 6 1-2 1-1 1-8 1 12 1-5 1 0 1 10 1-4 1 1 1 3 1-3 1-2 1 6 1-9 1-7 1 12 1 3 1-9 1 2 1 4 1 2 1-2 1 9 1-5 1 2 1-3 1 2 1 0 1-3 1-1 1 4 1 11 1-6 1-4 1 4 1-10 1 8 1-3 1 2 1-2 1 1 1-3 1 4 1-6 1 1 1 3 1 6 1-2 1-5 1 5 1 1 1 3 1 1 1-1 1 0 1 0 1 0 1-2 1-1 1 2 1-1 1-4 1 2 1 0 1-9 1 11 1-1 1-6 1 8 1 0 1-6 1 3 1 5 1 0 1-6 1 4 1 2 1-8 1 3 1-1 1 4 1-10 1 6 1 6 1 1 1-4 1-5 1-1 1 10 1-4 1-2 1 6 1-5 1 1 1-2 1 3 1-6 1 3 1 4 1 4 1-5 1-2 1 1 1 1 1-6 1 1 1 3 1 2 1-2 1-2 1-1 1 3 1-4 1 4 1 0 1-6 1 4 1 3 1-2 1-1 1 3 1 0 1 1 1 2 1-2 1 1 1-5 1 1 1 1 1 4 1-3 1-7 1 5 1 0 1 0 1 1 1 0 1-3M0 13l1-4 1-1 1 5 1-3 1 5 1 3 1-10 1 7 1-8 1 5 1 0 1 3 1-1 1-3 1-1 1 3 1 1 1-7 1-3 1-2 1-6 1 5 1 1 1 2 1 1 1 1 1-3 1 1 1 0 1-1 1-2 1 9 1-5 1-6 1 8 1-1 1-1 1-10 1 7 1 2 1 4 1-12 1 7 1-4 1 6 1-2 1-3 1 0 1 3 1-2 1 1 1-3 1 0 1 2 1-9 1 8 1-1 1 6 1 2 1-4 1-1 1 3 1-7 1 9 1-6 1 7 1-3 1 6 1-9 1 8 1-5 1-4 1 6 1-6 1 3 1-7 1 0 1 7 1-2 1 0 1 0 1 2 1 8 1-10 1 2 1-6 1 5 1 0 1 2 1-1 1 0 1 0 1-3 1 4 1 6 1-6 1 2 1-2 1-1 1-6 1 9 1-7 1 0 1 1 1 1 1-3 1-3 1 0 1 8 1-2 1 0 1 1 1-5 1 3 1-5 1 5 1-2 1-2 1 1 1 0 1 1 1 0 1 6 1-4 1 7 1-12 1-1 1-1 1 1 1 2 1-1 1-4 1 0 1 2 1 2 1-3 1-1 1 5 1-6 1-5 1 4 1 0 1 8 1-8 1 3 1-1 1 3 1-4 1 1 1-3M0 11l1 1 1-4 1 3 1 2 1-3 1 1 1 4 1-5 1-2 1-1 1 5 1 2 1-4 1 0 1 1 1-4 1-1 1 3 1 0 1 8 1-13 1 11 1-5 1-2 1 0 1-5 1 0 1-1 1 8 1-8 1-3 1 4 1-4 1 2 1-1 1-2 1 5 1-2 1-5 1 6 1-3 1-1 1 3 1-1 1 1 1-3 1-6 1 3 1 0 1 6 1-4 1-1 1-2 1 10 1-1 1-4 1 0 1 2 1 3 1 2 1-4 1-3 1 5 1-7 1-3 1 5 1 1 1 4 1-2 1-2 1-4 1 3 1 1 1 1 1-3 1 0 1 1 1 2 1 0 1 11 1-11 1-2 1 4 1-2 1 0 1 1 1-3 1 6 1-2 1-6 1 9 1-7 1 4 1 1 1 3 1-1 1-6 1 6 1 1 1-11 1 10 1 2 1-4 1-2 1 2 1-2 1-2 1 2 1-3 1-2 1 2 1 3 1 2 1-3 1-3 1 3 1 0 1 3 1-5 1 8 1-1 1-1 1-1 1-2 1 3 1-1 1-2 1 0 1 7 1-8 1 3 1 1 1 0 1-11 1 9 1 3 1-8 1-2 1 0 1 5 1-7 1 4 1-2 1-3 1 6 1 3 1-5 1 2 1-1 1 0M0 -49l1 4 1 3 1-7 1 11 1 2 1 10 1 3 1 0 1-2 1 2 1 10 1 0 1 2 1 4 1 1 1-1 1-4 1 6 1-3 1 0 1 1 1-2 1 0 1 2 1-2 1-1 1 3 1-3 1 10 1-8 1 6 1-1 1 0 1-1 1 0 1 7 1-2 1-1 1 2 1 0 1 1 1-3 1 6 1-3 1-6 1 3 1 1 1 4 1-3 1-2 1-1 1-1 1 3 1 2 1-5 1 2 1-2 1 2 1 8 1-5 1 2 1 0 1-3 1 0 1-4 1 3 1-6 1 4 1 4 1-3 1 1 1 0 1 5 1-9 1 8 1-4 1 7 1-1 1-4 1 2 1-6 1 4 1-3 1 3 1 1 1-4 1-2 1 7 1-7 1 7 1-2 1-1 1-1 1 0 1 0 1 4 1-4 1 1 1-1 1 3 1-1 1 8 1-6 1-5 1 3 1 2 1-3 1 0 1 0 1-1 1 4 1-4 1 3 1-3 1-4 1 7 1 0 1 6 1-4 1 1 1-3 1 5 1-2 1-1 1 1 1 0 1 6 1-2 1-6 1 2 1-4 1-4 1 2 1 2 1 1 1-2 1-2 1 2 1 2 1-4 1-2 1 9 1-5 1-2 1 3 1-2 1 3 1-1 1 1 1-4M0 -36l1 2 1-4 1 2 1 3 1 1 1 3 1-1 1-6 1 7 1 2 1 1 1-4 1-4 1 8 1 3 1-1 1-4 1 5 1 5 1-7 1-2 1 2 1-8 1 6 1 2 1 3 1-2 1 2 1-5 1-1 1 1 1 5 1 9 1-1 1 2 1-6 1 4 1 1 1-1 1-7 1 4 1 7 1-8 1 6 1 1 1 1 1-6 1 9 1-6 1 4 1-3 1 2 1-2 1-10 1 14 1 0 1-2 1 3 1-6 1 1 1 8 1-7 1-3 1 0 1 5 1 1 1-1 1 0 1-2 1 7 1-8 1 0 1 5 1 0 1 0 1-4 1 3 1-3 1 3 1 2 1-3 1 4 1-4 1 1 1-6 1 5 1 2 1-2 1-3 1 2 1 0 1 2 1-4 1 1 1-9 1 2 1 6 1 3 1-2 1 0 1 0 1 2 1-2 1 3 1 3 1 4 1-10 1 2 1 5 1-6 1-4 1 6 1 3 1-2 1-7 1 7 1-1 1-2 1 5 1-1 1-1 1-1 1 3 1-2 1 2 1-8 1-1 1 6 1 0 1 3 1-5 1 0 1 3 1-3 1-2 1 5 1-2 1 4 1 0 1-3 1-2 1 2 1 5 1-2 1 0 1-8 1 8 1 1 1-4 1 1M0 -68l1 0 1 6 1 8 1 4 1 6 1 4 1 4 1-8 1-1 1 2 1 0 1 8 1-1 1 0 1 8 1-4 1 4 1 2 1 0 1-1 1 3 1-1 1-7 1 1 1 4 1-2 1-1 1 2 1 4 1 9 1-8 1-4 1 7 1 2 1-3 1 7 1 0 1 7 1-7 1 3 1 3 1-3 1 5 1-2 1-2 1 3 1 1 1-6 1-3 1 9 1-3 1-4 1 6 1-6 1 2 1 4 1-4 1-1 1 4 1-3 1 3 1-1 1 1 1 3 1-1 1 1 1 6 1-2 1 2 1-1 1 1 1-1 1-5 1 9 1-2 1-2 1 4 1 3 1-3 1-4 1-6 1 6 1 5 1-3 1 3 1-12 1 9 1 2 1-4 1-2 1 3 1-7 1 3 1 4 1 0 1-5 1 5 1 0 1-1 1 3 1 6 1-3 1-1 1-7 1 3 1-1 1 0 1-3 1 0 1 0 1-1 1 4 1-9 1 7 1-5 1 6 1 1 1-6 1 3 1 1 1-2 1-1 1 1 1-2 1 1 1-6 1 0 1 1 1 1 1 1 1 0 1-3 1 1 1 2 1 0 1 1 1 2 1-3 1 3 1 3 1-8 1 4 1 1 1 0 1-1 1 0 1-3 1-2 1-2 1 1M0 -3l1-1 1 2 1-2 1 6 1-2 1-4 1-5 1-5 1 1 1 7 1 0 1 3 1-6 1-2 1 3 1 7 1 3 1-1 1 1 1 1 1 10 1-12 1 11 1-9 1-2 1 5 1-4 1 1 1 1 1-7 1 3 1 1 1-9 1 13 1-9 1 4 1-1 1 3 1-2 1-1 1 3 1 1 1 3 1 4 1 2 1-3 1-5 1-4 1 4 1 3 1-4 1 5 1-2 1-1 1 0 1-3 1 3 1-5 1 4 1-3 1 0 1 5 1 1 1-2 1 4 1-4 1 0 1 6 1-1 1-5 1 1 1 0 1-4 1 1 1 6 1-2 1 1 1 2 1-5 1 2 1 1 1-4 1-2 1 1 1-4 1 5 1 4 1-2 1-2 1 1 1-3 1-6 1 4 1 3 1-1 1-2 1 7 1 3 1-1 1 1 1 5 1-8 1 3 1-1 1-2 1-1 1-4 1 7 1-3 1-2 1 1 1 2 1-2 1-4 1-2 1 9 1-5 1 2 1 0 1 2 1 2 1 0 1-2 1 6 1-2 1 0 1-8 1 3 1 1 1-2 1-2 1 3 1 6 1-10 1 6 1-7 1 2 1 3 1-2 1 1 1 2 1 1 1 0 1 3 1-1 1 3 1-2 1-4 1 0 1 3M0 12l1-4 1 7 1 0 1-3 1-1 1-9 1 9 1-2 1 3 1-6 1-5 1 0 1 9 1-1 1-5 1 6 1-11 1 2 1 5 1-4 1 0 1 3 1 2 1-6 1 8 1-5 1-5 1 3 1 0 1-6 1 1 1 2 1 2 1-2 1 4 1-2 1 3 1-3 1 1 1-1 1-2 1 4 1-1 1-1 1 0 1 0 1 0 1-2 1 4 1-3 1-9 1 6 1 2 1-1 1 6 1-1 1 0 1-5 1 5 1-2 1 2 1 2 1-5 1-3 1 3 1 4 1-3 1 6 1 1 1-7 1 2 1-1 1-5 1 4 1-2 1 0 1 3 1-1 1-1 1 3 1-3 1 3 1 1 1-2 1-4 1 5 1-6 1 2 1-4 1 7 1 0 1-2 1 3 1 0 1 0 1-3 1 1 1-4 1 6 1-2 1 1 1 1 1-1 1-4 1 0 1 4 1-1 1-1 1 1 1 1 1 5 1-9 1 1 1 0 1 1 1 2 1 0 1-2 1 9 1-11 1 8 1-9 1 6 1 0 1-5 1 2 1-2 1 0 1 1 1-6 1 7 1-1 1 7 1-6 1 3 1 1 1 2 1-3 1-4 1 1 1 4 1-1 1 0 1-2 1 5 1-3 1 0 1-1 1-1 1 2M0 2l1 2 1 4 1-3 1-7 1 7 1 2 1-2 1-7 1 3 1-1 1 0 1-4 1 10 1-7 1 6 1-6 1-1 1-4 1 1 1-3 1 6 1 0 1 2 1 2 1 5 1-4 1 11 1-7 1 3 1-8 1 2 1 1 1 0 1-2 1 8 1-5 1-1 1 0 1 10 1-4 1-5 1 4 1-4 1-5 1 5 1 0 1-1 1-1 1-4 1 9 1 5 1-11 1 4 1-2 1-2 1-1 1 5 1-8 1 9 1-1 1 2 1-9 1 9 1-4 1 1 1 6 1-9 1 3 1-5 1 4 1-1 1-3 1 5 1-1 1 4 1-7 1 6 1-6 1-4 1 5 1 1 1-1 1-2 1 6 1-6 1 3 1-1 1-3 1 0 1 2 1 1 1-1 1 2 1 0 1-1 1 1 1-2 1-4 1 4 1-4 1 1 1 7 1-1 1-6 1 6 1-3 1 4 1-4 1 4 1-3 1 1 1-2 1 3 1-1 1-2 1-1 1 3 1 1 1 3 1-2 1-3 1 0 1 7 1-2 1-5 1 7 1-8 1-1 1 4 1 2 1-1 1 5 1-3 1 2 1 0 1-4 1 12 1-6 1-8 1 4 1-4 1 2 1 0 1 5 1-2 1 1 1-4 1 6 1-6 1 0M0 -49l1-3 1-2 1 6 1 3 1-1 1 8 1 0 1 2 1 0 1 6 1-2 1 6 1-1 1 4 1-4 1 0 1 6 1 2 1-1 1 2 1 0 1 2 1-1 1 3 1 1 1 1 1 3 1-10 1 7 1 0 1 0 1 1 1-1 1 1 1-2 1 6 1 5 1-7 1 3 1 3 1 2 1-3 1 4 1-4 1 2 1 1 1-4 1 5 1 1 1 5 1-8 1 7 1-7 1 1 1 2 1-6 1 4 1 1 1 1 1 1 1-1 1-1 1 0 1 0 1 3 1 5 1-6 1 1 1 4 1-6 1-4 1 6 1-8 1 8 1-4 1 1 1 3 1-7 1 5 1-1 1 9 1-7 1 1 1 0 1-5 1-2 1 5 1 4 1-9 1-3 1 15 1-7 1-3 1 3 1-1 1-1 1 2 1-2 1 0 1-4 1 6 1-7 1 3 1-5 1 1 1 1 1 0 1 4 1-7 1 8 1-3 1 1 1-5 1 5 1-1 1 1 1-4 1-1 1 0 1-1 1-1 1-3 1 3 1 7 1-4 1-1 1 1 1-2 1 6 1 0 1-5 1 0 1 2 1-2 1 1 1 3 1-7 1 6 1 1 1-5 1 2 1 1 1-5 1-2 1 3 1 0 1 0 1-2 1 0 1-1M0 -47l1 9 1-5 1 3 1 8 1-3 1 2 1-1 1 3 1-2 1 3 1 6 1-10 1 5 1 8 1 2 1-6 1 4 1-6 1 6 1-3 1 3 1 4 1 1 1-7 1 4 1 0 1-3 1 4 1-3 1 0 1 3 1-5 1 7 1 3 1-1 1-1 1 8 1-9 1-3 1 7 1-1 1-3 1-1 1-3 1 8 1 7 1-9 1 3 1 1 1-1 1 2 1-6 1 3 1 5 1-2 1 1 1-6 1 7 1-8 1 4 1 1 1-3 1 3 1-4 1 9 1-2 1-2 1 7 1-1 1-7 1 3 1 5 1 2 1 0 1-6 1 0 1-4 1 7 1-3 1 8 1-6 1-3 1-5 1 8 1-3 1-1 1-2 1 3 1 1 1 3 1 0 1-1 1-7 1 6 1-2 1 2 1 1 1 2 1 1 1-2 1 0 1-2 1-3 1 1 1 2 1-5 1 2 1 1 1 6 1 0 1-6 1-2 1 2 1 0 1 2 1 0 1-3 1 5 1-4 1-1 1 8 1-6 1-1 1 2 1 3 1 0 1-2 1 3 1-1 1-3 1 3 1-4 1 8 1-3 1-6 1 3 1 6 1-4 1 5 1-9 1 7 1 1 1-3 1 0 1-3 1-1 1 1 1 1 1-6 1 0M0 -94l1 13 1 7 1-4 1 7 1 7 1 0 1 6 1 2 1 10 1 1 1-5 1 6 1 2 1 0 1 3 1 1 1 3 1 6 1-1 1-1 1 1 1 4 1 2 1 2 1 0 1 2 1 0 1-5 1 3 1 7 1 4 1-11 1 6 1 5 1-8 1 7 1-1 1-3 1 1 1 1 1 7 1-7 1 0 1-1 1 2 1-2 1 1 1 1 1-1 1 6 1-5 1 5 1 0 1-5 1 7 1 0 1-1 1 0 1-3 1 0 1 8 1 0 1-6 1-2 1 7 1-3 1-3 1 3 1 0 1-3 1-6 1-1 1 4 1 4 1 3 1-1 1-5 1 1 1-2 1 3 1 2 1-1 1-8 1 0 1 4 1-4 1 9 1-4 1-1 1 1 1-3 1-4 1 11 1-15 1 3 1 4 1-2 1 10 1-3 1 0 1 2 1 1 1-8 1 8 1-1 1-2 1-7 1 8 1-3 1-5 1 9 1-14 1 13 1 4 1-6 1 7 1-3 1 7 1-9 1-4 1-3 1 4 1-3 1 10 1-2 1-2 1 5 1-4 1-7 1 4 1-1 1 2 1 3 1 1 1-1 1 1 1-3 1-5 1 0 1-3 1 2 1-1 1 0 1 1 1 2 1-1 1 8 1-3 1-5 1 7M0 52l1-8 1-3 1-6 1-6 1 2 1 9 1-2 1-5 1-3 1 2 1-3 1 8 1-4 1-1 1 2 1-1 1-1 1-1 1 2 1-5 1 3 1 1 1-11 1 3 1-1 1 1 1 3 1-7 1 6 1-2 1 0 1 1 1-2 1-1 1-6 1 8 1-2 1-2 1 4 1 2 1 3 1-3 1-3 1 5 1-8 1-6 1 12 1-3 1-8 1 1 1-4 1-1 1 9 1-3 1-1 1 1 1-1 1 5 1-4 1-7 1 5 1-6 1 8 1-4 1 0 1 3 1-10 1 2 1 2 1 1 1-1 1-3 1 7 1-2 1-2 1 0 1 5 1-2 1 6 1-4 1-3 1-1 1 1 1 1 1 0 1 2 1-6 1-1 1-3 1 8 1-3 1 0 1-1 1-1 1 2 1-3 1-2 1 5 1-4 1-4 1 1 1 2 1 2 1 0 1-2 1-4 1 1 1 3 1 1 1-5 1 0 1 1 1 3 1-3 1-1 1 5 1-3 1 4 1-2 1 1 1 1 1 0 1 1 1-3 1 6 1 3 1-11 1 4 1 0 1-2 1-3 1 5 1-3 1-2 1 0 1 1 1-3 1 3 1-4 1 1 1 6 1-2 1-2 1-4 1-3 1 3 1 7 1-8 1 6 1 0M0 17l1-5 1-3 1-1 1 2 1-4 1-3 1-1 1 1 1-3 1-6 1 2 1 2 1 4 1-4 1 7 1-3 1-8 1 6 1 1 1-7 1 3 1 7 1-2 1 2 1 2 1-5 1-1 1 2 1 0 1 3 1-1 1-2 1-4 1 7 1-6 1-4 1 11 1-2 1-6 1-2 1 3 1 1 1-1 1-1 1 0 1-2 1-4 1 1 1 4 1-7 1 4 1 7 1-5 1 2 1 1 1 5 1-6 1 3 1-9 1 4 1 4 1-5 1-6 1 7 1-4 1-2 1 11 1 0 1-10 1 4 1 1 1 2 1-1 1 2 1 1 1-2 1-2 1 10 1-10 1 0 1 1 1 1 1-5 1 5 1-5 1-3 1 5 1-4 1 6 1-4 1-3 1-3 1 5 1 5 1-2 1-1 1-3 1 8 1-2 1-3 1 0 1 5 1 0 1-8 1 4 1 1 1 3 1-6 1 0 1-1 1 3 1-7 1 1 1 0 1 4 1-5 1-4 1 6 1-5 1 5 1-4 1-3 1 4 1 1 1 6 1-8 1 4 1-1 1 3 1-4 1-4 1 0 1 0 1 5 1-5 1-2 1 2 1 0 1 8 1-6 1-1 1 2 1-1 1-7 1-3 1 3 1 7 1 3 1 0 1-7M0 -21l1-4 1 4 1 3 1-9 1 9 1-3 1-5 1 10 1 4 1-5 1 0 1 0 1-1 1-6 1 7 1 1 1 10 1-15 1-3 1 5 1 2 1-8 1 7 1 2 1-6 1 3 1-4 1 5 1-3 1 1 1 3 1 4 1 3 1 8 1-4 1 1 1-8 1 0 1 1 1 2 1 3 1-1 1 0 1-4 1 2 1-7 1 8 1 2 1-6 1 6 1-1 1-1 1 2 1 5 1-7 1-4 1 5 1 3 1-2 1-3 1 4 1-2 1 2 1 0 1-4 1 7 1-2 1-1 1-4 1 6 1-3 1 1 1 2 1-4 1-5 1 3 1 1 1 4 1-1 1 3 1 2 1-5 1 3 1 2 1-1 1 0 1-6 1 6 1-2 1-8 1 7 1 2 1-3 1 7 1-5 1 3 1 1 1-10 1 2 1 8 1-5 1 0 1-4 1 6 1 2 1 1 1-1 1-1 1 9 1-6 1 0 1-2 1 1 1-5 1 9 1-2 1-2 1-4 1 3 1 0 1-4 1 0 1 2 1 1 1-1 1-2 1 2 1-2 1 4 1-3 1-1 1 4 1-2 1 1 1 3 1-6 1 1 1 3 1-2 1 2 1-2 1 0 1-2 1 4 1-1 1-2 1-2 1 1 1 4 1 6M0 70l1-4 1-5 1-1 1-2 1-6 1-3 1-5 1-2 1 4 1-4 1-10 1-7 1-5 1 4 1-2 1-6 1 3 1-8 1-5 1 1 1-1 1-1 1 8 1-2 1-9 1 2 1-3 1 6 1-1 1-1 1 5 1-2 1-4 1 1 1-7 1 1 1 2 1 3 1-7 1 2 1 6 1-5 1 3 1 0 1 0 1 5 1-10 1 8 1-9 1 2 1-5 1 5 1-4 1-2 1 1 1 2 1 1 1-3 1 3 1 3 1-6 1 3 1-1 1-4 1-3 1 3 1-1 1 5 1 2 1 0 1-2 1 1 1-5 1 3 1 1 1-2 1 1 1 0 1-6 1-1 1 6 1 1 1-1 1 2 1 2 1 6 1-8 1 2 1-1 1 2 1-4 1-1 1 7 1-7 1 1 1 1 1-3 1 4 1-5 1 7 1-3 1-1 1 8 1-7 1 0 1 5 1-1 1-6 1-1 1 10 1-5 1 0 1 2 1-7 1 4 1-3 1-3 1 6 1-2 1 5 1-3 1-1 1-3 1 7 1-9 1 6 1 0 1-3 1-3 1 1 1-1 1 1 1-2 1 5 1-2 1 0 1 2 1 1 1-2 1-2 1 4 1-4 1 6 1-6 1 3 1 2 1-2 1-5 1 5 1-9M0 19l1-1 1-9 1 1 1 4 1 2 1-2 1-3 1-1 1 3 1-2 1 7 1-8 1-6 1 4 1 5 1 0 1-6 1-1 1 0 1-5 1 8 1 1 1-6 1 2 1 5 1-4 1-3 1 2 1-3 1-4 1 9 1-6 1-1 1 1 1 6 1-5 1 3 1 1 1 4 1-4 1 2 1-6 1 8 1-5 1 6 1-6 1-4 1 6 1-6 1 6 1 1 1-2 1 7 1-3 1-2 1 0 1-5 1 7 1-3 1-2 1 4 1 3 1-2 1-2 1 2 1-4 1-2 1 4 1-2 1-3 1 1 1 0 1 3 1-1 1 4 1 1 1-5 1-5 1 5 1 1 1 3 1-5 1 3 1-8 1 8 1 0 1 4 1-5 1 1 1-5 1-1 1 2 1-6 1 4 1 5 1-4 1-2 1 4 1-3 1 12 1-8 1-8 1 7 1 2 1 3 1 0 1-7 1 1 1-4 1 7 1 1 1 0 1-4 1 6 1-2 1 2 1-2 1 0 1-2 1 0 1 0 1 0 1-1 1-1 1 6 1-7 1 8 1-6 1 5 1-5 1-1 1 0 1-3 1 8 1-3 1 7 1-6 1 2 1-3 1-5 1 0 1 5 1 0 1 0 1-4 1 0 1 8 1-2 1-5 1-1M0 26l1 3 1-5 1 5 1-4 1-3 1 3 1-10 1 4 1 0 1-7 1 3 1-2 1-1 1 3 1 4 1 0 1-6 1-6 1 1 1 0 1-2 1-1 1-3 1-1 1 4 1 1 1 0 1 5 1-3 1 1 1-1 1 3 1-4 1 0 1 0 1-1 1 4 1-3 1-1 1 0 1 5 1 3 1-3 1 0 1-5 1-1 1-5 1 7 1-6 1 7 1-3 1-1 1 3 1-3 1 8 1-3 1-5 1 3 1-2 1-2 1 6 1-9 1-2 1 8 1-3 1 1 1 1 1 1 1-7 1 5 1 4 1 2 1-1 1-3 1-8 1 6 1 0 1-6 1 4 1 0 1-2 1 6 1-3 1 0 1-2 1-3 1 5 1 4 1-7 1 3 1 0 1-1 1 3 1-2 1 3 1-3 1-1 1-5 1 5 1-2 1 1 1 6 1 0 1-3 1-4 1-2 1 0 1-2 1 0 1 10 1-12 1 2 1-1 1-1 1 3 1 3 1-9 1 0 1 3 1-2 1 0 1 2 1 1 1 4 1 0 1-5 1-4 1 10 1-3 1-9 1 3 1 1 1 1 1-1 1 4 1-10 1 10 1-6 1 3 1-5 1 7 1-9 1 5 1-7 1 2 1-1 1 3 1-1 1 0 1-2M0 9l1-1 1 9 1-7 1-1 1-8 1 4 1 1 1-1 1-2 1-6 1 4 1 3 1-8 1 5 1 3 1-3 1 2 1-3 1 1 1 1 1-6 1 0 1 2 1 5 1-1 1-3 1 1 1-6 1 7 1 1 1 2 1-4 1 5 1-5 1-2 1 1 1 2 1 3 1-3 1-2 1 9 1-4 1-1 1-4 1-3 1 2 1 1 1-1 1 0 1-2 1-5 1 3 1 4 1 3 1-1 1-1 1 5 1-6 1 0 1-5 1 9 1-8 1 3 1 2 1 1 1 4 1-5 1-2 1 0 1 6 1-9 1 1 1 3 1 1 1 2 1 1 1-4 1 12 1-14 1 0 1 1 1 4 1-7 1 9 1-5 1 5 1-9 1 11 1-6 1-8 1 6 1 0 1-6 1 6 1 2 1-4 1 0 1-1 1 0 1 1 1 3 1 5 1-3 1-2 1 1 1 2 1-4 1 3 1 0 1 1 1-3 1-3 1 2 1 1 1 1 1 2 1-2 1-4 1 1 1 3 1 4 1-1 1-2 1-3 1 0 1 0 1 0 1-2 1-2 1-2 1 11 1-3 1 1 1-5 1 12 1-8 1 6 1-8 1 2 1 2 1-12 1 10 1-3 1 1 1 1 1-2 1-2 1 3 1 4 1-1M0 18l1-9 1 6 1-4 1 3 1 2 1-9 1-6 1 4 1-1 1-1 1-6 1 1 1 1 1-3 1 6 1 0 1-1 1 2 1 0 1 3 1-2 1-6 1 4 1 0 1-1 1-1 1-3 1 2 1-4 1 9 1-2 1 3 1-2 1-3 1 6 1-4 1 0 1-1 1 3 1 4 1-9 1 3 1-4 1 0 1-3 1 5 1-7 1 1 1 5 1 4 1 1 1 0 1-5 1 3 1-5 1-3 1 9 1-6 1 2 1-1 1-1 1 5 1-5 1 2 1 3 1-3 1-1 1-1 1-1 1-5 1 3 1 5 1 0 1-3 1 5 1 2 1 2 1 1 1-5 1 3 1 1 1-4 1-7 1 4 1-3 1 0 1 5 1 1 1-3 1 5 1-2 1 3 1-6 1 2 1-1 1 4 1-5 1 3 1-6 1 0 1 2 1 3 1-7 1 1 1-3 1 7 1-4 1 3 1-1 1-1 1 4 1-2 1 1 1 2 1-4 1 2 1 2 1 0 1-2 1-1 1 3 1-2 1 3 1-5 1 2 1 3 1-8 1 3 1-1 1 4 1 0 1-1 1-1 1 4 1-6 1 6 1-1 1 1 1-2 1-4 1-2 1 3 1 0 1 0 1 4 1-2 1-1 1 2 1-1 1 4M0 74l1-10 1-4 1-2 1 1 1-2 1-5 1 2 1-7 1-9 1 2 1-10 1 0 1-3 1-2 1 0 1-6 1 1 1-9 1 9 1-8 1-7 1 9 1 1 1-1 1 6 1-12 1-4 1 8 1 2 1-2 1-8 1 4 1-3 1 0 1 4 1-6 1 0 1 4 1-3 1-1 1-3 1-2 1-3 1 5 1 4 1-5 1-4 1 8 1-4 1-4 1 8 1-7 1 7 1-8 1-1 1 5 1-1 1 2 1 4 1-7 1-4 1 6 1-7 1-2 1 4 1 0 1-1 1 7 1-5 1 0 1-2 1-3 1 6 1-1 1 0 1 5 1-6 1 10 1-4 1-4 1 2 1-3 1 5 1-3 1-6 1 4 1-4 1 1 1 2 1 4 1-3 1 0 1 2 1-3 1 7 1 0 1-4 1-3 1 6 1 3 1-6 1-2 1-5 1 5 1 0 1 0 1 1 1-2 1-5 1 5 1 3 1-2 1 6 1-4 1-3 1-1 1 2 1 0 1 2 1 3 1-6 1 9 1-4 1 2 1 0 1-5 1 1 1-1 1-1 1 1 1-4 1-1 1-1 1-2 1 3 1-4 1 5 1 2 1-3 1 0 1-3 1 3 1 0 1 4 1-2 1 1 1 0 1 3 1-2 1 7M0 -19l1-2 1 11 1 6 1-8 1 7 1-8 1 0 1 0 1-1 1 4 1-2 1-1 1 4 1 2 1-4 1 7 1 0 1-2 1 2 1-3 1 1 1-1 1 1 1 1 1-1 1-3 1 1 1 3 1 0 1 7 1-5 1-4 1 3 1-4 1 2 1-1 1-5 1-2 1 0 1-2 1 7 1 3 1 0 1-2 1-5 1 8 1-6 1 6 1-5 1-3 1 2 1 2 1 6 1-9 1 3 1-5 1 3 1 1 1 0 1 1 1 0 1-5 1 3 1 5 1-6 1 3 1 1 1-7 1 3 1-1 1 0 1-3 1 1 1 11 1-10 1-1 1 6 1-4 1-1 1 1 1 5 1-4 1 1 1 3 1 1 1-3 1 3 1-8 1 8 1-3 1 1 1 2 1 1 1-2 1 2 1-2 1-5 1 9 1-1 1-3 1 0 1 5 1-7 1 1 1-5 1 5 1-2 1-3 1-1 1 3 1-4 1 3 1-1 1 0 1 6 1-5 1 1 1 2 1-4 1-1 1 3 1 6 1-7 1-1 1 4 1-4 1-1 1 1 1-3 1-1 1 2 1-5 1 0 1 2 1 2 1-2 1 2 1 6 1-5 1 0 1 6 1-13 1 7 1-4 1-2 1-2 1-1 1 1 1-1 1 1M0 13l1 0 1-1 1 2 1 1 1-1 1-9 1-8 1-1 1 4 1 3 1-2 1-4 1-2 1-1 1 0 1 8 1-5 1 4 1 0 1-3 1 5 1-2 1 1 1-1 1 2 1-1 1 2 1 1 1-4 1 0 1-1 1-4 1 11 1-5 1-1 1 1 1 3 1-7 1 2 1 3 1-5 1 2 1-2 1-10 1 10 1-1 1-3 1 13 1-4 1 0 1 3 1-5 1-3 1 0 1-1 1-2 1 2 1-1 1 2 1 3 1-2 1-1 1 2 1-1 1 2 1-8 1 2 1 4 1 2 1-3 1-8 1 5 1 1 1 0 1 4 1-6 1 0 1 4 1-1 1 1 1 1 1 4 1 2 1-5 1 4 1-6 1 7 1-3 1-5 1 6 1 0 1-4 1 6 1-5 1 1 1-5 1 2 1 1 1 7 1-9 1 2 1-1 1 2 1 2 1-6 1 2 1 1 1-2 1-1 1 9 1-10 1 0 1 1 1 1 1 0 1 0 1-2 1 6 1 1 1-6 1 1 1 4 1 1 1 1 1-5 1 2 1-2 1 1 1 2 1-3 1 1 1 4 1-7 1 4 1-7 1 2 1 0 1 4 1-6 1 5 1-1 1 2 1 0 1 7 1-9 1 2 1 9 1-5 1-5 1 3M0 43l1 5 1-2 1-6 1-6 1-1 1-2 1 2 1-5 1-3 1 3 1-6 1 0 1 2 1-2 1 4 1-3 1 0 1 4 1-4 1-2 1 1 1-6 1 0 1-1 1-1 1 1 1-2 1 0 1-7 1 4 1-1 1 3 1 2 1-3 1 2 1-6 1-1 1 1 1 0 1 1 1-4 1 0 1 4 1 0 1-1 1 1 1-3 1 2 1 7 1-4 1-1 1-2 1-3 1 3 1 2 1-7 1-1 1 7 1 0 1 0 1 3 1-3 1 1 1 3 1 1 1-6 1-7 1 5 1-3 1 4 1-3 1 0 1-4 1 3 1 2 1 0 1-1 1-5 1-5 1 0 1 7 1-7 1 4 1 2 1 0 1 5 1-3 1 5 1-1 1 0 1 3 1 0 1-5 1 7 1-11 1-2 1 1 1 2 1 3 1-1 1-5 1 7 1-3 1 2 1 1 1-1 1-1 1 0 1 1 1-1 1-1 1 3 1-3 1 1 1-3 1 4 1 2 1-4 1 1 1-3 1 1 1 0 1-3 1 1 1-1 1 0 1 6 1-1 1-4 1 4 1-3 1 5 1 3 1-5 1-4 1 2 1 2 1 4 1-6 1-2 1 2 1 0 1-7 1 1 1 8 1-5 1 2 1 4 1-5 1-2M0 -61l1-6 1 7 1 7 1 10 1-1 1-1 1 1 1 7 1 3 1-5 1 3 1 7 1 4 1 5 1-3 1 8 1 1 1 2 1 1 1 2 1 4 1 0 1 0 1 3 1 0 1-5 1 8 1-11 1 5 1 5 1-7 1 5 1-5 1 0 1 7 1 6 1-4 1-4 1 2 1 3 1-7 1 3 1-2 1 6 1-6 1-1 1 2 1 2 1 1 1 3 1 1 1-1 1-4 1 0 1 2 1-3 1 0 1 1 1 1 1 1 1 1 1 2 1-1 1 3 1 0 1-5 1 4 1-6 1 0 1 5 1 2 1-1 1-5 1 0 1 7 1 1 1 1 1-5 1-1 1-1 1 1 1-6 1 1 1 0 1 2 1 7 1-4 1-4 1 1 1 1 1-5 1 6 1-1 1 5 1-8 1-1 1 3 1 6 1 2 1-5 1 1 1-6 1 5 1-3 1 1 1 1 1-6 1 3 1-1 1 5 1 3 1-1 1 5 1-3 1-6 1 0 1 3 1 1 1-1 1-5 1 0 1 1 1-4 1-3 1 6 1-1 1 2 1 7 1-13 1 7 1-2 1-2 1 3 1 0 1 2 1 4 1-5 1 1 1 1 1 1 1-6 1 0 1 4 1-6 1 5 1-2 1 0 1 2 1-1 1 4M0 2l1-3 1-2 1 2 1 0 1-1 1 2 1-6 1-3 1-2 1 1 1 7 1 3 1-4 1 5 1-9 1 9 1-6 1 2 1 1 1-1 1-1 1 1 1-6 1-2 1 5 1 3 1 0 1 0 1 5 1-2 1 6 1-3 1 1 1 2 1 4 1-9 1-1 1-1 1 0 1 3 1 9 1-8 1 2 1 0 1 6 1-9 1-1 1 6 1-7 1 6 1-3 1-8 1 1 1 4 1 0 1 3 1-2 1 4 1 4 1-7 1 1 1 3 1-1 1-2 1 0 1 0 1 5 1-1 1-5 1 5 1-2 1-7 1 8 1 1 1-4 1 4 1-2 1 1 1-3 1 2 1-11 1-2 1 9 1-2 1-1 1 4 1-3 1 3 1 2 1 1 1-1 1 6 1-3 1 4 1-7 1 5 1-4 1-2 1 3 1-5 1-1 1 4 1-2 1 1 1-4 1-1 1 4 1-9 1 6 1 0 1-7 1-3 1 10 1-1 1 1 1-3 1-2 1 12 1-6 1 1 1 4 1-10 1 4 1 1 1-7 1 3 1 1 1 3 1 3 1-6 1 0 1-2 1 2 1-5 1 9 1-4 1-5 1-2 1 0 1-2 1 1 1 5 1-1 1-1 1-1 1 6 1-7 1 4 1-1 1-7M0 -43l1 8 1-5 1 4 1 1 1-1 1 6 1 1 1 10 1 1 1-1 1 5 1 3 1-5 1 5 1-2 1-5 1 4 1 4 1-6 1 2 1 2 1-1 1-1 1 2 1-2 1 2 1 7 1-1 1-2 1 2 1-2 1 3 1-3 1 0 1 5 1 1 1-5 1 2 1 3 1-2 1-1 1-1 1 5 1 1 1-3 1-4 1 10 1-4 1 6 1-12 1 7 1 3 1-2 1 1 1 0 1 3 1-4 1-3 1 3 1 1 1-2 1 2 1-6 1 7 1-6 1 5 1-1 1-4 1 4 1 1 1-5 1 2 1 3 1-1 1 3 1-9 1 3 1 9 1-7 1 4 1 0 1 3 1-6 1 2 1-1 1 2 1 0 1-2 1-2 1 6 1-3 1-4 1 3 1 6 1-10 1 3 1 4 1-4 1 0 1 5 1 2 1 2 1-6 1-2 1 3 1-5 1 1 1 6 1-7 1 3 1-7 1 7 1-3 1 7 1-8 1 7 1-3 1-5 1 3 1-2 1-4 1 4 1 2 1 1 1-3 1 3 1 0 1 3 1-6 1 7 1-7 1-5 1 3 1-3 1 6 1 2 1 2 1-7 1 5 1 2 1-2 1-2 1-1 1 3 1 2 1-2 1-1 1 0 1 3 1-5M0 21l1-4 1 7 1-7 1-8 1-1 1 1 1-4 1 7 1-1 1-4 1 2 1-11 1-7 1 4 1 6 1-1 1-2 1-4 1-1 1 2 1-2 1-3 1-5 1 2 1-1 1 3 1-3 1 8 1-6 1 4 1-2 1-2 1 3 1-5 1 2 1-3 1-3 1 4 1-1 1-1 1 5 1-1 1-3 1 1 1 4 1-4 1 1 1-1 1-6 1 8 1-7 1 3 1 0 1 2 1-3 1 0 1-1 1 1 1-4 1 9 1-1 1-8 1 12 1-11 1 5 1-2 1-1 1 2 1 6 1-6 1 5 1-8 1 7 1-2 1-1 1 3 1-4 1 0 1 2 1 4 1-4 1 5 1-2 1-5 1 2 1-5 1 6 1 0 1-3 1-2 1 4 1 3 1 0 1-2 1 1 1-4 1 0 1 6 1-7 1 4 1 0 1-9 1 3 1 5 1-5 1 4 1 1 1 0 1-6 1 6 1 1 1 3 1-1 1-5 1 4 1-3 1 0 1-2 1-1 1 1 1 4 1 1 1-7 1-1 1 8 1-3 1 3 1-5 1 2 1 0 1-1 1-1 1-5 1 7 1-1 1 5 1-2 1-1 1-1 1-8 1 7 1 1 1 2 1 0 1-1 1 0 1 5 1-4 1 1 1-2M0 32l1 0 1-5 1-6 1 3 1-5 1-7 1 5 1-2 1-3 1-6 1 4 1-5 1 7 1-8 1 0 1 1 1-8 1 5 1-4 1 1 1 8 1 2 1-9 1-2 1 3 1-3 1-4 1 5 1-6 1 6 1 0 1-2 1 1 1 2 1-10 1 0 1 0 1 6 1-8 1 9 1-6 1 8 1-10 1 9 1-3 1 0 1-4 1 4 1 5 1 1 1-7 1-7 1 7 1-5 1-2 1-1 1 5 1 0 1-3 1 8 1-4 1 0 1 3 1-2 1 4 1-1 1-6 1 5 1-2 1-4 1 1 1 5 1-1 1-4 1 3 1 3 1-3 1 1 1-3 1 2 1-1 1 7 1-3 1-2 1 0 1-2 1 0 1 5 1-7 1 6 1-1 1-1 1 2 1-5 1 1 1-2 1 4 1-1 1-2 1-1 1 0 1 3 1-3 1 3 1 4 1-1 1 2 1-3 1 6 1-5 1 0 1-4 1 2 1 5 1-7 1 2 1-2 1 5 1 0 1 2 1-3 1 0 1 4 1-2 1-4 1 1 1 1 1-6 1 6 1 0 1 2 1-1 1 5 1-6 1-1 1 1 1 1 1-1 1-1 1-1 1-1 1 3 1 1 1-7 1 4 1-4 1 9 1-8 1 5 1-3M0 -17l1 4 1 1 1 3 1 0 1 0 1-5 1 2 1-5 1 6 1 3 1-5 1 5 1 0 1-3 1 2 1-3 1-1 1-1 1 4 1 5 1-1 1-2 1 3 1 2 1-1 1 1 1-2 1 4 1 0 1 2 1 0 1-3 1-4 1 2 1 4 1 3 1-3 1-3 1 0 1 2 1 1 1 1 1 0 1-4 1 6 1-9 1 1 1 1 1 0 1-4 1 14 1-5 1-2 1 10 1-5 1 1 1-2 1-5 1 2 1 2 1 2 1-2 1 6 1-3 1 1 1-2 1-3 1 4 1-4 1-1 1 6 1-5 1 0 1 3 1 6 1-7 1 2 1-6 1 1 1-3 1 3 1-2 1 5 1-6 1 2 1 5 1-2 1-1 1 1 1-3 1 0 1-1 1 0 1-1 1 5 1-3 1 0 1 6 1-7 1 1 1 3 1 3 1-10 1 8 1-2 1-6 1 2 1 1 1 4 1 0 1 0 1-3 1 3 1-8 1 0 1 5 1-6 1 2 1 4 1-4 1-3 1 2 1-1 1 7 1-2 1-2 1 1 1 2 1-7 1 0 1 3 1 2 1 1 1-1 1-3 1 3 1-1 1 1 1 0 1 3 1-10 1 4 1-1 1-1 1-2 1-3 1 7 1-1 1 0 1-2M0 20l1 4 1 3 1 0 1 3 1-10 1-4 1 11 1-3 1-3 1-8 1 9 1-6 1 0 1-2 1-5 1 1 1 1 1 1 1 5 1-7 1 2 1-7 1 4 1 1 1 0 1-8 1 1 1 3 1 4 1 2 1-5 1 8 1 0 1-10 1-2 1 10 1-9 1 0 1 6 1 0 1-9 1 4 1-1 1-3 1 4 1-4 1 4 1-2 1 1 1-3 1-1 1 3 1-11 1 1 1 5 1 1 1-4 1 2 1-2 1 6 1-7 1 7 1-1 1 3 1-3 1-1 1 4 1-1 1-7 1 7 1-4 1 3 1-2 1 0 1-5 1 9 1-8 1 2 1 1 1-2 1 8 1-1 1-4 1 1 1 3 1 4 1-5 1 0 1 4 1-4 1-7 1-1 1 4 1 4 1-4 1-4 1 5 1-2 1-2 1 4 1-2 1 5 1-6 1-4 1 6 1 0 1 3 1-2 1 0 1-2 1 1 1 1 1 0 1 8 1-13 1 5 1-1 1 0 1 3 1-5 1-1 1 8 1 1 1 2 1-7 1 0 1 4 1-2 1-2 1 5 1-5 1-2 1 1 1-4 1 4 1 1 1 1 1-1 1 1 1 2 1 1 1-2 1 4 1 2 1-8 1-1 1 2 1 1 1-6 1 3M0 36l1-8 1-8 1-1 1 0 1 1 1-5 1 9 1-7 1-1 1-5 1-12 1 15 1-12 1 4 1 5 1 6 1-8 1-2 1-5 1 6 1 1 1-3 1-4 1 2 1-4 1 1 1 4 1 0 1-5 1 4 1 0 1 1 1-1 1-6 1 4 1-5 1 4 1 4 1 1 1-5 1-1 1 7 1-3 1-5 1 0 1 5 1 0 1-9 1 0 1 2 1 1 1-6 1 1 1-3 1 7 1-5 1 0 1-3 1 5 1-2 1 0 1 3 1 3 1-4 1 1 1 1 1-3 1 2 1-2 1 7 1-1 1-6 1 1 1-3 1 2 1-1 1-3 1 3 1-4 1 3 1-1 1 1 1 1 1 1 1-2 1 10 1-10 1 2 1 1 1 1 1-7 1 4 1 0 1-4 1 0 1 6 1-7 1 3 1 3 1-4 1 3 1 2 1 2 1-3 1 4 1-3 1 8 1-8 1 6 1-4 1 4 1-1 1-2 1 0 1 2 1-8 1 3 1-1 1 5 1-5 1 1 1 1 1-1 1-4 1 2 1 3 1-4 1 3 1 3 1-5 1 3 1 1 1-2 1 2 1 2 1 0 1-7 1-3 1 6 1 3 1 2 1-9 1 2 1-2 1 4 1-5 1 5 1 6 1-10 1 1M0 -98l1 10 1 7 1 8 1 5 1-3 1 13 1 1 1 2 1 2 1 4 1 5 1 4 1 3 1 0 1 4 1 1 1 2 1-3 1 3 1-2 1 0 1 11 1 5 1-3 1-1 1-1 1-6 1 5 1 4 1-5 1 4 1-5 1 3 1-2 1 6 1-1 1-5 1 3 1-1 1 8 1-5 1 8 1-8 1 6 1 4 1-7 1 1 1-2 1 4 1 3 1-9 1 4 1 3 1 4 1-6 1 6 1-10 1 6 1-7 1 6 1-2 1 2 1-8 1 4 1 1 1 9 1-1 1-2 1 4 1-5 1 3 1 2 1-3 1-4 1 1 1 0 1-1 1 2 1-3 1-1 1-1 1-1 1 7 1-3 1 7 1-4 1-1 1 5 1-5 1-6 1 2 1 0 1 5 1-8 1 5 1 1 1 2 1 2 1-5 1 6 1-8 1 0 1 1 1 0 1 8 1-8 1 9 1-4 1-3 1 2 1-5 1 2 1 3 1-7 1 4 1 0 1 1 1 0 1 0 1 3 1-4 1-9 1 11 1-2 1 1 1 1 1 0 1-3 1 0 1-1 1 2 1-4 1-2 1 1 1 7 1 1 1 0 1 2 1 1 1 0 1-2 1-3 1 1 1-1 1 2 1 0 1-3 1 2 1-1 1-4M0 46l1-10 1-3 1-9 1-1 1-7 1-1 1 6 1-8 1 4 1-3 1 0 1 1 1 5 1-6 1-2 1 0 1-6 1 9 1-5 1-2 1-2 1 0 1-1 1-3 1-1 1 4 1-6 1 10 1-4 1 0 1-4 1 3 1-2 1 5 1-8 1 8 1-10 1 1 1 6 1-3 1 0 1-1 1 6 1 2 1-6 1 1 1-1 1 1 1 5 1-1 1-11 1 2 1 5 1-9 1 8 1-4 1-5 1 7 1 0 1-3 1 2 1 1 1-9 1 9 1 0 1 7 1-5 1-6 1 2 1 11 1-6 1-1 1-2 1-1 1 2 1 3 1-7 1 9 1-5 1 1 1 0 1-2 1 0 1 0 1-4 1 10 1-5 1-3 1 1 1 6 1-6 1 4 1 0 1 4 1-6 1 2 1-4 1-1 1 5 1 1 1-1 1-3 1 2 1-5 1 5 1-3 1 4 1-6 1 1 1 5 1-1 1-4 1-7 1 5 1 1 1-2 1 1 1-4 1-1 1 1 1-5 1 4 1 1 1 0 1 0 1 2 1 0 1 3 1-9 1 5 1 1 1 2 1 3 1-1 1-4 1 1 1-1 1 1 1-2 1-7 1 7 1 1 1-7 1 5 1 5 1 1 1-4 1-2 1 0 1 2M0 -10l1 4 1 0 1-1 1 0 1 1 1 1 1-6 1 8 1-5 1 1 1 1 1 2 1-1 1 2 1 1 1 6 1-3 1 2 1-4 1-5 1-1 1-2 1 6 1 0 1-1 1 1 1 2 1 0 1-1 1 0 1-3 1 2 1 2 1 4 1-4 1-4 1-2 1 1 1 4 1-1 1-3 1 3 1-2 1-1 1 6 1-3 1-9 1 9 1-6 1 4 1 3 1-5 1 6 1-2 1-1 1-1 1-3 1 3 1 0 1-1 1 7 1-3 1-4 1 3 1 3 1 1 1-3 1 3 1-8 1 9 1 0 1 3 1-2 1-3 1-4 1 1 1 4 1-6 1 3 1 6 1-8 1-3 1 8 1-4 1 4 1-10 1 7 1-6 1 3 1 0 1 7 1-4 1 4 1 3 1-8 1-1 1-4 1 4 1-1 1 4 1-3 1 1 1-1 1 5 1 1 1-5 1 6 1-1 1 2 1 0 1-3 1-1 1 1 1 0 1 4 1-6 1 3 1-5 1 2 1 5 1-4 1-2 1-4 1 0 1 7 1-2 1 2 1-7 1 9 1-10 1 6 1-1 1-6 1 2 1 3 1 4 1-7 1 4 1-1 1 0 1 3 1 0 1-1 1 3 1 4 1-4 1-1 1 0 1-3 1 1M0 20l1-6 1 6 1 4 1-6 1 2 1-1 1 2 1-5 1 6 1-5 1-4 1-3 1 1 1-6 1 0 1 3 1 1 1-1 1 0 1-5 1-7 1 8 1-3 1-8 1-2 1-1 1 0 1 8 1 0 1-4 1 1 1-1 1 9 1-7 1 2 1 5 1-10 1 4 1 2 1 2 1-3 1-1 1 1 1-8 1 6 1-1 1 2 1-9 1-3 1 5 1 3 1-6 1 8 1-4 1 8 1-10 1 7 1-10 1 2 1 4 1 2 1-1 1 3 1-3 1-6 1 2 1 2 1 1 1-3 1 1 1-2 1 3 1 2 1-6 1 1 1 4 1 0 1 1 1-3 1 6 1-5 1-4 1 5 1 7 1-4 1-1 1 2 1-2 1 1 1-2 1-4 1-1 1 9 1 3 1-6 1 6 1-9 1 9 1-6 1 8 1-13 1-2 1 1 1 8 1-2 1 2 1-1 1-3 1-1 1 4 1-3 1-3 1 5 1-3 1 3 1-1 1 0 1-2 1 0 1 3 1-5 1 3 1 0 1 5 1 0 1-6 1 2 1 7 1-8 1-8 1 7 1-4 1 6 1 1 1 1 1-5 1 1 1-3 1 2 1-2 1 4 1 0 1-4 1 2 1 1 1 4 1-3 1 7 1-4 1 1M0 36l1-2 1-6 1-2 1-2 1 8 1-5 1-3 1-4 1 2 1-6 1-2 1 8 1-4 1-1 1-2 1-4 1-4 1 3 1-5 1 2 1-2 1 6 1 4 1-4 1-3 1 2 1-3 1 5 1-4 1-7 1-1 1 1 1-2 1 2 1 1 1-2 1-8 1 6 1 0 1 3 1 0 1-4 1-2 1-1 1 2 1-2 1-2 1-2 1-2 1 2 1 2 1-2 1 5 1-5 1 3 1-2 1 7 1-5 1 2 1 4 1 4 1-5 1-4 1 3 1-4 1-4 1 2 1-3 1 2 1 0 1-1 1 4 1-1 1 1 1-6 1 13 1-12 1 1 1-1 1 2 1-2 1 1 1 2 1-7 1-2 1 1 1 8 1 0 1 0 1-4 1 2 1 1 1-1 1-2 1-3 1 6 1 1 1-5 1 6 1-7 1 4 1 2 1-3 1 1 1 1 1 2 1-1 1-8 1 7 1-1 1-2 1 6 1-4 1-5 1 5 1-3 1-1 1 2 1 1 1-2 1 1 1 3 1-3 1 5 1-2 1 1 1-6 1 9 1 2 1-2 1-4 1 0 1 0 1 4 1-5 1 0 1-3 1 0 1 1 1 3 1-1 1-3 1 0 1 5 1-3 1-7 1 9 1 1 1-5 1 3M0 -11l1 4 1-1 1 0 1-1 1 5 1 0 1 7 1-2 1 1 1 3 1-2 1 2 1-6 1-2 1 1 1 5 1-5 1 1 1-1 1 7 1-4 1-2 1 3 1-9 1 6 1-3 1 3 1 0 1 4 1 0 1-1 1-1 1 2 1-4 1 6 1-8 1 5 1 1 1-3 1 4 1 2 1-6 1 0 1 0 1 5 1-7 1 8 1-5 1 4 1 2 1 1 1-3 1 2 1-2 1-3 1 2 1 3 1-5 1 4 1 2 1-6 1-3 1 0 1 0 1-1 1 0 1 1 1 4 1-1 1 5 1-2 1-6 1 7 1-2 1-2 1-1 1 5 1 0 1-2 1-2 1 3 1 3 1-3 1-2 1 3 1 1 1-4 1 6 1 2 1-6 1 0 1 1 1-2 1 1 1 1 1-5 1 5 1-2 1-3 1-10 1 4 1 3 1 3 1-1 1 5 1-4 1 0 1 0 1 1 1 4 1-2 1-5 1 3 1-5 1 3 1-2 1-1 1 2 1-6 1 7 1-7 1 5 1-5 1 9 1 2 1-1 1-7 1 8 1-7 1-4 1-1 1 3 1 0 1 1 1-3 1-1 1 5 1-2 1-1 1 1 1-3 1 5 1-12 1 9 1-4 1 2 1 6 1-7 1-1 1 3M0 -22l1-5 1 2 1 4 1 5 1-4 1 1 1 8 1-1 1 6 1-2 1 4 1-3 1 7 1 2 1 5 1-14 1 1 1-2 1-2 1 0 1-2 1 8 1 2 1 5 1-8 1 3 1 0 1 2 1-4 1-1 1-5 1 3 1 4 1 0 1 4 1 3 1-3 1 1 1 8 1-2 1-2 1-2 1-4 1 3 1-2 1-2 1-4 1 6 1 0 1 4 1-1 1 5 1-5 1-2 1 3 1 1 1 2 1-5 1 6 1-6 1 3 1 1 1-7 1 2 1-2 1 6 1 3 1-6 1-2 1-2 1 2 1 4 1-5 1 2 1 4 1-5 1 3 1-3 1 1 1-2 1-2 1 1 1 6 1-2 1-8 1 7 1 1 1 0 1-6 1 3 1-3 1 2 1-1 1 6 1 5 1-3 1 0 1 0 1-3 1 1 1 4 1 0 1-4 1 4 1 1 1-2 1 2 1-6 1-4 1 7 1-12 1 4 1 3 1 0 1 5 1-6 1 3 1-5 1 7 1-1 1-1 1-1 1 0 1 2 1-1 1-3 1-1 1 5 1-1 1 1 1-4 1 4 1-1 1-2 1 3 1-7 1 2 1 3 1-2 1 5 1-5 1 0 1 4 1-1 1 1 1-5 1 1 1 3 1 1 1 2M0 -15l1 4 1-4 1 2 1 4 1 2 1 0 1-3 1 8 1 0 1-4 1 0 1 1 1 9 1-2 1-1 1 0 1-2 1 2 1 1 1 8 1-4 1-2 1-4 1-5 1 2 1 2 1 1 1 1 1 0 1 5 1 1 1-2 1-2 1 0 1-5 1 12 1-8 1 1 1 1 1 3 1-6 1 2 1 5 1-4 1 6 1 0 1-3 1 2 1-3 1-2 1-3 1 13 1-2 1-5 1 2 1-4 1 0 1 4 1 4 1-7 1 6 1-4 1 3 1-4 1 1 1-1 1 8 1-2 1 0 1-4 1-3 1-2 1 6 1 4 1-2 1-2 1 0 1 8 1-3 1 1 1 1 1-1 1-2 1 0 1-5 1 7 1-3 1 1 1 0 1-6 1-4 1 4 1 5 1-5 1 3 1-1 1 4 1-1 1-2 1 1 1 4 1-6 1 2 1 6 1-5 1 7 1-7 1 0 1 1 1-1 1 2 1-2 1 3 1-3 1 4 1-2 1-1 1 3 1-4 1 0 1 0 1 0 1 0 1-2 1-4 1 3 1 2 1-1 1 1 1 4 1-9 1 5 1-5 1 2 1 3 1-3 1 3 1 1 1-1 1 2 1-1 1-4 1 3 1-4 1 1 1 1 1 1 1 1 1-2 1 7M0 -6l1-1 1 7 1-6 1 8 1-9 1 4 1 1 1-7 1 10 1 2 1 1 1-3 1 4 1 0 1-1 1-1 1-3 1 1 1-2 1-3 1 5 1-6 1 6 1 1 1 0 1-2 1-3 1 6 1 1 1-1 1-3 1 6 1 2 1-4 1 3 1-1 1-6 1 4 1-2 1-3 1 1 1 4 1-2 1-4 1 0 1-1 1 1 1 4 1-2 1-6 1 0 1 8 1-3 1-4 1 6 1 3 1-9 1 4 1 6 1 0 1-5 1 3 1 1 1 2 1-3 1-4 1 2 1-5 1 5 1 9 1-9 1-2 1 3 1-1 1-2 1 4 1-1 1-4 1 4 1-2 1 5 1 0 1 0 1-1 1 3 1-3 1 0 1-5 1-2 1 5 1-4 1-1 1 5 1-3 1 2 1-2 1-2 1 8 1-5 1 3 1 2 1-3 1-4 1 2 1-1 1-1 1 0 1 3 1 1 1-5 1-1 1 2 1 3 1-1 1 5 1-9 1 3 1-3 1-3 1 2 1 4 1-5 1 6 1-2 1 5 1-5 1 2 1 1 1 0 1 1 1 2 1-5 1 6 1 0 1-5 1-2 1 4 1 2 1-5 1 0 1 0 1-2 1 8 1-8 1 1 1 5 1-6 1 8 1-4 1 2M0 -2l1 2 1-1 1 10 1-6 1 1 1 0 1-4 1-3 1 6 1-5 1 2 1 1 1-1 1 3 1-7 1 3 1 2 1 7 1-9 1 3 1-2 1-3 1 3 1-5 1-1 1 5 1 9 1-13 1 4 1-1 1-2 1-1 1 7 1-3 1 4 1 1 1-3 1 0 1-7 1 9 1 1 1-3 1 4 1-5 1-8 1 3 1 11 1-8 1 2 1-1 1 2 1-1 1 3 1-10 1 5 1 5 1-1 1-2 1 2 1-7 1 4 1 0 1 3 1-6 1 1 1 1 1-7 1 3 1 8 1-2 1-4 1 2 1-1 1 4 1-4 1-2 1 1 1 6 1-2 1-3 1 2 1 2 1-6 1 2 1 5 1-6 1 5 1-3 1 4 1-4 1 2 1 0 1-1 1-3 1 0 1-1 1 1 1-2 1-1 1 11 1-5 1-1 1 8 1-3 1-3 1-7 1 2 1-5 1 3 1 1 1-2 1 2 1-3 1 5 1-3 1 1 1 0 1-3 1 2 1-2 1-2 1 3 1-3 1 3 1-1 1 3 1 0 1-9 1 4 1 0 1 3 1-9 1 8 1-9 1 5 1 6 1-7 1 0 1-1 1 8 1-5 1 8 1-13 1 12 1-4 1-1 1 4 1-6 1-3 1-1M0 -45l1 3 1 8 1 5 1 2 1 6 1-1 1 6 1-2 1 5 1-5 1 8 1 2 1-3 1-4 1-1 1 8 1-10 1 4 1-3 1 1 1 1 1 0 1 5 1 5 1 0 1 1 1 3 1-7 1 2 1-2 1 2 1 4 1 1 1-2 1 3 1-3 1 1 1 4 1-6 1 4 1-3 1 0 1-1 1-1 1 0 1 1 1 5 1-3 1 5 1-5 1 8 1-6 1 2 1-4 1 9 1-1 1-4 1-5 1 2 1 2 1 0 1 3 1-7 1 7 1-1 1-7 1 5 1 5 1-7 1-3 1 4 1-3 1 3 1-2 1 5 1-3 1 1 1 0 1 3 1-7 1 6 1-4 1-5 1 6 1-1 1 8 1-6 1-6 1 3 1-2 1-6 1 7 1 3 1 3 1-12 1 12 1-3 1 2 1 4 1-1 1-3 1 1 1-1 1-5 1-4 1-5 1 5 1 8 1-3 1-1 1-2 1 0 1 5 1 3 1 5 1-6 1 4 1 0 1-7 1 2 1-3 1 5 1-7 1-1 1 5 1 0 1-2 1 4 1-7 1 5 1-2 1-3 1 0 1-3 1 6 1-6 1 9 1-11 1 8 1 2 1 0 1-2 1 2 1 2 1-5 1 1 1 3 1-6 1 3 1-2M0 -12l1 8 1-4 1-1 1-3 1 1 1-1 1 10 1-5 1-5 1 2 1 0 1 1 1 2 1-1 1 0 1-2 1-1 1-2 1 3 1 6 1 2 1-3 1 0 1-4 1 2 1 4 1-1 1 4 1-8 1 4 1 6 1-10 1 5 1-1 1-4 1 10 1-5 1 1 1-1 1 6 1-8 1 6 1-5 1 1 1 1 1 7 1-3 1 2 1 1 1-6 1-4 1 1 1-10 1 8 1 3 1 2 1 3 1 1 1-6 1 2 1-3 1-2 1 1 1-2 1 0 1-1 1 9 1-8 1 2 1-3 1 3 1-4 1 3 1 2 1 3 1-4 1 0 1 2 1 1 1-7 1 6 1-1 1-3 1 5 1 0 1-2 1 0 1 3 1-5 1 5 1 2 1 0 1-4 1 4 1 0 1 1 1-2 1-3 1-2 1-7 1 7 1 1 1 2 1-3 1-4 1 7 1-2 1-1 1-1 1-2 1 3 1 1 1 4 1-1 1 1 1 2 1-5 1 1 1 4 1-5 1-7 1 7 1-4 1 0 1 1 1 3 1-11 1 9 1-2 1-2 1 5 1-4 1-4 1 6 1-2 1 1 1 3 1-3 1 6 1-4 1 2 1 3 1 0 1 0 1-6 1 3 1-3 1-2 1 3 1 5M0 32l1-6 1 0 1-1 1 0 1 1 1-3 1 5 1 6 1 0 1 3 1-2 1 1 1-2 1-8 1 6 1-8 1-7 1 4 1 2 1 6 1-6 1 4 1-5 1 2 1 4 1-6 1-3 1 2 1-2 1-6 1 8 1 0 1 1 1-1 1-2 1 1 1-4 1 2 1-2 1-4 1 3 1 1 1-3 1 5 1 0 1-7 1-3 1 5 1 6 1-7 1-3 1 6 1 1 1-2 1 0 1-2 1-2 1 7 1-1 1 0 1-1 1-3 1 5 1 2 1-4 1 1 1 4 1-4 1-6 1 1 1 0 1 3 1 3 1-7 1-1 1 6 1-7 1 6 1-3 1-1 1-2 1-1 1 0 1 7 1 0 1-7 1 7 1-4 1-2 1 6 1-6 1 4 1-3 1 1 1-1 1-5 1 8 1-6 1 3 1-1 1-1 1 0 1-2 1 3 1-1 1 6 1-3 1-3 1 2 1 2 1-3 1 0 1 3 1-4 1-2 1-3 1 1 1 1 1 1 1 2 1 2 1-1 1-4 1 1 1 2 1-3 1 7 1-3 1 2 1-2 1-1 1-4 1-1 1 8 1-2 1-4 1 1 1-3 1 0 1 8 1-4 1-6 1 4 1 0 1 1 1 2 1 1 1-2 1 1 1-4M0 48l1 1 1 4 1-12 1 7 1-5 1-1 1 6 1 0 1-9 1 0 1 2 1-2 1-9 1 7 1-13 1 6 1-2 1 0 1 0 1-1 1-3 1 6 1-3 1-5 1 3 1 1 1 2 1-2 1-4 1 4 1-5 1-1 1-1 1-1 1 8 1-4 1-6 1 7 1-4 1 0 1-3 1 4 1-3 1-7 1 3 1 1 1 2 1-4 1 1 1 0 1-4 1 5 1-1 1 3 1-2 1 4 1-5 1-2 1 2 1-4 1-2 1 3 1 2 1-2 1 3 1-4 1-2 1 0 1 0 1-1 1 2 1 3 1-2 1-4 1 5 1-5 1 3 1-1 1 2 1-5 1 7 1 4 1-2 1-2 1-5 1 5 1 0 1-2 1 2 1-5 1 2 1 0 1-1 1 3 1 3 1-4 1 1 1-1 1-1 1 0 1 6 1-7 1-5 1 4 1-1 1-1 1-5 1 12 1-6 1-2 1-4 1 2 1 3 1 1 1-2 1-5 1 1 1 11 1-3 1-8 1 6 1-3 1-2 1 0 1 6 1-1 1-2 1-3 1-1 1-5 1 5 1 7 1-9 1-1 1 4 1 0 1-5 1 3 1-3 1 0 1-1 1-4 1-6 1 7 1 4 1 4 1-4 1 1 1-3 1-1M0 -27l1 2 1 0 1-1 1 7 1-4 1 3 1-6 1 7 1-8 1 2 1-2 1-2 1 5 1 2 1 3 1-7 1 9 1 0 1 3 1 1 1-2 1-4 1 3 1 1 1-12 1 13 1 3 1-3 1-1 1-3 1 1 1-2 1 0 1-1 1 1 1-4 1 2 1 5 1 2 1 2 1 1 1-1 1 0 1-1 1 1 1 1 1 0 1-2 1 7 1-10 1 5 1-2 1-1 1 0 1 7 1 4 1-5 1-1 1 4 1-4 1 9 1-13 1 6 1-5 1 3 1 1 1-1 1 2 1-4 1 6 1-1 1-1 1-3 1 0 1 1 1-1 1-2 1-4 1 5 1-1 1 1 1 9 1-7 1-3 1 2 1 0 1 0 1-2 1 1 1 7 1 0 1-4 1 4 1-4 1 0 1 3 1-2 1 0 1 0 1-4 1 5 1-5 1 3 1-2 1-3 1 5 1 2 1-6 1 1 1 4 1 1 1-9 1 3 1 2 1 1 1 2 1 3 1-4 1 3 1-6 1 3 1 5 1-7 1 2 1 1 1-3 1-1 1 4 1-2 1 7 1-2 1-4 1 1 1 0 1-6 1 14 1-7 1-3 1 1 1 1 1 1 1-3 1 2 1-3 1 6 1-4 1-3 1 1 1 5 1-7M0 60l1-6 1-7 1 1 1-3 1-1 1-4 1 6 1-1 1 2 1-3 1-3 1 0 1 11 1-5 1-8 1-2 1 6 1-5 1-4 1-4 1 8 1-2 1 3 1-1 1-4 1-1 1-5 1 2 1 4 1-7 1 4 1 0 1-4 1-2 1-2 1 4 1-4 1-2 1 3 1-2 1-2 1 2 1-7 1 5 1-4 1-6 1 4 1 8 1-4 1 6 1-1 1-2 1 1 1-1 1 2 1 3 1-7 1-1 1-1 1 5 1-9 1 6 1-1 1-3 1 4 1-11 1 5 1 4 1-7 1 3 1 1 1 0 1-3 1 2 1 4 1 2 1-3 1-3 1 7 1-4 1 5 1-7 1 2 1 5 1-1 1-3 1-1 1-1 1-2 1-1 1-3 1-3 1 4 1 5 1-1 1-2 1-3 1-2 1 4 1 1 1-2 1 3 1-6 1 4 1-2 1-5 1 2 1 3 1 0 1 3 1 2 1-4 1 3 1-6 1 3 1-2 1 5 1-5 1-7 1 0 1 7 1-9 1 4 1 3 1 2 1-1 1-5 1 6 1 1 1 0 1-3 1 4 1 1 1 3 1-3 1-1 1 1 1-4 1 11 1-11 1 9 1-3 1-1 1 4 1-6 1 2 1-1 1 0 1-3 1 5M0 53l1-9 1 2 1-7 1-12 1 1 1-1 1-4 1 1 1 0 1-4 1-3 1-2 1 4 1-5 1-11 1-8 1 3 1 1 1-3 1 0 1 6 1-2 1-4 1-3 1 4 1 1 1-1 1-2 1 0 1-3 1 9 1-9 1-2 1 7 1-8 1 3 1 0 1 7 1-1 1 0 1-7 1 1 1-8 1 5 1-1 1 5 1 4 1-8 1 8 1-1 1 0 1-10 1 1 1 2 1-1 1 1 1 9 1-4 1-1 1-2 1 1 1 1 1-3 1-5 1 2 1 4 1-2 1 0 1 0 1 2 1 4 1 0 1 0 1-2 1 2 1-6 1 6 1-4 1 3 1-5 1 4 1-2 1-6 1 2 1 7 1-2 1-1 1 3 1 4 1-12 1 2 1 5 1 2 1 2 1-4 1 1 1 0 1-5 1 3 1 1 1-4 1 0 1 7 1-9 1 0 1 9 1-1 1-1 1 0 1 2 1-2 1 2 1-1 1-2 1-6 1 6 1-1 1-5 1 4 1-1 1-1 1-1 1 0 1 1 1-1 1 5 1-3 1-6 1 4 1-4 1 10 1-5 1-2 1 6 1-5 1 3 1 1 1-1 1-1 1 5 1-4 1 4 1-8 1 9 1-6 1-1 1-4 1 10 1-8 1 2M0 9l1-2 1-1 1 3 1 4 1 0 1 5 1-7 1 8 1-5 1 2 1-4 1-3 1 0 1-3 1 6 1 3 1-4 1 3 1-7 1-8 1 6 1-5 1 2 1 4 1 0 1-1 1-4 1 4 1-6 1 2 1 11 1-5 1 2 1 0 1-4 1 0 1 4 1-2 1-8 1 5 1 1 1 0 1-1 1-3 1-2 1 2 1 0 1 0 1-9 1 10 1 3 1 1 1-9 1 7 1 1 1 2 1-2 1 3 1 0 1 0 1 3 1 1 1 0 1-4 1 4 1-3 1 0 1-2 1 0 1 1 1 2 1-3 1 0 1 1 1-1 1-7 1-3 1 4 1 4 1-2 1-3 1 6 1-4 1-2 1 4 1-3 1 2 1 0 1 5 1-5 1 1 1 0 1 3 1-2 1 1 1 1 1-3 1 2 1 1 1 3 1-7 1 3 1 0 1-2 1 1 1-9 1 6 1 3 1-2 1 0 1 0 1 2 1-3 1-4 1 7 1-6 1 0 1 0 1 0 1-4 1 3 1 2 1-3 1 6 1-3 1 1 1 1 1-4 1 0 1-3 1 4 1-4 1 4 1-2 1-1 1-1 1-3 1 2 1-3 1 0 1 0 1-1 1 1 1 1 1 5 1-5 1 3 1-6 1 7 1-6M0 19l1 0 1-5 1 5 1-1 1-3 1-1 1 0 1 2 1-2 1-1 1-1 1-3 1 6 1-1 1 2 1-8 1 3 1 0 1-8 1-2 1 8 1-4 1 5 1-4 1 1 1-1 1 2 1-3 1 4 1-2 1 11 1-5 1-3 1 3 1 4 1-2 1-4 1 9 1 0 1 2 1-4 1-5 1-2 1-3 1 3 1-3 1 0 1 2 1 2 1-5 1 3 1-5 1 7 1 2 1-8 1-1 1 3 1-1 1-1 1 0 1 3 1-3 1-2 1-4 1 6 1-1 1 1 1-8 1 5 1 4 1 0 1-5 1 3 1 3 1-4 1 0 1-1 1 2 1-4 1-2 1 5 1 0 1-5 1 5 1-1 1 5 1-10 1 2 1 10 1-5 1 2 1-3 1 3 1 2 1-9 1 1 1-2 1 1 1 6 1-2 1 1 1 7 1 0 1-7 1-3 1 13 1-11 1-4 1 3 1 2 1 6 1-9 1 2 1-1 1 2 1 8 1-8 1 4 1-1 1-3 1 5 1-6 1 5 1-6 1 3 1 2 1-4 1 1 1 2 1 4 1-5 1 4 1-4 1 2 1-7 1 5 1 6 1-6 1 2 1 5 1-10 1 0 1 5 1-3 1-4 1 5 1-2 1 0 1 6 1-5M0 -72l1 6 1-2 1-1 1-11 1 11 1 7 1 1 1 0 1-2 1 9 1-2 1 2 1-2 1-3 1 0 1 5 1 2 1 5 1-1 1 1 1 5 1-1 1 5 1-5 1 14 1-7 1-1 1 0 1-3 1-1 1 6 1-1 1 8 1-8 1-1 1 1 1 5 1 1 1 1 1 2 1-7 1 7 1-7 1 6 1-5 1 8 1-6 1 1 1 3 1 1 1 6 1 1 1-3 1 4 1-5 1-4 1 2 1 1 1 0 1 7 1-4 1 8 1-1 1-2 1 5 1-9 1 10 1-9 1 0 1 2 1 0 1 6 1-3 1-5 1 10 1-7 1 4 1 2 1 0 1-7 1 2 1 5 1-6 1 4 1 0 1 5 1-5 1-2 1 2 1-2 1 4 1-4 1 9 1-6 1-3 1 0 1 1 1 4 1-3 1 3 1-1 1 4 1-7 1-1 1-1 1 0 1 1 1 0 1 3 1 2 1-1 1-1 1 0 1-3 1 0 1 5 1-4 1 4 1-4 1 2 1-3 1 0 1 7 1 0 1-2 1-1 1-4 1 5 1 4 1-5 1 4 1 0 1 3 1-3 1-2 1-1 1 4 1-1 1-1 1-3 1 4 1-3 1 9 1-5 1-1 1-4 1-4 1 0 1 4 1 7M0 -4l1 0 1 1 1 2 1 1 1-2 1-2 1-3 1 5 1-5 1 3 1 5 1-4 1 1 1 2 1 2 1-3 1 3 1-2 1 1 1 0 1 3 1 3 1-6 1 1 1-1 1-7 1 6 1 1 1 2 1-5 1-2 1 4 1 1 1 0 1-4 1-2 1-1 1-1 1 1 1 13 1-8 1 0 1 3 1 2 1-1 1 1 1-1 1-4 1-3 1 2 1 2 1 2 1-2 1 6 1 2 1-3 1 1 1-1 1-4 1 4 1 1 1 4 1-7 1 2 1-1 1 4 1 2 1-2 1-6 1 3 1-5 1 5 1-7 1 0 1 0 1 3 1 1 1 3 1-3 1-5 1-6 1 1 1 6 1-1 1-4 1 4 1-4 1 2 1 3 1 1 1-1 1-2 1 6 1-3 1 6 1-7 1-4 1 4 1 6 1-9 1 5 1-4 1-1 1 4 1-4 1 1 1-2 1 1 1 5 1 2 1-4 1-3 1 1 1 5 1-6 1 2 1 5 1 3 1 1 1-1 1-4 1 6 1-5 1-2 1 1 1 3 1-1 1-3 1 3 1-6 1 3 1 4 1-3 1-1 1 0 1 1 1-1 1-1 1 1 1-3 1 3 1 3 1-1 1-3 1-7 1 9 1 0 1 0 1-1 1 5M0 -54l1 6 1-2 1 7 1-4 1 3 1 8 1 3 1-2 1 4 1-2 1 8 1 5 1-5 1-2 1 8 1 3 1-2 1-2 1 4 1 3 1-3 1-3 1 4 1-4 1 4 1-3 1 2 1-3 1 6 1 2 1-1 1-2 1 0 1 4 1 3 1-8 1 6 1 3 1-4 1-2 1-2 1 9 1-3 1-2 1 4 1 1 1-3 1 3 1 2 1 0 1 3 1 0 1-6 1 1 1 2 1 3 1-9 1 7 1 0 1-7 1 5 1 4 1-5 1 0 1 0 1 4 1 0 1-7 1 3 1 4 1 6 1-13 1-2 1 9 1-2 1-2 1 3 1-4 1 9 1-3 1-2 1-3 1 3 1-2 1 4 1-2 1 1 1 0 1-5 1 1 1 1 1-2 1-1 1 0 1 7 1 1 1 0 1-1 1-1 1-3 1 7 1-2 1-5 1 9 1-10 1 1 1 7 1-3 1-4 1-2 1 5 1 4 1-11 1 3 1 2 1-7 1 3 1-1 1 10 1-6 1-2 1-1 1 1 1 1 1-10 1 6 1-6 1 5 1-2 1 0 1 6 1-10 1 4 1-3 1-5 1 7 1-1 1-1 1 1 1-1 1-3 1 2 1 3 1 0 1 1 1-4 1-2 1 4 1-4 1 5M0 5l1-7 1 8 1 1 1-3 1 0 1 4 1-1 1-10 1 6 1-6 1 0 1-4 1 4 1 4 1-4 1 0 1 6 1-2 1 7 1-4 1 2 1 2 1-2 1-2 1-3 1 0 1 2 1-2 1 7 1-10 1-1 1 5 1 2 1 0 1 3 1-4 1 3 1 0 1 1 1-2 1-5 1 1 1 4 1 2 1-6 1 5 1 0 1 6 1-7 1 1 1 0 1-3 1 3 1 0 1-3 1 3 1-1 1 5 1-3 1-1 1 1 1-4 1-1 1 1 1 2 1 4 1 1 1-5 1 3 1-1 1 7 1-4 1-6 1-2 1 12 1 0 1-9 1 0 1 6 1-6 1-2 1 4 1-3 1 1 1 0 1 5 1-3 1-7 1 4 1-7 1 5 1 0 1 7 1-8 1-1 1 8 1 0 1-4 1 1 1-6 1 4 1-5 1 2 1 2 1-2 1 2 1 0 1 4 1-3 1 3 1-2 1-1 1 3 1 4 1-2 1 1 1-5 1 4 1 1 1-1 1 1 1-5 1 4 1-4 1-3 1 1 1 2 1 1 1-4 1-5 1 6 1 4 1-1 1-5 1-1 1-1 1 0 1 1 1 2 1-8 1 9 1 3 1-6 1-2 1 7 1 0 1 1 1 0 1-1 1-4M0 -22l1 1 1-8 1 6 1 6 1 2 1-1 1-7 1 3 1 7 1 3 1 2 1 5 1-5 1-5 1 7 1-5 1 6 1 2 1 0 1 6 1-3 1-4 1 5 1-5 1 1 1 1 1 1 1 2 1 0 1-7 1 8 1-5 1 3 1-2 1 1 1-3 1-3 1 4 1 1 1-2 1 1 1-5 1 2 1 1 1 2 1-5 1 4 1 2 1 0 1 1 1-2 1-2 1 3 1-4 1 4 1 1 1 0 1-5 1 2 1 1 1-2 1-2 1 7 1-9 1 8 1-6 1 9 1-6 1 3 1 1 1-5 1 3 1-3 1-3 1 8 1-8 1 9 1 1 1 1 1-1 1-5 1 5 1-3 1-2 1-4 1 3 1 0 1 2 1-10 1 9 1-3 1-2 1 4 1 1 1-3 1-1 1 3 1 0 1-9 1 11 1 0 1-6 1 1 1-2 1 1 1-4 1 1 1 3 1 5 1-4 1 7 1 0 1 0 1-2 1 4 1-4 1 3 1-7 1-1 1 8 1-2 1-3 1 6 1 0 1-3 1 0 1-2 1 3 1 5 1-5 1 0 1 4 1-5 1-2 1 2 1-5 1 1 1 4 1 0 1 0 1-2 1 1 1-5 1 4 1-3 1 6 1-5 1-3 1 0 1 0M0 -18l1-1 1 6 1-9 1-1 1 6 1-1 1-3 1-2 1-1 1 1 1-4 1 2 1-1 1-1 1 2 1 5 1-3 1 4 1-1 1-4 1 8 1-4 1 6 1 1 1 2 1-3 1 1 1-1 1-3 1 5 1-2 1 0 1 0 1-2 1 3 1-1 1 0 1 5 1-6 1 3 1-2 1 3 1-4 1 3 1-1 1 1 1-3 1-1 1 5 1-2 1 2 1-5 1 2 1 4 1 2 1 2 1 0 1-1 1 1 1-4 1-3 1 4 1 4 1 0 1 0 1 2 1-1 1-8 1 0 1 7 1-3 1 2 1 3 1-2 1 0 1 2 1-6 1 3 1-1 1-1 1 4 1-3 1-3 1 8 1-10 1 2 1 3 1-4 1 2 1 0 1 1 1 1 1 2 1-3 1 1 1-1 1 3 1 0 1-2 1-5 1-2 1 3 1-1 1 5 1-1 1-3 1 3 1-1 1 1 1 0 1 1 1-2 1 0 1 6 1 0 1-6 1 7 1-5 1 3 1-2 1 0 1 4 1-2 1 2 1-4 1 3 1-3 1 1 1 0 1-5 1 12 1-9 1 5 1-3 1 2 1 2 1-4 1 1 1 5 1-6 1-3 1 4 1 4 1 6 1-8 1-4 1-1 1-3 1 3 1-3M0 20l1-3 1-1 1-2 1 4 1 4 1-11 1 0 1-12 1 9 1 0 1-9 1 0 1 4 1-5 1 3 1 0 1 2 1-7 1 9 1-5 1-5 1 0 1 4 1 2 1-1 1-2 1-3 1 1 1 5 1-2 1-2 1-4 1 0 1 3 1-4 1 4 1-2 1-6 1 9 1-9 1 8 1-3 1-7 1 11 1-4 1 1 1 6 1-5 1 0 1-1 1-1 1 2 1 1 1 6 1-3 1-2 1-4 1-1 1 1 1 3 1 3 1-7 1 2 1 4 1-4 1 3 1-2 1 1 1 4 1-7 1 2 1-5 1 2 1 3 1 4 1-8 1 4 1-6 1 4 1 0 1 2 1-4 1-3 1 1 1 3 1-1 1 3 1 0 1 1 1 2 1-2 1 3 1 1 1 2 1-7 1 5 1-4 1-1 1-1 1 0 1 3 1-3 1 2 1-7 1 5 1 1 1 0 1-3 1 7 1 0 1-4 1-1 1 6 1-3 1-4 1 4 1-11 1 5 1 2 1-4 1-1 1 1 1-2 1-4 1 2 1-1 1 0 1-4 1 3 1-6 1 9 1 0 1-7 1 6 1-1 1-1 1-2 1-3 1 4 1 7 1-9 1 3 1-1 1 8 1-4 1-1 1 2 1-2 1 3 1-5M0 69l1-2 1-2 1-11 1 0 1 0 1 1 1-1 1-13 1 4 1-6 1 0 1-3 1 5 1-2 1 3 1-6 1-4 1 3 1-3 1 1 1-6 1 1 1-5 1 8 1-2 1-3 1-4 1 7 1-8 1 2 1 0 1-5 1 4 1 0 1-1 1-6 1 0 1 1 1-5 1 3 1-2 1-4 1 7 1 3 1-8 1-6 1-3 1 5 1 1 1 5 1-4 1 0 1-3 1 5 1 0 1-2 1-6 1 0 1 8 1-5 1-12 1 8 1 2 1-10 1 11 1-6 1-3 1 2 1 7 1 1 1 0 1-7 1-1 1 2 1-4 1 0 1 0 1 6 1-1 1-4 1 3 1 3 1-2 1 2 1-1 1 3 1-5 1 0 1-6 1 7 1-4 1-5 1 8 1-4 1 9 1-9 1 4 1 3 1-8 1 3 1 0 1-2 1 3 1-3 1 2 1 2 1 0 1-4 1-6 1 7 1-3 1 0 1 5 1-3 1 2 1-2 1-5 1 10 1 4 1-8 1 4 1 0 1-3 1-8 1 1 1 4 1 5 1-3 1 5 1-2 1 2 1-10 1 3 1 1 1-6 1 7 1-3 1 2 1 4 1-7 1 9 1-11 1 4 1-4 1 5 1 2 1 1 1-7 1 8 1-6M0 -28l1-2 1 0 1 10 1 1 1 8 1 1 1-3 1 1 1 4 1 3 1-3 1-2 1-2 1 2 1 3 1 6 1-1 1 2 1-3 1-4 1 2 1 5 1-5 1 2 1-7 1-1 1 10 1 0 1-5 1 2 1-2 1 0 1 0 1 4 1-5 1 4 1 1 1 5 1-4 1-5 1 0 1 0 1 2 1 6 1-6 1 0 1 4 1 0 1-2 1 1 1-2 1-2 1 3 1 5 1-7 1 4 1 4 1-2 1 0 1 4 1-8 1 4 1-3 1 8 1-10 1 6 1-2 1 4 1-10 1 8 1 10 1-8 1-3 1 5 1-3 1-4 1 4 1 2 1-3 1-3 1 1 1 1 1 4 1 1 1-1 1-8 1 10 1-3 1 0 1-6 1 4 1 0 1 4 1-13 1 11 1-2 1 6 1-2 1 7 1-9 1-3 1 1 1 3 1-1 1 5 1 1 1-9 1-1 1 2 1-1 1 0 1 3 1 3 1-3 1-6 1 8 1-7 1 1 1 5 1-3 1-4 1 6 1-1 1 3 1-7 1 4 1 1 1-8 1 5 1 4 1-3 1 0 1 1 1-1 1 6 1-6 1 3 1-8 1 4 1 0 1 1 1 3 1-2 1-5 1 1 1-1 1 4 1-4 1 4 1-1M0 -27l1-4 1 5 1 4 1 0 1-5 1 7 1 0 1 3 1-1 1-1 1 2 1 2 1-3 1 1 1-9 1 5 1-1 1-1 1 13 1-5 1 2 1-6 1 3 1-1 1 5 1-1 1 2 1 0 1 3 1-1 1 2 1 2 1-8 1-2 1 1 1 2 1 5 1 0 1-4 1 6 1-7 1 1 1 0 1 4 1 3 1-3 1 3 1 0 1-1 1 8 1-9 1 0 1 2 1 2 1-1 1-3 1 1 1-2 1 4 1 0 1 0 1 3 1-6 1 1 1 4 1-5 1 1 1-4 1 10 1-10 1 3 1 6 1-2 1 0 1-3 1-3 1 10 1-3 1 0 1-4 1 3 1-3 1 5 1-3 1 0 1 2 1-5 1 7 1-3 1 2 1 0 1-1 1 1 1-2 1-2 1 0 1 3 1-4 1 8 1-8 1 6 1-3 1-1 1 6 1-6 1 1 1 2 1-1 1 0 1 1 1-11 1 14 1-3 1-2 1 3 1 2 1-4 1 0 1-1 1 1 1-2 1 3 1-2 1-5 1-5 1 12 1 0 1 1 1 1 1-1 1-1 1-4 1 6 1 2 1-1 1-6 1 2 1 3 1-8 1 7 1-5 1 3 1 4 1-1 1 0 1 3 1-1 1 1 1-1 1 3M0 7l1 4 1-3 1-1 1 1 1 1 1 3 1-3 1 6 1-7 1-2 1 6 1 0 1 6 1-4 1-5 1 1 1-1 1-2 1-2 1-1 1 3 1-7 1 3 1 0 1-2 1 5 1 7 1 1 1 2 1 0 1 1 1 0 1 1 1 2 1-4 1-4 1-1 1-2 1 9 1 1 1-5 1 6 1-7 1-3 1 0 1 6 1-5 1 1 1-2 1-6 1 7 1-4 1-2 1 2 1 1 1 1 1 1 1 3 1-3 1 2 1-3 1 7 1 0 1-6 1 3 1-7 1 2 1 0 1 2 1-4 1-3 1 5 1-1 1 0 1 0 1-1 1-4 1 2 1 3 1 1 1 0 1-1 1 2 1 2 1-5 1 0 1-5 1 6 1-4 1 3 1-4 1 5 1-2 1-4 1 7 1-3 1-4 1 0 1 4 1 4 1-3 1-3 1 9 1-6 1-6 1 0 1-1 1 1 1-5 1 6 1 2 1-5 1 5 1 1 1-4 1 10 1-9 1 3 1-4 1-1 1 5 1-8 1 3 1 5 1-7 1 1 1-2 1 2 1-3 1 3 1 5 1-4 1 4 1-6 1 3 1-7 1-4 1 2 1 9 1-8 1 3 1-2 1 6 1 0 1-2 1-1 1 1 1 0 1-5 1 3M0 9l1-1 1-3 1 2 1-1 1 1 1 3 1-8 1-3 1 8 1-1 1 0 1-7 1 12 1-3 1-3 1 7 1-1 1 5 1-10 1 3 1-3 1-1 1-1 1 1 1 10 1-9 1-5 1 6 1-6 1 3 1 0 1 6 1 0 1-5 1 1 1-8 1 4 1 3 1 0 1-1 1-4 1 0 1 0 1 6 1-8 1 5 1 1 1-1 1-5 1 1 1 3 1 2 1-3 1 0 1 4 1 1 1 3 1-3 1-7 1 3 1 2 1-3 1 3 1 2 1-6 1 1 1-1 1 5 1 4 1-7 1 0 1-3 1 0 1-1 1 1 1 1 1 4 1-3 1-1 1-2 1 3 1 0 1-2 1-4 1 5 1 6 1 0 1-2 1-2 1 4 1-6 1 3 1-1 1 4 1-4 1 5 1-3 1 3 1 2 1-3 1 3 1-4 1 0 1 1 1-3 1 2 1-4 1 6 1-2 1 0 1 4 1-4 1 2 1-4 1 0 1 0 1-2 1-2 1 0 1 12 1-13 1 6 1-2 1 2 1-2 1 0 1 3 1-4 1 0 1-1 1 5 1 4 1-6 1 2 1-4 1 10 1-4 1-2 1 2 1-4 1-2 1 4 1 0 1-2 1 1 1 2 1-4 1 0 1 2 1 1M0 -54l1 7 1 6 1 5 1 4 1 0 1 1 1-3 1 4 1 12 1 0 1 1 1-3 1 4 1-2 1 3 1 1 1 1 1-1 1 0 1-7 1 14 1-8 1 0 1 4 1-4 1 3 1-7 1 5 1 4 1-2 1 6 1-6 1-1 1 4 1 4 1-3 1 7 1-2 1 5 1-7 1-4 1-1 1 7 1-5 1-1 1 7 1 0 1 0 1-4 1 1 1 0 1 0 1-3 1 4 1 3 1-3 1 2 1-5 1 2 1-2 1 3 1 1 1-7 1 5 1-1 1-1 1 0 1-3 1 7 1-8 1-1 1 5 1 0 1 1 1 1 1-2 1 6 1-3 1 1 1-2 1-1 1 6 1-2 1-6 1 4 1-3 1 5 1-1 1-1 1 0 1-2 1 2 1-3 1 1 1 2 1 0 1-1 1 0 1 5 1-5 1-1 1 1 1-1 1-1 1 0 1-3 1 7 1 3 1-3 1 2 1-4 1-2 1 4 1-4 1 6 1 1 1-5 1 4 1-7 1-3 1 6 1 0 1 0 1-12 1 9 1 5 1-3 1-3 1 6 1-1 1-4 1 1 1 2 1 0 1 2 1 0 1-6 1 3 1-2 1 2 1-1 1-3 1 0 1 5 1 0 1 3 1-7 1 1 1 0 1-2M0 34l1 2 1 0 1-4 1 2 1-6 1 2 1 2 1-2 1-3 1 3 1 1 1-3 1 0 1 3 1-4 1-2 1 1 1 4 1-2 1-5 1-5 1 2 1-9 1 7 1 3 1-3 1-1 1-3 1 4 1 4 1-3 1-8 1 3 1-6 1 3 1-4 1 2 1 0 1-1 1-3 1 4 1-2 1 1 1 4 1-5 1 8 1-5 1-1 1-2 1 5 1-1 1 4 1-3 1 0 1 2 1 1 1 2 1-6 1-1 1 3 1-4 1 2 1-7 1 2 1 2 1-3 1 1 1 3 1-2 1 0 1-1 1 3 1-2 1 4 1-2 1-9 1 0 1 5 1-4 1 6 1-8 1-5 1 4 1-1 1 3 1-1 1-2 1-2 1-1 1-1 1 14 1-7 1-5 1 7 1-4 1-2 1 8 1-5 1 1 1 2 1-1 1-1 1 0 1 3 1 0 1-5 1 5 1 6 1-4 1-10 1 5 1-1 1-3 1 7 1-3 1 1 1 2 1-7 1 1 1-3 1 4 1 0 1-4 1 2 1-5 1-1 1 4 1 5 1-4 1-3 1 4 1 0 1 1 1-1 1 5 1-10 1 3 1 3 1 1 1 2 1-3 1 2 1-1 1 1 1 3 1-5 1 1 1 0 1 4 1-1M0 0l1 11 1-5 1 0 1 1 1-2 1 2 1-1 1-8 1-6 1 5 1 2 1-1 1 13 1-5 1-1 1-2 1-5 1-2 1 4 1 2 1-4 1 6 1-4 1-1 1 5 1-4 1-2 1 0 1 8 1 1 1-4 1 0 1-1 1 4 1-9 1 1 1 3 1-2 1-1 1-4 1 1 1 3 1 4 1-4 1 5 1-5 1 2 1-2 1 0 1 1 1 7 1-7 1-1 1 0 1-1 1 0 1 3 1-1 1-5 1 3 1-3 1 5 1 2 1-2 1 6 1 0 1-8 1 3 1-3 1 3 1-7 1-1 1 1 1 8 1-7 1 6 1-6 1 7 1-4 1-6 1 3 1 7 1-9 1 10 1-2 1 1 1 6 1-5 1-7 1 5 1 0 1-8 1 9 1 2 1 2 1-2 1-4 1 0 1 0 1 4 1-5 1-3 1 0 1 3 1 0 1-5 1 0 1 0 1 0 1-4 1 2 1-3 1 4 1 2 1-7 1 3 1 4 1 2 1-1 1 11 1-13 1 4 1-3 1-1 1 5 1-10 1 3 1-3 1 10 1-2 1-8 1 3 1 2 1-3 1-1 1-1 1-1 1 4 1-3 1-4 1 3 1 2 1 2 1 0 1-6 1 3 1-2 1-3 1 0 1 0M0 -45l1 5 1 10 1-1 1-1 1 7 1 7 1 2 1-7 1 3 1 7 1-4 1-3 1 6 1-4 1 2 1 9 1 1 1-3 1 6 1 1 1-4 1-1 1 1 1-5 1-4 1 1 1 7 1 4 1-4 1-1 1 6 1-1 1 1 1 13 1-11 1-2 1 1 1 3 1 0 1 1 1-5 1-1 1 3 1-3 1 10 1-5 1-1 1-2 1-3 1-5 1 8 1-3 1-1 1-2 1 9 1 1 1-6 1 0 1-5 1 4 1 1 1 2 1 3 1 1 1 4 1-11 1 2 1 6 1-1 1-5 1-1 1 10 1-2 1-7 1 3 1 2 1-1 1-8 1 6 1-1 1 2 1-2 1 2 1-1 1-6 1 9 1 0 1 1 1-1 1 0 1-3 1 6 1-3 1-4 1 3 1 3 1-4 1 0 1-7 1-1 1 5 1 1 1-2 1 1 1 2 1 6 1-2 1-1 1 4 1-8 1 11 1-2 1-5 1 5 1 1 1-10 1 2 1 11 1-1 1-4 1-2 1 2 1-2 1 2 1 0 1-4 1 3 1-6 1 5 1-4 1 4 1-2 1 10 1-9 1-4 1 2 1-4 1 3 1-4 1 6 1-7 1 4 1-3 1-1 1 3 1-1 1 2 1-4 1 3 1 4M0 -19l1 1 1 2 1 1 1-6 1 2 1 7 1-3 1-1 1 4 1-1 1-2 1 5 1 3 1 4 1-8 1 7 1-3 1-4 1 0 1-4 1 5 1 6 1 0 1-6 1 9 1 0 1-3 1-1 1 1 1 1 1-4 1-2 1-2 1-2 1 1 1 0 1 1 1 3 1-1 1-1 1 1 1-2 1-2 1-5 1 3 1 4 1 3 1 5 1-10 1-1 1 7 1 4 1 5 1-4 1 4 1-2 1-3 1-5 1 4 1 0 1-1 1 2 1-2 1 1 1 0 1 0 1-2 1 0 1-2 1 6 1-2 1-4 1-3 1 3 1 3 1 0 1-3 1 1 1-3 1 4 1 4 1 1 1-8 1 0 1 4 1-4 1 4 1-5 1 3 1 5 1-14 1 5 1 3 1 0 1 3 1-4 1-5 1 11 1-5 1 0 1-1 1 0 1 6 1-8 1-1 1 4 1-1 1-2 1-1 1-2 1 3 1 0 1-5 1 8 1-2 1-1 1 1 1-5 1 11 1-7 1 11 1-6 1-4 1 6 1-1 1 5 1-1 1 2 1-10 1 6 1-5 1 5 1 1 1-4 1-3 1 3 1-6 1 7 1 1 1-5 1 3 1-2 1 6 1-5 1 6 1 2 1-2 1 2 1-6 1 1M0 -50l1-8 1 5 1 3 1 0 1 2 1-2 1 13 1 6 1-6 1 2 1 4 1 5 1-6 1-3 1 6 1 3 1 2 1 5 1-8 1 3 1 9 1-6 1 2 1 6 1-1 1-7 1 1 1-4 1-5 1 8 1 4 1 4 1 5 1-3 1-4 1 2 1-3 1-5 1 10 1 3 1-7 1-4 1 7 1 3 1-4 1 4 1-3 1 3 1 0 1 3 1 3 1-5 1 0 1 0 1 1 1 6 1-4 1-6 1 3 1 3 1 0 1 4 1-2 1-4 1-1 1 8 1-3 1 5 1-3 1 2 1 3 1-5 1-1 1 3 1-5 1 4 1 3 1-9 1 4 1-5 1 0 1 7 1-8 1 2 1 0 1 5 1-1 1-1 1-1 1 9 1-5 1 1 1 0 1 7 1-6 1 0 1 3 1-2 1 0 1-5 1 5 1-6 1 0 1 7 1-2 1 1 1-5 1 0 1 7 1-5 1 0 1 2 1 0 1-5 1-2 1 2 1 5 1-1 1-7 1 0 1 3 1 1 1 1 1-2 1 0 1 4 1-3 1-2 1 5 1-5 1 5 1-1 1-6 1 0 1 1 1 6 1-2 1 6 1 0 1-2 1-2 1 5 1-1 1-2 1-4 1 2 1 4 1-2 1-5 1 4M0 9l1-3 1 7 1-8 1 0 1-2 1 3 1-6 1 8 1 4 1-4 1-3 1 5 1-2 1-4 1 2 1-1 1 8 1-10 1-4 1 6 1-7 1 2 1 0 1 0 1-4 1 3 1-4 1 7 1 1 1 2 1-4 1 4 1-2 1 4 1 2 1-4 1 3 1 2 1-2 1-1 1-3 1 8 1-6 1-2 1 1 1-2 1-4 1 9 1-8 1 7 1 3 1-6 1-1 1 1 1-2 1 0 1 5 1 0 1-5 1-2 1 2 1 7 1 0 1-3 1 4 1-1 1-1 1 0 1 2 1-5 1 6 1-1 1 3 1 4 1-6 1-3 1-4 1 0 1 4 1 0 1 4 1 2 1-4 1-4 1 6 1-10 1 3 1-1 1 5 1-8 1 4 1 2 1 8 1-9 1 0 1 3 1 0 1 0 1-7 1 2 1-2 1-3 1 5 1 0 1-2 1 1 1-3 1 5 1-2 1 4 1-5 1-1 1 3 1 0 1-3 1-2 1-3 1 1 1-2 1-1 1 9 1 2 1-1 1-2 1-3 1 0 1 2 1-4 1 5 1-1 1-3 1-3 1 6 1-4 1 1 1-2 1 0 1 6 1-7 1 1 1 5 1-13 1 3 1 3 1 2 1-6 1 3 1-1 1 2 1 3M0 -13l1 3 1-3 1 5 1 3 1-1 1-6 1 0 1-1 1 5 1 2 1-3 1 4 1-4 1 2 1 4 1 1 1 2 1-2 1-4 1 4 1-4 1-4 1 3 1 0 1-1 1 2 1 2 1-3 1-1 1 7 1-6 1-2 1 3 1 6 1-9 1 1 1 4 1 4 1 2 1 0 1-5 1 0 1-1 1 4 1-2 1 1 1-4 1-2 1 1 1-6 1 6 1 0 1-1 1 10 1-6 1-3 1 1 1 0 1-5 1 7 1 4 1-2 1-7 1 4 1 4 1-4 1 0 1 1 1-8 1 9 1-2 1 4 1-7 1 1 1 2 1 2 1-1 1-2 1 0 1 3 1-6 1 1 1 3 1 0 1 3 1-9 1-3 1 5 1 7 1-1 1-1 1-3 1 0 1-1 1-4 1 5 1-4 1 2 1 6 1-3 1 2 1-4 1 5 1 1 1 0 1-3 1-1 1 5 1-4 1 3 1-8 1 11 1-6 1 0 1 3 1-5 1 0 1 1 1 2 1-2 1-3 1 7 1 0 1-2 1 2 1-2 1-3 1 3 1 0 1-2 1 1 1 4 1 3 1-8 1 6 1-6 1 7 1-3 1-8 1 7 1-1 1 3 1 0 1 0 1-2 1 2 1 2 1-1 1-1 1-2M0 31l1-9 1 9 1-3 1-8 1-3 1-3 1 4 1-1 1-3 1 2 1 5 1-3 1-5 1 1 1 2 1-7 1 1 1-2 1-4 1 5 1-3 1-2 1 1 1 7 1 3 1-4 1-5 1 4 1-10 1 9 1 4 1-3 1-4 1-2 1-3 1 0 1 8 1 1 1-4 1 4 1-9 1 7 1-4 1 3 1-3 1 3 1 2 1 1 1-4 1-2 1-4 1 4 1-5 1 3 1-4 1 5 1 1 1-2 1-1 1 0 1-2 1 3 1 0 1-3 1 1 1 2 1 1 1-1 1 3 1 0 1-9 1 10 1-12 1 4 1 7 1-7 1-1 1 2 1 3 1-2 1 1 1-3 1 1 1-2 1 5 1-6 1 5 1-2 1 1 1 0 1 3 1-2 1 3 1-3 1-2 1 1 1 4 1-2 1 4 1-2 1 0 1-1 1-3 1 7 1-6 1-2 1 3 1-3 1-2 1-2 1 2 1 0 1 0 1-2 1 2 1-5 1 7 1 1 1-2 1-5 1 5 1-2 1 0 1-5 1 4 1 1 1-2 1 0 1-1 1 4 1-3 1 3 1 0 1 0 1 1 1-8 1 5 1-3 1 6 1-6 1 7 1-6 1 11 1-8 1 2 1 2 1 1 1-2 1 3 1 1M0 6l1 2 1 8 1-10 1 9 1 0 1 3 1-6 1 1 1 4 1-12 1 7 1 1 1-1 1-3 1 1 1-1 1 3 1-5 1-1 1 6 1-1 1-6 1 6 1-8 1 5 1 1 1-6 1 1 1 4 1-2 1-6 1 5 1-8 1 10 1-5 1 0 1-1 1-2 1-1 1 3 1 4 1-7 1 14 1-14 1 7 1 0 1 2 1 0 1-8 1 5 1 2 1 0 1-6 1-5 1 8 1 0 1 1 1-2 1 6 1-8 1 1 1-3 1-1 1 8 1 4 1-7 1 1 1-2 1 0 1 0 1-2 1-2 1-6 1 7 1 0 1-4 1 4 1-7 1 3 1 2 1-1 1 6 1 3 1-5 1 4 1-4 1 3 1-11 1 8 1-5 1 4 1 1 1-5 1 3 1 1 1 4 1-4 1 2 1-1 1-3 1 5 1-1 1-2 1 0 1 3 1-2 1-6 1 0 1 5 1 0 1 2 1-6 1 3 1 3 1-5 1 5 1 0 1 0 1-3 1 2 1-2 1 1 1-1 1 0 1 4 1-2 1 1 1 1 1-7 1 1 1 5 1-3 1 3 1 8 1-4 1 0 1-7 1 4 1 0 1-4 1-6 1 4 1 1 1 1 1-2 1 1 1 0 1 0 1-3 1-3M0 -52l1-6 1 9 1-10 1 9 1 4 1 3 1 0 1 2 1 0 1 9 1-2 1-2 1 3 1 5 1-5 1 10 1-2 1 2 1 12 1-8 1 6 1-4 1 2 1 6 1 3 1-8 1 8 1-10 1 2 1 4 1 1 1-3 1 4 1-5 1 6 1-1 1 3 1 4 1-2 1 3 1 2 1-1 1 1 1 4 1-2 1 4 1-10 1 2 1 1 1 6 1-6 1 3 1-1 1 7 1-3 1 3 1-9 1-4 1 6 1 1 1 1 1 3 1-1 1-5 1 8 1-3 1 5 1-1 1-13 1 5 1 5 1-3 1 4 1 2 1-7 1 4 1-7 1 2 1 5 1 0 1-8 1 1 1-3 1 7 1 1 1 0 1 1 1 0 1 5 1-8 1-2 1 2 1 3 1-2 1-7 1 12 1-3 1-4 1 3 1 0 1 1 1-5 1 4 1-3 1 0 1-3 1 1 1-1 1 4 1 5 1 3 1-9 1 2 1-2 1-1 1-2 1 4 1 0 1-1 1-4 1 0 1 1 1 0 1 0 1-3 1 3 1 2 1-6 1 6 1-1 1 1 1 1 1-9 1-1 1 4 1-3 1-3 1 5 1 3 1-2 1-1 1 0 1 5 1-2 1 2 1-1 1 1 1-3 1-10 1 8M0 -1l1-5 1 11 1-6 1 11 1-10 1 1 1-4 1 2 1-7 1-7 1 4 1 1 1 2 1 1 1 1 1 1 1 4 1-1 1 4 1-15 1 11 1 1 1-2 1-3 1 5 1 0 1 1 1-3 1 2 1-1 1 3 1 1 1-5 1 2 1 0 1 3 1 4 1-10 1 8 1 0 1-1 1 1 1-6 1 4 1-7 1 6 1 2 1-1 1 2 1-5 1 2 1-5 1 0 1 2 1 0 1-2 1 2 1 3 1-3 1-1 1 1 1 4 1-2 1-8 1 4 1-3 1 2 1-1 1 6 1-8 1 5 1-4 1 5 1 2 1-4 1 5 1-3 1-2 1 2 1-3 1-1 1 5 1 4 1-5 1 4 1-2 1-7 1 0 1 4 1-3 1 2 1-1 1-2 1 1 1 6 1-8 1 10 1-3 1-1 1 5 1-8 1 4 1-4 1 2 1-4 1 5 1 0 1 1 1-6 1 8 1-8 1 3 1 0 1-10 1 13 1-2 1-6 1 0 1-2 1 5 1-5 1 3 1-3 1 6 1 2 1 2 1-3 1-1 1 2 1-3 1 3 1 4 1-7 1 1 1-3 1 4 1 0 1 2 1-6 1 1 1 4 1-4 1 1 1-1 1-2 1 4 1 3 1-2 1-4 1 0M0 -59l1 3 1-3 1 2 1 4 1 8 1 3 1 1 1 6 1-10 1 2 1 4 1 3 1-3 1 3 1 0 1 0 1-2 1 2 1-3 1 6 1-1 1 1 1 5 1-7 1 4 1-7 1-2 1 3 1 6 1-1 1 4 1 6 1-1 1-6 1 4 1 8 1-1 1-4 1-2 1 5 1 4 1-3 1-1 1 5 1-5 1 3 1 2 1 0 1 2 1-5 1 6 1-7 1 4 1 5 1 3 1-4 1 5 1 0 1 0 1-7 1 2 1 3 1 8 1-4 1-3 1 2 1 4 1 1 1-11 1 9 1 1 1 3 1-3 1 5 1-6 1 1 1 1 1-3 1 2 1-1 1-4 1 3 1 2 1-2 1 5 1 0 1 0 1 0 1-3 1 0 1 2 1 1 1-2 1 6 1-2 1-1 1 5 1-10 1-2 1 7 1 1 1-5 1 0 1 0 1 2 1 0 1 3 1-5 1-1 1-3 1 8 1-2 1 1 1-2 1-2 1 1 1 3 1 3 1 4 1-4 1-4 1 0 1 3 1 7 1-8 1 7 1-6 1 0 1 7 1-4 1 2 1 0 1 0 1 2 1 1 1-4 1-6 1 5 1-7 1 7 1-4 1 4 1-7 1 4 1-1 1-1 1-1 1 0 1 7 1-2M0 14l1-1 1 5 1-2 1 1 1-3 1 7 1 0 1-5 1 3 1 2 1-3 1 5 1 2 1-5 1-1 1-3 1-5 1 4 1-1 1-4 1 5 1-5 1 5 1 0 1-1 1-3 1 2 1-4 1 6 1-9 1 1 1 2 1-3 1-2 1 4 1-1 1 7 1-5 1-4 1 3 1 3 1 1 1-7 1-2 1 5 1 2 1-5 1 2 1-4 1 3 1-2 1-6 1 2 1 0 1 2 1-1 1 3 1-1 1 3 1-1 1-7 1 2 1 0 1-2 1 2 1 1 1 4 1-3 1 2 1 6 1-7 1 6 1-4 1 6 1-1 1-6 1 4 1-2 1-4 1 2 1 1 1 3 1-1 1 1 1-7 1 3 1-2 1 7 1-5 1 2 1 2 1-1 1-3 1-1 1 3 1-9 1 5 1-5 1-2 1 2 1 5 1 1 1-2 1 11 1-2 1-4 1 1 1-3 1 1 1-9 1 7 1-3 1-4 1 6 1-1 1-2 1 2 1 0 1-5 1 14 1-10 1 9 1-5 1-4 1 4 1-7 1 7 1 0 1 1 1-2 1-5 1 5 1-3 1-1 1 2 1 1 1 0 1 0 1 7 1-5 1-3 1 0 1 1 1 2 1-4 1 4 1-5 1 5 1 1 1 0M0 23l1 1 1-3 1 3 1-3 1 1 1-8 1 3 1 2 1 2 1-4 1 2 1-9 1 9 1-4 1 2 1-4 1 5 1-2 1-1 1 0 1 0 1-7 1 11 1-7 1-5 1-2 1 5 1 0 1-3 1 2 1-5 1 7 1-6 1-2 1 1 1 4 1-7 1 0 1 3 1-1 1-1 1 3 1 1 1-1 1 1 1-4 1-4 1 8 1-3 1 2 1-4 1 4 1 3 1-5 1 4 1 0 1-4 1 3 1 0 1-5 1-1 1 1 1 1 1 1 1 2 1-7 1 7 1 4 1-3 1-5 1 3 1-2 1 4 1-3 1-6 1 9 1-2 1-2 1 8 1-5 1-3 1 8 1 0 1-8 1-2 1 0 1 7 1-6 1-3 1 7 1 3 1-3 1-5 1 0 1 4 1-1 1-1 1 7 1-5 1 3 1-4 1 0 1 0 1-2 1 2 1 2 1-2 1-4 1 4 1-4 1 1 1 3 1-1 1 5 1-11 1 2 1 3 1-4 1-1 1 1 1-5 1 12 1-13 1-3 1 5 1-2 1 4 1-1 1-6 1-1 1 3 1 7 1-8 1 7 1-7 1 7 1 2 1 2 1-10 1-1 1 0 1 3 1 0 1 4 1-3 1 5 1-4 1 4 1 1 1 2M0 8l1 0 1-8 1 9 1-4 1 13 1-7 1-2 1 5 1-10 1 3 1 1 1 2 1 3 1 0 1-2 1 0 1 0 1-3 1 9 1-3 1 2 1 3 1-3 1-5 1 3 1 2 1 2 1-4 1 1 1-1 1-4 1 1 1 0 1 6 1-3 1-5 1 6 1-10 1 10 1 3 1-2 1-9 1 7 1-1 1-3 1 2 1-2 1-3 1 6 1-2 1 7 1-6 1 3 1-5 1 0 1 6 1-4 1 3 1 4 1 0 1-8 1-1 1 5 1-4 1-1 1 4 1-1 1-1 1 1 1 2 1-5 1 1 1-1 1 1 1 1 1-4 1 6 1-5 1 5 1-4 1 5 1-12 1 2 1 1 1 1 1 0 1-2 1 8 1-6 1 11 1-8 1-5 1 10 1-4 1-2 1 5 1-11 1 5 1 0 1 5 1-5 1 3 1-2 1-1 1 1 1 0 1-2 1-1 1 5 1-1 1 1 1 1 1 1 1 3 1 1 1-7 1-1 1 4 1-1 1-2 1 1 1-4 1-2 1-1 1 6 1 1 1 5 1-13 1 9 1-2 1 0 1-1 1-4 1 9 1-3 1 0 1 3 1-10 1 6 1 0 1 4 1-6 1 13 1-12 1 7 1 0 1-4 1-1 1 1 1-7M0 59l1-9 1-3 1 1 1 1 1-1 1-5 1 4 1-2 1 4 1-8 1-1 1 3 1-2 1 0 1 1 1-6 1-2 1 4 1-3 1-7 1 3 1 2 1-2 1-2 1-6 1 4 1 0 1-2 1 8 1-14 1 4 1 2 1-3 1 2 1-6 1-2 1 2 1-2 1-1 1 1 1 1 1 3 1-1 1-4 1 1 1-9 1 12 1-3 1 2 1 1 1-1 1-5 1 3 1 5 1-7 1 2 1 1 1 1 1-7 1-1 1 2 1 1 1-1 1 4 1-2 1-1 1 0 1 2 1-5 1-3 1 4 1-3 1 5 1 1 1 1 1 6 1-10 1 1 1-6 1 5 1-1 1 3 1 0 1 2 1 3 1-3 1-2 1 1 1 1 1-5 1 1 1 2 1 1 1-1 1-3 1-7 1 6 1-1 1 0 1 4 1-1 1-3 1 0 1 0 1 1 1-5 1 2 1 7 1-8 1 4 1 2 1-3 1 7 1-8 1 5 1 4 1-4 1 0 1-2 1 1 1-1 1-1 1-2 1 2 1 1 1 5 1-7 1 0 1 1 1-2 1 1 1-5 1 7 1 0 1 0 1 0 1-5 1 4 1-2 1 2 1-1 1 1 1 1 1 0 1 6 1-10 1 4 1-5 1 3 1 2M0 -61l1-7 1 11 1-9 1 6 1 1 1-8 1 5 1 5 1 5 1 2 1-3 1 3 1-2 1-1 1 4 1 3 1-5 1 10 1-4 1 4 1 6 1-8 1 8 1-5 1 2 1 1 1-1 1 1 1 6 1 0 1 2 1-5 1 3 1-5 1 10 1-4 1 1 1 11 1-2 1-7 1 3 1 3 1 0 1 0 1-4 1-3 1 1 1 1 1 2 1-3 1 4 1 5 1-5 1 1 1-4 1 9 1 3 1 0 1-4 1 3 1-8 1 7 1 6 1-3 1-1 1 1 1-6 1 5 1 2 1-7 1 12 1-5 1 1 1 1 1 7 1-9 1 7 1-5 1 2 1 0 1 2 1-6 1 5 1-5 1 8 1-2 1-1 1 2 1-4 1 7 1-4 1-2 1 0 1-3 1 9 1 1 1 0 1-4 1 1 1-1 1-5 1 6 1 0 1-2 1 2 1-4 1 10 1-2 1-2 1 7 1-8 1 6 1-4 1 3 1 2 1-9 1 4 1-4 1 7 1-4 1-4 1 7 1 2 1-4 1 1 1 4 1-7 1-2 1 5 1-3 1 3 1-4 1 0 1 1 1 6 1-8 1 8 1-6 1-1 1 5 1-2 1 0 1-1 1 4 1 3 1-2 1 5 1-4 1 5 1-5M0 -3l1-1 1 11 1-5 1 6 1-6 1 4 1-2 1-3 1 8 1-3 1-5 1 1 1-3 1 1 1 0 1-1 1 3 1-2 1 12 1 1 1-10 1 3 1-2 1 9 1-12 1 7 1-3 1-5 1 9 1 4 1-1 1 0 1 0 1 1 1-3 1-1 1 9 1-8 1-7 1 7 1-1 1 4 1-4 1 0 1 4 1-3 1 3 1-3 1 11 1-3 1-1 1-3 1 1 1 0 1 2 1-11 1 14 1-9 1-4 1 1 1 7 1-6 1-1 1-2 1 2 1 2 1-4 1 2 1 4 1 2 1-8 1 0 1-1 1 9 1 1 1-3 1 0 1 0 1 4 1-5 1-1 1 3 1-1 1-4 1 3 1-2 1-7 1 4 1 5 1-3 1 4 1-6 1 7 1-3 1-2 1-3 1 3 1 4 1-1 1-4 1 6 1-5 1 0 1 0 1 3 1-4 1 2 1 6 1-6 1-3 1-1 1 4 1-3 1 2 1 0 1-4 1 4 1-4 1 7 1-5 1-2 1-1 1 1 1-9 1 2 1 2 1 5 1 3 1-5 1-2 1 4 1 1 1-2 1-4 1 4 1 5 1-6 1-2 1 0 1-1 1 3 1 0 1 1 1-7 1 2 1 3 1-3 1-3 1 3 1 3M0 43l1 8 1-18 1 7 1-1 1-2 1 1 1-6 1 1 1 0 1 5 1-12 1 5 1-5 1 2 1-4 1-5 1-3 1 6 1 2 1-7 1 6 1-2 1-2 1 3 1-9 1 0 1-1 1 7 1-3 1-3 1 4 1 1 1-6 1 8 1-8 1 1 1-1 1 3 1 0 1-2 1 1 1-2 1-1 1 5 1-2 1 0 1 1 1-4 1-2 1 7 1-4 1 4 1-6 1 3 1 3 1-5 1 7 1-2 1-4 1 4 1 0 1-1 1 2 1 0 1 4 1-3 1-5 1-1 1 0 1 1 1-4 1-6 1 8 1-1 1-4 1 6 1 3 1-6 1 3 1-1 1-6 1 3 1 3 1-2 1 0 1-4 1 5 1-4 1 0 1 4 1-1 1-4 1 2 1 2 1-3 1 5 1-4 1 9 1-10 1 0 1 4 1-6 1 5 1-10 1 2 1 7 1-3 1-1 1 3 1 4 1 0 1-2 1 4 1-6 1 3 1-3 1 4 1-5 1 3 1 5 1-6 1 4 1-8 1 4 1 2 1 0 1 1 1-5 1 3 1-8 1 2 1 7 1 0 1-4 1 0 1 1 1 1 1 5 1-2 1-6 1 3 1-4 1 0 1 5 1 4 1-3 1 1 1-1 1-2 1 1" stroke="#ff0000" stroke-width="0.8" fill="none" vector-effect="non-scaling-stroke" stroke-linejoin="round"/>
<polygon points="62.0,340.8 64.8,341.5 67.7,341.5 70.5,342.0 73.4,342.8 76.2,342.4 79.0,342.8 81.9,342.3 84.7,342.9 87.6,343.2 90.4,343.4 93.2,343.5 96.1,342.9 98.9,343.7 101.8,343.8 104.6,343.6 107.4,343.7 110.3,344.1 113.1,344.2 116.0,343.9 118.8,344.4 121.6,344.1 124.5,343.9 127.3,343.9 130.2,343.8 133.0,343.8 135.8,344.5 138.7,344.2 141.5,344.0 144.4,344.1 147.2,344.5 150.0,344.8 152.9,344.0 155.7,343.8 158.6,344.7 161.4,344.4 164.2,344.5 167.1,344.7 169.9,344.3 172.8,344.2 175.6,344.2 178.4,344.7 181.3,344.1 184.1,344.3 187.0,344.6 189.8,344.9 192.6,344.7 195.5,344.7 198.3,344.4 201.2,344.4 204.0,344.5 206.8,344.5 209.7,344.6 212.5,345.3 215.4,344.3 218.2,344.3 221.0,344.6 223.9,344.5 226.7,344.7 229.6,344.7 232.4,343.9 235.2,344.4 238.1,344.6 240.9,344.8 243.8,344.5 246.6,344.2 249.4,345.0 252.3,344.5 255.1,344.6 258.0,344.5 260.8,344.5 263.6,344.8 266.5,344.1 269.3,344.6 272.2,344.2 275.0,344.1 275.0,353.0 272.2,352.8 269.3,352.8 266.5,353.5 263.6,352.8 260.8,352.7 258.0,352.8 255.1,352.8 252.3,352.8 249.4,353.1 246.6,352.6 243.8,352.8 240.9,353.0 238.1,352.2 235.2,353.1 232.4,352.8 229.6,353.1 226.7,352.9 223.9,353.0 221.0,352.9 218.2,353.8 215.4,352.7 212.5,353.1 209.7,352.9 206.8,353.3 204.0,352.7 201.2,352.9 198.3,352.8 195.5,353.3 192.6,352.6 189.8,353.5 187.0,353.0 184.1,353.1 181.3,352.9 178.4,353.5 175.6,353.2 172.8,352.6 169.9,353.4 167.1,353.1 164.2,353.7 161.4,353.0 158.6,353.4 155.7,352.7 152.9,353.1 150.0,353.0 147.2,353.4 144.4,353.6 141.5,353.3 138.7,353.6 135.8,352.4 133.0,352.7 130.2,353.7 127.3,353.1 124.5,353.2 121.6,353.1 118.8,353.6 116.0,353.0 113.1,352.7 110.3,353.5 107.4,353.6 104.6,354.1 101.8,353.3 98.9,353.1 96.1,354.0 93.2,353.7 90.4,354.0 87.6,353.7 84.7,354.1 81.9,354.6 79.0,355.0 76.2,354.5 73.4,354.5 70.5,355.6 67.7,355.0 64.8,355.7 62.0,356.2" fill="#000"/>
<path transform="translate(62.00 348.65) scale(1.4200 0.5295)" d="M0 42l2-7 2-1 2-5 2-1 2-2 2-3 2 1 2-6 2-2 2 2 2-1 2-6 2-1 2 0 2 1 2 0 2 2 2-2 2-5 2 2 2 2 2-5 2 1 2 0 2 1 2-2 2 0 2 3 2 0 2-6 2-2 2 1 2 0 2 0 2 3 2 2 2-3 2 4 2-2 2 1 2-3 2 0 2 0 2-2 2-4 2 7 2-3 2-1 2 0 2 4 2-2 2 1 2-1 2 0 2-2 2 0 2 0 2 2 2 0 2 5 2-3 2-2 2 1 2 1 2 2 2-1 2 2 2-4 2-1 2-3 2 2 2 5 2-2 2-1 2-1M0 -2l2 2 2-4 2 2 2 1 2 0 2 2 2-1 2-1 2 2 2-3 2 3 2-2 2 0 2 0 2 0 2-1 2 1 2 1 2-3 2 5 2-2 2-3 2 2 2 0 2 1 2-3 2 1 2 0 2 3 2-2 2 1 2 3 2-6 2 1 2 5 2-6 2 1 2 2 2-1 2 2 2-2 2 0 2 3 2-3 2 3 2-2 2-2 2 3 2-1 2-1 2 0 2 1 2-2 2 5 2-2 2-1 2 1 2 1 2-2 2-2 2 1 2-2 2 3 2-2 2 2 2 0 2 0 2-1 2 2 2-3 2 5 2-2 2 0 2 0 2-1M0 -2l2 3 2 2 2-2 2 0 2-2 2 0 2 1 2 1 2 0 2-1 2-3 2 4 2 4 2-4 2-1 2-1 2 4 2-4 2 1 2 4 2-1 2-1 2 1 2 0 2-1 2-3 2 0 2 0 2 1 2 1 2-1 2 1 2 0 2 1 2 0 2-1 2 1 2 2 2-4 2 1 2 2 2-2 2-2 2 3 2 2 2-1 2-2 2 1 2 0 2-1 2 0 2-1 2 1 2 2 2-2 2 0 2 2 2 0 2-2 2 3 2-1 2-1 2 2 2-4 2 2 2 0 2-2 2-1 2 0 2 3 2-3 2 3 2 1 2-1 2 0M0 1l2-2 2 4 2-2 2 0 2 2 2-1 2-3 2 3 2 2 2-4 2 2 2-1 2 0 2 2 2-1 2 1 2-3 2 0 2 2 2 2 2-1 2 2 2-6 2 2 2 1 2 0 2-3 2 4 2 1 2 1 2-1 2-2 2-3 2 2 2 1 2 1 2-1 2-1 2 0 2 2 2-1 2-3 2 4 2 0 2-3 2 3 2 2 2-3 2 1 2-1 2 2 2-2 2-1 2 4 2-2 2 0 2-1 2-1 2 1 2 0 2 0 2 0 2 2 2 0 2-3 2 0 2 1 2-1 2-2 2 3 2 0 2-2 2 3 2-2 2 0M0 -2l2-1 2 4 2 1 2-2 2 3 2-3 2 4 2 1 2-3 2 0 2 0 2 1 2-2 2 2 2 2 2-6 2 3 2 1 2 5 2-3 2 0 2-3 2 0 2-1 2 4 2-4 2 1 2 3 2-3 2-2 2 4 2 0 2-1 2-3 2 1 2 3 2 1 2-2 2-2 2 1 2 1 2 3 2-4 2 1 2-1 2 3 2-2 2 0 2-1 2 0 2 2 2-4 2-1 2 4 2-1 2 1 2-1 2 1 2 0 2-3 2 0 2 6 2-2 2-1 2 1 2 1 2-4 2 2 2-4 2 3 2 1 2 1 2 1 2-5 2 2M0 -1l2 0 2-5 2 3 2 2 2 4 2-2 2 1 2 1 2-1 2-1 2 1 2-1 2 0 2 0 2-1 2 1 2-3 2-1 2 6 2-1 2-2 2 3 2-4 2 2 2-1 2-4 2 2 2 2 2 0 2 1 2 0 2 1 2 2 2-5 2 4 2-4 2 2 2-2 2 1 2-2 2 4 2 0 2 0 2-2 2 0 2-1 2 2 2-1 2 1 2-3 2 2 2-2 2 2 2-1 2 1 2 3 2-3 2 0 2 2 2 1 2 0 2-3 2 3 2-3 2 1 2 1 2 0 2-1 2-4 2 6 2-3 2 1 2-1 2 0 2 1M0 0l2 0 2-3 2 4 2-2 2-1 2 0 2-1 2 0 2-4 2 8 2-1 2-2 2-2 2 1 2 1 2 2 2-5 2 0 2 2 2 0 2-2 2 3 2 0 2-1 2 0 2-1 2 4 2-4 2-1 2-1 2 3 2-1 2 2 2 0 2-1 2-2 2 3 2-2 2-2 2 0 2 3 2 1 2-3 2 2 2 0 2 2 2-1 2 0 2-2 2 2 2-3 2 0 2 2 2 0 2-1 2 1 2 1 2-2 2 5 2-5 2 3 2-2 2-1 2 3 2-2 2-1 2 3 2 0 2-5 2 4 2-3 2 0 2 1 2 2 2-4M0 -1l2 0 2 4 2-2 2 1 2-2 2 0 2 1 2 1 2-1 2 0 2-3 2 4 2-2 2 2 2-2 2 1 2-2 2 2 2-3 2 2 2 0 2 2 2-3 2 0 2 1 2 1 2-1 2-2 2 4 2-2 2-3 2 1 2-1 2 1 2 4 2-4 2 2 2 0 2 0 2-2 2 1 2 1 2-1 2 0 2 3 2-1 2 0 2 1 2-1 2 0 2 0 2-1 2-3 2 2 2-1 2 1 2 0 2 0 2 1 2-2 2 3 2-3 2 2 2-2 2 0 2-2 2 5 2-1 2 0 2 0 2-3 2 4 2-1 2 1 2-2M0 4l2-2 2-3 2-1 2 1 2-1 2 3 2 2 2-1 2-3 2 6 2-2 2-2 2-1 2 1 2 0 2 1 2-1 2 1 2 3 2-2 2-2 2 5 2-4 2-3 2 1 2 1 2 1 2-1 2 0 2 3 2-2 2 0 2 0 2 0 2 0 2-1 2-2 2 0 2 2 2 2 2-2 2-2 2 3 2 0 2-4 2 2 2 3 2-2 2-1 2 4 2-1 2-2 2 1 2-1 2 0 2-2 2 1 2-2 2 3 2 0 2 0 2-1 2 0 2 2 2 0 2 2 2 0 2-3 2-1 2 3 2 1 2-1 2-2 2 1 2-5M0 -2l2 4 2 1 2-3 2 0 2 0 2 3 2-2 2 1 2-2 2 0 2-3 2 6 2-3 2 2 2 0 2 0 2-1 2 1 2 0 2-1 2 2 2 0 2-1 2 1 2-4 2-2 2 3 2 3 2-2 2 0 2-1 2-1 2 0 2 2 2-2 2-1 2 2 2-1 2 2 2 1 2-2 2 4 2-4 2-2 2 3 2 2 2-1 2-1 2-1 2 1 2 1 2-1 2-2 2 4 2-5 2 4 2 1 2-2 2 2 2-3 2-1 2 2 2-2 2 3 2-3 2 2 2 1 2-1 2 3 2-4 2 2 2-3 2 0 2 2 2 2M0 -3l2 0 2 1 2-2 2 5 2-4 2 4 2-8 2 3 2 2 2 0 2 1 2 1 2-2 2-1 2 2 2-1 2 1 2-1 2-1 2-2 2 3 2 2 2-2 2 1 2 1 2-1 2 2 2-1 2-6 2 2 2 1 2 1 2 2 2-1 2 0 2 0 2-3 2 2 2 1 2 2 2-3 2 2 2-2 2 1 2-1 2-3 2 1 2 3 2 2 2-2 2 1 2-3 2 0 2 2 2 1 2 2 2-4 2 5 2-4 2 2 2-6 2 3 2-3 2 4 2-3 2 0 2 0 2 1 2 4 2-3 2-3 2 0 2 0 2 0 2 0M0 -2l2 0 2 2 2-3 2 1 2 1 2 4 2-5 2 5 2 4 2 1 2-5 2 2 2-2 2-1 2-1 2 1 2 1 2 0 2-1 2 5 2-2 2-4 2 2 2 2 2-3 2 0 2 0 2 1 2 0 2-1 2 1 2-3 2 1 2 0 2 0 2 3 2-1 2 0 2 1 2-1 2 1 2-3 2 0 2 4 2-4 2 0 2 2 2-2 2 0 2 2 2 1 2-6 2 3 2 1 2 1 2-3 2 2 2 1 2-1 2 1 2 0 2 0 2 1 2-5 2 2 2 3 2-2 2 0 2 0 2 0 2 1 2-2 2 4 2-6 2 1M0 -2l2 4 2 2 2 0 2-1 2 0 2 3 2-4 2 1 2-1 2 3 2 0 2-1 2-1 2 0 2-2 2 4 2-2 2 0 2 2 2 3 2-2 2-3 2 2 2 1 2-1 2-1 2 3 2-3 2 2 2-4 2 3 2 0 2-2 2 1 2 1 2-1 2 0 2-1 2 0 2 1 2 2 2-3 2 2 2 0 2-1 2 1 2 0 2 1 2 1 2-2 2-2 2 2 2-2 2 0 2 4 2-1 2-1 2-3 2 2 2 2 2-2 2 3 2-3 2 2 2-2 2 1 2-1 2 3 2-3 2 2 2-3 2 3 2-2 2-1 2 1M0 0l2 1 2-3 2 3 2 0 2-2 2 1 2 3 2-1 2-2 2-1 2 3 2-2 2 0 2-1 2 0 2 1 2-1 2-1 2 3 2 2 2 1 2-4 2-1 2 0 2 1 2 1 2-1 2 1 2 1 2-3 2-2 2 3 2 1 2-3 2 1 2 0 2 0 2 2 2 0 2-1 2-1 2 0 2-1 2 4 2-1 2-3 2 2 2 1 2-4 2 2 2 1 2 0 2 2 2 0 2-2 2 0 2-1 2 1 2-1 2 0 2-1 2 0 2 0 2-2 2 4 2 2 2-3 2-1 2 1 2 2 2 0 2 1 2-3 2 6 2-2M0 1l2-1 2 5 2-5 2 1 2 1 2-1 2 3 2 2 2-4 2-3 2 1 2 3 2 0 2-2 2 0 2 2 2-2 2 3 2-2 2 0 2 1 2-2 2 1 2 1 2 0 2-3 2 0 2 3 2 0 2 3 2-3 2 2 2-5 2 3 2-1 2 2 2-2 2 2 2-4 2 3 2-1 2 3 2-4 2 0 2 2 2 0 2 1 2-3 2 2 2-2 2 1 2 0 2 3 2 1 2-7 2 5 2 0 2 0 2-2 2 5 2-5 2 4 2-2 2-1 2-2 2 3 2-2 2 2 2 0 2-1 2 0 2-4 2 2 2 0 2 0M0 -2l2 6 2-7 2 4 2-2 2 2 2-2 2 3 2-1 2-2 2-1 2 0 2 0 2 2 2 1 2-2 2 0 2-2 2-1 2 3 2-3 2-3 2 3 2 2 2 0 2-2 2 2 2 2 2-2 2 4 2-5 2-1 2 4 2-3 2 1 2 2 2-2 2 2 2 0 2 1 2 1 2-2 2-4 2 4 2 0 2-1 2 1 2 2 2-3 2 3 2-3 2-3 2 1 2 0 2 0 2-1 2 0 2 2 2 0 2 0 2 0 2 4 2-1 2-1 2 1 2 0 2-1 2 0 2-1 2 0 2-1 2 0 2 4 2-7 2 3 2 1M0 0l2 1 2 1 2-1 2-2 2 0 2-2 2 0 2-1 2 1 2 0 2 0 2 1 2-4 2 1 2 2 2-1 2-3 2 3 2 0 2 2 2-3 2 0 2-1 2 4 2-1 2-4 2 4 2-2 2 2 2-1 2-1 2 2 2-2 2-1 2 0 2 2 2 0 2 1 2 1 2-5 2 1 2 2 2-1 2 1 2 2 2-6 2 5 2-2 2-1 2 0 2 0 2 3 2-2 2-3 2 2 2 1 2 2 2-2 2 1 2 0 2 3 2-4 2-1 2 0 2 2 2 0 2 1 2-4 2 4 2 1 2-1 2-1 2-2 2 1 2 0M0 1l2 0 2-1 2 0 2 2 2 2 2-3 2 1 2 3 2 1 2-2 2-2 2 5 2-5 2 2 2-1 2 1 2-3 2 2 2 0 2 0 2 3 2-2 2 0 2 0 2 0 2-1 2 0 2 1 2-1 2-2 2 3 2-3 2 1 2 3 2-1 2-2 2 3 2 1 2-2 2 3 2-3 2 1 2-2 2 0 2 2 2 1 2-3 2 1 2-2 2 4 2-1 2 0 2 0 2 1 2-5 2 0 2 1 2 0 2 3 2-1 2-2 2 1 2-1 2 3 2-1 2 0 2 0 2-1 2 1 2-2 2-2 2 2 2 0 2 1 2-1M0 -1l2 1 2 3 2 1 2-3 2-2 2 5 2 1 2-3 2 1 2-1 2 1 2-1 2-2 2 4 2-3 2 0 2 2 2 0 2-3 2 3 2-2 2 3 2-2 2-3 2 4 2-3 2-2 2 1 2 2 2 0 2-2 2 2 2 0 2 2 2-1 2-2 2 3 2-5 2 3 2-2 2 3 2-2 2 2 2-1 2-1 2 2 2-1 2 0 2 1 2 1 2-2 2 0 2 1 2-1 2-3 2 3 2 2 2 1 2-3 2 2 2-3 2-2 2 5 2 0 2-2 2 0 2 0 2-1 2-2 2 4 2-1 2 0 2-1 2 3 2 1M0 -1l2 0 2 3 2-3 2 3 2-1 2-5 2 1 2 2 2 3 2 0 2-2 2 2 2 0 2 2 2-2 2-2 2 1 2-3 2 3 2-1 2-1 2 1 2 2 2-3 2 1 2 3 2-3 2-1 2 1 2 2 2 0 2-1 2 0 2 2 2-3 2 1 2-2 2 3 2-1 2-4 2 4 2-2 2 2 2-2 2 1 2 1 2 1 2 1 2-3 2 0 2-4 2 0 2 3 2 2 2-2 2 2 2-1 2 0 2 0 2 0 2 1 2-3 2 2 2 0 2 1 2-2 2 0 2 3 2-2 2-1 2 1 2 0 2 0 2 0 2 3M0 -2l2-1 2-1 2 1 2 4 2-3 2-1 2 2 2-4 2 0 2-1 2 4 2-1 2 3 2-2 2 0 2 1 2 2 2-4 2 2 2-2 2 0 2-1 2 4 2-1 2-2 2 2 2 2 2-1 2-3 2 3 2-2 2-2 2 3 2-1 2 1 2-2 2 0 2 1 2 1 2 2 2-3 2 2 2-2 2 1 2-1 2 2 2-2 2-1 2 2 2 1 2-2 2-1 2-1 2 2 2 0 2 4 2 0 2-4 2 2 2-1 2 0 2-1 2 2 2-3 2 0 2 0 2 0 2 2 2-2 2 1 2 1 2 1 2-1 2 1 2-1M0 1l2-1 2-2 2 2 2-4 2 2 2-2 2 1 2 2 2 1 2-1 2 0 2 3 2-3 2 1 2-1 2 2 2-3 2 1 2 2 2 1 2-4 2 0 2 0 2 0 2 1 2 3 2-3 2 0 2 1 2 2 2-3 2-1 2 2 2 1 2 0 2 0 2-2 2 0 2-1 2 1 2 1 2-1 2 2 2-2 2 1 2-2 2 1 2 2 2 0 2 0 2-2 2 1 2 1 2-3 2 0 2 0 2 1 2-1 2 3 2-1 2 0 2-4 2 1 2 1 2-2 2 4 2 0 2-1 2 2 2 1 2-3 2 2 2-1 2-2 2 1M0 -1l2 1 2 1 2-2 2 1 2-1 2 3 2-1 2-1 2-2 2 1 2-2 2 5 2-1 2-2 2-3 2 1 2 3 2 1 2-2 2-3 2 4 2-1 2-1 2 2 2 3 2-3 2-3 2 2 2-1 2-2 2 5 2-3 2 1 2-1 2 1 2 0 2 3 2-3 2-1 2 0 2 5 2-5 2 2 2 0 2-4 2 6 2-4 2-2 2 1 2-1 2 1 2 2 2 0 2-1 2-1 2 1 2 0 2 0 2 0 2-2 2 3 2 0 2 0 2-1 2 1 2 1 2 3 2-6 2-2 2 4 2-1 2 3 2-1 2-3 2 1M0 -2l2 3 2-4 2 3 2 1 2-1 2 4 2-3 2-3 2 4 2-4 2-1 2 2 2 0 2 1 2-1 2 0 2-1 2 2 2-3 2 2 2 1 2 1 2 0 2 0 2-2 2 0 2 5 2-6 2 1 2 0 2 1 2 1 2-4 2 1 2 2 2-2 2 3 2 2 2-3 2 3 2-3 2 1 2-1 2 3 2-2 2-1 2 0 2-2 2 2 2-3 2 2 2 4 2-2 2 3 2-2 2-1 2 2 2-3 2 1 2-2 2 2 2-2 2 2 2 1 2 1 2-2 2-3 2 3 2-1 2-1 2-1 2 3 2 3 2-5 2 1M0 2l2 0 2-1 2-1 2-3 2-1 2 1 2 2 2-1 2 0 2-4 2 2 2-2 2 5 2-1 2-1 2-4 2 5 2-1 2 2 2-2 2 2 2-3 2 1 2 1 2 2 2-3 2-2 2 3 2 1 2-1 2-2 2 0 2-3 2 2 2 1 2-2 2 1 2 0 2 0 2-2 2 4 2 1 2 1 2 1 2-4 2 3 2-3 2 1 2 0 2-4 2 3 2 1 2-2 2 5 2-4 2-2 2 1 2 0 2 0 2 1 2 5 2-3 2 0 2-1 2-2 2 1 2 1 2-2 2 3 2-2 2-1 2-1 2 4 2-4 2-1M0 0l2-2 2 2 2-3 2 2 2-1 2 0 2-3 2 0 2 2 2-1 2 2 2 0 2 2 2-2 2 1 2-1 2 0 2-1 2 1 2-3 2 4 2-3 2 5 2-3 2-2 2-1 2 1 2 2 2 0 2 0 2 0 2-1 2 1 2-1 2 0 2 3 2 0 2-1 2-2 2 0 2 1 2 2 2-1 2 1 2 0 2-2 2 1 2 0 2-1 2 0 2 2 2-2 2 2 2-2 2-1 2-1 2-1 2 2 2-1 2 3 2 0 2 1 2-3 2 1 2-2 2 1 2-1 2 2 2 2 2 3 2-4 2 2 2-4 2 2 2 0M0 1l2-2 2-2 2 1 2 1 2 3 2 0 2-4 2 4 2 0 2-3 2 2 2-2 2 2 2 2 2-9 2 3 2 1 2 2 2-1 2 0 2 1 2 0 2 3 2-3 2 0 2 0 2-2 2 2 2 0 2 0 2 0 2-2 2 1 2 2 2-1 2-2 2 0 2 0 2 0 2 1 2 2 2-5 2 3 2 1 2-1 2-2 2 2 2-1 2-1 2 3 2-1 2 3 2-2 2 0 2-3 2 3 2-1 2 1 2-2 2-2 2 3 2-1 2 2 2-2 2 3 2 0 2-1 2-1 2 0 2-1 2-1 2 3 2-1 2 1 2-2M0 2l2-1 2 0 2-3 2 1 2-2 2-1 2 0 2 4 2-4 2 0 2-1 2 0 2 0 2 3 2 2 2-2 2-1 2 2 2 1 2-4 2-1 2 2 2 2 2-4 2 1 2 0 2 3 2-2 2 1 2 2 2-3 2-1 2 1 2 1 2-1 2 0 2 1 2-1 2 2 2-6 2 2 2 1 2 2 2-3 2 4 2-2 2-2 2 3 2 1 2-2 2-2 2 2 2-3 2 2 2 1 2 1 2 0 2-1 2 2 2-2 2-1 2 2 2-2 2 2 2 1 2-1 2-2 2-1 2 2 2 0 2-2 2 2 2 0 2 2 2-5M0 -13l2 4 2 3 2 1 2 0 2 1 2 5 2-3 2 2 2-3 2 1 2 1 2 0 2-2 2 3 2-1 2-1 2-1 2 2 2 3 2-1 2-1 2-1 2 1 2-2 2 0 2 3 2-2 2 0 2-1 2-1 2 1 2 0 2 1 2 0 2 3 2-4 2 5 2-4 2 0 2 0 2-1 2 3 2 0 2-1 2-1 2-1 2-2 2 1 2 2 2-2 2 1 2 0 2 1 2-2 2 6 2-4 2-1 2 0 2 3 2-1 2-2 2-3 2 1 2 4 2 0 2 0 2 0 2-2 2 2 2-2 2-2 2 1 2 0 2-1 2 3M0 2l2 0 2-4 2 2 2 3 2-2 2 0 2 1 2 1 2-2 2 3 2-3 2 4 2-2 2 2 2-3 2 3 2-5 2 1 2 5 2-5 2 2 2-2 2 2 2-1 2 0 2 1 2 0 2 1 2-1 2-1 2 2 2 0 2 0 2-1 2 1 2-1 2 1 2-1 2-1 2 0 2-2 2 2 2 0 2 3 2-1 2-2 2 1 2-1 2 0 2 1 2 1 2 0 2-1 2 0 2-3 2 3 2-2 2 0 2 4 2-3 2 0 2-1 2 2 2 0 2-3 2 0 2 2 2 1 2-2 2 1 2 2 2-3 2 0 2 1 2 3M0 -3l2 2 2 1 2-3 2 2 2 0 2 3 2-2 2 3 2-3 2-2 2 2 2-1 2 2 2-2 2-2 2 4 2 1 2-5 2 4 2-1 2 2 2-3 2 0 2 4 2-2 2-2 2 0 2 5 2-4 2-1 2 3 2-5 2 5 2-1 2-1 2 2 2-3 2 1 2 2 2-3 2 2 2-2 2-1 2 2 2 2 2-4 2 3 2 2 2-2 2-1 2 1 2-1 2-2 2 2 2 1 2-1 2 1 2-1 2 0 2-1 2 3 2-1 2-2 2 3 2-1 2-4 2 3 2 0 2-3 2 3 2 0 2 1 2 0 2-1 2-1M0 -2l2 5 2-4 2-2 2 1 2 2 2-1 2 3 2-5 2-2 2 1 2 0 2-3 2 5 2-3 2 3 2-4 2 3 2 0 2 1 2-3 2 3 2-3 2 1 2-2 2 2 2 0 2 2 2-2 2-2 2 1 2 2 2-1 2 1 2 1 2-2 2-2 2 0 2 2 2 1 2 1 2-1 2-2 2 1 2 0 2 1 2-1 2 1 2 0 2 3 2-3 2-1 2-1 2 2 2 1 2-2 2-1 2 2 2-2 2-3 2 4 2 0 2-1 2-2 2 6 2-4 2-1 2 2 2 0 2-1 2 2 2 0 2-3 2 2 2-4 2 4M0 11l2 1 2-3 2-2 2-2 2 1 2-2 2-5 2-2 2 4 2 0 2-2 2 0 2-3 2 6 2-1 2-2 2 1 2-1 2 0 2-1 2 0 2 0 2 1 2-1 2 3 2 1 2-4 2-3 2 3 2 3 2-3 2 0 2 1 2 2 2-2 2-2 2 2 2 3 2-6 2 2 2 0 2-1 2 1 2 0 2-1 2 2 2 0 2 3 2-3 2-2 2 2 2-1 2 3 2-1 2 2 2-2 2-4 2 3 2 0 2-3 2 5 2 0 2-1 2 0 2 0 2-2 2 2 2-2 2 3 2-3 2 1 2-2 2 3 2-3 2 3M0 0l2 0 2 3 2-3 2 0 2-3 2 3 2 0 2-2 2 0 2-2 2 3 2-2 2 1 2-2 2 3 2-2 2 1 2-7 2 6 2 2 2-1 2 1 2-1 2-1 2 1 2-2 2 0 2 1 2-2 2 1 2 4 2-1 2-1 2-1 2 0 2-1 2-3 2 5 2-1 2-1 2-2 2 7 2-6 2 5 2 0 2 0 2 0 2-2 2 1 2-3 2 2 2-1 2-1 2 2 2-2 2 2 2 1 2-3 2 1 2 0 2 0 2 2 2-5 2 3 2 2 2-3 2 2 2 2 2-1 2-2 2-1 2 1 2 2 2-1 2-4M0 0l2 0 2-2 2 3 2-4 2 3 2-2 2 2 2 1 2-2 2-2 2 2 2 0 2 2 2-2 2 1 2 1 2-3 2 3 2-2 2 2 2-5 2 4 2 0 2 3 2-5 2 0 2 2 2-2 2 3 2-2 2-1 2 3 2-2 2 2 2-5 2 4 2-3 2 1 2 1 2 3 2-4 2-4 2 5 2-2 2 5 2-1 2-1 2-1 2-2 2 4 2 0 2-5 2 5 2-1 2-1 2-2 2 1 2 1 2 0 2 0 2 0 2 2 2-1 2-2 2 0 2 5 2-5 2 1 2 0 2 2 2-1 2 0 2-1 2-1 2 0M0 -2l2 6 2 0 2-9 2 3 2 1 2 4 2 0 2-2 2 0 2-1 2-1 2 0 2 2 2-3 2 4 2-4 2 0 2-1 2 1 2-1 2 1 2 0 2 5 2-2 2-4 2-2 2 4 2 0 2 0 2-2 2 4 2-4 2 0 2 5 2-6 2 1 2 1 2 2 2 2 2-2 2-1 2 2 2-1 2-1 2-1 2 0 2 0 2 1 2 1 2-2 2-1 2 0 2 3 2 0 2 2 2-2 2 0 2 2 2 0 2-4 2 2 2 0 2-1 2 4 2-4 2 2 2 0 2-3 2 2 2-1 2 4 2 0 2-4 2 0 2 1M0 0l2-2 2-1 2 4 2-4 2 0 2 4 2-2 2 4 2 0 2-1 2-1 2 2 2 1 2-3 2 1 2 0 2 3 2-1 2-1 2-3 2 1 2 2 2-1 2 0 2 1 2-2 2 4 2-6 2 3 2 0 2 1 2 1 2 1 2 0 2-5 2 2 2-1 2 3 2 0 2-1 2-1 2-2 2 4 2-1 2-2 2 1 2-1 2 3 2-2 2-1 2 0 2 0 2 1 2-1 2 1 2-2 2 2 2 2 2-2 2 1 2-2 2 3 2-4 2 1 2 1 2 0 2 2 2-2 2 1 2-4 2 4 2-2 2 0 2 2 2-1M0 1l2 0 2 2 2-1 2-1 2 2 2 1 2-2 2-3 2 4 2 0 2 0 2 0 2-2 2 3 2-3 2 1 2 3 2-3 2 2 2 0 2 0 2-4 2 6 2-4 2 2 2 0 2-2 2 0 2 2 2-4 2-2 2 0 2 6 2 3 2-1 2-4 2 1 2 2 2-2 2 1 2 0 2 0 2 1 2 0 2-4 2 6 2-3 2-2 2 1 2 0 2 0 2 1 2-1 2 1 2-3 2 4 2-3 2 3 2-2 2-1 2-1 2 0 2 3 2-5 2 4 2-1 2 2 2-1 2 0 2 1 2 0 2 0 2-1 2 0 2-1M0 0l2 1 2 1 2 1 2-3 2 0 2 0 2-2 2 0 2 1 2-4 2 2 2 2 2 2 2-2 2 0 2 2 2-1 2 0 2 0 2 2 2-2 2-2 2-1 2 1 2 5 2-5 2 2 2-3 2 4 2 1 2 3 2-4 2 1 2-4 2 3 2-2 2 0 2 0 2 1 2-1 2 1 2 1 2 0 2 0 2-2 2 3 2-2 2-3 2 1 2 4 2 0 2-1 2-3 2 4 2-2 2 0 2 0 2 2 2-2 2-1 2 2 2-1 2 1 2 2 2 0 2-1 2-1 2-4 2 4 2 1 2-3 2 1 2 0 2 1 2 0M0 -2l2 3 2-5 2 1 2 3 2 1 2-9 2 4 2 2 2 0 2 0 2-3 2 0 2 4 2-2 2 0 2-3 2 3 2-1 2-2 2 1 2 1 2 3 2-3 2-2 2 0 2 3 2-2 2 3 2 0 2 1 2 0 2-2 2 0 2-4 2 3 2-1 2 1 2-2 2 1 2 2 2 0 2-2 2-1 2 0 2 3 2-1 2 1 2-3 2 3 2 0 2 0 2 0 2 1 2 0 2-1 2-1 2 2 2-2 2 1 2 2 2-4 2 2 2 2 2-5 2 1 2 2 2-1 2-4 2 5 2 0 2-3 2 0 2 2 2 6 2-6M0 1l2-1 2 1 2-5 2 3 2 0 2 0 2-1 2-3 2 3 2-1 2-2 2 1 2-2 2 4 2-4 2 4 2-1 2-1 2 1 2 0 2 1 2-1 2 2 2-3 2 0 2-1 2-1 2 2 2 1 2-1 2-2 2 3 2-2 2 1 2 2 2-1 2 0 2-3 2 2 2-1 2 1 2 2 2-3 2 2 2-1 2 2 2-1 2-2 2-1 2 2 2-1 2 1 2 4 2-3 2-1 2 1 2 2 2-2 2-1 2-1 2 0 2 1 2-1 2 1 2 3 2-4 2-1 2 1 2 2 2-1 2 0 2-1 2 2 2 0 2-1M0 1l2 1 2 3 2-3 2 1 2-1 2 3 2-2 2 1 2-1 2-1 2 2 2-3 2-1 2 3 2-1 2-2 2 5 2-5 2 1 2 2 2 1 2 0 2 0 2-4 2 0 2 1 2 3 2-3 2 1 2-1 2 1 2-1 2-1 2 4 2 1 2-4 2-1 2 3 2 1 2-5 2 4 2-2 2 0 2 0 2-2 2 3 2 1 2-1 2 4 2-3 2 0 2-2 2 0 2 0 2 0 2 3 2-3 2 0 2 1 2 1 2 0 2 2 2-2 2-1 2 1 2-3 2 1 2 3 2-3 2 1 2-1 2 1 2-2 2 3 2-2M0 0l2 0 2 1 2 1 2-3 2 2 2 0 2-2 2 2 2 3 2 0 2-4 2 2 2 0 2-1 2 3 2-2 2 3 2-3 2 2 2-2 2-1 2 0 2-2 2 0 2 2 2 0 2 3 2-4 2 2 2 0 2 0 2-5 2 0 2 3 2 1 2-1 2 2 2 2 2-3 2-2 2 0 2 4 2-3 2 0 2 1 2 1 2-2 2 0 2-4 2 6 2 0 2-2 2 0 2 1 2 0 2 0 2 1 2-3 2 0 2 1 2 4 2-4 2-1 2 1 2 3 2 0 2-3 2 2 2-2 2-1 2 3 2 3 2-2 2-1 2-1M0 -3l2 2 2-1 2 3 2-2 2 1 2 4 2 0 2-5 2 2 2-2 2 1 2 2 2 3 2 0 2 0 2-3 2 0 2-2 2-1 2-1 2 3 2 1 2-1 2-1 2 1 2 2 2-2 2-3 2 2 2 2 2-2 2 1 2 1 2 1 2-4 2 4 2 2 2-3 2 0 2-2 2 0 2 2 2-1 2-2 2 3 2-1 2 1 2-1 2-2 2 0 2 0 2 2 2-1 2 1 2 1 2-1 2-1 2-1 2-1 2 2 2 0 2-1 2 3 2-1 2 1 2 1 2-2 2 0 2 0 2-2 2 2 2-3 2 0 2 3 2-3M0 3l2-2 2-4 2 1 2-1 2 1 2-3 2 5 2-2 2-3 2 2 2 3 2-6 2 1 2-2 2 5 2 2 2 0 2-4 2-4 2 3 2 0 2 1 2 2 2-2 2 1 2-1 2 0 2 3 2 0 2-4 2 2 2 0 2 2 2-4 2 1 2 2 2-3 2 2 2 1 2-2 2 2 2-3 2 2 2-2 2 1 2 1 2 3 2-3 2 2 2-5 2 3 2-2 2 1 2 2 2-1 2-1 2 1 2 0 2-1 2 0 2 1 2-2 2 1 2 0 2-1 2 0 2 4 2-2 2-1 2-4 2 5 2-1 2 4 2-2 2-2M0 -32l2 5 2 8 2 7 2 4 2 2 2 9 2 0 2 0 2-5 2 5 2 1 2-1 2-1 2 4 2 0 2 0 2 0 2 1 2-2 2 3 2-2 2 0 2-1 2-2 2 4 2-2 2-1 2 2 2 0 2-2 2 4 2-3 2 1 2-2 2 1 2 5 2-4 2-2 2 2 2-3 2 1 2 2 2 1 2-3 2 1 2 1 2 1 2-2 2 2 2-1 2 0 2-3 2 2 2 1 2 0 2 0 2-2 2 2 2-4 2 4 2-1 2 1 2 2 2-1 2-1 2-1 2-1 2 0 2 2 2-4 2 5 2-1 2 1 2-2 2 2" stroke="#000" stroke-width="0.8" fill="none" vector-effect="non-scaling-stroke" stroke-linejoin="round"/>
<path transform="translate(62.00 348.65) scale(1.4200 0.5295)" d="M0 73l2-7 2-7 2-4 2-10 2-1 2 0 2-5 2-2 2-2 2 0 2-2 2-7 2-4 2 1 2-4 2-2 2 2 2-3 2-1 2 3 2-1 2-1 2-1 2-1 2-4 2 5 2-1 2-3 2-4 2-6 2 3 2 3 2 1 2 1 2-4 2-2 2-5 2 4 2-1 2 3 2-3 2 9 2-3 2-7 2 4 2-2 2 0 2 1 2-4 2 0 2-5 2 7 2-3 2-3 2 1 2-1 2 6 2-2 2 3 2-5 2 6 2-6 2 3 2 1 2-5 2 8 2-3 2 1 2-1 2-2 2-1 2 0 2 2 2 1 2-1M0 -59l2 10 2 5 2 2 2 3 2 5 2 8 2-2 2 4 2 6 2 1 2 3 2 4 2-5 2 4 2 1 2-1 2 5 2-5 2 0 2 3 2 2 2 0 2-1 2-1 2 3 2 2 2-3 2-2 2 7 2 1 2-2 2 0 2-3 2 1 2 4 2 4 2-3 2-3 2 0 2 3 2-1 2-2 2 2 2-1 2-1 2 6 2-6 2 5 2-1 2 1 2 0 2-6 2 4 2 0 2-3 2 0 2 3 2-1 2-2 2 7 2-5 2 4 2-3 2 0 2-2 2 0 2 2 2 1 2 1 2 2 2-4 2 0 2-2 2-2 2 2M0 -4l2-2 2 2 2 4 2 1 2-3 2 3 2-2 2-4 2 2 2 3 2-7 2 0 2 1 2-2 2 0 2 6 2-1 2 0 2-1 2 0 2-1 2-1 2 0 2 0 2 3 2 0 2-2 2-2 2 2 2-2 2 3 2-3 2-1 2 4 2-3 2 2 2 2 2-2 2 0 2-2 2 0 2 2 2-2 2 5 2-3 2 1 2-4 2 3 2 0 2 0 2 1 2-1 2 1 2-6 2 6 2 1 2-2 2-3 2 2 2-2 2 1 2 0 2-2 2-1 2 0 2 6 2-2 2 3 2-1 2-1 2 1 2 3 2-3 2-1 2 2M0 4l2 2 2-7 2 1 2 3 2 1 2 1 2-3 2 5 2-7 2 1 2 0 2 2 2 3 2-3 2 1 2 0 2 2 2-4 2 1 2-1 2-4 2 7 2 2 2-3 2-1 2 4 2-3 2-1 2 4 2-2 2 1 2-5 2-1 2 3 2 5 2-7 2 5 2-1 2-2 2 1 2-1 2-2 2 3 2 2 2-2 2 0 2-1 2-1 2 0 2-1 2 4 2 2 2-1 2 4 2-4 2 0 2-3 2 0 2-5 2 4 2 4 2-5 2 4 2-2 2 1 2 2 2 1 2-5 2 5 2 2 2-5 2 2 2-2 2-1 2-2M0 1l2-3 2 2 2 0 2-1 2 0 2-3 2-1 2 4 2-3 2 3 2 0 2 2 2-4 2-4 2-1 2 1 2 7 2 1 2-2 2-1 2-4 2-1 2 9 2-2 2 0 2 1 2 2 2-3 2-6 2 5 2 0 2-4 2 1 2 0 2 0 2 2 2 1 2 0 2-2 2 5 2-5 2 4 2-3 2 0 2 2 2 0 2-2 2-2 2 0 2 3 2 1 2-3 2 1 2 1 2 1 2-3 2 0 2 1 2 0 2 2 2-4 2 2 2 0 2-8 2 6 2 4 2-2 2 4 2-5 2 1 2 0 2-2 2 1 2 1 2 2M0 -4l2 5 2-1 2 3 2 3 2 1 2-2 2-1 2 0 2-5 2 5 2 3 2-2 2-4 2 1 2 3 2-3 2 3 2-1 2 0 2-2 2 0 2 2 2-3 2 1 2 0 2-2 2 2 2 0 2 0 2 4 2 1 2-7 2-2 2 0 2 10 2-5 2-2 2-1 2-4 2 4 2 1 2 1 2-1 2 4 2-2 2 2 2-4 2 6 2-5 2 3 2-3 2 1 2-5 2 7 2-1 2-1 2 4 2-1 2-2 2 1 2-2 2 0 2-3 2 5 2-2 2 1 2-1 2 1 2-4 2-1 2 2 2-2 2 3 2-2 2-1M0 7l2-8 2-1 2 2 2 1 2 2 2-1 2-3 2-4 2 10 2-5 2 3 2-5 2 3 2-3 2 5 2-3 2 2 2-2 2 1 2 0 2 2 2-1 2 0 2-4 2 5 2 0 2-2 2 3 2-1 2-3 2-3 2 6 2 0 2-1 2-2 2-2 2-2 2 6 2-1 2-3 2 5 2-2 2 0 2-4 2 6 2-4 2 2 2 0 2 2 2-2 2-4 2 2 2-2 2 4 2 4 2-1 2 3 2-5 2-3 2 5 2-2 2 0 2-3 2 1 2 3 2-2 2-2 2-2 2 2 2 0 2-6 2 2 2 4 2 0 2 0M0 2l2-6 2 2 2 1 2-4 2 3 2 1 2-5 2-4 2 7 2-7 2 4 2-5 2 5 2-6 2 2 2 0 2 0 2 0 2 2 2 0 2-3 2 2 2-1 2 1 2 1 2-1 2-1 2 0 2 1 2-3 2 6 2 0 2-2 2 0 2-1 2 5 2-4 2-4 2 1 2-1 2 5 2-3 2 0 2-3 2 1 2 2 2-4 2 3 2 1 2-2 2 3 2-5 2 5 2-3 2-1 2 6 2-2 2-2 2-1 2 2 2 1 2 2 2-2 2 2 2-5 2-1 2 0 2 3 2 6 2-5 2 2 2-1 2-1 2-1 2 1M0 4l2-5 2 1 2 0 2-6 2 0 2-6 2 9 2-5 2 4 2-2 2-4 2-1 2 4 2-1 2 0 2-1 2 3 2 1 2 0 2 0 2 3 2 0 2-3 2 1 2-5 2 0 2-3 2 5 2-3 2 0 2 1 2-3 2 3 2 0 2 0 2 2 2-1 2-4 2 6 2-6 2 6 2-4 2 0 2-3 2-2 2 6 2 2 2-2 2 4 2-2 2 1 2 2 2-3 2 0 2-3 2-2 2 1 2 0 2 0 2 5 2-1 2-4 2 0 2-5 2 4 2 4 2 1 2-6 2 4 2 0 2 3 2-5 2 1 2 1 2-3M0 -31l2 9 2 9 2 9 2 2 2-4 2 5 2 7 2-7 2 6 2-1 2 1 2 7 2-4 2 3 2-3 2 2 2-4 2 4 2-3 2 3 2-1 2 2 2-2 2-1 2 2 2-1 2 4 2-1 2 0 2-2 2-1 2 5 2-6 2-1 2 2 2 0 2 2 2 3 2-7 2-2 2 7 2-3 2 3 2-2 2-3 2 2 2 0 2 6 2-6 2 1 2-3 2 4 2 0 2-4 2 2 2-1 2 2 2-6 2 6 2 1 2-4 2 2 2-4 2 8 2-2 2 3 2-1 2-1 2 1 2-2 2-3 2-2 2 2 2 2 2-1M0 -2l2-2 2 0 2-2 2 4 2 0 2 5 2-5 2 7 2 0 2 3 2-1 2-2 2-2 2-2 2 1 2 0 2-2 2 6 2-6 2 6 2 0 2-3 2 1 2 1 2-3 2-4 2 1 2 6 2-1 2-1 2 1 2-2 2 1 2 0 2-3 2 5 2-5 2-1 2 2 2-3 2 1 2 1 2 0 2 2 2 1 2-1 2 1 2-1 2 2 2-1 2 1 2 0 2-8 2 10 2-6 2 0 2 2 2 1 2 1 2-4 2 4 2-3 2 0 2 2 2-5 2 7 2-9 2 5 2-2 2 5 2-1 2 1 2-1 2-6 2 3M0 -13l2-2 2 5 2 2 2-4 2 4 2 2 2 2 2-1 2 1 2 3 2-6 2 2 2 2 2 0 2 0 2 0 2-2 2-2 2 0 2 1 2-2 2 2 2 1 2-6 2 4 2-4 2 5 2-1 2-2 2 0 2-3 2 4 2 1 2-2 2 6 2 2 2-4 2-2 2 1 2 0 2 3 2-2 2 2 2-2 2-2 2 6 2-1 2-2 2 0 2 1 2 0 2 2 2-5 2-1 2 0 2 3 2-4 2 3 2 1 2-3 2 0 2 2 2-4 2 4 2 0 2 4 2-6 2 2 2-4 2 3 2 2 2-5 2 3 2 0 2-2M0 5l2-4 2 0 2-6 2 4 2 4 2-7 2 1 2 4 2-7 2 3 2-3 2 5 2 1 2-4 2 4 2-3 2-1 2 0 2 3 2-4 2 4 2-1 2-3 2 0 2 2 2-3 2 1 2-3 2 7 2 6 2-10 2 1 2 0 2-1 2-3 2 6 2-1 2 1 2-1 2-1 2 3 2-2 2-2 2 1 2 3 2-4 2-4 2 9 2-2 2 1 2-1 2 1 2-3 2 6 2-4 2-1 2 2 2-5 2 1 2 0 2 2 2 0 2-2 2 4 2-2 2 1 2 1 2-3 2-1 2 6 2-5 2 3 2-2 2-1 2 4M0 -2l2-2 2-2 2-3 2 4 2-5 2 1 2 2 2-2 2-5 2 1 2 3 2-1 2 4 2-4 2-4 2 6 2-7 2 3 2-2 2 1 2-4 2 5 2-1 2 5 2-3 2 0 2 3 2-4 2 7 2-7 2-2 2 4 2 2 2 1 2-4 2-2 2 1 2 2 2-3 2 4 2-4 2-2 2 3 2-3 2 3 2-2 2-2 2 4 2 2 2-2 2-1 2 4 2-1 2-3 2-2 2 8 2-4 2 1 2-1 2 0 2 2 2-3 2-1 2 1 2 2 2 1 2-2 2-2 2 5 2-4 2 7 2-4 2-2 2 0 2-5M0 7l2-1 2-1 2 0 2-5 2 0 2 0 2 0 2 0 2 3 2-3 2 2 2 1 2 1 2 2 2 1 2 0 2-2 2 2 2-4 2 2 2-3 2-1 2 1 2-1 2 2 2-3 2 6 2-2 2 0 2 1 2 1 2-3 2-1 2 2 2 1 2 0 2-5 2 8 2-2 2 4 2-1 2-1 2 0 2-6 2-3 2 6 2-8 2 7 2-2 2 2 2-5 2 7 2-4 2 2 2 1 2-4 2 6 2-5 2-1 2 3 2 0 2 2 2-5 2 3 2 2 2-1 2 2 2-4 2 0 2-3 2 1 2 2 2-1 2-2 2 2M0 2l2 6 2-6 2 1 2-1 2-3 2 3 2-8 2 10 2 1 2 3 2-4 2 0 2 2 2-2 2 0 2 0 2-4 2 2 2 3 2 2 2-2 2-1 2 5 2-5 2 0 2 0 2 6 2-8 2 3 2-1 2 3 2-2 2 1 2-1 2-1 2 1 2-1 2-1 2 6 2-4 2 0 2-2 2 2 2 0 2-2 2-1 2 1 2 0 2 3 2 1 2-1 2-2 2 1 2 3 2-2 2-1 2 0 2 1 2-1 2 0 2-1 2 1 2 3 2-2 2-3 2 4 2-5 2 1 2 3 2 0 2 0 2-1 2-2 2-4 2 1M0 1l2-2 2-6 2 5 2-2 2 1 2-6 2 4 2-7 2 3 2 2 2 1 2-1 2 1 2-1 2-1 2 1 2 0 2-1 2-1 2 0 2 2 2 2 2-4 2 4 2-2 2-1 2 6 2-3 2-2 2 1 2-1 2 3 2-7 2 5 2-2 2 2 2-2 2-2 2-1 2 2 2-1 2 2 2 1 2-2 2-1 2 4 2-1 2 5 2-2 2-1 2 2 2-3 2 1 2-1 2-2 2 1 2 2 2-2 2 0 2 5 2-6 2 1 2 0 2 1 2 1 2 0 2 0 2-4 2 3 2-3 2 4 2-4 2 0 2 7 2-4M0 2l2 1 2 3 2-4 2 0 2 1 2-10 2 1 2 8 2 2 2 0 2-6 2 0 2 1 2 2 2 2 2 3 2-10 2 7 2-3 2 2 2 0 2-4 2 4 2 1 2-4 2 1 2 0 2-1 2-1 2-3 2 1 2 1 2-2 2 0 2 2 2 2 2-2 2 2 2 0 2 0 2 0 2 2 2 5 2-3 2-1 2 1 2-2 2 2 2-1 2-4 2 3 2-3 2 2 2-1 2 2 2-4 2 6 2 1 2-1 2-7 2 6 2 0 2-2 2-1 2 6 2-3 2 2 2-10 2 4 2 4 2-6 2 7 2-4 2 0 2 2M0 3l2 2 2-4 2-4 2 0 2 3 2 4 2-3 2-7 2 2 2 2 2 3 2 0 2-1 2 4 2-6 2 0 2 3 2-1 2-5 2 4 2 1 2-2 2 6 2-3 2 1 2-4 2 3 2-2 2-1 2 3 2-3 2 2 2-1 2 2 2 0 2 0 2-3 2 1 2-2 2 1 2-1 2-1 2 2 2-2 2 0 2-1 2 7 2-4 2 3 2-1 2-2 2 1 2-4 2 6 2 3 2-2 2 1 2-1 2-2 2-1 2 0 2 1 2 0 2-1 2 5 2-2 2-3 2-3 2 3 2 3 2 1 2-8 2 5 2-4 2 1M0 1l2 1 2 6 2-4 2 4 2 0 2 3 2-3 2 0 2 3 2-4 2-1 2 1 2 1 2-1 2 1 2 0 2 3 2-7 2 7 2-9 2 7 2 3 2-1 2-1 2-1 2 0 2 2 2-3 2 1 2 1 2 1 2-3 2 3 2 3 2-1 2-1 2 1 2-5 2 2 2-1 2 3 2-1 2-4 2 0 2 2 2-1 2-5 2 4 2 3 2-3 2 4 2-4 2 0 2 0 2-1 2-1 2 3 2 0 2 1 2 0 2-1 2 1 2-1 2 3 2-3 2-1 2-1 2 4 2-2 2 2 2-4 2 5 2-1 2-1 2 2" stroke="#000" stroke-width="0.5" fill="none" vector-effect="non-scaling-stroke" stroke-linejoin="round"/>
<path d="M76.2 374.4l1.4 -0.6M80.6 321.2l1.0 -0.2l1.5 -0.0l1.1 -1.5M190.7 385.4l1.5 -0.8l0.8 -1.3M147.8 328.8l0.6 -0.3l1.5 -1.5l0.9 -0.6M137.5 307.4l0.7 -0.3l0.7 -1.2M104.2 364.5l1.4 -0.6l0.7 -0.6M85.0 321.1l1.2 -1.3l0.9 0.4M169.7 330.7l0.8 0.7" stroke="#888" stroke-width="0.7" fill="none"/>
</g></svg>
<rect x="251.2" y="297.4" width="21.50" height="17.80" fill="#c3c3c3"/>
<path d="M65.85 401.95v-4.1M65.85 296.05v4.1M69.40 401.95v-4.1M69.40 296.05v4.1M72.95 401.95v-4.1M72.95 296.05v4.1M76.50 401.95v-4.1M76.50 296.05v4.1M80.05 401.95v-4.1M80.05 296.05v4.1M83.60 401.95v-4.1M83.60 296.05v4.1M87.15 401.95v-4.1M87.15 296.05v4.1M90.70 401.95v-4.1M90.70 296.05v4.1M94.25 401.95v-4.1M94.25 296.05v4.1M97.80 401.95v-8M97.80 296.05v8M101.35 401.95v-4.1M101.35 296.05v4.1M104.90 401.95v-4.1M104.90 296.05v4.1M108.45 401.95v-4.1M108.45 296.05v4.1M112.00 401.95v-4.1M112.00 296.05v4.1M115.55 401.95v-4.1M115.55 296.05v4.1M119.10 401.95v-4.1M119.10 296.05v4.1M122.65 401.95v-4.1M122.65 296.05v4.1M126.20 401.95v-4.1M126.20 296.05v4.1M129.75 401.95v-4.1M129.75 296.05v4.1M133.30 401.95v-8M133.30 296.05v8M136.85 401.95v-4.1M136.85 296.05v4.1M140.40 401.95v-4.1M140.40 296.05v4.1M143.95 401.95v-4.1M143.95 296.05v4.1M147.50 401.95v-4.1M147.50 296.05v4.1M151.05 401.95v-4.1M151.05 296.05v4.1M154.60 401.95v-4.1M154.60 296.05v4.1M158.15 401.95v-4.1M158.15 296.05v4.1M161.70 401.95v-4.1M161.70 296.05v4.1M165.25 401.95v-4.1M165.25 296.05v4.1M168.80 401.95v-8M168.80 296.05v8M172.35 401.95v-4.1M172.35 296.05v4.1M175.90 401.95v-4.1M175.90 296.05v4.1M179.45 401.95v-4.1M179.45 296.05v4.1M183.00 401.95v-4.1M183.00 296.05v4.1M186.55 401.95v-4.1M186.55 296.05v4.1M190.10 401.95v-4.1M190.10 296.05v4.1M193.65 401.95v-4.1M193.65 296.05v4.1M197.20 401.95v-4.1M197.20 296.05v4.1M200.75 401.95v-4.1M200.75 296.05v4.1M204.30 401.95v-8M204.30 296.05v8M207.85 401.95v-4.1M207.85 296.05v4.1M211.40 401.95v-4.1M211.40 296.05v4.1M214.95 401.95v-4.1M214.95 296.05v4.1M218.50 401.95v-4.1M218.50 296.05v4.1M222.05 401.95v-4.1M222.05 296.05v4.1M225.60 401.95v-4.1M225.60 296.05v4.1M229.15 401.95v-4.1M229.15 296.05v4.1M232.70 401.95v-4.1M232.70 296.05v4.1M236.25 401.95v-4.1M236.25 296.05v4.1M239.80 401.95v-8M239.80 296.05v8M243.35 401.95v-4.1M243.35 296.05v4.1M246.90 401.95v-4.1M246.90 296.05v4.1M250.45 401.95v-4.1M250.45 296.05v4.1M254.00 401.95v-4.1M254.00 296.05v4.1M257.55 401.95v-4.1M257.55 296.05v4.1M261.10 401.95v-4.1M261.10 296.05v4.1M264.65 401.95v-4.1M264.65 296.05v4.1M268.20 401.95v-4.1M268.20 296.05v4.1M271.75 401.95v-4.1M271.75 296.05v4.1M62.30 396.66h4.1M275.30 396.66h-4.1M62.30 391.36h4.1M275.30 391.36h-4.1M62.30 386.07h4.1M275.30 386.07h-4.1M62.30 380.77h4.1M275.30 380.77h-4.1M62.30 375.48h8M275.30 375.48h-8M62.30 370.18h4.1M275.30 370.18h-4.1M62.30 364.89h4.1M275.30 364.89h-4.1M62.30 359.59h4.1M275.30 359.59h-4.1M62.30 354.30h4.1M275.30 354.30h-4.1M62.30 349.00h8M275.30 349.00h-8M62.30 343.71h4.1M275.30 343.71h-4.1M62.30 338.41h4.1M275.30 338.41h-4.1M62.30 333.12h4.1M275.30 333.12h-4.1M62.30 327.82h4.1M275.30 327.82h-4.1M62.30 322.53h8M275.30 322.53h-8M62.30 317.23h4.1M275.30 317.23h-4.1M62.30 311.94h4.1M275.30 311.94h-4.1M62.30 306.64h4.1M275.30 306.64h-4.1M62.30 301.35h4.1M275.30 301.35h-4.1" stroke="#111" stroke-width="1.1" fill="none"/>
<rect x="62.30" y="296.05" width="213.00" height="105.90" stroke="#111" stroke-width="1.7" fill="none"/>
<path d="M314.50 295.70V401.60M350.50 295.70V401.60M385.50 295.70V401.60M421.50 295.70V401.60M456.50 295.70V401.60M279.00 375.12H492.00M279.00 348.65H492.00M279.00 322.18H492.00" stroke="#505050" stroke-width="1.05" stroke-dasharray="2 1.7" fill="none"/>
<path d="M279.3 352.8 280.2 349.4 281.1 345.7 282.0 348.4 282.9 351.2 283.8 351.5 284.7 353.9 285.6 355.3 286.5 355.9 287.4 358.3 288.3 359.5 289.2 358.9 290.1 357.1 291.0 355.4 291.9 355.0 292.8 354.9 293.7 354.0 294.6 351.8 295.5 349.2 296.4 347.6 297.3 346.3 298.2 345.4 299.1 344.3 300.0 342.7 300.9 343.0 301.8 343.8 302.7 342.3 303.6 340.6 304.5 340.3 305.4 341.1 306.3 340.7 307.2 337.9 308.1 335.2 309.0 335.9 309.9 336.8 310.8 335.5 311.7 334.5 312.6 332.9 313.5 331.1 314.4 331.0 315.3 330.0 316.2 328.0 317.1 328.2 318.0 327.9 318.9 326.2 319.8 323.3 320.7 324.2 321.6 324.9 322.5 322.9 323.4 324.2 324.3 324.1 325.2 322.1 326.1 322.1 327.0 322.7 327.9 322.8 328.8 323.8 329.7 325.4 330.6 323.9 331.5 323.3 332.4 322.3 333.3 320.8 334.2 320.8 335.1 318.4 336.0 316.2 336.9 316.2 337.8 317.8 338.7 320.3 339.6 318.5 340.5 318.2 341.4 319.0 342.3 317.9 343.2 316.2 344.1 313.8 345.0 312.3 345.9 311.5 346.8 310.7 347.7 310.8 348.6 309.7 349.5 309.2 350.4 310.6 351.3 310.7 352.2 309.0 353.1 308.6 354.0 308.5 354.9 308.2 355.8 308.0 356.7 306.2 357.6 305.0 358.5 305.3 359.4 304.8 360.3 304.5 361.2 304.8 362.1 304.4 363.0 303.5 363.9 304.1 364.8 304.6 365.7 303.1 366.6 303.5 367.5 304.6 368.4 303.7 369.3 303.0 370.2 302.5 371.1 302.2 372.0 303.1 372.9 304.3 373.8 303.8 374.7 303.0 375.6 303.0 376.5 303.0 377.4 301.7 378.3 300.6 379.2 301.0 380.1 302.2 381.0 302.6 381.9 300.5 382.8 299.7 383.7 301.2 384.6 302.3 385.5 302.3 386.4 302.3 387.3 303.4 388.2 304.2 389.1 302.1 390.0 301.9 390.9 302.8 391.8 302.5 392.7 303.5 393.6 304.0 394.5 304.6 395.4 306.1 396.3 305.7 397.2 305.8 398.1 306.7 399.0 305.4 399.9 306.5 400.8 307.8 401.7 307.8 402.6 307.3 403.5 307.3 404.4 307.8 405.3 306.5 406.2 306.2 407.1 307.4 408.0 306.3 408.9 305.2 409.8 305.5 410.7 305.7 411.6 305.4 412.5 307.2 413.4 307.5 414.3 306.7 415.2 308.5 416.1 307.4 417.0 306.1 417.9 306.5 418.8 306.6 419.7 306.9 420.6 306.9 421.5 305.1 422.4 303.8 423.3 305.3 424.2 306.7 425.1 306.5 426.0 306.6 426.9 306.7 427.8 308.1 428.7 309.8 429.6 309.9 430.5 308.7 431.4 307.9 432.3 307.0 433.2 307.2 434.1 307.8 435.0 307.7 435.9 307.1 436.8 307.2 437.7 307.4 438.6 306.4 439.5 306.0 440.4 306.1 441.3 306.5 442.2 306.8 443.1 307.0 444.0 308.3 444.9 309.1 445.8 307.6 446.7 308.1 447.6 310.3 448.5 311.7 449.4 311.9 450.3 311.5 451.2 312.2 452.1 314.5 453.0 314.3 453.9 313.3 454.8 313.6 455.7 311.5 456.6 313.5 457.5 315.4 458.4 316.4 459.3 316.2 460.2 315.7 461.1 316.2 462.0 316.5 462.9 316.6 463.8 316.9 464.7 318.0 465.6 317.0 466.5 317.2 467.4 318.2 468.3 316.9 469.2 316.7 470.1 317.0 471.0 317.1 471.9 317.4 472.8 318.3 473.7 319.2 474.6 318.5 475.5 317.6 476.4 317.6 477.3 317.6 478.2 317.1 479.1 318.2 480.0 318.8 480.9 317.8 481.8 318.0 482.7 319.0 483.6 317.7 484.5 317.9 485.4 319.5 486.3 320.1 487.2 320.3 488.1 320.2 489.0 320.6 489.9 320.8 490.8 321.4 491.7 321.8" stroke="#ff0000" stroke-width="2.4" fill="none" stroke-linejoin="round"/>
<path d="M279.3 313.8 279.9 314.5 280.5 311.8 281.1 309.7 281.7 311.9 282.3 308.1 282.9 308.1 283.5 305.5 284.1 309.0 284.7 311.3 285.3 309.0 285.9 308.2 286.5 310.4 287.1 311.5 287.7 308.8 288.3 306.2 288.9 309.2 289.5 310.1 290.1 306.1 290.7 306.4 291.3 308.3 291.9 307.7 292.5 309.3 293.1 310.2 293.7 308.1 294.3 307.9 294.9 307.4 295.5 312.3 296.1 310.5 296.7 310.3 297.3 311.6 297.9 310.0 298.5 308.9 299.1 311.8 299.7 314.0 300.3 309.9 300.9 311.8 301.5 310.3 302.1 308.8 302.7 307.2 303.3 307.2 303.9 305.0 304.5 306.3 305.1 303.0 305.7 303.3 306.3 303.4 306.9 304.8 307.5 305.8 308.1 303.8 308.7 302.1 309.3 304.7 309.9 307.5 310.5 305.9 311.1 306.7 311.7 302.0 312.3 304.5 312.9 302.3 313.5 305.3 314.1 305.2 314.7 302.8 315.3 304.5 315.9 302.8 316.5 303.5 317.1 301.7 317.7 302.0 318.3 298.8 318.9 299.1 319.5 296.9 320.1 301.9 320.7 297.6 321.3 296.3 321.9 298.8 322.5 296.5 323.1 299.5 323.7 299.0 324.3 299.4 324.9 300.0 325.5 296.9 326.1 301.5 326.7 302.1 327.3 300.2 327.9 297.1 328.5 299.1 329.1 301.1 329.7 301.4 330.3 300.6 330.9 300.9 331.5 301.3 332.1 304.0 332.7 303.7 333.3 302.6 333.9 303.6 334.5 300.5 335.1 301.6 335.7 303.0 336.3 303.6 336.9 302.1 337.5 301.6 338.1 304.9 338.7 303.6 339.3 301.5 339.9 302.1 340.5 307.4 341.1 302.7 341.7 302.9 342.3 305.8 342.9 308.4 343.5 304.7 344.1 304.6 344.7 298.6 345.3 303.0 345.9 300.3 346.5 300.0 347.1 303.4 347.7 299.1 348.3 298.5 348.9 301.8 349.5 300.8 350.1 300.4 350.7 299.5 351.3 301.9 351.9 302.4 352.5 298.3 353.1 299.0 353.7 298.7 354.3 300.2 354.9 298.9 355.5 298.6 356.1 297.1 356.7 297.0 357.3 298.5 357.9 298.7 358.5 299.7 359.1 299.0 359.7 296.3 360.3 296.3 360.9 296.9 361.5 298.3 362.1 300.3 362.7 298.3 363.3 297.8 363.9 299.3 364.5 298.1 365.1 298.5 365.7 296.3 366.3 298.8 366.9 300.0 367.5 298.9 368.1 298.6 368.7 300.0 369.3 298.3 369.9 297.1 370.5 299.0 371.1 296.3 371.7 298.0 372.3 298.5 372.9 298.2 373.5 296.3 374.1 298.7 374.7 297.9 375.3 299.7 375.9 296.3 376.5 297.8 377.1 300.8 377.7 296.3 378.3 298.5 378.9 297.3 379.5 296.3 380.1 296.3 380.7 301.2 381.3 297.3 381.9 297.4 382.5 296.3 383.1 296.9 383.7 298.2 384.3 296.3 384.9 296.3 385.5 297.7 386.1 297.8 386.7 296.3 387.3 300.7 387.9 296.3 388.5 298.3 389.1 296.3 389.7 296.7 390.3 298.6 390.9 296.3 391.5 298.2 392.1 296.3 392.7 297.3 393.3 298.6 393.9 298.5 394.5 297.9 395.1 296.3 395.7 298.2 396.3 297.3 396.9 299.0 397.5 297.0 398.1 296.3 398.7 297.9 399.3 299.9 399.9 298.6 400.5 296.3 401.1 299.4 401.7 297.0 402.3 298.1 402.9 297.6 403.5 296.6 404.1 298.8 404.7 300.5 405.3 300.1 405.9 298.5 406.5 296.3 407.1 297.5 407.7 298.9 408.3 299.6 408.9 300.9 409.5 298.1 410.1 299.7 410.7 298.0 411.3 296.3 411.9 297.6 412.5 301.2 413.1 299.5 413.7 297.0 414.3 298.7 414.9 298.5 415.5 299.2 416.1 297.2 416.7 299.6 417.3 298.2 417.9 298.7 418.5 296.5 419.1 296.9 419.7 296.3 420.3 299.5 420.9 298.6 421.5 299.3 422.1 300.0 422.7 299.4 423.3 297.7 423.9 297.1 424.5 297.9 425.1 299.0 425.7 297.5 426.3 297.3 426.9 298.0 427.5 297.5 428.1 298.0 428.7 298.9 429.3 301.5 429.9 300.7 430.5 298.2 431.1 297.9 431.7 300.1 432.3 299.9 432.9 300.6 433.5 298.5 434.1 300.7 434.7 298.7 435.3 297.2 435.9 298.6 436.5 298.2 437.1 296.3 437.7 297.7 438.3 297.7 438.9 299.7 439.5 296.9 440.1 297.8 440.7 297.0 441.3 300.0 441.9 298.5 442.5 297.4 443.1 296.3 443.7 299.2 444.3 298.4 444.9 301.1 445.5 296.8 446.1 298.5 446.7 301.1 447.3 299.6 447.9 299.5 448.5 299.8 449.1 296.3 449.7 296.8 450.3 298.7 450.9 298.0 451.5 298.5 452.1 298.5 452.7 297.4 453.3 299.3 453.9 296.4 454.5 297.5 455.1 299.1 455.7 298.5 456.3 298.5 456.9 298.8 457.5 300.2 458.1 299.2 458.7 301.6 459.3 297.3 459.9 297.7 460.5 299.9 461.1 300.5 461.7 297.7 462.3 298.9 462.9 301.1 463.5 301.8 464.1 302.2 464.7 299.3 465.3 302.8 465.9 298.5 466.5 302.0 467.1 306.2 467.7 301.5 468.3 301.0 468.9 298.2 469.5 301.7 470.1 300.7 470.7 298.7 471.3 299.7 471.9 300.5 472.5 303.1 473.1 299.4 473.7 299.4 474.3 301.1 474.9 300.5 475.5 300.4 476.1 299.0 476.7 299.8 477.3 298.9 477.9 302.1 478.5 299.5 479.1 300.8 479.7 298.9 480.3 300.6 480.9 297.3 481.5 298.0 482.1 299.6 482.7 300.0 483.3 299.5 483.9 302.0 484.5 302.3 485.1 300.1 485.7 299.3 486.3 302.5 486.9 300.6 487.5 300.1 488.1 299.0 488.7 300.2 489.3 298.1 489.9 302.5 490.5 299.7 491.1 299.3 491.7 297.6" stroke="#000" stroke-width="1.8" fill="none" stroke-linejoin="round"/>
<path d="M282.85 401.95v-4.1M282.85 296.05v4.1M286.40 401.95v-4.1M286.40 296.05v4.1M289.95 401.95v-4.1M289.95 296.05v4.1M293.50 401.95v-4.1M293.50 296.05v4.1M297.05 401.95v-4.1M297.05 296.05v4.1M300.60 401.95v-4.1M300.60 296.05v4.1M304.15 401.95v-4.1M304.15 296.05v4.1M307.70 401.95v-4.1M307.70 296.05v4.1M311.25 401.95v-4.1M311.25 296.05v4.1M314.80 401.95v-8M314.80 296.05v8M318.35 401.95v-4.1M318.35 296.05v4.1M321.90 401.95v-4.1M321.90 296.05v4.1M325.45 401.95v-4.1M325.45 296.05v4.1M329.00 401.95v-4.1M329.00 296.05v4.1M332.55 401.95v-4.1M332.55 296.05v4.1M336.10 401.95v-4.1M336.10 296.05v4.1M339.65 401.95v-4.1M339.65 296.05v4.1M343.20 401.95v-4.1M343.20 296.05v4.1M346.75 401.95v-4.1M346.75 296.05v4.1M350.30 401.95v-8M350.30 296.05v8M353.85 401.95v-4.1M353.85 296.05v4.1M357.40 401.95v-4.1M357.40 296.05v4.1M360.95 401.95v-4.1M360.95 296.05v4.1M364.50 401.95v-4.1M364.50 296.05v4.1M368.05 401.95v-4.1M368.05 296.05v4.1M371.60 401.95v-4.1M371.60 296.05v4.1M375.15 401.95v-4.1M375.15 296.05v4.1M378.70 401.95v-4.1M378.70 296.05v4.1M382.25 401.95v-4.1M382.25 296.05v4.1M385.80 401.95v-8M385.80 296.05v8M389.35 401.95v-4.1M389.35 296.05v4.1M392.90 401.95v-4.1M392.90 296.05v4.1M396.45 401.95v-4.1M396.45 296.05v4.1M400.00 401.95v-4.1M400.00 296.05v4.1M403.55 401.95v-4.1M403.55 296.05v4.1M407.10 401.95v-4.1M407.10 296.05v4.1M410.65 401.95v-4.1M410.65 296.05v4.1M414.20 401.95v-4.1M414.20 296.05v4.1M417.75 401.95v-4.1M417.75 296.05v4.1M421.30 401.95v-8M421.30 296.05v8M424.85 401.95v-4.1M424.85 296.05v4.1M428.40 401.95v-4.1M428.40 296.05v4.1M431.95 401.95v-4.1M431.95 296.05v4.1M435.50 401.95v-4.1M435.50 296.05v4.1M439.05 401.95v-4.1M439.05 296.05v4.1M442.60 401.95v-4.1M442.60 296.05v4.1M446.15 401.95v-4.1M446.15 296.05v4.1M449.70 401.95v-4.1M449.70 296.05v4.1M453.25 401.95v-4.1M453.25 296.05v4.1M456.80 401.95v-8M456.80 296.05v8M460.35 401.95v-4.1M460.35 296.05v4.1M463.90 401.95v-4.1M463.90 296.05v4.1M467.45 401.95v-4.1M467.45 296.05v4.1M471.00 401.95v-4.1M471.00 296.05v4.1M474.55 401.95v-4.1M474.55 296.05v4.1M478.10 401.95v-4.1M478.10 296.05v4.1M481.65 401.95v-4.1M481.65 296.05v4.1M485.20 401.95v-4.1M485.20 296.05v4.1M488.75 401.95v-4.1M488.75 296.05v4.1M279.30 396.66h4.1M492.30 396.66h-4.1M279.30 391.36h4.1M492.30 391.36h-4.1M279.30 386.07h4.1M492.30 386.07h-4.1M279.30 380.77h4.1M492.30 380.77h-4.1M279.30 375.48h8M492.30 375.48h-8M279.30 370.18h4.1M492.30 370.18h-4.1M279.30 364.89h4.1M492.30 364.89h-4.1M279.30 359.59h4.1M492.30 359.59h-4.1M279.30 354.30h4.1M492.30 354.30h-4.1M279.30 349.00h8M492.30 349.00h-8M279.30 343.71h4.1M492.30 343.71h-4.1M279.30 338.41h4.1M492.30 338.41h-4.1M279.30 333.12h4.1M492.30 333.12h-4.1M279.30 327.82h4.1M492.30 327.82h-4.1M279.30 322.53h8M492.30 322.53h-8M279.30 317.23h4.1M492.30 317.23h-4.1M279.30 311.94h4.1M492.30 311.94h-4.1M279.30 306.64h4.1M492.30 306.64h-4.1M279.30 301.35h4.1M492.30 301.35h-4.1" stroke="#111" stroke-width="1.1" fill="none"/>
<rect x="279.30" y="296.05" width="213.00" height="105.90" stroke="#111" stroke-width="1.7" fill="none"/>
<text x="59.2" y="46.10" font-size="15" text-anchor="end">1.0</text>
<text x="59.2" y="72.58" font-size="15" text-anchor="end">0.5</text>
<text x="59.2" y="99.05" font-size="15" text-anchor="end">0.0</text>
<text x="59.2" y="125.53" font-size="15" text-anchor="end">−0.5</text>
<text x="59.2" y="152.00" font-size="15" text-anchor="end">−1.0</text>
<text x="496.5" y="45.20" font-size="15">100</text>
<text x="496.5" y="71.67" font-size="15">75</text>
<text x="496.5" y="98.15" font-size="15">50</text>
<text x="496.5" y="124.63" font-size="15">25</text>
<text x="496.5" y="151.10" font-size="15">0</text>
<text x="97.50" y="160.40" font-size="15" text-anchor="middle">10</text>
<text x="133.00" y="160.40" font-size="15" text-anchor="middle">20</text>
<text x="168.50" y="160.40" font-size="15" text-anchor="middle">30</text>
<text x="204.00" y="160.40" font-size="15" text-anchor="middle">40</text>
<text x="239.50" y="160.40" font-size="15" text-anchor="middle">50</text>
<text x="314.50" y="160.40" font-size="15" text-anchor="middle">10</text>
<text x="350.00" y="160.40" font-size="15" text-anchor="middle">20</text>
<text x="385.50" y="160.40" font-size="15" text-anchor="middle">30</text>
<text x="421.00" y="160.40" font-size="15" text-anchor="middle">40</text>
<text x="456.50" y="160.40" font-size="15" text-anchor="middle">50</text>
<text x="59.2" y="174.10" font-size="15" text-anchor="end">1.0</text>
<text x="59.2" y="200.57" font-size="15" text-anchor="end">0.5</text>
<text x="59.2" y="227.05" font-size="15" text-anchor="end">0.0</text>
<text x="59.2" y="253.53" font-size="15" text-anchor="end">−0.5</text>
<text x="59.2" y="280.00" font-size="15" text-anchor="end">−1.0</text>
<text x="496.5" y="173.20" font-size="15">100</text>
<text x="496.5" y="199.68" font-size="15">75</text>
<text x="496.5" y="226.15" font-size="15">50</text>
<text x="496.5" y="252.63" font-size="15">25</text>
<text x="496.5" y="279.10" font-size="15">0</text>
<text x="97.50" y="288.40" font-size="15" text-anchor="middle">10</text>
<text x="133.00" y="288.40" font-size="15" text-anchor="middle">20</text>
<text x="168.50" y="288.40" font-size="15" text-anchor="middle">30</text>
<text x="204.00" y="288.40" font-size="15" text-anchor="middle">40</text>
<text x="239.50" y="288.40" font-size="15" text-anchor="middle">50</text>
<text x="314.50" y="288.40" font-size="15" text-anchor="middle">10</text>
<text x="350.00" y="288.40" font-size="15" text-anchor="middle">20</text>
<text x="385.50" y="288.40" font-size="15" text-anchor="middle">30</text>
<text x="421.00" y="288.40" font-size="15" text-anchor="middle">40</text>
<text x="456.50" y="288.40" font-size="15" text-anchor="middle">50</text>
<text x="59.2" y="301.90" font-size="15" text-anchor="end">1.0</text>
<text x="59.2" y="328.38" font-size="15" text-anchor="end">0.5</text>
<text x="59.2" y="354.85" font-size="15" text-anchor="end">0.0</text>
<text x="59.2" y="381.32" font-size="15" text-anchor="end">−0.5</text>
<text x="59.2" y="407.80" font-size="15" text-anchor="end">−1.0</text>
<text x="496.5" y="301.00" font-size="15">100</text>
<text x="496.5" y="327.48" font-size="15">75</text>
<text x="496.5" y="353.95" font-size="15">50</text>
<text x="496.5" y="380.43" font-size="15">25</text>
<text x="496.5" y="406.90" font-size="15">0</text>
<text x="97.50" y="416.20" font-size="15" text-anchor="middle">10</text>
<text x="133.00" y="416.20" font-size="15" text-anchor="middle">20</text>
<text x="168.50" y="416.20" font-size="15" text-anchor="middle">30</text>
<text x="204.00" y="416.20" font-size="15" text-anchor="middle">40</text>
<text x="239.50" y="416.20" font-size="15" text-anchor="middle">50</text>
<text x="314.50" y="416.20" font-size="15" text-anchor="middle">10</text>
<text x="350.00" y="416.20" font-size="15" text-anchor="middle">20</text>
<text x="385.50" y="416.20" font-size="15" text-anchor="middle">30</text>
<text x="421.00" y="416.20" font-size="15" text-anchor="middle">40</text>
<text x="456.50" y="416.20" font-size="15" text-anchor="middle">50</text>
<text x="168.50" y="434.9" font-size="15" text-anchor="middle">Time (minutes)</text>
<text x="385.50" y="434.9" font-size="15" text-anchor="middle">Time (minutes)</text>
<text transform="translate(21.8 221.3) rotate(-90)" font-size="15" text-anchor="middle">Positioning error in East North and Up (m)</text>
<text transform="translate(540.2 220.7) rotate(-90)" font-size="15" text-anchor="middle">Percentage of the positioning error within ±0.1 m (percent)</text>
<text x="270.3" y="55.3" font-size="14.4" text-anchor="end">East</text>
<text x="270.3" y="183" font-size="14.4" text-anchor="end">North</text>
<text x="270.3" y="310.0" font-size="14.4" text-anchor="end">Up</text>
</svg></body></html>
